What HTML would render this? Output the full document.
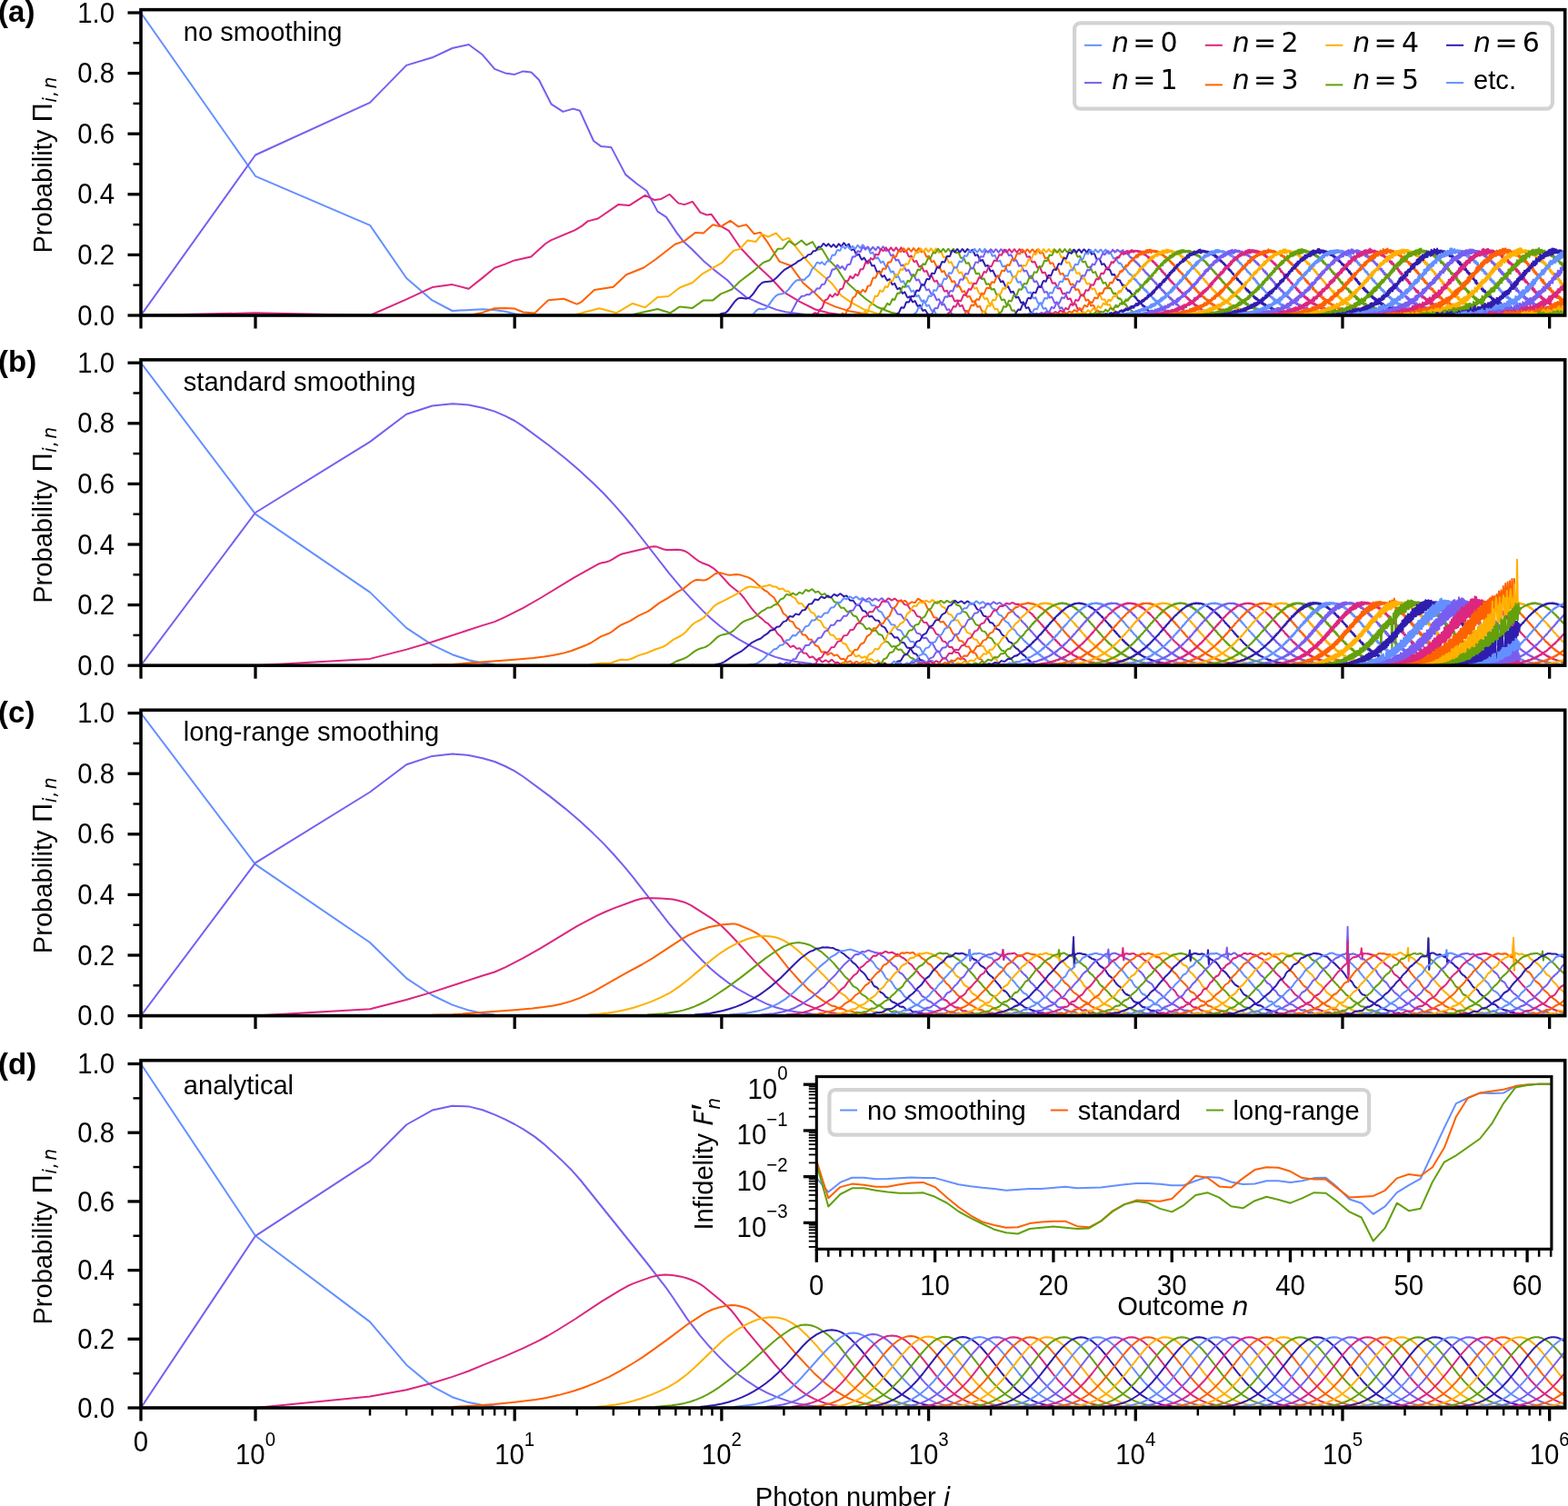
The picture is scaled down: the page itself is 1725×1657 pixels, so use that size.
<!DOCTYPE html>
<html><head><meta charset="utf-8"><title>Photon number probabilities</title>
<style>html,body{margin:0;padding:0;background:#fff;overflow:hidden}svg{display:block}</style>
</head><body>
<svg width="1725" height="1657" viewBox="0 0 1725 1657"><rect x="0" y="0" width="1725" height="1657" fill="#fff"/>
<defs>
<clipPath id="clip0"><rect x="155.0" y="10.67" width="1566.70" height="336.33"/></clipPath>
<clipPath id="clip1"><rect x="155.0" y="395.87" width="1566.70" height="336.33"/></clipPath>
<clipPath id="clip2"><rect x="155.0" y="781.27" width="1566.70" height="336.33"/></clipPath>
<clipPath id="clip3"><rect x="155.0" y="1166.71" width="1566.70" height="382.29"/></clipPath>
<clipPath id="clipi"><rect x="898.3" y="1184.6" width="808.60" height="189.70"/></clipPath>
</defs>
<g clip-path="url(#clip0)" fill="none" stroke-width="2.0" stroke-linejoin="round" stroke-linecap="butt">
<path d="M155.0 14.0l126 179.8 126 54 40.1 58.2 28.4 24.4 22.1 11.6 33.3-1.7 13.2 .7 11.6 1.7 10.5 2.6 9.4 1.7" stroke="#648FFF"/>
<path d="M155.0 347.0l126-176.5 126-57.6 40.1-41 28.4-8.6 22.1-10.3 18-4 15.3 11.3 13.2 15.6 11.6 4.5 10.5 1.5 9.4-3.5 8.6 1.1 .8 .5 8 8 13.6 26.7 12.8 8.2 11.2-3.3 7.2 2.1 15.2 33.3 8 5.9 11.2 1.2 .8 1 15.2 29 12.8 10.4 10.4 7.5 12 22.6 9.6 6.3 11.2 16.7 7.2 9.6 10.4 9.6 12 12.1 12 10.2 14.4 11.1 7.2 7.8 12.8 10.4 .8 .7 16.8 7.4 16 6.1 10.4 2.7 21.6 2.7" stroke="#785EF0"/>
<path d="M155.0 347.0l126-2.7 126 2.7 40.1-17.6 28.4-13.3 22.1-3 18 4.6 15.3-12.1 13.2-10.8 11.6-4.2 10.5-4.2 18-4 16-14.4 6.4-3.9 25.6-10.8 8-4.7 6.4-5.2 11.2-2.9 22.4-15.4 12 1 17.6-11.2 10.4 5.2 7.2-1.2 8.8-4.9 .8 .3 8.8 8.8 .8 .5 6.4 1.5 8.8-3.2 8.8 12 6.4 2.4 .8 .1 4.8-.6 8.8 12 10.4 6.1 12.8 18.9 16.8 17.7 17.6 16.5 13.6 14.7 17.6 10.4 16.8 8.4 14.4 3.8 12 1.8" stroke="#DC267F"/>
<path d="M515.6 347.0l15.3-3.1 13.2-4.6 11.6-.3 10.5 .6 9.4 3.9 12.6 1.1 14.4-13.9 .8-.4 16.8-1.6 14.4 5.9 .8-.2 4.8-2.6 13.6-12.7 20.8-3.4 14.4-13.4 19.2-7.8 13.6-9.5 20.8-16.2 10.4-3.7 12-9.2 8.8 .5 10.4-9.2 8.8 2.2 10.4-6.6 8.8 6.6 8.8-2.2 8.8 10.2 6.4-1.6 .8 .6 8 11 12 19.6 .8 .9 12 4.4 13.6 18.9 12 10.2 10.4 10.3 12.8 5.7 16.8 5.2 20 3.4" stroke="#FE6100"/>
<path d="M633.0 346.2l26.4-7 18.4 5 .8 0 16.8-10.1 .8-.1 12.8 4.1 .8 .1 13.6-11.1 12-1.1 12.8-9.8 13.6-5.2 10.4-9.3 22.4-12.9 12-12.6 .8-.6 6.4-1.5 8.8-9.7 8.8 1.6 6.4-7.9 .8-.5 6.4 3 8.8-4.1 7.2 7.9 6.4-2.5 .8 .4 4.8 6.4 10.4 12.9 10.4 12 20.8 17.6 10.4 13.5 .8 .7 9.6 6.7 14.4 8.1 15.2 4.8 8 1.1" stroke="#FFB000"/>
<path d="M696.2 346.1l27.2-6.1 13.6 4.2 .8-.1 9.6-6.5 .8-.2 13.6 1.5 12-8.5 10.4 0 8.8-7 12-4.9 8.8-8.7 13.6-10.4 12-10.2 .8-.5 6.4-2.5 .8-.7 8-11.3 .8-.5 4.8-.1 6.4-8 .8-.3 6.4 4.3 .8-.3 6.4-4.8 4.8 4.8 .8 .2 6.4-3.4 4.8 7.8 .8 .8 4.8-.9 7.2 11.7 8.8 8.9 8.8 13.9 11.2 10.2 12 10.3 12.8 8.9 15.2 6 10.4 2.3" stroke="#63A00C"/>
<path d="M790.6 346.3l2.4-1 4.8-1.2 1.6-.8 2.4-2.6 6.4-8.8 2.4-2.4 1.6-1.1 1.6-.5 1.6-.1 4.8 .6 1.6 0 1.6-.4 1.6-.9 3.2-3.3 6.4-9.1 3.2-3.1 1.6-.9 1.6-.5 7.2-.6 3.2-1.5 3.2-2.8 5.6-5.9 3.2-2.8 12-6.9 2.4-2.2 3.2-1.4 2.4-2.2 3.2-.8 2.4-2.7 3.2-.8 2.4-3.3 2.4-.3 .8-.4 2.4-3.9 .8-.1 1.6 .2 .8-.3 2.4-3.5 .8 .4 1.6 1.8 .8 .5 2.4-2.4 2.4 2.9 .8 .5 2.4-2.8 2.4 2.8 .8 .3 2.4-3.6 .8 .5 1.6 2 .8 .2 2.4-3.8 .8 .6 1.6 2.2 .8 .5 2.4-2.1 2.4 5.4 .8 1.3 2.4-1 2.4 5.4 .8 1.2 2.4-1.1 2.4 5 .8 1 2.4-2.1 2.4 4 .8 .8 2.4-2.1 3.2 6.3 2.4-.6 2.4 6 .8 1.4 2.4-.9 2.4 5.2 .8 1 2.4-1.6 2.4 4.6 .8 1 2.4-1.6 2.4 4.9 .8 1.1 2.4-1.3 2.4 5.2 .8 1.1 2.4-1.3 2.4 5 .8 1.1 2.4-1.5 2.4 5.1 .8 1 2.4-1.3 2.4 5.1 .8 1.1 2.4-1.4 2.4 5 .8 1.1 2.4-1.4 2.4 5.1 .8 1.1 1.6-.8 .8-.1 2.4 3.8 .8 .7 1.6 .6" stroke="#2F1DAF"/>
<path d="M828.2 346.1l4-4.5 1.6-1.2 1.6-.6 3.2 .5 1.6 0 2.4-1.1 2.4-2.5 5.6-7.9 2.4-2.7 1.6-1.2 1.6-.8 5.6-1.2 2.4-1.2 3.2-3.1 4.8-6.3 4-3.8 1.6-.4 1.6 .1 2.4-.7 3.2 .4 2.4-2.7 2.4-1.8 .8-1 2.4-5.6 .8-1.1 2.4-2.3 2.4-4.5 .8-.2 2.4 1.4 2.4-1.7 2.4 2.5 .8 .4 2.4-3.8 .8-.2 1.6 .2 .8-.5 2.4-6 .8-.5 1.6 .3 .8-.3 2.4-5.4 .8-.2 1.6 .9 .8 0 2.4-4.9 .8 .2 2.4 2.4 2.4-3 .8 .7 1.6 2.5 .8 .6 2.4-3.4 .8 .5 1.6 2 .8 .4 2.4-3.9 .8 .5 1.6 2 .8 .5 2.4-3.5 .8 .6 2.4 3.4 2.4-1.5 3.2 6.8 2.4-.9 3.2 6.7 2.4-1.3 3.2 5.9 2.4-1.6 3.2 6.1 2.4-1 3.2 6.9 2.4-1 3.2 6.7 2.4-1.2 3.2 6.4 2.4-1.2 3.2 6.4 2.4-1.1 3.2 6.4 2.4-1.2 3.2 6.5 2.4-1.2 3.2 6.5 2.4-1.2 3.2 6.5 2.4-1.2 3.2 6.5 .8-.5 1.6-.1 2.4 3.8 1.6 1" stroke="#648FFF"/>
<path d="M868.2 346.3l1.6-1.4 7.2-13.6 4.8-5.3 .8-.3 2.4-.1 2.4-1.6 3.2 .2 2.4-2.7 3.2-.4 2.4-3.6 .8-.2 1.6 .2 .8-.2 2.4-4.2 .8-.3 1.6 0 .8-.6 2.4-6 .8-.7 1.6-.8 .8-.9 2.4-6.9 .8-.6 1.6 .1 .8-.3 2.4-4.5 .8 .5 2.4 3.2 2.4-2.3 2.4 3.4 .8 .4 2.4-5.3 .8-.4 1.6-.1 .8-.8 2.4-7.3 .8-.6 1.6 .2 .8-.4 2.4-5.8 .8-.1 1.6 1 .8-.1 2.4-5.2 .8 .2 1.6 1.9 .8 .6 2.4-3.1 .8 .7 1.6 2.5 .8 .5 2.4-3.4 .8 .6 1.6 2.2 .8 .5 2.4-3.6 .8 .6 1.6 2.2 .8 .5 2.4-3.5 .8 .8 2.4 4 2.4-1.2 3.2 6.5 2.4-1.2 3.2 6.5 2.4-1 3.2 6.7 2.4-.9 3.2 6.5 2.4-1.2 3.2 6.4 2.4-1.2 3.2 6.6 2.4-1.1 3.2 6.5 2.4-1.1 3.2 6.5 2.4-1.1 3.2 6.5 2.4-1.1 3.2 6.5 2.4-1.1 3.2 6.5 2.4-1.1 3.2 6.5 2.4-.8 2.4 4.3 .8 .8 2.4 1.1" stroke="#785EF0"/>
<path d="M893.8 346.1l2.4-1.8 .8 0 1.6 .6 .8 0 .8-.9 1.6-3.3 2.4-1.8 .8-1.4 2.4-6.9 .8-.6 1.6-.5 .8-.7 2.4-4.6 2.4 2.2 .8 .1 2.4-3.5 2.4 2 .8-.5 2.4-6.2 2.4-.6 .8-1.2 2.4-7.3 .8-.1 1.6 .3 .8-.6 2.4-5 2.4 2.4 .8-.1 2.4-4.4 2.4 1.5 .8-.6 2.4-6.3 2.4 0 .8-1 2.4-6.4 2.4 .9 .8-.5 2.4-5.2 2.4 1.5 .8-.5 2.4-5.5 2.4 1 .8-.6 2.4-5.8 .8 .3 1.6 1.4 .8-.1 2.4-3.5 2.4 3.3 .8 .1 2.4-3.4 2.4 3.4 .8 .1 2.4-3.4 2.4 3.3 .8 .1 2.4-3.4 2.4 4.1 .8 .7 2.4-1.1 2.4 5.6 .8 .9 2.4-1.1 2.4 5.7 .8 .9 2.4-1.1 2.4 5.6 .8 .9 2.4-1.1 2.4 5.6 .8 .9 2.4-1 2.4 5.6 .8 .9 2.4-1.1 2.4 5.6 .8 .9 2.4-1.1 2.4 5.6 .8 .9 2.4-1.1 2.4 5.7 .8 .9 2.4-1.1 2.4 5.6 .8 .9 2.4-1.1 2.4 5.6 .8 .9 2.4-1.1 2.4 5.7 .8 .9 2.4-1.1 2.4 5.6 .8 .8 .8-.3 1.6 .2 1.6 2.7 1.6 1.4" stroke="#DC267F"/>
<path d="M925.0 346.2l1.6-1.4 .8 0 2.4 2.2 2.4-6.3 .8-.9 1.6-1.1 .8-1.2 2.4-9 .8-1.2 2.4-1.4 2.4-5.9 .8 .1 1.6 1.8 .8 .5 2.4-3.6 .8 .4 1.6 1.7 .8 0 2.4-5.9 .8-.5 1.6-.2 .8-.7 2.4-7.3 .8-.7 1.6 .2 .8-.4 2.4-5.7 .8 0 1.6 1.1 .8 0 2.4-5.3 .8-.1 1.6 .5 .8-.4 2.4-6.6 .8-.5 1.6 .1 .8-.4 2.4-6.1 .8-.2 1.6 .7 .8-.2 2.4-5.8 .8-.3 1.6 .8 .8 .1 2.4-3.9 .8 .6 1.6 2.3 .8 .5 2.4-3.4 .8 .5 1.6 2.3 .8 .6 2.4-3.5 .8 .6 1.6 2.3 .8 .6 2.4-3.5 .8 .6 2.4 3.7 2.4-1.3 3.2 6.6 2.4-1.1 3.2 6.6 2.4-1.1 3.2 6.6 2.4-1.1 3.2 6.6 2.4-1.1 3.2 6.6 2.4-1 3.2 6.5 2.4-1 3.2 6.5 2.4-1 3.2 6.6 2.4-1.1 3.2 6.6 2.4-1.1 3.2 6.6 2.4-1.1 3.2 6.6 2.4-1 2.4 5.1 .8 1.1 .8-.2 1.6 .4 2.4 3.1" stroke="#FE6100"/>
<path d="M946.6 346.1l2.4-.7 2.4-2.6 1.6 1.1 .8 .3 .8-.9 2.4-7.3 2.4-1.2 .8-1.4 2.4-7.6 .8-.1 1.6 .2 .8-.8 2.4-5.6 2.4 1.5 .8-.5 2.4-5.4 2.4 .9 .8-.8 2.4-6.4 2.4 .3 .8-.9 2.4-6.3 2.4 .7 .8-.7 2.4-5.8 2.4 .8 .8-.7 2.4-6 2.4 .5 .8-.8 2.4-6.1 2.4 .6 .8-.8 2.4-6.1 2.4 .7 .8-.5 2.4-4.3 2.4 3.3 .8 .1 2.4-3.4 2.4 3.3 .8 .1 2.4-3.4 2.4 3.3 .8 .1 2.4-3.4 2.4 3.9 .8 .6 2.4-1.1 2.4 5.7 .8 .9 2.4-.9 2.4 5.7 .8 .9 2.4-.9 2.4 5.7 .8 .9 2.4-1 2.4 5.8 .8 .9 2.4-1 2.4 5.8 .8 .9 2.4-1 2.4 5.8 .8 .9 2.4-1 2.4 5.8 .8 .9 2.4-1 2.4 5.8 .8 .9 2.4-1 2.4 5.8 .8 .9 2.4-1 2.4 5.7 .8 1 2.4-1 2.4 5.7 .8 1 2.4-.7 2.4 4.7 3.2 2" stroke="#FFB000"/>
<path d="M966.6 346.2l1.6-1.5 2.4-5.2 .8-.3 .8 0 .8 .4 3.2-5.9 2.4 1.7 .8-1.2 2.4-5.2 2.4 .8 3.2-7.4 2.4 .3 3.2-7.5 2.4 .6 3.2-7 2.4 .9 3.2-6.9 2.4 .8 3.2-7.1 2.4 .8 3.2-7 2.4 .7 3.2-7 2.4 .7 3.2-7 2.4 .9 2.4-4 .8-.8 2.4 3.4 .8-.4 1.6-2.3 .8-.7 2.4 3.4 .8-.4 1.6-2.3 .8-.7 2.4 3.4 .8-.4 1.6-2.3 .8-.7 2.4 4.3 .8 .2 1.6-.6 .8 .1 2.4 5.9 .8 .4 1.6-.7 .8 .1 2.4 5.9 .8 .4 1.6-.6 .8 .1 2.4 5.9 .8 .4 1.6-.6 .8 .1 2.4 5.9 .8 .4 1.6-.7 .8 .1 2.4 5.9 .8 .4 1.6-.6 .8 .1 2.4 5.9 .8 .4 1.6-.6 .8 .1 2.4 5.9 .8 .4 1.6-.7 .8 .1 2.4 5.9 .8 .4 1.6-.6 .8 .1 2.4 5.9 .8 .4 1.6-.7 .8 .2 2.4 5.9 .8 .3 1.6-.6 .8 .1 2.4 5.9 .8 .4 1.6-.3 .8 .5 1.6 2.9 .8 1 .8 .4" stroke="#63A00C"/>
<path d="M985.8 346.1l3.2-2.2 2.4-5.4 .8-.3 1.6 .6 .8-.3 2.4-6.1 .8-.2 1.6 .4 .8-.4 2.4-6.1 .8-.3 1.6 .5 .8-.4 2.4-6.2 .8-.2 1.6 .5 .8-.4 2.4-6.2 .8-.2 1.6 .5 .8-.4 2.4-6.2 .8-.2 1.6 .5 .8-.4 2.4-6.2 .8-.2 1.6 .5 .8-.4 2.4-6.2 .8-.2 1.6 .5 .8-.4 2.4-6.2 .8-.2 1.6 .5 .8-.4 2.4-6.2 .8-.2 1.6 .5 .8-.4 2.4-6.1 .8-.1 1.6 1.5 .8 .3 2.4-3.4 .8 .6 1.6 2.3 .8 .5 2.4-3.4 .8 .6 1.6 2.3 .8 .5 2.4-3.4 .8 .6 1.6 2.3 .8 .5 2.4-2.6 3.2 6.4 2.4-1 3.2 6.8 2.4-1 3.2 6.8 2.4-1 3.2 6.7 2.4-.9 3.2 6.7 2.4-.9 3.2 6.7 2.4-.9 3.2 6.7 2.4-.9 3.2 6.7 2.4-.9 3.2 6.7 2.4-.9 3.2 6.7 2.4-1 3.2 6.8 2.4-1 2.4 5.1 .8 .9 1.6 .5 1.6 1.5" stroke="#2F1DAF"/>
<path d="M1004.2 346.5l4-2.9 2.4-5.6 2.4 .7 .8-.9 2.4-6.1 2.4 .7 .8-.9 2.4-6.1 2.4 .7 .8-.9 2.4-6.1 2.4 .7 .8-1 2.4-6 2.4 .7 .8-1 2.4-6 2.4 .7 .8-1 2.4-6.1 2.4 .8 .8-1 2.4-6.1 2.4 .8 .8-1 2.4-6.1 2.4 .7 .8-.9 2.4-6.1 2.4 .7 .8-.9 2.4-5.9 2.4 2.3 .8-.1 2.4-3.4 2.4 3.5 .8-.1 2.4-3.4 2.4 3.5 .8-.1 2.4-3.4 2.4 3.5 .8 0 2.4-2.2 2.4 5.8 .8 .8 2.4-.9 2.4 5.9 .8 .8 2.4-.9 2.4 5.9 .8 .8 2.4-.9 2.4 5.9 .8 .8 2.4-.9 2.4 5.9 .8 .8 2.4-.9 2.4 5.9 .8 .8 2.4-.9 2.4 5.9 .8 .8 2.4-.9 2.4 5.9 .8 .8 2.4-.9 2.4 5.9 .8 .8 2.4-.9 2.4 5.9 .8 .8 2.4-.9 2.4 5.9 .8 .8 2.4-.8 2.4 5.1 3.2 2" stroke="#648FFF"/>
<path d="M1022.6 346.5l3.2-1.8 2.4-5 .8-.8 1.6 .4 .8 0 2.4-6.1 .8-.6 1.6 .4 .8 0 2.4-6.1 .8-.7 1.6 .5 .8 0 2.4-6.1 .8-.7 1.6 .5 .8 0 2.4-6.1 .8-.7 1.6 .5 .8 0 2.4-6.2 .8-.6 1.6 .5 .8 0 2.4-6.2 .8-.6 1.6 .5 .8 0 2.4-6.2 .8-.6 1.6 .5 .8-.1 2.4-6.1 .8-.6 1.6 .5 .8-.1 2.4-6.1 .8-.6 1.6 .5 .8-.1 2.4-6.1 .8-.5 2.4 1.9 2.4-3.5 .8 .3 2.4 3.2 2.4-3.5 .8 .3 2.4 3.2 2.4-3.5 .8 .3 2.4 3.2 2.4-2.9 .8 .8 2.4 5.5 2.4-.9 .8 1.1 2.4 5.6 2.4-.9 .8 1.1 2.4 5.6 2.4-.9 .8 1.1 2.4 5.6 2.4-.9 .8 1.1 2.4 5.6 2.4-.9 .8 1.1 2.4 5.6 2.4-.9 .8 1.1 2.4 5.6 2.4-.9 .8 1.1 2.4 5.6 2.4-.9 .8 1.1 2.4 5.6 2.4-.9 .8 1.1 2.4 5.6 2.4-.9 .8 1.1 2.4 5.6 2.4-.9 3.2 5.9 1.6 .5 1.6 1.3" stroke="#785EF0"/>
<path d="M1041.8 346.2l2.4-2.5 1.6-.3 3.2-6.5 2.4 .7 3.2-7 2.4 .7 3.2-7.1 2.4 .8 3.2-7.1 2.4 .8 3.2-7.1 2.4 .7 3.2-7 2.4 .7 3.2-7 2.4 .7 3.2-7 2.4 .7 3.2-7 2.4 .7 3.2-7 2.4 .7 2.4-5.3 .8-.9 2.4 3.1 .8-.7 1.6-2.3 .8-.5 2.4 3.5 .8-.7 1.6-2.3 .8-.5 2.4 3.5 .8-.7 1.6-2.3 .8-.5 2.4 3.6 2.4-1.4 .8 .3 2.4 5.9 .8 .2 1.6-.6 .8 .3 2.4 5.9 .8 .2 1.6-.6 .8 .3 2.4 5.9 .8 .2 1.6-.6 .8 .3 2.4 5.9 .8 .2 1.6-.6 .8 .3 2.4 5.9 .8 .2 1.6-.6 .8 .3 2.4 5.9 .8 .2 1.6-.6 .8 .3 2.4 5.9 .8 .2 1.6-.6 .8 .3 2.4 5.9 .8 .2 1.6-.6 .8 .3 2.4 5.9 .8 .2 1.6-.7 .8 .4 2.4 5.9 .8 .2 1.6-.7 .8 .4 2.4 5.9 .8 .2 1.6-.5 .8 .6 2.4 4.4 1.6 .8" stroke="#DC267F"/>
<path d="M1060.2 346.5l1.6-1.6 1.6-2.5 .8-.3 1.6 .4 2.4-6.1 .8-.9 2.4 .7 2.4-6.1 .8-.9 2.4 .7 2.4-6.1 .8-.9 2.4 .7 2.4-6.1 .8-.9 2.4 .7 2.4-6.2 .8-.9 2.4 .8 2.4-6.2 .8-.9 2.4 .8 2.4-6.2 .8-.9 2.4 .7 2.4-6.1 .8-.9 2.4 .7 2.4-6.1 .8-.9 2.4 .7 2.4-6.1 .8-.9 2.4 .8 2.4-4.9 .8-.1 2.4 3.4 2.4-3.4 .8 0 2.4 3.4 2.4-3.4 .8 0 2.4 3.4 2.4-3.4 .8 0 2.4 4.3 2.4-1.2 .8 .9 2.4 5.9 2.4-1 .8 .8 2.4 6 2.4-1 .8 .8 2.4 6 2.4-1 .8 .8 2.4 6 2.4-1 .8 .8 2.4 5.9 2.4-.9 .8 .8 2.4 5.9 2.4-.9 .8 .8 2.4 5.9 2.4-.9 .8 .8 2.4 5.9 2.4-.9 .8 .8 2.4 5.9 2.4-.9 .8 .8 2.4 5.9 2.4-.8 .8 .7 2.4 5.9 .8-.4 1.6-.1 2.4 3.8 .8 .6" stroke="#FE6100"/>
<path d="M1078.6 346.6l1.6-1.7 .8-1.4 1.6-.8 .8 .1 .8-.8 2.4-5.9 2.4 .7 .8-1.1 2.4-5.9 2.4 .7 .8-1.1 2.4-5.9 2.4 .7 .8-1.1 2.4-6 2.4 .8 .8-1.1 2.4-6 2.4 .8 .8-1.1 2.4-6 2.4 .7 .8-1 2.4-6 2.4 .7 .8-1 2.4-6 2.4 .7 .8-1 2.4-6 2.4 .7 .8-1 2.4-6 2.4 .7 .8-1 2.4-4.9 2.4 3.3 .8-.1 2.4-3.3 2.4 3.4 .8-.1 2.4-3.3 2.4 3.4 .8-.1 2.4-3.3 2.4 3.8 .8 .2 1.6-.9 .8-.1 2.4 5.9 .8 .6 2.4-.7 2.4 5.9 .8 .6 2.4-.7 2.4 5.9 .8 .6 2.4-.7 2.4 5.9 .8 .6 2.4-.7 2.4 5.9 .8 .6 2.4-.7 2.4 5.9 .8 .6 2.4-.8 2.4 6 .8 .6 1.6-.7 .8 0 2.4 5.8 .8 .8 .8-.5 1.6-.4 2.4 6 1.6 .5 .8-.5 .8 .3 1.6 3.6 1.6 2.5 .8-.5 .8 .3 .8-.4 2.4 5.6 1.6 .8 .8-.3 1.6 1.6 .8 1.9 1.6 1.4" stroke="#FFB000"/>
<path d="M1097.0 346.6l2.4-2.5 1.6-.5 .8-.6 2.4-5.9 2.4 .6 .8-.7 2.4-6.2 2.4 .6 .8-.7 2.4-6.2 2.4 .6 .8-.8 2.4-6.1 2.4 .6 .8-.8 2.4-6.1 2.4 .6 .8-.8 2.4-6.1 2.4 .6 .8-.8 2.4-6.1 2.4 .6 .8-.8 2.4-6.1 2.4 .6 .8-.8 2.4-6.1 2.4 .5 .8-.7 2.4-6.1 2.4 .5 .8-.7 2.4-5.6 .8 .6 1.6 2.1 .8 .1 2.4-3.4 2.4 3.3 .8 .1 2.4-3.4 2.4 3.3 .8 .1 2.4-3.4 2.4 3.3 .8 .4 2.4-1.7 2.4 5.7 .8 1 2.4-.9 2.4 5.7 .8 1 2.4-.9 2.4 5.7 .8 1 2.4-.9 2.4 5.7 .8 1 2.4-1 2.4 5.8 .8 .8 2.4-.5 3.2 6.5 .8-.5 .8 .1 .8-.4 2.4 5.5 1.6 1 .8-.6 .8 .4 .8 1.1 .8 2.3 1.6 2.6 .8-.7 .8 .7 .8-.5 2.4 5.3 .8 .1 .8 .9 .8-.7 .8 1.2 .8 .5 .8 2.4 .8 .4 .8 1.6 .8-.3 .8 1 .8-.5 .8 2.4 .8 .1 .8 2.1 .8-.2 .8 1.5 .8-.4 .8 1.5 .8 .1 .8 2.1 .8 0 .8 1.6 .8 .1 .8 .9" stroke="#63A00C"/>
<path d="M1115.4 346.1l1.6-.5 3.2-5.2 2.4 .5 2.4-6 .8-.9 2.4 .8 2.4-6.1 .8-.9 2.4 .8 2.4-6.1 .8-.9 2.4 .7 2.4-6.1 .8-.9 2.4 .8 2.4-6.2 .8-.9 2.4 .8 2.4-6.2 .8-.9 2.4 .8 2.4-6.2 .8-.9 2.4 .7 2.4-6.1 .8-.9 2.4 .8 2.4-6.1 .8-.9 2.4 .7 2.4-6.1 .8-.8 2.4 1.2 2.4-4.2 .8 0 2.4 3.3 2.4-3.4 .8 0 2.4 3.3 2.4-3.4 .8 0 2.4 3.4 2.4-3.3 .8 .2 2.4 5 2.4-1.1 .8 .9 2.4 5.7 2.4-.7 .8 .6 2.4 5.8 2.4-.8 1.6 2.6 1.6 3.6 .8 .2 .8-.5 1.6 .8 2.4 5.6 .8-.5 .8 .4 .8-.5 1.6 2.4 .8 2.2 .8 1 .8 .7 .8-.4 .8 .7 .8 .1 .8 2.3 .8 .7 .8 2.3 .8-.5 .8 1 .8-.5 .8 1.6 .8 .7 .8 1.9 .8 .5 .8 1.5 .8-.9 .8 1.7 .8-.5 .8 2.3 .8 .2 .8 2.5 .8-1.1 .8 1.8 .8-.7 .8 2.4 .8-.5 .8 2.5 .8-.2 .8 1.9 .8-.8 .8 2.1 .8-.3 .8 2 .8-.3 .8 2.4 .8-.7 .8 1.9 .8-.8 .8 2.5 .8-.5 .8 1.9 .8-.6 .8 2.4 .8-.5 .8 2.3 .8-.6 .8 1.5 .8-.1 .8 1.1" stroke="#2F1DAF"/>
<path d="M1120.2 346.1l1.6-.2 2.4 .3 2.4-.7 3.2 .5 2.4-1 3.2-.2 2.4-4.5 .8-.6 1.6 .5 .8 0 2.4-5.9 .8-.5 1.6 .7 .8-.1 2.4-6 .8-.4 1.6 .5 .8-.1 2.4-6 .8-.5 1.6 .6 .8-.1 2.4-6.1 .8-.5 1.6 .5 .8-.1 2.4-6.1 .8-.5 1.6 .4 .8-.1 2.4-6.1 .8-.5 1.6 .4 .8-.1 2.4-6.1 .8-.5 1.6 .5 .8-.2 2.4-6.1 .8-.5 1.6 .5 .8-.1 2.4-6 .8-.5 1.6 .5 .8-.1 2.4-6 .8-.4 2.4 .8 2.4-4.3 .8 .2 2.4 2.9 2.4-3.7 1.6 1.4 .8 1.3 .8 .5 2.4-3 .8 0 .8 1.3 1.6 1.8 2.4-3.2 1.6 1.7 .8 1.9 .8 .7 .8 .3 .8-.6 1.6 .9 .8 2.1 .8 1 .8 1.9 .8-.6 .8 .5 .8-.4 .8 1.6 .8 .9 .8 2 1.6 1.5 .8-.7 .8 1.1 .8 .3 .8 2.2 .8 .7 .8 2.1 .8-.6 .8 1.2 .8-.8 .8 2 .8 .5 .8 1.9 .8 .3 .8 1.4 .8-.4 .8 1.4 .8 .1 .8 2 .8 .4 .8 2.1 .8-.8 .8 2 .8-.8 .8 2.3 .8-.1 .8 2.1 .8-.2 .8 2.1 .8-1.1 .8 2.4 .8-.3 .8 2.3 .8-.9 .8 2.8 .8-.9 .8 2.4 .8-1.1 .8 2.3 .8-.5 .8 2.4 .8-.6 .8 2 .8-.5 .8 2.1 .8-.2 .8 2.2 .8-.8 .8 2.4 .8-1 .8 2.7 .8-1.2 .8 2.3 .8-.2 .8 2.2 .8-.9 .8 2.5 .8-1.1 .8 2.3 .8-.8 .8 2.7 .8-.9 .8 2.3 .8-1.2 .8 2.3 .8-.5 .8 2.6 .8-1.2 .8 2 .8-.5 .8 1.2 .8-.6 .8 .9 .8-.9 .8 1 .8-.7 .8 .7 .8-.6 .8 .6 .8-.6 .8 .7 .8-.5 .8 .6" stroke="#648FFF"/>
<path d="M1128.2 346.1l.8-.2 2.4 .3 3.2-.8 2.4 .5 3.2-1.1 2.4 .7 .8-.2 2.4-1.4 2.4 1 .8-.3 2.4-1.9 2.4 .8 .8-.7 2.4-5 2.4 1.3 .8-1.1 2.4-5.4 2.4 1.2 .8-1.1 2.4-5.5 2.4 1 .8-1.1 2.4-5.6 2.4 .8 .8-1.1 2.4-5.7 2.4 .8 .8-1.2 2.4-5.8 2.4 .8 .8-1.2 2.4-5.8 2.4 .7 .8-1.2 2.4-5.8 2.4 .7 .8-1.2 2.4-5.8 2.4 .9 3.2-6.7 .8 0 .8 .6 .8-.1 .8-.7 2.4-5.7 .8 .9 .8-.5 .8 1.1 1.6-2.1 .8-1.9 1.6 0 .8 1.5 1.6 .3 .8-1.7 .8 0 .8-1.8 .8 1.6 .8-.2 .8 1.7 .8-1.3 .8 .2 .8-1.9 .8 .7 .8 .1 .8 1.3 .8-.2 .8 .8 .8-1.3 .8 .1 .8-1.2 .8 2 .8 .1 .8 1.9 .8-.8 .8 1.1 .8-.6 .8 1.5 .8-.1 .8 2.4 .8-.1 .8 1.5 .8-.6 .8 1.5 .8-.7 .8 2.6 .8-.5 .8 2.2 .8-.5 .8 1.9 .8-.4 .8 2 .8-.6 .8 2.4 .8-.2 .8 1.7 .8-.6 .8 2.5 .8-1 .8 2.5 .8-.2 .8 2.2 .8-.3 .8 1.8 .8-.5 .8 2.2 .8-.3 .8 2.6 .8-1 .8 2.6 .8-.8 .8 2.4 .8-.5 .8 2.1 .8-.6 .8 2.7 .8-1.1 .8 2.6 .8-.5 .8 1.9 .8-.1 .8 2 .8-.4 .8 2.2 .8-.5 .8 2.1 .8-.9 .8 2.8 .8-.9 .8 2.7 .8-1 .8 2.1 .8-.5 .8 2.1 .8-.5 .8 2.3 .8-1 .8 2.4 .8-1 .8 2.6 .8-1.1 .8 2.8 .8-.7 .8 2.2 .8-1.1 .8 2 .8-.6 .8 2.7 .8-1.1 .8 2.1 .8-1.2 .8 2.4 .8-.9 .8 2.7 .8-.9 .8 2.2 .8-1.4 .8 2.5 .8-1.5 .8 1.7 .8-1.4 .8 1.9 .8-1.5 .8 1.6 .8-1.2 .8 1.2 .8-1.1 .8 1.1 .8-.9 .8 1.2 .8-.9 .8 1 .8-.7 .8 .8 .8-.6 .8 .7 .8-.4 .8 .5 .8-.4 .8 .7 .8-.6 .8 .7 .8-.5 .8 .5" stroke="#785EF0"/>
<path d="M1142.6 346.2l1.6-.5 3.2 .3 2.4-.9 3.2 .5 2.4-1.4 3.2 .8 2.4-1.9 2.4 1 .8 .1 2.4-2.7 2.4 1.6 .8 0 2.4-4.1 .8 .3 1.6 1 .8-.3 2.4-5.4 2.4 1.2 .8-.4 2.4-5.5 2.4 1 .8-.5 2.4-5.7 2.4 .8 .8-.5 2.4-5.9 2.4 .7 .8-.6 2.4-6 1.6 .2 .8 .4 .8-.8 2.4-5.8 .8-.3 .8 .5 .8 0 .8-.4 2.4-6.3 .8 .3 .8-.4 .8 .8 1.6-2.7 .8-2.4 1.6-2 .8 .7 .8-.8 .8 .5 .8-2.9 .8-.7 .8-2.8 .8 1 .8-1.1 .8 .9 .8-1.7 .8-.1 .8-2.8 .8-.4 .8-1.4 .8 1.4 .8-1.7 .8 .8 .8-2.6 .8-.2 .8-2.6 .8 1.3 .8-1.2 .8 2.2 .8-1.8 .8 .9 .8-2.7 .8 .7 .8-1.4 .8 2.6 .8-2 .8 2.1 .8-2.7 .8 1.5 .8-2.3 .8 2.3 .8-1.7 .8 1.9 .8-1.7 .8 .9 .8-1 .8 .9 .8-.9 .8 1.5 .8-1.1 .8 1.5 .8-1.3 .8 1.6 .8-.8 .8 1.6 .8-.4 .8 2.1 .8-1.1 .8 1.8 .8-.7 .8 1.9 .8-.4 .8 2.2 .8-1.3 .8 2.6 .8-.9 .8 2 .8-.3 .8 2.1 .8-1.1 .8 2.6 .8-1 .8 2.7 .8-1 .8 2.5 .8-.7 .8 2.7 .8-.7 .8 2.1 .8-.7 .8 3 .8-1.1 .8 2.5 .8-.5 .8 2.2 .8-.7 .8 2.5 .8-.6 .8 2.8 .8-1.2 .8 2.9 .8-.8 .8 2.7 .8-.8 .8 2.3 .8-.8 .8 2.3 .8-.3 .8 2.2 .8-.9 .8 2.5 .8-.5 .8 2.4 .8-.6 .8 2.5 .8-.9 .8 2.5 .8-.7 .8 2.1 .8-.6 .8 2.7 .8-1.2 .8 2.6 .8-.8 .8 1.9 .8-.5 .8 2.4 .8-1.1 .8 2.3 .8-.8 .8 2.1 .8-.8 .8 2.5 .8-1.1 .8 2.3 .8-.7 .8 2.2 .8-.9 .8 2 .8-1.1 .8 2.8 .8-1.2 .8 2.5 .8-1.5 .8 2 .8-1.1 .8 2.7 .8-1.3 .8 1.7 .8-.8 .8 1.5 .8-1.1 .8 1.6 .8-1.2 .8 1.7 .8-1.5 .8 1.4 .8-1 .8 1.6 .8-1.2 .8 1.5 .8-1.3 .8 1.3 .8-1.1 .8 1.2 .8-.7 .8 .8 .8-.5 .8 1 .8-.9 .8 .7 .8-.6 .8 .9 .8-.7 .8 .7 .8-.4 .8 .6 .8-.4 .8 .5 .8-.4 .8 .4" stroke="#DC267F"/>
<path d="M1157.8 346.1l1.6-.4 3.2 .3 2.4-1 3.2 .5 2.4-1.4 3.2 .8 2.4-2.1 3.2 1.2 2.4-2.9 .8 .2 1.6 1.3 .8 .2 2.4-3.9 .8 .3 1.6 1.6 .8 .1 2.4-4.9 .8 .1 1.6 1.2 .8-.1 2.4-5.2 1.6 .5 .8 .7 .8-.3 2.4-5.2 .8-.2 .8 .6 1.6 .2 2.4-5.9 .8 .3 .8-.1 .8 .7 1.6-2.2 .8-2.5 .8-1.2 .8-.7 .8 .8 .8-.5 .8 0 2.4-5.8 .8 .2 .8-.9 .8 1.1 .8-1.7 .8-.5 .8-2.7 1.6-2.5 .8 1.4 .8-1.4 .8 .3 .8-2.6 .8-.6 .8-2.9 .8 1 .8-1.4 .8 .8 .8-1.8 .8-.3 .8-2.6 .8 .4 .8-2.7 .8 1.5 .8-1.8 .8 .7 .8-3.2 .8 1 .8-2.9 .8 .8 .8-1.8 .8 .9 .8-2.3 .8 1.5 .8-3.5 .8 .8 .8-2.6 .8 2.3 .8-3.3 .8 2.7 .8-3.7 .8 1.8 .8-2.8 .8 2.4 .8-2.9 .8 2.4 .8-3.4 .8 2.9 .8-2.8 .8 1.8 .8-3.1 .8 2.8 .8-3.1 .8 3.5 .8-3.7 .8 2.5 .8-2.4 .8 3.5 .8-2.9 .8 1.4 .8-1.2 .8 1.8 .8-1.6 .8 1.6 .8-1.5 .8 2 .8-1.3 .8 2 .8-1 .8 1.9 .8-1.4 .8 2.3 .8-1.3 .8 2.4 .8-1.2 .8 2.6 .8-1 .8 1.9 .8-.9 .8 2.7 .8-1 .8 1.9 .8-.3 .8 2.2 .8-.9 .8 2.6 .8-1 .8 2.7 .8-1.3 .8 2.5 .8-.3 .8 2.2 .8-.6 .8 2.4 .8-.9 .8 2.7 .8-.5 .8 2 .8-.6 .8 2.4 .8-.8 .8 2.6 .8-.4 .8 2.8 .8-1.2 .8 2.6 .8-.8 .8 3 .8-1 .8 2.6 .8-1 .8 2.9 .8-1 .8 2.9 .8-1 .8 2.9 .8-1.3 .8 2.8 .8-1.2 .8 3.1 .8-1.1 .8 2.8 .8-1 .8 2.3 .8-.9 .8 2.2 .8-.7 .8 2.5 .8-.7 .8 2.1 .8-1.1 .8 2.5 .8-.8 .8 2.2 .8-1 .8 2.2 .8-1 .8 2.3 .8-.4 .8 1.9 .8-1 .8 2.1 .8-1.3 .8 2.6 .8-1.5 .8 2.7 .8-1.5 .8 2.2 .8-.7 .8 2 .8-1 .8 2 .8-1.4 .8 2 .8-1.4 .8 1.9 .8-1.2 .8 1.9 .8-1.7 .8 2 .8-1.3 .8 1.6 .8-1.6 .8 2.1 .8-1.4 .8 1.6 .8-1.2 .8 1.7 .8-1.6 .8 1.7 .8-1.3 .8 1.8 .8-1.5 .8 1.4 .8-1.1 .8 1.3 .8-.8 .8 1.1 .8-1 .8 1.1 .8-.6 .8 .8 .8-.8 .8 .8 .8-.4 .8 .5 .8-.6 .8 .8 .8-.5 .8 .5 .8-.4 .8 .5" stroke="#FE6100"/>
<path d="M1173.0 346.2l1.6-.4 3.2 .2 2.4-.9 2.4 .6 .8-.1 2.4-1.4 2.4 .8 .8-.1 2.4-1.9 2.4 1.1 .8-.1 2.4-2.8 2.4 1.9 .8-.5 2.4-3.6 2.4 2.2 .8-.1 2.4-4.6 .8 1.1 .8 .2 .8 1.1 1.6-2.1 .8-2 .8-1 .8 0 .8 1.2 .8-.3 .8 .2 .8-2.2 .8-.8 .8-2.2 .8 1.1 .8-.7 .8 1.1 .8-1.6 .8-.3 .8-2.5 .8-.5 .8-1 .8 1 .8-.9 .8 .7 .8-2.9 .8-.4 .8-2.4 .8 1.3 .8-1.9 .8 1.5 .8-2.2 .8 0 .8-3.2 .8 .4 .8-2 .8 1.8 .8-2.1 .8 .3 .8-2.5 .8 .5 .8-3.6 .8 1.9 .8-2.5 .8 1.3 .8-3.4 .8 1.3 .8-3.8 .8 1.4 .8-3 .8 1.9 .8-2.6 .8 .7 .8-3 .8 1.4 .8-4 .8 2.4 .8-4 .8 1.5 .8-3.2 .8 1.9 .8-3.7 .8 1.9 .8-3.2 .8 2.1 .8-3.4 .8 1.3 .8-3.4 .8 1.7 .8-2.8 .8 1.8 .8-4.1 .8 2.3 .8-3.3 .8 2.4 .8-3 .8 2 .8-3.3 .8 1.5 .8-2.2 .8 2.4 .8-3.8 .8 2.4 .8-3.5 .8 3.4 .8-3.4 .8 1.8 .8-3.4 .8 3.6 .8-3.6 .8 2.7 .8-2.5 .8 2.3 .8-3.5 .8 3.9 .8-3.5 .8 2.7 .8-2.2 .8 1.7 .8-1.3 .8 1.9 .8-1.8 .8 1.8 .8-.8 .8 1.7 .8-1.5 .8 2.3 .8-1.3 .8 1.5 .8-.6 .8 1.6 .8-.6 .8 2 .8-1.4 .8 2.7 .8-1 .8 2 .8-1.3 .8 2.6 .8-.7 .8 2.2 .8-.8 .8 1.9 .8-.3 .8 2.3 .8-1.3 .8 3 .8-1.1 .8 2.8 .8-.9 .8 2.7 .8-1.1 .8 2.5 .8-.5 .8 2.4 .8-.5 .8 2.1 .8-.7 .8 2.9 .8-.7 .8 2.7 .8-.8 .8 2.3 .8-.2 .8 2.2 .8-.9 .8 3.1 .8-1 .8 2.4 .8-.6 .8 2.9 .8-1 .8 2.5 .8-.6 .8 2.4 .8-1 .8 3 .8-.8 .8 2.2 .8-1 .8 2.8 .8-1.2 .8 3 .8-.9 .8 2.2 .8-.7 .8 2.1 .8-1 .8 2.5 .8-1 .8 2.4 .8-1.1 .8 2.1 .8-1 .8 2.4 .8-1.3 .8 2.6 .8-1.1 .8 1.9 .8-.9 .8 2 .8-1.1 .8 2.7 .8-1.4 .8 2.4 .8-1.5 .8 2.2 .8-1.6 .8 2.6 .8-1.3 .8 1.9 .8-1.4 .8 2.5 .8-1.9 .8 2.1 .8-1.5 .8 2 .8-1.2 .8 1.7 .8-1 .8 1.5 .8-1.3 .8 2.2 .8-1.6 .8 1.7 .8-1.1 .8 1.4 .8-1.2 .8 1.8 .8-1.6 .8 1.7 .8-1.2 .8 1.2 .8-.9 .8 1.3 .8-.9 .8 1.2 .8-.8 .8 1 .8-1.1 .8 .9 .8-.6 .8 .9 .8-.7 .8 .7 .8-.6 .8 .7 .8-.3 .8 .6 .8-.6 .8 .6 .8-.5 .8 .6" stroke="#FFB000"/>
<path d="M1192.2 346.1l1.6-.5 3.2 .3 2.4-.9 3.2 .5 2.4-1.7 2.4 1.1 1.6-.7 .8-1 .8-.4 .8 0 .8 .8 .8-.1 .8 .2 .8-1.3 .8-.2 .8-1.6 .8 1 .8-.1 .8 1.4 .8-1.2 .8-.3 .8-2.1 1.6-.4 .8 1.3 .8-.2 .8 .5 .8-2.5 .8 .2 .8-2.5 .8 1.9 .8-1.2 .8 1.5 .8-1.5 .8-.2 .8-2.3 .8 .6 .8-1.4 .8 1.6 .8-1.3 .8 .4 .8-2.3 .8 .5 .8-2.6 .8 1.5 .8-1.5 .8 1.2 .8-2.5 .8 .7 .8-2.5 .8 .4 .8-1.8 .8 1.1 .8-1.8 .8 .7 .8-3 .8 1.7 .8-3.8 .8 1.6 .8-2.6 .8 2 .8-3 .8 1.3 .8-4 .8 1.6 .8-3 .8 2.2 .8-3.5 .8 1.1 .8-3.5 .8 1.6 .8-3.1 .8 2.3 .8-4.2 .8 2.5 .8-4 .8 2.1 .8-3.6 .8 1 .8-3 .8 2 .8-3.6 .8 1 .8-3.2 .8 1.9 .8-4.3 .8 2.2 .8-3.8 .8 2.1 .8-3.1 .8 1.2 .8-3.6 .8 2.1 .8-3.4 .8 2.7 .8-4.7 .8 2.2 .8-3.5 .8 2.7 .8-3.4 .8 1.7 .8-3.2 .8 2.2 .8-4.2 .8 2.6 .8-3.5 .8 2.7 .8-3.9 .8 3.1 .8-3.9 .8 2.4 .8-2.9 .8 1.8 .8-3.3 .8 2.7 .8-3.3 .8 2.7 .8-3 .8 2.9 .8-3.4 .8 2.8 .8-3.2 .8 2.6 .8-2.3 .8 2.3 .8-1.6 .8 1.3 .8-1.3 .8 1.7 .8-1.9 .8 2.3 .8-2.1 .8 2.4 .8-1.7 .8 2.4 .8-2 .8 2.5 .8-1.3 .8 2.2 .8-1.5 .8 2.5 .8-1.3 .8 1.8 .8-1 .8 2 .8-.9 .8 2.5 .8-1 .8 2.7 .8-1.1 .8 2.1 .8-.6 .8 1.9 .8-.7 .8 2.9 .8-1.1 .8 2.5 .8-.7 .8 2.3 .8-.7 .8 2.8 .8-.7 .8 2.4 .8-.5 .8 2.4 .8-.6 .8 2.4 .8-.6 .8 2.1 .8-.4 .8 2.4 .8-.6 .8 2.9 .8-1.2 .8 3 .8-.9 .8 2.8 .8-1 .8 2.5 .8-.6 .8 2.5 .8-.5 .8 2.6 .8-1.3 .8 3.1 .8-1.1 .8 2.6 .8-1.2 .8 3.1 .8-1.4 .8 2.6 .8-1 .8 3 .8-1.5 .8 2.7 .8-1.2 .8 2.4 .8-.6 .8 2.3 .8-1.3 .8 2.6 .8-.9 .8 2.4 .8-1.5 .8 2.3 .8-1.1 .8 2.5 .8-1.3 .8 2.7 .8-1.7 .8 2.5 .8-1.5 .8 2.6 .8-1.3 .8 2.2 .8-1.8 .8 2.8 .8-1.4 .8 2 .8-1.3 .8 1.8 .8-1.2 .8 2.2 .8-1.6 .8 2.3 .8-2 .8 2.5 .8-1.7 .8 1.8 .8-1.1 .8 2 .8-1.3 .8 1.9 .8-1.7 .8 1.7 .8-1.6 .8 1.9 .8-1.6 .8 2.3 .8-1.3 .8 1.5 .8-1.3 .8 1.6 .8-1.1 .8 1 .8-.9 .8 1.3 .8-.8 .8 .8 .8-.9 .8 1.3 .8-.8 .8 .8 .8-.8 .8 .8 .8-.5 .8 .8 .8-.7 .8 .6 .8-.3 .8 .5" stroke="#63A00C"/>
<path d="M1209.0 346.3l2.4-.5 2.4 .3 2.4-1 .8 .5 .8-.3 .8 .4 1.6-.3 .8-.9 .8 .2 .8-.6 .8 .9 .8-.4 .8 .6 .8-1.5 .8 .7 .8-1.5 .8 1.4 .8-1 .8 1 .8-1.1 .8 .7 .8-2 .8 .5 .8-1.2 .8 1.9 .8-1.6 .8 1.4 .8-2.4 .8 1.4 .8-2.5 .8 1.7 .8-1.8 .8 2.2 .8-2.2 .8 .7 .8-2.6 .8 1.9 .8-2.5 .8 2 .8-1.9 .8 1.8 .8-2.9 .8 .8 .8-2.7 .8 2.4 .8-2.2 .8 1.6 .8-3.2 .8 2 .8-2.7 .8 1.1 .8-2.6 .8 1.8 .8-2.5 .8 1.8 .8-3.3 .8 1.5 .8-2.4 .8 1.6 .8-3.9 .8 2.3 .8-2.8 .8 1.4 .8-2.9 .8 2.2 .8-4.2 .8 2.7 .8-4.2 .8 2.6 .8-3.8 .8 1.3 .8-3.8 .8 2.1 .8-2.9 .8 1.2 .8-3.8 .8 3.2 .8-3.7 .8 1.7 .8-3.9 .8 1.3 .8-3.3 .8 2.6 .8-3.8 .8 2 .8-3.9 .8 1.8 .8-4.1 .8 2.3 .8-4.4 .8 2.5 .8-4 .8 1.9 .8-3.6 .8 2 .8-4.1 .8 2.9 .8-3.8 .8 1.4 .8-4.1 .8 2.6 .8-3.2 .8 1.1 .8-3.3 .8 1.8 .8-2.7 .8 1.1 .8-3.4 .8 3.1 .8-3.7 .8 2.1 .8-3.4 .8 2 .8-4.3 .8 2.7 .8-3.6 .8 3.2 .8-4.5 .8 2.5 .8-2.6 .8 2.1 .8-2.9 .8 2.4 .8-3.8 .8 3.2 .8-2.9 .8 1.6 .8-2.2 .8 1.8 .8-3.1 .8 2.8 .8-3.2 .8 4 .8-3.1 .8 2.2 .8-2 .8 1.4 .8-1.2 .8 2 .8-1.6 .8 1.7 .8-1.4 .8 1.9 .8-1.5 .8 1.9 .8-1.3 .8 2.4 .8-1.8 .8 2.5 .8-1.3 .8 2.1 .8-1 .8 2.5 .8-1.8 .8 3 .8-1.7 .8 2.8 .8-.9 .8 2.3 .8-.8 .8 2.3 .8-.8 .8 2.2 .8-.8 .8 2.4 .8-.8 .8 2.8 .8-1.1 .8 2.3 .8-.8 .8 3.2 .8-1.2 .8 2.5 .8-.8 .8 2.6 .8-.5 .8 2.3 .8-.5 .8 2.4 .8-.2 .8 2.5 .8-.9 .8 3 .8-1.3 .8 2.8 .8-.8 .8 2.4 .8-.7 .8 2.6 .8-.9 .8 3 .8-.6 .8 2 .8-.4 .8 2.8 .8-1.1 .8 2.7 .8-1.5 .8 2.8 .8-1.1 .8 3 .8-1.4 .8 2.6 .8-.6 .8 2.2 .8-1.1 .8 2.9 .8-1.3 .8 2.7 .8-1.8 .8 2.4 .8-.9 .8 2.2 .8-1 .8 2.6 .8-1.3 .8 2.6 .8-1.7 .8 2.7 .8-1.6 .8 2.4 .8-1.4 .8 2.3 .8-1.1 .8 2.1 .8-1.6 .8 2.6 .8-1.4 .8 1.8 .8-1.4 .8 2.3 .8-1.2 .8 1.7 .8-.9 .8 2.1 .8-1.6 .8 1.7 .8-1.1 .8 1.4 .8-1.3 .8 2.5 .8-2.3 .8 2.5 .8-1.8 .8 2.5 .8-1.9 .8 2.1 .8-2.1 .8 2 .8-1.6 .8 2.3 .8-1.4 .8 1.5 .8-1.2 .8 1.1 .8-.8 .8 .8 .8-.6 .8 .9 .8-.6 .8 1 .8-.9 .8 1 .8-.8 .8 .6 .8-.6 .8 .9 .8-.6 .8 .5 .8-.2 .8 .3 .8-.4 .8 .5 .8-.5 .8 .5" stroke="#2F1DAF"/>
<path d="M1228.2 346.2l.8-.4 .8 .3 .8-.2 .8 .4 .8-.7 .8 .3 .8-.7 .8 .6 .8-.7 .8 .8 .8-.8 .8 .7 .8-1 .8 .4 .8-1 .8 1 .8-.8 .8 1.3 .8-2.1 .8 1.2 .8-1.5 .8 1.2 .8-1.7 .8 2.4 .8-2.3 .8 1.3 .8-2.3 .8 1.6 .8-1.9 .8 2 .8-2.9 .8 3.1 .8-3.2 .8 1.5 .8-2.5 .8 2.2 .8-2.5 .8 2.7 .8-2.9 .8 2.2 .8-3.8 .8 2.2 .8-2 .8 1.7 .8-2.4 .8 1.7 .8-3.4 .8 3.2 .8-4.1 .8 2.8 .8-2.9 .8 2.4 .8-3.3 .8 2.3 .8-4.3 .8 2.7 .8-3.1 .8 2.3 .8-3.5 .8 2.4 .8-3.9 .8 3.1 .8-4.1 .8 2.8 .8-3.6 .8 2.1 .8-3.5 .8 2.5 .8-3.9 .8 2 .8-3.7 .8 1.9 .8-3.5 .8 1.7 .8-3.6 .8 3 .8-4.9 .8 3.1 .8-4.4 .8 2.6 .8-4.4 .8 2.7 .8-3.6 .8 1.7 .8-3.6 .8 1.7 .8-4.2 .8 2.6 .8-3.4 .8 2 .8-4.9 .8 2.7 .8-4.4 .8 2.1 .8-2.9 .8 2.3 .8-5 .8 2.7 .8-3.9 .8 2 .8-3.4 .8 1.3 .8-3.8 .8 1.8 .8-3.5 .8 3 .8-4.2 .8 2.1 .8-4.5 .8 3.3 .8-4.8 .8 3.2 .8-3.9 .8 1.7 .8-2.9 .8 1.1 .8-2.6 .8 1.7 .8-3.2 .8 2 .8-3.9 .8 2.7 .8-2.8 .8 1.9 .8-3.2 .8 2.5 .8-3.6 .8 3.2 .8-3.9 .8 2.2 .8-3.5 .8 3.6 .8-3.3 .8 2.9 .8-3.9 .8 3.6 .8-4.1 .8 2.9 .8-3.1 .8 3 .8-2.6 .8 2.2 .8-1.5 .8 1.4 .8-1.1 .8 1.6 .8-1.7 .8 2.1 .8-1.4 .8 2.1 .8-1.4 .8 1.6 .8-1.1 .8 2 .8-1.5 .8 2.8 .8-1.8 .8 2.7 .8-1.3 .8 2.2 .8-1.1 .8 2.2 .8-1 .8 2.5 .8-.9 .8 2.3 .8-1.1 .8 2.5 .8-.6 .8 2.3 .8-.7 .8 2.1 .8-.3 .8 2.4 .8-.8 .8 2.5 .8-1 .8 2.7 .8-.6 .8 2.8 .8-.9 .8 2.2 .8-.6 .8 2.6 .8-.6 .8 2.5 .8-.6 .8 2.9 .8-1.3 .8 2.8 .8-1 .8 3.3 .8-1.3 .8 3.2 .8-1.1 .8 2.2 .8-.1 .8 2.2 .8-.5 .8 2.5 .8-1.4 .8 2.9 .8-.8 .8 2.4 .8-.4 .8 2.4 .8-.9 .8 2.2 .8-1 .8 2.4 .8-1 .8 2.6 .8-.9 .8 2.3 .8-1.2 .8 3 .8-1.7 .8 2.3 .8-1.2 .8 2.9 .8-1.7 .8 2.5 .8-.7 .8 2 .8-1.6 .8 2.6 .8-.9 .8 2.1 .8-1.7 .8 2.3 .8-.9 .8 2.2 .8-2 .8 2.6 .8-1.8 .8 2.9 .8-1.9 .8 2.5 .8-2 .8 2.7 .8-1.8 .8 2.4 .8-1.6 .8 2.3 .8-2.3 .8 2.1 .8-1.6 .8 2.4 .8-1.6 .8 1.9 .8-1.3 .8 1.8 .8-1.6 .8 2.1 .8-2.2 .8 2.5 .8-1.6 .8 1.4 .8-1.1 .8 1.7 .8-1.2 .8 1.2 .8-1.3 .8 1.5 .8-1.2 .8 1.2 .8-.9 .8 1 .8-.6 .8 .7 .8-.9 .8 .9 .8-.6 .8 .8 .8-.5 .8 .3 .8-.3 .8 .5 .8-.2 .8 .4 .8-.5 .8 .5" stroke="#648FFF"/>
<path d="M1244.2 346.5l.8-.6 .8 .5 .8-.6 .8 .5 .8-.4 .8 .6 .8-.8 .8 .4 .8-1 .8 1.2 .8-1 .8 .9 .8-1.2 .8 1.1 .8-1.5 .8 1 .8-1.2 .8 1 .8-1.3 .8 1.8 .8-2.3 .8 2.2 .8-2.6 .8 2.2 .8-2.7 .8 2.7 .8-3.7 .8 3.1 .8-3.4 .8 2.8 .8-2.2 .8 2.6 .8-4 .8 2.8 .8-2.9 .8 2.5 .8-3.3 .8 3.2 .8-3.6 .8 2.6 .8-3.6 .8 3.6 .8-3.5 .8 2.9 .8-3.8 .8 3 .8-4 .8 2.5 .8-2.4 .8 1.8 .8-3.3 .8 3 .8-3.7 .8 2.2 .8-3.2 .8 2.1 .8-3.2 .8 3.2 .8-3.8 .8 1.9 .8-2.9 .8 2.4 .8-4.1 .8 3.2 .8-4.5 .8 3.1 .8-3.6 .8 1.9 .8-3.3 .8 1.5 .8-3.2 .8 2.5 .8-4 .8 2.9 .8-4.6 .8 3 .8-3.9 .8 1.5 .8-3.1 .8 2.4 .8-3.7 .8 1.9 .8-4.5 .8 2.3 .8-3.9 .8 2.5 .8-3.5 .8 2.1 .8-3.7 .8 2 .8-4.3 .8 2.7 .8-4.7 .8 2.2 .8-3.9 .8 2.2 .8-3.5 .8 1.3 .8-3.3 .8 2.1 .8-4.8 .8 3.1 .8-4.7 .8 2.4 .8-3.4 .8 2.3 .8-3.9 .8 2.1 .8-4.7 .8 2.8 .8-3.8 .8 1.7 .8-4 .8 3 .8-4.3 .8 2.3 .8-3.3 .8 2.7 .8-3.9 .8 2.5 .8-4.8 .8 2.9 .8-3.8 .8 2.1 .8-3 .8 2.6 .8-3.8 .8 3 .8-3.5 .8 2.7 .8-3.3 .8 2.1 .8-4 .8 2.8 .8-3.2 .8 3.7 .8-4.1 .8 2.9 .8-3.8 .8 4.2 .8-3.3 .8 3 .8-3.8 .8 2.5 .8-1.9 .8 1.7 .8-1.5 .8 1.8 .8-1.7 .8 2.1 .8-1.3 .8 1.6 .8-1.6 .8 2.4 .8-1.2 .8 2.1 .8-2 .8 2.8 .8-1.8 .8 2.6 .8-1.1 .8 1.7 .8-.7 .8 2.6 .8-1.2 .8 2.4 .8-1.2 .8 2.4 .8-.8 .8 2.3 .8-.8 .8 2.3 .8-1 .8 2.7 .8-1.1 .8 2.4 .8-.5 .8 2.8 .8-1.3 .8 2.5 .8-.3 .8 2.4 .8-.6 .8 2.6 .8-1.4 .8 2.8 .8-.8 .8 3.3 .8-1.1 .8 2.9 .8-1.3 .8 3.2 .8-1.3 .8 2.7 .8-.7 .8 2.4 .8-.5 .8 2.9 .8-.9 .8 2.4 .8-.8 .8 2.8 .8-.7 .8 2.3 .8-1 .8 2.8 .8-1.2 .8 2.6 .8-1.1 .8 3.3 .8-1.3 .8 2.9 .8-1.6 .8 2.7 .8-1.3 .8 2.5 .8-.8 .8 2.3 .8-.8 .8 2.2 .8-.8 .8 1.8 .8-.8 .8 2.6 .8-1.4 .8 2.2 .8-1.6 .8 2.8 .8-1.5 .8 2.4 .8-1.2 .8 2.6 .8-2 .8 2.3 .8-.8 .8 1.6 .8-.9 .8 2 .8-1.4 .8 2.2 .8-1.5 .8 2 .8-2 .8 2.8 .8-1.7 .8 2.6 .8-2.6 .8 2.5 .8-1.7 .8 2.6 .8-2 .8 2.4 .8-1.8 .8 1.8 .8-1.3 .8 1.7 .8-1.3 .8 2 .8-1.6 .8 1.8 .8-1.2 .8 1 .8-.7 .8 1.1 .8-1.3 .8 1.5 .8-.9 .8 .7 .8-.6 .8 1.3 .8-1.1 .8 1 .8-1 .8 1.1 .8-.9 .8 .9 .8-.5 .8 .6 .8-.7 .8 .9 .8-.5 .8 .5 .8-.4 .8 .3 .8-.4 1.6 .3 1.6-.4 .8 .5 .8-.5 1.6 .8 1.6-.4 .8 .2 .8-.6 1.6 .8 .8 0 .8-.5 .8 .9" stroke="#785EF0"/>
<path d="M1261.8 346.7l.8-.7 .8 .6 .8-.6 .8 .4 .8-.6 .8 .5 .8-.8 .8 .9 .8-1 .8 .8 .8-1.2 .8 1 .8-1.1 .8 1 .8-1.4 .8 1.3 .8-1.5 .8 1.6 .8-1.9 .8 1.5 .8-1.6 .8 2.2 .8-3 .8 2.1 .8-2.9 .8 3.1 .8-2.9 .8 2.2 .8-3.3 .8 3.5 .8-2.8 .8 2.9 .8-3.7 .8 2.8 .8-3.3 .8 2.2 .8-2.3 .8 2.1 .8-3 .8 3.2 .8-4 .8 3.4 .8-4.2 .8 3.2 .8-3.3 .8 2.4 .8-3.2 .8 3 .8-4 .8 3.5 .8-4.5 .8 3.2 .8-3.2 .8 2.7 .8-3.6 .8 1.6 .8-2.9 .8 2.6 .8-3.7 .8 2.9 .8-3.4 .8 2.3 .8-3.3 .8 1.7 .8-4.1 .8 3.5 .8-4.1 .8 2.3 .8-3.2 .8 2.3 .8-4.2 .8 2.2 .8-3.2 .8 2.7 .8-4.6 .8 2 .8-3.7 .8 2.8 .8-3.8 .8 2.2 .8-3.7 .8 2.2 .8-3.4 .8 2 .8-4 .8 1.8 .8-4.2 .8 3.1 .8-4.7 .8 2.8 .8-4.5 .8 2.1 .8-3.9 .8 2.1 .8-3.8 .8 2.2 .8-3.7 .8 2.1 .8-4 .8 1.9 .8-4.1 .8 2.6 .8-3.4 .8 2 .8-4.5 .8 2.9 .8-5 .8 2.5 .8-3.1 .8 1.6 .8-3.5 .8 2.5 .8-4.3 .8 2.7 .8-4.8 .8 3.3 .8-4.6 .8 2.2 .8-4 .8 2.6 .8-4.2 .8 2.5 .8-3.1 .8 2.9 .8-4.5 .8 2.5 .8-3.7 .8 2.3 .8-3 .8 2.4 .8-3.5 .8 2.7 .8-2.7 .8 2.8 .8-4.4 .8 3.2 .8-3.8 .8 2.9 .8-3.6 .8 3.4 .8-3.6 .8 3.8 .8-3.5 .8 2.5 .8-2.6 .8 2.5 .8-2.3 .8 2.5 .8-2.2 .8 2.4 .8-2.1 .8 2.4 .8-2 .8 2.3 .8-1.8 .8 2.8 .8-1.8 .8 1.9 .8-.9 .8 1.9 .8-1 .8 2.3 .8-1.8 .8 3.1 .8-1.5 .8 2 .8-.7 .8 2.5 .8-1 .8 2.1 .8-.5 .8 2.4 .8-.9 .8 2.4 .8-.9 .8 2.5 .8-1.3 .8 3.2 .8-1.3 .8 2.9 .8-.9 .8 2.2 .8-.9 .8 3.5 .8-1.1 .8 2.3 .8-.5 .8 3.1 .8-1.3 .8 2.9 .8-1.4 .8 3.3 .8-1.4 .8 3.2 .8-.9 .8 2.3 .8-.3 .8 2.4 .8-.9 .8 2.6 .8-.8 .8 2.9 .8-.8 .8 2.4 .8-1 .8 3.2 .8-1.6 .8 3.2 .8-1.4 .8 3 .8-1.1 .8 2.5 .8-.7 .8 2.7 .8-1.5 .8 2.8 .8-1.5 .8 2.8 .8-1.6 .8 2.9 .8-1.8 .8 3.5 .8-1.9 .8 2.4 .8-.9 .8 2.6 .8-1.4 .8 2.4 .8-1.4 .8 2.1 .8-1.4 .8 2.5 .8-1.4 .8 2.9 .8-2.3 .8 3 .8-1.9 .8 2.3 .8-1.6 .8 2.3 .8-1.7 .8 2.1 .8-1.1 .8 2.4 .8-2.3 .8 2.7 .8-1.4 .8 1.9 .8-1.6 .8 2.3 .8-2 .8 2.2 .8-1.8 .8 2.9 .8-2.1 .8 1.8 .8-1.6 .8 2.2 .8-2.2 .8 1.8 .8-1.1 .8 1.9 .8-1.1 .8 1.5 .8-1.5 .8 1.4 .8-1.5 .8 1.4 .8-1.2 .8 1.9 .8-1.3 2.4 1.2 .8-1.2 .8 1.7 .8-1.3 .8 1 .8-.8 .8 .8 1.6-.5 .8 .5 1.6-.7 .8 1.2 2.4-1.1 .8 .6 .8-.5 .8 1 .8 0 .8-.5 3.2 .7 .8-1 .8 1.1 .8-1.1 .8 1 .8-.9 .8 1.1" stroke="#DC267F"/>
<path d="M1281.0 346.7l.8-.9 .8 .6 .8-.7 .8 .8 .8-.9 .8 1 .8-1.3 .8 1.2 .8-1.4 .8 1.4 .8-1.5 .8 1.2 .8-1.3 .8 1 .8-1.3 .8 1.2 .8-1.7 .8 2 .8-2.6 .8 2.7 .8-2.8 .8 2.6 .8-3.2 .8 3.1 .8-3.3 .8 2.1 .8-2.5 .8 3.1 .8-3.5 .8 2.3 .8-2.7 .8 2.3 .8-2.1 .8 1.9 .8-3.5 .8 2.8 .8-3.1 .8 3.3 .8-3.9 .8 3.1 .8-3.6 .8 3.6 .8-4.4 .8 3.7 .8-4.2 .8 3.7 .8-4.3 .8 3.6 .8-4.2 .8 2.1 .8-2.8 .8 2.3 .8-2.7 .8 2.3 .8-4 .8 2.8 .8-2.8 .8 2.4 .8-4.5 .8 3.2 .8-4.4 .8 3.5 .8-3.6 .8 1.5 .8-3.1 .8 2.1 .8-3.5 .8 2.1 .8-3.7 .8 3.2 .8-4.2 .8 1.9 .8-3.2 .8 2.4 .8-3.8 .8 2.8 .8-4.9 .8 3.4 .8-4.4 .8 2.5 .8-3.8 .8 2.1 .8-4.8 .8 2.4 .8-3.9 .8 3.1 .8-4.2 .8 1.7 .8-3.4 .8 1.9 .8-3.5 .8 2.1 .8-4.8 .8 2.6 .8-3.7 .8 2.7 .8-4.6 .8 1.9 .8-3.9 .8 2.4 .8-4.1 .8 2.5 .8-4.1 .8 2.1 .8-3.8 .8 1.9 .8-4.4 .8 3.1 .8-3.8 .8 2.5 .8-4.5 .8 2.3 .8-3.4 .8 1.8 .8-4.4 .8 2.5 .8-3.4 .8 2.9 .8-5.1 .8 3.1 .8-4.2 .8 2.3 .8-3.1 .8 2.3 .8-3.3 .8 1.9 .8-3.7 .8 2.9 .8-2.9 .8 1.7 .8-2.8 .8 2.5 .8-3.4 .8 2.8 .8-3.5 .8 3.5 .8-4.2 .8 2.7 .8-2.8 .8 2.8 .8-2.9 .8 2.6 .8-4 .8 3.3 .8-2.2 .8 2.2 .8-2.1 .8 2.2 .8-1.7 .8 2.1 .8-2.2 .8 2.6 .8-1.6 .8 2 .8-1.3 .8 2.1 .8-1.6 .8 2 .8-1.3 .8 2.8 .8-2.1 .8 2.9 .8-1.3 .8 2.1 .8-1.2 .8 2.5 .8-1.3 .8 2.9 .8-1.6 .8 3 .8-1 .8 2.8 .8-1.2 .8 2.6 .8-1.2 .8 3.2 .8-1.3 .8 2.6 .8-.7 .8 2.4 .8-.6 .8 2.6 .8-.8 .8 2.9 .8-1.4 .8 3 .8-1.5 .8 3 .8-.7 .8 2.8 .8-1 .8 2.9 .8-.6 .8 3 .8-1.1 .8 2.9 .8-1.7 .8 3.2 .8-.7 .8 2.9 .8-1.1 .8 3 .8-1.5 .8 3.3 .8-1.9 .8 3.2 .8-1 .8 2.7 .8-1 .8 2.3 .8-.9 .8 2.7 .8-1 .8 2.7 .8-1.7 .8 3.1 .8-1.2 .8 2.8 .8-2 .8 2.9 .8-1.3 .8 2.8 .8-1.2 .8 2.1 .8-1.2 .8 2.7 .8-1.9 .8 2.6 .8-1 .8 2.2 .8-1.2 .8 2.5 .8-1.8 .8 2.8 .8-2.2 .8 2.4 .8-1.1 .8 2.1 .8-2.2 .8 3.1 .8-1.6 .8 1.5 .8-1 .8 2.9 .8-2.6 .8 2.8 .8-1.8 .8 2.1 .8-1.9 .8 2.6 .8-1.7 .8 1.9 .8-1.7 .8 2.1 .8-2.1 .8 3.2 .8-3.1 .8 2.3 .8-1.7 .8 2.7 .8-2.6 .8 2.3 .8-1.6 .8 1 .8-1 .8 1.1 .8-.1 .8 .9 .8-1.6 .8 2 .8-.7 .8 .5 .8-1.2 .8 2 .8-1.4 .8 .3 .8-.6 .8 1.3 .8-.9 .8 .6 .8-.7 .8 1.2 .8-1.1 2.4 1.7 .8-.4 .8-.9 .8 0 .8 .2 .8 .9 .8-.1 .8-.8 .8 .7 .8-.7 .8-.1 .8 .2 .8 .9 .8-.9 .8 .7 .8-.8 1.6 1.3" stroke="#FE6100"/>
<path d="M1300.2 346.6l.8-.8 .8 .7 .8-.6 .8 .7 .8-1 .8 .8 .8-1.2 .8 1.3 .8-1.2 .8 1.2 .8-1.6 .8 1.2 .8-1.4 .8 1.2 .8-1.6 .8 1.3 .8-1.6 .8 1.7 .8-1.7 .8 1.8 .8-2 .8 1.5 .8-2.3 .8 2.1 .8-2.2 .8 2.3 .8-3.6 .8 3 .8-3.4 .8 3.4 .8-3.5 .8 3.7 .8-3.8 .8 3.1 .8-3.9 .8 3.6 .8-4.2 .8 3.5 .8-4.3 .8 3.7 .8-4.2 .8 3.2 .8-3.9 .8 3.1 .8-2.9 .8 2.2 .8-3.8 .8 3.1 .8-4 .8 3.6 .8-4.1 .8 2.8 .8-3.1 .8 2.8 .8-4.3 .8 2.4 .8-3.2 .8 2.8 .8-4 .8 2.4 .8-2.9 .8 2.6 .8-3.9 .8 2.6 .8-4.4 .8 2.7 .8-4.2 .8 2.7 .8-3.8 .8 2.2 .8-2.8 .8 1.8 .8-4.1 .8 2.3 .8-3.8 .8 2.7 .8-4.4 .8 2.8 .8-4.2 .8 3.4 .8-5 .8 2.8 .8-4.1 .8 2.4 .8-3.8 .8 2.6 .8-5 .8 3.3 .8-4.2 .8 1.5 .8-3.2 .8 1.2 .8-3.3 .8 2.3 .8-4.9 .8 2.4 .8-3.3 .8 1.8 .8-4.5 .8 2.5 .8-3.6 .8 2.4 .8-3.7 .8 2 .8-3.7 .8 1.3 .8-3.8 .8 3.3 .8-5 .8 3.3 .8-4.4 .8 1.9 .8-4.5 .8 3.7 .8-4.1 .8 2.4 .8-4.1 .8 2.2 .8-4.5 .8 3.2 .8-4.2 .8 2.9 .8-3.4 .8 2.6 .8-3.8 .8 2.4 .8-4.3 .8 2.8 .8-2.7 .8 2.1 .8-3 .8 1.8 .8-2.5 .8 2.6 .8-4.2 .8 3.6 .8-3.3 .8 3 .8-4.3 .8 3.5 .8-3.9 .8 4.4 .8-4.1 .8 4 .8-2.9 .8 1.7 .8-1.7 .8 2.3 .8-2 .8 2.1 .8-1.5 .8 2.3 .8-1.9 .8 1.8 .8-.8 .8 2.1 .8-2.1 .8 2.6 .8-.9 .8 1.9 .8-1.1 .8 2.5 .8-1.4 .8 2.6 .8-1.7 .8 2.4 .8-.8 .8 2.4 .8-.8 .8 2.2 .8-.7 .8 2.6 .8-1.1 .8 2.7 .8-1.6 .8 3 .8-.5 .8 2.4 .8-1.2 .8 2.8 .8-.9 .8 2.6 .8-.7 .8 2.9 .8-1 .8 2.8 .8-.5 .8 2.5 .8-1.5 .8 3.9 .8-2 .8 3.2 .8-.7 .8 2.8 .8-1 .8 2.5 .8-.4 .8 2.7 .8-1.1 .8 2.7 .8-1.2 .8 2.9 .8-1.4 .8 3.1 .8-.7 .8 2.9 .8-1.1 .8 2.7 .8-1.8 .8 3 .8-1.5 .8 3.1 .8-1 .8 2.5 .8-1.5 .8 3 .8-1.7 .8 3.2 .8-1.6 .8 2.6 .8-1.1 .8 2.5 .8-1.8 .8 2.7 .8-1.5 .8 3.4 .8-2.3 .8 2.9 .8-1.9 .8 2.6 .8-.9 .8 2.3 .8-1.9 .8 2.5 .8-1.3 .8 2.3 .8-2.4 .8 3 .8-1.4 .8 2.3 .8-2.2 .8 2.7 .8-1.7 .8 2.6 .8-2.2 .8 2 .8-1.4 .8 2.6 .8-2.4 .8 2.7 .8-1.7 .8 1.8 .8-1.4 .8 2.8 .8-3.2 .8 2.9 .8-2.4 .8 3 .8-2.7 .8 2.1 .8-2 .8 2.7 .8-2.3 .8 2.1 .8-.5 .8 .2 .8-1.3 .8 2.1 .8-1.4 .8 1.5 .8-1.8 .8 2 .8-.7 .8 .7 .8-.9 .8 1.1 .8-1.3 .8 .4 .8-1 1.6 2 .8-.8 .8 .6 .8-1.2 .8 1.3 .8-.8 .8 1.2 .8-1.4 .8-.2 .8 .8 .8 .1 .8 1.1 .8-1.1 .8 .3 .8-1.3 .8 1.7 1.6-1.2 .8 .3 1.6-.6 .8 2.1" stroke="#FFB000"/>
<path d="M1317.8 346.6l.8-.8 .8 .8 .8-.9 .8 .8 .8-.7 .8 .7 .8-1 .8 1.1 .8-1.3 .8 1.3 .8-1.7 .8 1.6 .8-1.6 .8 1.1 .8-1.3 .8 1.6 .8-1.9 .8 1.5 .8-1.5 .8 1.5 .8-2.4 .8 2 .8-2 .8 2 .8-2.3 .8 2.7 .8-3.4 .8 3.3 .8-3.4 .8 2.9 .8-4.3 .8 2.8 .8-2.4 .8 2.5 .8-3.7 .8 3.9 .8-3.6 .8 2.1 .8-2.9 .8 2.7 .8-3 .8 2.8 .8-4.2 .8 3.8 .8-4.1 .8 3.5 .8-4.2 .8 2.6 .8-3.9 .8 2.9 .8-2.6 .8 2.3 .8-3.4 .8 2.2 .8-3.7 .8 3.2 .8-4.3 .8 3.5 .8-3.6 .8 2.5 .8-3.9 .8 2.8 .8-3.9 .8 2.9 .8-3.9 .8 2.3 .8-3.2 .8 1.8 .8-3.7 .8 3.1 .8-4.4 .8 2.8 .8-4.6 .8 2.4 .8-4 .8 3.5 .8-4.5 .8 1.8 .8-3.6 .8 2.9 .8-4.5 .8 2.7 .8-4.8 .8 3.6 .8-3.9 .8 1.6 .8-3.6 .8 1.9 .8-4.2 .8 3.3 .8-4.6 .8 2.3 .8-4.3 .8 2 .8-3.5 .8 2.6 .8-4.4 .8 2.5 .8-4.5 .8 2 .8-3.5 .8 2.3 .8-4.3 .8 2.1 .8-4.8 .8 3.6 .8-4.1 .8 1.6 .8-3.6 .8 2.9 .8-4.7 .8 2.1 .8-3.8 .8 2.6 .8-4.7 .8 3.5 .8-4 .8 2.6 .8-4.9 .8 2.6 .8-3.3 .8 2.5 .8-5 .8 3.8 .8-3.6 .8 2.4 .8-4.8 .8 3 .8-3.7 .8 3.6 .8-3.9 .8 3.4 .8-5 .8 4 .8-4.1 .8 2.5 .8-3.6 .8 4.1 .8-4.8 .8 4.9 .8-4.9 .8 4.2 .8-4.8 .8 4.6 .8-4.1 .8 2.8 .8-2.1 .8 2.6 .8-2.3 .8 2.5 .8-1.7 .8 1.9 .8-1.6 .8 2.3 .8-1.9 .8 2.3 .8-1.4 .8 2.7 .8-1.6 .8 2.1 .8-1.5 .8 2.6 .8-1.8 .8 2.6 .8-1.4 .8 3.1 .8-1.9 .8 2.9 .8-1.2 .8 2.8 .8-1.6 .8 3.5 .8-1.7 .8 3 .8-1.1 .8 2.3 .8-.6 .8 2.5 .8-1.2 .8 3.1 .8-1.4 .8 2.9 .8-.8 .8 3.1 .8-1 .8 3 .8-1.5 .8 2.9 .8-1.2 .8 3.4 .8-1.5 .8 3.1 .8-1 .8 2.9 .8-1.1 .8 3.4 .8-1.1 .8 2.7 .8-1.6 .8 3.4 .8-.9 .8 2.4 .8-.4 .8 2.7 .8-1.1 .8 2.5 .8-1.5 .8 3.8 .8-1.9 .8 2.9 .8-1.6 .8 3.2 .8-1.5 .8 3.5 .8-2 .8 3.2 .8-1.9 .8 3.8 .8-2.5 .8 3.5 .8-2 .8 3.3 .8-1.5 .8 2.2 .8-1.7 .8 2.9 .8-1 .8 2.8 .8-1.6 .8 2.5 .8-2.1 .8 2.5 .8-1.2 .8 2.8 .8-2.7 .8 2.6 .8-1.4 .8 3 .8-2.9 .8 2.8 .8-1.5 .8 2.3 .8-1.7 .8 3 .8-3 .8 2.7 .8-1.3 .8 2.4 .8-3.1 .8 3.2 .8-1.6 .8 1.7 .8-1.4 .8 1.8 .8-1.4 .8 3.2 .8-2.6 .8 2.9 .8-2.8 .8 1.9 .8-1.7 .8 1.6 .8-1.4 .8 2.3 .8-1.7 .8 1.5 .8-.9 .8 1.7 .8-1.2 .8 1.3 .8-1.4 .8 1.1 .8-1.9 .8 1.1 .8-1.1 .8 1.9 .8-1.4 2.4 2.3 .8-2.4 .8 2.5 .8-1.3 .8 .6 .8-.9 .8 1.1 .8-.4 .8 .9 .8-.5 .8 .5 1.6-1.9 1.6 2 .8-2.4 .8 1 1.6-.7 1.6 .6 .8 1.4" stroke="#63A00C"/>
<path d="M1335.4 346.6l.8-.7 .8 .7 .8-.8 .8 .7 .8-.9 .8 1 .8-.8 .8 .5 .8-.9 .8 .8 .8-1.1 .8 1.2 .8-1.2 .8 1.2 .8-1.7 .8 1.2 .8-1.3 .8 1.9 .8-2.1 .8 1.9 .8-2.2 .8 1.4 .8-1.5 .8 2 .8-3 .8 3 .8-3.6 .8 2.6 .8-3.4 .8 3.1 .8-2.6 .8 2.4 .8-3.6 .8 3.1 .8-2.4 .8 1.7 .8-2.8 .8 3.6 .8-3.7 .8 2.7 .8-3.7 .8 3.6 .8-3.8 .8 3.2 .8-4.2 .8 2.4 .8-3.3 .8 2.7 .8-2.7 .8 2.1 .8-4 .8 3.4 .8-3.8 .8 2.7 .8-4 .8 3.6 .8-3.9 .8 3.2 .8-3.8 .8 2.9 .8-4 .8 2.6 .8-3.8 .8 3 .8-4.2 .8 3.2 .8-4.9 .8 3.3 .8-3.5 .8 2.1 .8-4.6 .8 3.3 .8-3.7 .8 2.3 .8-4.9 .8 3.6 .8-4.9 .8 2.7 .8-3.6 .8 3.3 .8-4.7 .8 2.5 .8-3.8 .8 1.5 .8-3.8 .8 3.3 .8-5.2 .8 2.4 .8-3.4 .8 2.1 .8-4.9 .8 2.8 .8-4 .8 2.8 .8-3.8 .8 2.5 .8-5.5 .8 2.7 .8-4.4 .8 2.4 .8-3.1 .8 2.5 .8-4.8 .8 2.5 .8-4.2 .8 1.8 .8-4.2 .8 3.1 .8-3.9 .8 1.8 .8-4.6 .8 3.9 .8-5.4 .8 3.4 .8-5.4 .8 3.8 .8-4.4 .8 2.4 .8-4.7 .8 2.9 .8-3.7 .8 2.9 .8-4.3 .8 3.2 .8-5.2 .8 4.1 .8-4.2 .8 3.1 .8-3.8 .8 2.3 .8-3.5 .8 3.5 .8-4.9 .8 4.2 .8-5.6 .8 3.8 .8-4.4 .8 4.7 .8-4.1 .8 2.7 .8-3.1 .8 2.6 .8-4.2 .8 4.4 .8-4.4 .8 5 .8-3.6 .8 2.4 .8-2.3 .8 2.6 .8-2.6 .8 2.9 .8-2.3 .8 2.8 .8-2.3 .8 2.7 .8-2.1 .8 2.6 .8-1.4 .8 2.6 .8-1.8 .8 2.1 .8-1 .8 2.3 .8-1.4 .8 2.5 .8-1.3 .8 2.3 .8-.9 .8 2.8 .8-1.3 .8 2.4 .8-1.1 .8 2.5 .8-.7 .8 2.9 .8-1.1 .8 2.4 .8-1.4 .8 3.8 .8-1.4 .8 2.8 .8-1.4 .8 2.9 .8-.9 .8 3.2 .8-1.6 .8 3.3 .8-1.3 .8 2.9 .8-.6 .8 2.5 .8-.8 .8 3.1 .8-1.5 .8 3.2 .8-1.7 .8 4 .8-1.7 .8 3.3 .8-1.6 .8 3.2 .8-1 .8 3.1 .8-1.2 .8 3.1 .8-2.2 .8 3.8 .8-1.9 .8 3.1 .8-1.4 .8 3.2 .8-1.6 .8 3.7 .8-2.5 .8 3.5 .8-2.1 .8 3.6 .8-1.7 .8 3.1 .8-1.9 .8 3.2 .8-2.1 .8 3.7 .8-2.4 .8 3.4 .8-1.7 .8 2.5 .8-1.9 .8 3 .8-1.8 .8 3.3 .8-2.6 .8 3.4 .8-1.8 .8 2.7 .8-2 .8 2 .8-1.5 .8 2.5 .8-1.4 .8 2 .8-2.3 .8 3.6 .8-3.6 .8 3.5 .8-2.7 .8 3.5 .8-1.6 .8 2.2 .8-2.3 .8 1.8 .8-1.3 .8 1.9 .8-1.4 .8 1.5 .8-1.3 .8 1.7 .8-2.7 .8 4.5 .8-3.9 .8 3.7 .8-2.5 .8 2.5 .8-2.4 .8 2 .8-.8 .8-.1 .8-.5 .8 2.7 .8-1.3 .8 1.3 .8-3.1 .8 2.2 .8-.1 .8 1.7 .8-2.2 .8 1.5 .8-1.6 .8-.1 .8-.8 .8 2.7 .8-.8 .8 .6 .8-1 .8 .4 .8 1 .8-1.3 .8-.4 .8 .9 .8-1.2 .8 2 .8-.5 .8-1.2 .8 .4 .8 1.9 1.6-.4 2.4 .1 .8-.9 .8 .4 .8 1" stroke="#2F1DAF"/>
<path d="M1354.6 346.7l.8-.8 .8 .6 .8-.8 .8 .8 .8-1 .8 1.1 .8-.9 .8 .8 .8-1.3 .8 1.3 .8-1.5 .8 1 .8-1.3 .8 1.4 .8-1.7 .8 1.6 .8-2 .8 2.4 .8-2.5 .8 2.3 .8-2.7 .8 1.9 .8-1.7 .8 1.9 .8-2.4 .8 2.7 .8-3.3 .8 2.4 .8-2.6 .8 3.2 .8-3.7 .8 2.2 .8-3.2 .8 3.2 .8-3.6 .8 3.1 .8-3.8 .8 3.3 .8-3.1 .8 3.1 .8-3.8 .8 3.4 .8-4.2 .8 3.2 .8-4 .8 2.4 .8-2.6 .8 3.2 .8-4.5 .8 3.2 .8-4.2 .8 4 .8-4.1 .8 2 .8-2.6 .8 2.4 .8-3.9 .8 2.3 .8-3.9 .8 3.2 .8-3.5 .8 2.6 .8-3.9 .8 2.1 .8-3.4 .8 3.6 .8-4.9 .8 3.6 .8-4.4 .8 3.1 .8-5.2 .8 3 .8-3.6 .8 2.9 .8-4.4 .8 3.1 .8-4.5 .8 3.1 .8-4.9 .8 3.1 .8-5.5 .8 3.3 .8-4.8 .8 3.5 .8-4.6 .8 2.1 .8-3.1 .8 1.4 .8-3.3 .8 2.7 .8-5.7 .8 3.5 .8-4.9 .8 2.5 .8-4 .8 2.4 .8-4.1 .8 2.9 .8-4.5 .8 1.8 .8-3.9 .8 2.9 .8-4.1 .8 2.3 .8-4.1 .8 2 .8-4.7 .8 3.9 .8-5.4 .8 3.4 .8-5.2 .8 2.8 .8-4.2 .8 3.2 .8-4.9 .8 2.5 .8-3.6 .8 2.5 .8-3.8 .8 3 .8-4.9 .8 3.3 .8-3.9 .8 2.7 .8-4.4 .8 2.9 .8-4.6 .8 3.7 .8-4.1 .8 2.3 .8-3.5 .8 3.8 .8-4 .8 2.6 .8-4.3 .8 3.7 .8-3.9 .8 3.4 .8-3.4 .8 3.6 .8-3.9 .8 4 .8-4.2 .8 3.3 .8-3.4 .8 2.8 .8-2.8 .8 2.8 .8-2.3 .8 2 .8-2 .8 2.6 .8-2.4 .8 2.9 .8-2.2 .8 2.7 .8-2 .8 2.5 .8-1.8 .8 3.1 .8-2.1 .8 3.1 .8-2 .8 3.5 .8-2.4 .8 3.1 .8-1.4 .8 2.5 .8-1 .8 3.2 .8-2.3 .8 3.1 .8-1.4 .8 3.4 .8-1.7 .8 3.3 .8-1.4 .8 2.8 .8-1.2 .8 3.6 .8-2.1 .8 3 .8-.5 .8 2.9 .8-1.2 .8 2.8 .8-1.2 .8 3.1 .8-1 .8 2.6 .8-.9 .8 3 .8-1.3 .8 3.5 .8-1.2 .8 3.1 .8-1.6 .8 2.9 .8-.6 .8 3.3 .8-1.9 .8 3.4 .8-1.8 .8 2.9 .8-1.5 .8 3.8 .8-1.5 .8 2.8 .8-1.4 .8 3.2 .8-1.7 .8 3.7 .8-2.1 .8 2.9 .8-1.6 .8 3.5 .8-1.6 .8 2.9 .8-1.4 .8 3 .8-1.7 .8 3.3 .8-2.3 .8 3.4 .8-1.9 .8 3 .8-2.4 .8 3.5 .8-1.6 .8 2 .8-1.3 .8 3 .8-2.5 .8 3.4 .8-2.4 .8 2.9 .8-2.1 .8 2.1 .8-1.8 .8 3.3 .8-1.6 .8 1.3 .8-.5 .8 2.6 .8-2.7 .8 2.5 .8-1.2 .8 1.6 .8-1.6 .8 2.4 .8-2.8 .8 3 .8-2.6 .8 3.5 .8-3.2 .8 2.7 .8-1.2 .8 1.7 .8-1.2 .8 2.6 .8-2.3 .8 2 .8-1.8 .8 1.7 .8-.5 .8 1.2 .8-2.3 .8 2.3 .8-2.3 .8 1.4 .8-1.5 .8 1.7 .8-.9 .8 1.1 .8-1.9 .8 3.2 .8-2.1 .8-.5 1.6 1.4 1.6 .2 .8-1.9 .8 1 .8 0 .8 1.9 .8-.6 .8 .9 .8-2.5 .8 0 .8 1.2 .8-.9 .8 1.5 .8-1.1 .8-.1 1.6 1.8 .8-1.1 .8 .4 .8-1.6 .8 .7 .8 .1 .8-.8 .8 2.8" stroke="#648FFF"/>
<path d="M1372.2 346.8l.8-.8 .8 .6 .8-.5 .8 .6 .8-1 .8 .9 .8-1 .8 .8 .8-.8 .8 1 .8-1.5 .8 1.1 .8-1.5 .8 1.8 .8-1.9 .8 1.7 .8-2 .8 1.7 .8-2.1 .8 2.3 .8-2.4 .8 2.1 .8-3 .8 2.8 .8-3.1 .8 2.5 .8-2.7 .8 3.3 .8-4 .8 3.1 .8-2.4 .8 2.7 .8-3.7 .8 3.6 .8-4.6 .8 3.2 .8-2.7 .8 2.9 .8-3.6 .8 2.5 .8-3.9 .8 3 .8-3.1 .8 3.6 .8-3.4 .8 2.7 .8-4 .8 2.4 .8-4 .8 4.4 .8-3.8 .8 2.3 .8-3.5 .8 2.5 .8-3.8 .8 3.9 .8-4.3 .8 3 .8-5 .8 4.4 .8-5.1 .8 3 .8-3 .8 2.4 .8-4.4 .8 2.6 .8-3.9 .8 3.8 .8-5.3 .8 4.2 .8-5.2 .8 2.5 .8-4.3 .8 3.6 .8-5 .8 3.8 .8-3.9 .8 2.4 .8-5.1 .8 3.2 .8-3.8 .8 2.3 .8-4.3 .8 3.1 .8-4.5 .8 3.3 .8-6.1 .8 3.1 .8-4.7 .8 3.7 .8-4.1 .8 2.3 .8-4.8 .8 3.3 .8-5.5 .8 2.7 .8-4 .8 2.9 .8-5.4 .8 4.1 .8-5.5 .8 2.9 .8-4.9 .8 3.3 .8-4.3 .8 2.6 .8-4.1 .8 1.6 .8-4.1 .8 3.2 .8-5.6 .8 3.1 .8-3.2 .8 2.2 .8-4.2 .8 2.3 .8-4.1 .8 3.5 .8-5.1 .8 3.6 .8-5 .8 2.6 .8-3.9 .8 3.9 .8-4.6 .8 3.2 .8-4.5 .8 2.7 .8-4.4 .8 3.3 .8-3.6 .8 3.5 .8-5.2 .8 3 .8-3.3 .8 4.2 .8-5.1 .8 3.9 .8-4.9 .8 4.1 .8-3.6 .8 3.6 .8-4.8 .8 4.5 .8-4.2 .8 4.5 .8-3.3 .8 1.5 .8-1.7 .8 2.5 .8-3 .8 3.2 .8-2.9 .8 2.7 .8-1.8 .8 3 .8-2.3 .8 2.3 .8-2 .8 3.2 .8-2.3 .8 3.6 .8-2.4 .8 3.3 .8-2.1 .8 3 .8-1.8 .8 3.3 .8-2.1 .8 3.3 .8-1.6 .8 2.6 .8-1.1 .8 2.6 .8-1.1 .8 2.8 .8-1 .8 3.1 .8-2.1 .8 4.1 .8-2 .8 3.4 .8-1.1 .8 2.9 .8-1.9 .8 3.6 .8-1.5 .8 3.9 .8-1.8 .8 3 .8-1.5 .8 3.5 .8-1.6 .8 3.3 .8-1.2 .8 3.8 .8-1.9 .8 3.2 .8-1.5 .8 3.3 .8-.8 .8 3.3 .8-2.2 .8 4.1 .8-2.2 .8 4 .8-2.3 .8 3.8 .8-1.8 .8 2.8 .8-1.7 .8 3.5 .8-1.6 .8 3.3 .8-1.3 .8 2.4 .8-.8 .8 2.5 .8-1.7 .8 3.5 .8-2.1 .8 3.5 .8-2.1 .8 2.8 .8-2 .8 3.2 .8-1.1 .8 2.8 .8-2.5 .8 3.6 .8-2.1 .8 3.3 .8-3.1 .8 3.1 .8-1.6 .8 3 .8-2.2 .8 2.4 .8-1.8 .8 2.7 .8-1.3 .8 2 .8-2.6 .8 3.4 .8-2.7 .8 3.1 .8-2.3 .8 3.4 .8-3.2 .8 3.4 .8-3.3 .8 4.5 .8-3 .8 2.6 .8-2.7 .8 2.6 .8-1.7 .8 1.9 .8-1.8 .8 1.6 .8-1.8 .8 1.5 .8-1.1 .8 2.2 .8-.9 .8 1.7 .8-1.9 .8 3 .8-3.4 .8 2.7 .8-3 .8 1.4 .8-.7 .8 .4 .8 .9 .8 .2 .8-.3 .8 .1 .8 .4 .8 1.2 .8-2.5 .8 1.8 .8 .9 1.6-1.7 .8 2.3 1.6-3.2 1.6 .5 .8 2.3 .8 .4 1.6-2.7 .8 2 1.6-2.4 .8 1.7 .8-1.6 .8 3.1 .8-2.2 .8-.6 .8 .4 .8-.7 .8 3.4" stroke="#785EF0"/>
<path d="M1394.6 346.8l.8-1.3 .8 1.1 .8-.9 .8 .7 .8-1.1 .8 1.1 .8-1.4 .8 1.4 .8-1.4 .8 1.4 .8-1.5 .8 1.2 .8-1.6 .8 1.8 .8-2.5 .8 2.2 .8-2.9 .8 3.2 .8-3.1 .8 2.4 .8-3.3 .8 3.7 .8-4.1 .8 3.4 .8-3.1 .8 3.7 .8-5 .8 4 .8-4 .8 3.1 .8-3.4 .8 2.9 .8-3.6 .8 3 .8-3.6 .8 3.5 .8-4.2 .8 4.1 .8-4.6 .8 3 .8-2.6 .8 2.9 .8-4.8 .8 3.6 .8-3.5 .8 3.3 .8-4.3 .8 3 .8-3.7 .8 2.9 .8-4.2 .8 2.8 .8-3.8 .8 4.2 .8-4.4 .8 2.7 .8-5 .8 3.7 .8-3.4 .8 2 .8-3.2 .8 1.8 .8-4 .8 4.2 .8-4.4 .8 2.1 .8-3.4 .8 2.8 .8-4.6 .8 2.2 .8-4.6 .8 3.8 .8-4.7 .8 3.8 .8-6.1 .8 3.3 .8-4.1 .8 2.8 .8-3.8 .8 2 .8-4.6 .8 3.8 .8-4.5 .8 3.1 .8-6.2 .8 3.1 .8-4.6 .8 3.2 .8-4.3 .8 3.1 .8-4.9 .8 3.4 .8-4.9 .8 1.8 .8-4.6 .8 3.4 .8-4.8 .8 3.3 .8-4.6 .8 2.8 .8-5.3 .8 4.2 .8-5.4 .8 3 .8-4.4 .8 3.1 .8-5.3 .8 2.5 .8-3.7 .8 3 .8-5.8 .8 3.8 .8-4.1 .8 3.3 .8-6.2 .8 4 .8-4.9 .8 3.2 .8-4.9 .8 4.8 .8-4.5 .8 2.9 .8-5.2 .8 3.3 .8-3.5 .8 3.4 .8-4.5 .8 3.6 .8-4.5 .8 4 .8-4.7 .8 3 .8-4.2 .8 4.4 .8-4.8 .8 4.6 .8-4.2 .8 3.4 .8-4.3 .8 3.9 .8-5 .8 4.6 .8-3 .8 2.7 .8-1.9 .8 2.2 .8-2.6 .8 2.5 .8-1.5 .8 2 .8-1.8 .8 2.8 .8-1.8 .8 2.1 .8-1.4 .8 3.1 .8-2.5 .8 2.8 .8-1.8 .8 3 .8-1.6 .8 2.8 .8-1.4 .8 2.6 .8-1.2 .8 2.2 .8-1.3 .8 3.6 .8-1.5 .8 3.3 .8-2.5 .8 3.3 .8-1.4 .8 3.2 .8-1.3 .8 3.6 .8-2.1 .8 3.1 .8-1.5 .8 3.9 .8-1.6 .8 3.6 .8-1.6 .8 3.6 .8-2.1 .8 3.8 .8-1.5 .8 2.7 .8-.7 .8 3.2 .8-1.8 .8 3.4 .8-1.8 .8 4.2 .8-2.4 .8 4 .8-1.9 .8 3.1 .8-.9 .8 2.7 .8-.7 .8 2.6 .8-.9 .8 3.4 .8-2 .8 3.1 .8-2.1 .8 3.8 .8-1.3 .8 3.2 .8-2.7 .8 4.3 .8-2.1 .8 2.5 .8-1.4 .8 2.8 .8-1.6 .8 3.6 .8-2.2 .8 3.7 .8-2.1 .8 3.1 .8-2.7 .8 4 .8-2.5 .8 2.8 .8-1.8 .8 3.6 .8-2.6 .8 2.1 .8-1 .8 2.6 .8-2.6 .8 3.2 .8-1.9 .8 2.6 .8-2.2 .8 2.6 .8-1.9 .8 3.2 .8-2.9 .8 2.8 .8-1.3 .8 2 .8-3.8 .8 4.2 .8-2.7 .8 3.9 .8-1.7 .8 2.8 .8-4.1 .8 3.8 .8-4.2 .8 2.2 .8 .3 .8 1.5 .8-2.5 .8 3.6 .8-3.4 .8 1.4 .8-.1 2.4 1.1 .8-1.7 .8 3.2 .8-.9 .8 0 .8-.5 .8 .4 .8-1.9 .8 3.1 .8-1.4 .8-.4 .8-1.4 .8 1.8 .8 0 .8 1.6 .8-.3 .8 .4 .8-2.4 .8 .8 .8-1 .8 2.2 .8-2.4 .8 .4 .8 0 .8 .6 .8 1.8 .8-1.5 .8 .9 .8-.1 2.4-2.2 .8 1.2 1.6-1.3 .8 2.7 .8 1.1" stroke="#DC267F"/>
<path d="M1410.6 346.7l.8-.9 .8 .9 .8-.8 .8 .8 .8-1.1 .8 .8 .8-1 .8 1.3 .8-1.4 .8 1 .8-1.4 .8 1.7 .8-1.9 .8 1.6 .8-2.2 .8 2.2 .8-2 .8 1.4 .8-2 .8 1.8 .8-1.8 .8 2.1 .8-3.2 .8 3.1 .8-3 .8 3 .8-4 .8 3.6 .8-4.2 .8 4.5 .8-5 .8 4.3 .8-4.3 .8 3.5 .8-4.5 .8 4.7 .8-4.2 .8 3 .8-3.7 .8 2.5 .8-3.8 .8 4.8 .8-5.2 .8 4 .8-3.8 .8 3.3 .8-4.2 .8 3.1 .8-3.9 .8 3.6 .8-4.7 .8 2.8 .8-3.4 .8 3.9 .8-5.1 .8 4.2 .8-5.7 .8 4.7 .8-4.7 .8 3 .8-5 .8 3.1 .8-3.2 .8 2.7 .8-4 .8 2.5 .8-4.3 .8 3.9 .8-4.6 .8 3.3 .8-5.4 .8 3.2 .8-3.7 .8 2.8 .8-4.2 .8 2.9 .8-5.7 .8 3.7 .8-4.3 .8 2.6 .8-4.1 .8 3.6 .8-5.3 .8 3.8 .8-5.2 .8 3.4 .8-6.2 .8 3.4 .8-4.6 .8 3 .8-5.4 .8 3.7 .8-5.3 .8 3.5 .8-5.1 .8 3.9 .8-5.8 .8 3.1 .8-5 .8 4.4 .8-4.9 .8 2 .8-3.9 .8 1.7 .8-3.6 .8 1.9 .8-3.7 .8 2.9 .8-5.8 .8 3.6 .8-3.9 .8 1.8 .8-4.3 .8 3.9 .8-4.8 .8 2.9 .8-4.3 .8 2.1 .8-4.6 .8 3.7 .8-5.5 .8 4.8 .8-5.8 .8 3.4 .8-4.5 .8 5.1 .8-6.1 .8 4.7 .8-5.8 .8 3.8 .8-4.1 .8 3.9 .8-4.2 .8 2.4 .8-4.3 .8 4.2 .8-3.6 .8 2.9 .8-4.8 .8 4.7 .8-3.9 .8 4.2 .8-4.9 .8 4.7 .8-5.5 .8 3.8 .8-2 .8 2.9 .8-3.1 .8 3.4 .8-2.8 .8 2.9 .8-2.6 .8 2.8 .8-1.9 .8 2.3 .8-2.1 .8 3.3 .8-2.1 .8 2.9 .8-1.8 .8 2.6 .8-1.5 .8 3.5 .8-2 .8 2.9 .8-2.5 .8 3.6 .8-1.4 .8 3.2 .8-2 .8 2.8 .8-.8 .8 2.9 .8-2.2 .8 3.6 .8-2 .8 4.4 .8-2.4 .8 3.6 .8-1.7 .8 3.5 .8-1.1 .8 2.8 .8-1.8 .8 3.8 .8-1.6 .8 3.8 .8-2 .8 4.1 .8-2.5 .8 4.4 .8-2.5 .8 4 .8-1.9 .8 4.1 .8-1.9 .8 2.9 .8-1.1 .8 3.4 .8-1.8 .8 3.4 .8-1.1 .8 3.6 .8-1.8 .8 2.8 .8-1.7 .8 3.9 .8-1.7 .8 3.2 .8-1.6 .8 3.3 .8-1.6 .8 2.5 .8-1.9 .8 3.9 .8-2.2 .8 3.1 .8-1.4 .8 3 .8-1.4 .8 2.8 .8-1.8 .8 2.7 .8-1.3 .8 2.6 .8-1.5 .8 3.3 .8-2.4 .8 2.8 .8-2.2 .8 3 .8-2.1 .8 2.7 .8-2.3 .8 3.2 .8-2.6 .8 4.1 .8-3.3 .8 3.5 .8-2.6 .8 3.2 .8-2.4 .8 1.6 .8-.7 .8 3.1 .8-3.7 .8 2.6 .8-2.8 .8 4.7 .8-4.1 .8 4.6 .8-3.2 .8 3.3 .8-2.8 .8 3.5 .8-4.4 .8 3.5 .8-.7 .8 .6 .8-3 .8 2.9 .8-.2 .8 2 .8-1.6 .8 1.6 .8-3 .8 4 .8-4.2 .8 2.6 .8-1.6 .8 3.3 .8-3 .8 1.2 .8-.6 .8 .3 .8-.8 .8-.1 1.6 1.4 .8-.6 .8 2.2 .8-2.2 .8 2.1 2.4-2.3 .8 1 .8-1.7 .8 3.5 .8-2.6 .8 1.5 .8-.2 .8-.9 .8 .2 .8 1.4 .8-2.5 1.6 2 1.6 0 1.6 1.4" stroke="#FE6100"/>
<path d="M1426.6 346.7l.8-.7 .8 .6 .8-.6 .8 .5 .8-1 .8 1.1 .8-.9 .8 .6 .8-.9 .8 1.1 .8-1.6 .8 1.4 .8-1.4 .8 1.5 .8-1.8 .8 1.2 .8-1 .8 1.6 .8-2.4 .8 1.8 .8-2.2 .8 2.4 .8-3 .8 2.5 .8-2.7 .8 2.8 .8-3.3 .8 2.6 .8-3.4 .8 4.8 .8-3.9 .8 2.7 .8-3.5 .8 2.5 .8-3.4 .8 3.7 .8-4.3 .8 4.2 .8-3.9 .8 3.8 .8-4.9 .8 4 .8-5 .8 3.3 .8-3.4 .8 4.4 .8-4.6 .8 2.5 .8-3.2 .8 3.6 .8-4.9 .8 4.7 .8-5.2 .8 3.8 .8-5.3 .8 3.8 .8-3.4 .8 3.4 .8-4.6 .8 2.8 .8-4.8 .8 4.1 .8-4.6 .8 4.5 .8-4.8 .8 3.4 .8-5.7 .8 4.4 .8-4.5 .8 2.5 .8-4.1 .8 3.7 .8-5.5 .8 4.1 .8-4.3 .8 3 .8-5.9 .8 3.2 .8-3.8 .8 2.3 .8-4.5 .8 4 .8-4.6 .8 2.2 .8-4.4 .8 2.6 .8-3.7 .8 2.4 .8-5.1 .8 3.6 .8-4.7 .8 3.4 .8-5.9 .8 3.4 .8-4.6 .8 3.4 .8-5.7 .8 4.1 .8-4.4 .8 2.1 .8-5.2 .8 2.9 .8-5.2 .8 5 .8-6 .8 3.3 .8-4.5 .8 2.2 .8-3.9 .8 2.1 .8-3.7 .8 3.6 .8-5.9 .8 2.7 .8-4.8 .8 3.1 .8-3.8 .8 2.6 .8-4.6 .8 3.4 .8-4.5 .8 2.4 .8-4.5 .8 4.5 .8-6 .8 4.2 .8-4.9 .8 4.4 .8-5 .8 3.1 .8-5.5 .8 5.3 .8-5.1 .8 3 .8-4.8 .8 4.3 .8-4.9 .8 3.8 .8-3.8 .8 3.2 .8-3.9 .8 4.5 .8-4.7 .8 3.9 .8-4.7 .8 3.9 .8-3.8 .8 5.1 .8-4.6 .8 2.3 .8-2.4 .8 2.8 .8-2.7 .8 3.2 .8-2 .8 2.4 .8-2.3 .8 2.6 .8-2.3 .8 3.2 .8-2.3 .8 3.4 .8-1.8 .8 2.7 .8-2.3 .8 2.9 .8-2 .8 3.5 .8-2.4 .8 3.5 .8-1.3 .8 2.6 .8-1.4 .8 3.2 .8-1.8 .8 3.8 .8-2.5 .8 3.9 .8-2.4 .8 3.4 .8-1.6 .8 3.6 .8-1.7 .8 3.7 .8-1.4 .8 3 .8-1.3 .8 3 .8-1 .8 3.7 .8-2 .8 3.4 .8-1.4 .8 3.1 .8-1.6 .8 3.6 .8-1.5 .8 3.2 .8-1.2 .8 3.8 .8-2.3 .8 4.2 .8-2.4 .8 4.1 .8-2.3 .8 3.3 .8-1.8 .8 3.8 .8-1.3 .8 3.1 .8-1.9 .8 3.8 .8-1.6 .8 3 .8-2.1 .8 3.4 .8-2.1 .8 4.3 .8-2.8 .8 3.5 .8-2.2 .8 4.2 .8-2.9 .8 3.5 .8-1.1 .8 3.3 .8-3 .8 4.3 .8-2.3 .8 3.1 .8-3 .8 3.7 .8-1.9 .8 2.9 .8-2.1 .8 3.6 .8-3.5 .8 3.7 .8-3.1 .8 4.6 .8-4.2 .8 3.9 .8-1.8 .8 3.3 .8-2.1 .8 .7 .8-.7 .8 2.8 .8-3.3 .8 2.9 .8-1.7 .8 1.2 .8-.6 .8 2.2 .8-2.7 .8 2.7 .8-2.1 .8 4.9 .8-3.4 .8 .6 .8-2.4 .8 4.5 .8-2.6 .8 3.1 .8-4.2 .8 3.3 .8-1 .8 2.2 .8-2.4 .8 .9 .8-.3 .8 1.2 .8-3 .8 4.5 2.4-4.2 .8 2.9 .8-.6 .8 0 .8-.5 .8-.1 .8 0 .8 1.1 .8-2.2 .8 2.4 .8 .9 .8-2.6 1.6 3.2 .8-.7 .8-2.8 .8 2.9 .8-2.2 .8 .4 .8 2.4 .8-1.2 .8-2.1 .8 3 .8-3 .8 1.2 .8 2.3 .8-3.7 .8 4 .8-4 .8 4.1" stroke="#FFB000"/>
<path d="M1447.4 346.5l.8-.8 .8 .6 .8-.7 .8 .8 .8-1 .8 1.3 .8-1.3 .8 1.1 .8-1.8 .8 1.5 .8-1.2 .8 1.2 .8-1.8 .8 1.7 .8-2.5 .8 2.3 .8-2.6 .8 2.2 .8-2.2 .8 2.9 .8-2.9 .8 2.4 .8-3.4 .8 3.6 .8-4.6 .8 3.9 .8-4.4 .8 3.9 .8-2.7 .8 2.5 .8-3.3 .8 4 .8-4.2 .8 2.8 .8-3.8 .8 4.1 .8-5.1 .8 3.8 .8-3.1 .8 3.9 .8-4.9 .8 4.1 .8-5.4 .8 4.2 .8-3.8 .8 3.6 .8-4.9 .8 4.1 .8-4.4 .8 3.6 .8-3.8 .8 2.8 .8-4.8 .8 4.7 .8-5.4 .8 3.8 .8-4.7 .8 3.3 .8-4.6 .8 4.5 .8-5.1 .8 4.1 .8-6.1 .8 5.2 .8-4.7 .8 2.9 .8-4.4 .8 3.9 .8-5.1 .8 2.1 .8-4.5 .8 3.3 .8-4.1 .8 3.8 .8-5.4 .8 3.1 .8-4.9 .8 4.4 .8-6.5 .8 4.1 .8-5.6 .8 4.4 .8-4.8 .8 3.7 .8-6.6 .8 4 .8-5.1 .8 3.9 .8-5.5 .8 2.9 .8-5 .8 3.3 .8-3.9 .8 2.8 .8-4.9 .8 2.4 .8-4.4 .8 2.7 .8-4 .8 3.6 .8-5.4 .8 3.4 .8-5.6 .8 3.4 .8-5.3 .8 3.6 .8-6.1 .8 4.4 .8-5.8 .8 3.6 .8-5.5 .8 3.8 .8-5 .8 3.6 .8-5.2 .8 4.2 .8-6.8 .8 5.1 .8-4.8 .8 3.1 .8-5.2 .8 4.7 .8-5.9 .8 4.3 .8-5.7 .8 4.6 .8-6.8 .8 4.5 .8-4.8 .8 4 .8-3.7 .8 3.4 .8-4.8 .8 3.5 .8-4 .8 3.6 .8-4.6 .8 5.1 .8-5.3 .8 3.6 .8-4 .8 5 .8-6 .8 5.4 .8-5.7 .8 3.9 .8-1.9 .8 2.2 .8-2.1 .8 2.7 .8-2.6 .8 2.4 .8-2.2 .8 2.8 .8-2.4 .8 2.9 .8-1.8 .8 2.4 .8-1.9 .8 3.4 .8-2.5 .8 2.9 .8-1.8 .8 3.6 .8-2.7 .8 3.5 .8-2.3 .8 3.7 .8-1.3 .8 2.3 .8-2 .8 4.5 .8-1.9 .8 2.8 .8-1.6 .8 3.6 .8-1.8 .8 3.8 .8-2.4 .8 3.7 .8-2.2 .8 4.2 .8-2.1 .8 3.4 .8-1 .8 3.7 .8-1.8 .8 3 .8-1.7 .8 3.6 .8-2 .8 3.9 .8-1.2 .8 3.3 .8-2.2 .8 4.5 .8-2.3 .8 4.2 .8-2.4 .8 3.2 .8-.9 .8 3.4 .8-1.5 .8 3.3 .8-1.6 .8 2.9 .8-1.7 .8 3.7 .8-2 .8 4 .8-2.6 .8 3.3 .8-1.9 .8 3.8 .8-1.8 .8 3 .8-2.1 .8 4.1 .8-2.2 .8 3.7 .8-2.8 .8 3.3 .8-1.9 .8 4.1 .8-2.8 .8 3.3 .8-1.8 .8 3.5 .8-2.3 .8 2.5 .8-2.3 .8 3.2 .8-1.7 .8 2.6 .8-2.3 .8 2.4 .8-2 .8 3.3 .8-2.3 .8 4.4 .8-4.1 .8 4.7 .8-2.8 .8 2.5 .8-2.4 .8 2.9 .8-2.3 .8 2 .8-2.5 .8 4.8 .8-3.4 .8 3.2 .8-4.4 .8 3.9 .8-2.6 .8 3.4 .8-2.4 .8 2.3 .8-3 .8 1.9 .8-2.7 .8 3.8 .8-2.7 .8 4.8 .8-2.2 .8 .3 .8-2.7 .8 4 .8-2.1 .8 2.3 .8-2.5 .8 1.2 .8-1.3 .8 1.4 .8 .2 .8 1 .8-2.6 .8 1.1 .8 0 .8 1.3 .8-.5 .8 .6 .8-1.8 .8 2.8 .8-2.4 .8 2.3 .8-3.1 .8 1.1 .8 0 .8 2 .8-3.6 .8 1 .8 3 .8-3.1 .8-.5 .8 1.7 .8-1.1 .8 3.3 .8-1.9 1.6 1.5 1.6-1.4 .8 1.9" stroke="#63A00C"/>
<path d="M1458.6 346.6l.8-.6 .8 .8 .8-1 .8 .9 .8-.7 .8 .3 .8-.2 .8 .4 .8-1.1 .8 1 .8-1.1 .8 1.3 .8-1.1 .8 .6 .8-1 .8 1 .8-1.5 .8 1.5 .8-1.2 .8 1.2 .8-1.3 .8 1.2 .8-2 .8 1.6 .8-1.1 .8 1.3 .8-1.8 .8 1.8 .8-3 .8 2.8 .8-2.7 .8 1.9 .8-3 .8 3.6 .8-3.4 .8 2.9 .8-4.6 .8 4.6 .8-4.5 .8 4.9 .8-5.9 .8 5.5 .8-5 .8 3.8 .8-4.4 .8 5.3 .8-5 .8 3.6 .8-4.1 .8 2.4 .8-3.6 .8 3.9 .8-4.3 .8 3.8 .8-4.5 .8 4.1 .8-4.6 .8 4.6 .8-5 .8 3.7 .8-5.5 .8 4.3 .8-5.1 .8 3.7 .8-3.3 .8 3.2 .8-4.7 .8 3.2 .8-5 .8 4.6 .8-5.5 .8 5.2 .8-6.1 .8 3.7 .8-4.1 .8 2.4 .8-4.5 .8 4.1 .8-5.6 .8 4.5 .8-4.5 .8 2.1 .8-4 .8 3.2 .8-6 .8 4.9 .8-6.5 .8 4.2 .8-5.5 .8 3.5 .8-4.9 .8 4.9 .8-6.8 .8 4.4 .8-5.7 .8 4.7 .8-5.2 .8 2.6 .8-4.9 .8 3 .8-6 .8 3.8 .8-5.5 .8 3.9 .8-4.1 .8 3.9 .8-5.8 .8 3.6 .8-7 .8 4.9 .8-5.9 .8 4.9 .8-6.6 .8 2.9 .8-3.9 .8 3.3 .8-5.9 .8 3.5 .8-5.9 .8 4.9 .8-5.7 .8 4.6 .8-5.6 .8 2.3 .8-5.4 .8 5.4 .8-6.4 .8 5.2 .8-6.7 .8 5.5 .8-6.8 .8 4.5 .8-6.3 .8 6.1 .8-6.1 .8 3.6 .8-4.7 .8 3.9 .8-6.1 .8 5.9 .8-5.5 .8 3.3 .8-3.5 .8 4.6 .8-6.9 .8 5.9 .8-4.9 .8 3.6 .8-5.5 .8 4.7 .8-3.6 .8 4.7 .8-6.2 .8 6.3 .8-4.3 .8 2.8 .8-2.8 .8 2.9 .8-2.9 .8 3 .8-2.3 .8 2.1 .8-2.2 .8 2.9 .8-2.2 .8 2.5 .8-1.7 .8 3.2 .8-2.3 .8 3.6 .8-2.9 .8 3.4 .8-2.1 .8 2.8 .8-1.7 .8 3.7 .8-1.9 .8 2.4 .8-1 .8 2.7 .8-1.3 .8 3.2 .8-2.2 .8 4 .8-2.7 .8 3.9 .8-1.7 .8 3.7 .8-1.4 .8 3.6 .8-2.4 .8 3.4 .8-1.9 .8 4.1 .8-1.8 .8 3.4 .8-1.5 .8 4.1 .8-2.9 .8 4.7 .8-1.8 .8 2.9 .8-1.8 .8 3.7 .8-1.1 .8 4 .8-2.9 .8 4.2 .8-1.4 .8 3 .8-2.1 .8 3.5 .8-.8 .8 3.3 .8-2 .8 4 .8-2.1 .8 2.8 .8-1.5 .8 3.7 .8-1.6 .8 3 .8-1.4 .8 2.8 .8-2.1 .8 3.3 .8-1.7 .8 3.3 .8-1.3 .8 3.4 .8-2.7 .8 3.2 .8-1.6 .8 3.5 .8-2.4 .8 3.4 .8-3 .8 3.8 .8-2.5 .8 4.1 .8-3.7 .8 4.4 .8-2.7 .8 3.6 .8-3.3 .8 3.4 .8-3.2 .8 4.1 .8-3.9 .8 4.7 .8-3.1 .8 2.5 .8-.9 .8 3.4 .8-4.6 .8 5.2 .8-3.4 .8 2.5 .8-1.8 .8 1.5 .8-.4 .8 1.3 .8-3.5 .8 4 .8-4 .8 5.9 .8-2.5 .8 1 .8-1.5 .8 2.8 .8-2.7 .8 2.6 .8-1.5 .8 2.1 .8-2.3 .8 1.8 .8-3.3 .8 1.8 .8-1.5 .8 1.8 .8-1.8 .8 2.2 .8 .6 .8 1.2 .8-3.8 .8 3.2 .8-1.8 .8 2.3 2.4-1.3 .8-.8 1.6 2.2 .8-3.2 1.6 1.7 .8 1.7 .8 .4 .8-3.3 .8 3 .8-.4 .8 .7 .8-.1 .8-1.2 .8-.4 .8-.9 .8 1.6 1.6-2 2.4 3.5" stroke="#2F1DAF"/>
<path d="M1474.6 346.2l.8-.3 .8 .2 .8-.3 .8 .7 .8-.3 .8 .3 .8-.6 .8 .1 .8-.4 .8 .6 .8-1.1 .8 1.2 .8-.7 .8 .4 .8-.5 .8 .6 .8-.6 .8 .1 .8-.9 .8 1.8 .8-2 .8 1.9 .8-2.6 .8 1.6 .8-2.1 .8 2.8 .8-2 .8 1.8 .8-2.3 .8 2.7 .8-3.1 .8 1.8 .8-2.3 .8 3 .8-3.4 .8 3.7 .8-3.9 .8 2.7 .8-3.5 .8 3.7 .8-4.3 .8 4.6 .8-5.1 .8 3.8 .8-3.6 .8 3.7 .8-4.4 .8 3.7 .8-4.5 .8 5.4 .8-4.6 .8 2.5 .8-4.7 .8 4.9 .8-5.5 .8 5.5 .8-5.5 .8 5 .8-6.6 .8 4.4 .8-3.2 .8 3.5 .8-3.9 .8 3.7 .8-5.2 .8 3 .8-3.7 .8 2.6 .8-4.2 .8 5 .8-6.4 .8 5.6 .8-5.9 .8 4.1 .8-5.6 .8 4.1 .8-5 .8 3.8 .8-5.5 .8 3.8 .8-4.3 .8 4.2 .8-6.4 .8 4.2 .8-4.7 .8 4.4 .8-5.7 .8 3.4 .8-5.8 .8 3.5 .8-4.8 .8 4.6 .8-5.2 .8 3.2 .8-6 .8 4.7 .8-6.1 .8 4.5 .8-5.7 .8 3.3 .8-6 .8 3.7 .8-5.5 .8 4.3 .8-4.9 .8 3.8 .8-6.7 .8 5.2 .8-7.3 .8 4.4 .8-4.3 .8 3.1 .8-5 .8 3.3 .8-7 .8 5.2 .8-5.8 .8 4.7 .8-7.1 .8 4.6 .8-6.4 .8 5.1 .8-6.3 .8 3.3 .8-4.6 .8 4.1 .8-5.6 .8 4.7 .8-5.7 .8 2.8 .8-4.7 .8 4.6 .8-6.9 .8 3.8 .8-4.9 .8 5.2 .8-6.7 .8 4.4 .8-5.9 .8 4.4 .8-3.8 .8 3.5 .8-5.5 .8 4.8 .8-5.1 .8 4.6 .8-5.7 .8 5.3 .8-5 .8 3.3 .8-5.8 .8 6.4 .8-6.7 .8 6.3 .8-5.1 .8 3.8 .8-4.2 .8 4.6 .8-3.2 .8 2.1 .8-2.6 .8 3.5 .8-3.1 .8 3.5 .8-3.4 .8 3.1 .8-2.7 .8 3.6 .8-3 .8 3.9 .8-3.1 .8 4 .8-2.7 .8 3.9 .8-3.3 .8 4.4 .8-2.6 .8 3.6 .8-2.5 .8 3.8 .8-2.7 .8 3.5 .8-1.2 .8 3.3 .8-2.3 .8 3.4 .8-2.4 .8 4.1 .8-2.4 .8 4.3 .8-1.7 .8 3.9 .8-2.8 .8 4.5 .8-2.1 .8 3.2 .8-1.5 .8 3.9 .8-2.2 .8 3.6 .8-1.8 .8 3.8 .8-2.4 .8 3.9 .8-1.5 .8 4 .8-2 .8 3.8 .8-2 .8 3.5 .8-2.2 .8 4 .8-1.9 .8 3.8 .8-2.3 .8 3.8 .8-2 .8 4.3 .8-1.9 .8 3.6 .8-1.5 .8 3.1 .8-1.5 .8 3.5 .8-2.1 .8 3.3 .8-2.7 .8 4.7 .8-3.2 .8 3.8 .8-1.8 .8 3.3 .8-1.7 .8 3.8 .8-2.6 .8 3.4 .8-2.7 .8 3.5 .8-1.8 .8 2.6 .8-2 .8 3.9 .8-3.3 .8 4.1 .8-2.6 .8 3.6 .8-2.7 .8 3.5 .8-3.6 .8 4.7 .8-2.7 .8 2.5 .8-2.4 .8 2.6 .8-2.4 .8 3.7 .8-2 .8 1.7 .8-2.9 .8 3.5 .8-1.9 .8 1.2 .8-.7 .8 3.2 .8-5.1 .8 3 .8-2.4 .8 5 .8-2 .8 2 .8-2.7 .8 3.5 .8-3.2 .8 3.8 .8-3.2 .8 2.5 .8-3.4 .8 3 .8-1.4 .8 1 .8-1.5 .8 3.1 .8-2.5 .8 .5 .8 1 .8 .5 .8-.2 .8 1.6 .8-2.7 .8 1.5 1.6 .2 .8-1.9 .8 1 .8-.9 .8 2 .8-.8 .8-.1 .8 .9 .8-2.2 .8-.3 .8 2.7 .8-1.4 .8 1.4 .8-1.9 .8 1.2 1.6-1.2 .8 2.9" stroke="#648FFF"/>
<path d="M1486.6 346.8l.8-.8 1.6 .9 .8-.9 .8 .1 .8-.6 .8 .5 2.4 .2 1.6-.2 .8-.5 .8 0 .8 1.2 .8-1.4 .8 1.2 .8-.9 .8 .4 .8-.2 1.6-1.1 .8 1.4 .8-.8 .8 0 .8-1.2 .8 1.6 .8-.8 .8 .8 .8-1.7 .8 1.1 .8-1.8 .8 2.6 .8-1.4 .8 1.6 .8-2.1 .8 .9 .8-1.7 .8 2.6 .8-2.6 .8 2.9 .8-3.5 .8 2.6 .8-4.1 .8 3.5 .8-2.6 .8 2.6 .8-4 .8 4.7 .8-4.4 .8 3.7 .8-4.4 .8 5.8 .8-6.2 .8 4.2 .8-4.2 .8 2.7 .8-4.5 .8 6.4 .8-6.6 .8 3.7 .8-3.5 .8 4.9 .8-6 .8 3.6 .8-4 .8 4.5 .8-5.6 .8 5.4 .8-6.1 .8 4.2 .8-4.7 .8 4.7 .8-6 .8 4.2 .8-4.3 .8 4.1 .8-5 .8 4.9 .8-5.9 .8 3.9 .8-4.6 .8 3.6 .8-5 .8 3.8 .8-4.4 .8 3.5 .8-5.9 .8 5 .8-5.9 .8 4.8 .8-5.1 .8 2.2 .8-3.9 .8 2.7 .8-4 .8 4.2 .8-7.2 .8 4.7 .8-5.6 .8 4.2 .8-5.2 .8 3.3 .8-5.1 .8 2.8 .8-5.4 .8 5.1 .8-6.4 .8 3.4 .8-4.2 .8 3.2 .8-5.6 .8 4.3 .8-6.2 .8 5 .8-6.3 .8 4 .8-5.6 .8 3.7 .8-5.8 .8 4.3 .8-6.4 .8 3.7 .8-4.5 .8 2.3 .8-4.6 .8 4.6 .8-7.6 .8 5.2 .8-6.8 .8 4.9 .8-6.7 .8 4.1 .8-4.6 .8 3.1 .8-5.3 .8 3.5 .8-5.6 .8 4.9 .8-5.8 .8 3.9 .8-4.6 .8 3 .8-3.9 .8 4.6 .8-5.7 .8 3.8 .8-5.9 .8 5.2 .8-5.1 .8 3.8 .8-6.5 .8 5.3 .8-5.3 .8 4.9 .8-5 .8 4.8 .8-6 .8 5.1 .8-4.6 .8 3.6 .8-4.4 .8 4.6 .8-4.7 .8 4.6 .8-4.7 .8 3.9 .8-3.5 .8 2.9 .8-2.1 .8 2.1 .8-1.8 .8 3.3 .8-3.3 .8 3.2 .8-2.5 .8 3.5 .8-2.6 .8 2.9 .8-2 .8 2.6 .8-2.1 .8 3.3 .8-2.6 .8 3.7 .8-1.9 .8 2.9 .8-1.5 .8 3.1 .8-1.6 .8 2.8 .8-1.4 .8 3.5 .8-1.7 .8 3 .8-1.4 .8 3.1 .8-1.8 .8 3.9 .8-1.7 .8 3 .8-1.3 .8 3.6 .8-2.2 .8 4 .8-2.3 .8 4.4 .8-2.6 .8 3.6 .8-1.9 .8 4.6 .8-2.5 .8 4 .8-2.3 .8 4.7 .8-2.4 .8 4 .8-2.7 .8 4.6 .8-2.8 .8 4.6 .8-2.8 .8 5 .8-2.7 .8 4 .8-1.7 .8 3.8 .8-3.2 .8 4 .8-1.6 .8 4.1 .8-2 .8 3.6 .8-2.7 .8 3.6 .8-2.5 .8 4.2 .8-2.7 .8 4.4 .8-2.5 .8 2.8 .8-1.7 .8 3.1 .8-2.2 .8 3.6 .8-1.6 .8 3.6 .8-3.4 .8 3.4 .8-2.1 .8 3.7 .8-2.3 .8 3.6 .8-2.7 .8 2.5 .8-2.4 .8 3.6 .8-2.5 .8 2.5 .8-1.2 .8 1.9 .8-2 .8 2.7 .8-2.2 .8 2.7 .8-1.9 .8 2.5 .8-3.3 .8 3 .8-1.2 .8 1.5 .8-2 .8 2.1 .8-1.8 .8 2.3 .8-2.9 .8 5.4 .8-3.5 .8 2.8 .8-3 .8 2.4 .8-2.2 .8 2 .8-1.9 .8 5.2 .8-4.4 .8 2.2 .8 .1 .8 .7 .8-.4 .8 .1 .8-1.9 .8 2.9 .8-2.5 .8 2.6" stroke="#785EF0"/>
<path d="M1505.8 346.7l.8-1 .8 .9 .8-.8 .8 0 .8 .9 .8-1.2 .8 1.2 .8-.3 .8 .4 .8-1.3 .8 1.1 .8-1.1 .8 .4 .8-1.2 .8 1.9 .8-.7 1.6-.2 .8-.6 .8 .7 .8-.8 .8 .8 1.6-1.5 .8 2.2 .8-2.5 .8 1.4 .8-.6 .8 .8 .8-1.4 .8 .7 .8-.5 .8 0 .8-1.8 .8 2.4 .8-1.7 .8 1.7 .8-2.8 .8 2.7 .8-2.7 .8 1.6 .8-.4 .8 1.2 .8-3.7 .8 3.1 .8-4.3 .8 5.6 .8-4.8 .8 3.3 .8-3.8 .8 4.3 .8-4.4 .8 3.7 .8-3.4 .8 3.1 .8-4 .8 5 .8-5.2 .8 3.3 .8-5.7 .8 7 .8-6.7 .8 4.7 .8-5.9 .8 4.8 .8-4 .8 3.3 .8-4.2 .8 4.1 .8-5.6 .8 5.4 .8-4.7 .8 3.9 .8-6.1 .8 5 .8-4.4 .8 2.5 .8-3.6 .8 2.9 .8-4.8 .8 4.3 .8-6.1 .8 4.9 .8-6.1 .8 6.2 .8-5.8 .8 4.4 .8-7 .8 5.5 .8-6.3 .8 4.4 .8-6.1 .8 4.9 .8-5.2 .8 4.7 .8-7.6 .8 6.1 .8-6 .8 4.1 .8-7.3 .8 5.6 .8-6.4 .8 3.8 .8-6.1 .8 4.8 .8-4.9 .8 3.9 .8-6.2 .8 2.8 .8-5.9 .8 5 .8-5.6 .8 4.3 .8-6.7 .8 4.4 .8-5.1 .8 4.2 .8-7.1 .8 3.6 .8-4.9 .8 4.9 .8-6.7 .8 3.6 .8-6.3 .8 4.7 .8-6.6 .8 5.1 .8-5 .8 3.1 .8-6.1 .8 4.9 .8-6.6 .8 5.7 .8-7.5 .8 4.5 .8-5.2 .8 3.3 .8-5.6 .8 5.3 .8-7.1 .8 4.7 .8-4.6 .8 3.7 .8-5.2 .8 3.8 .8-6 .8 4.5 .8-4 .8 3 .8-3.8 .8 3 .8-5 .8 5.2 .8-4.8 .8 3.7 .8-5.9 .8 5.5 .8-6.3 .8 5.3 .8-4.1 .8 5.2 .8-5.8 .8 5.4 .8-6 .8 5 .8-3.8 .8 3.4 .8-2.9 .8 2.9 .8-3.1 .8 2.7 .8-2 .8 3.1 .8-2.2 .8 2.7 .8-2.1 .8 3 .8-3.2 .8 3.2 .8-1.5 .8 2.5 .8-2 .8 3.9 .8-2.3 .8 3.5 .8-2.2 .8 2.7 .8-2.1 .8 3.6 .8-2.2 .8 4.1 .8-2.4 .8 4 .8-1.9 .8 2.7 .8-1.5 .8 3.6 .8-2.3 .8 4.4 .8-2.7 .8 4.1 .8-1.3 .8 3.6 .8-2.5 .8 3.5 .8-2 .8 4.6 .8-2.1 .8 3.7 .8-1.3 .8 3.2 .8-1.5 .8 3.9 .8-2.7 .8 4.8 .8-2.1 .8 3.1 .8-1.2 .8 3.1 .8-1.2 .8 3.8 .8-2.7 .8 4.2 .8-2.3 .8 4 .8-2.8 .8 4.6 .8-2.5 .8 4 .8-1.8 .8 3.8 .8-2.9 .8 3.6 .8-1.9 .8 3.7 .8-2.1 .8 3.7 .8-2.1 .8 3.5 .8-2 .8 2.7 .8-1.7 .8 3.4 .8-2.2 .8 3.8 .8-3.2 .8 3.3 .8-2.2 .8 3.4 .8-2.1 .8 3.8 .8-2.3 .8 2.7 .8-2.4 .8 3.6 .8-2.4 .8 2.9 .8-3.2 .8 3.4 .8-2.2 .8 4.3 .8-4.2 .8 4.3 .8-3.9 .8 4.4 .8-3.5 .8 2.9 .8-.7 .8 1.3 .8-1.7 .8 1.4" stroke="#DC267F"/>
<path d="M1524.2 346.9l.8-1.3 .8 .2 .8-.9 .8 1.1 .8-1.3 .8 2.2 1.6-1.3 .8-1.1 .8 1.2 .8-1.5 .8 .7 .8-.5 .8 1.1 .8 0 .8 .5 .8-1.6 .8 2.2 .8-.7 .8-.2 .8-2 .8 2.5 .8-.9 .8 1.1 .8-2.1 .8 .7 .8-1.2 .8 2.3 .8-1.3 .8 1.1 .8-2.2 .8 1.9 .8-1.8 .8 1.2 .8-2.2 .8 3.1 .8-3.1 .8 1.6 .8-1.1 .8 1.8 .8-3.4 .8 3 .8-3.2 .8 3.7 .8-4.5 .8 4.4 .8-6.2 .8 5.2 .8-3.1 .8 3.5 .8-5.2 .8 4.2 .8-3.7 .8 3.4 .8-4.5 .8 4.2 .8-4.6 .8 3.4 .8-3.5 .8 3.1 .8-3.8 .8 4.7 .8-6.3 .8 5.5 .8-5.1 .8 5.2 .8-6.6 .8 5.3 .8-6.3 .8 4.6 .8-4.3 .8 4.7 .8-6.1 .8 4.8 .8-5.3 .8 4.6 .8-5.6 .8 5.6 .8-6.6 .8 4.7 .8-4.8 .8 4.2 .8-6.3 .8 4.5 .8-5 .8 3.5 .8-4.1 .8 4.8 .8-5.8 .8 3.3 .8-5.1 .8 3.7 .8-5.6 .8 4.1 .8-6.3 .8 6.1 .8-7.2 .8 5.3 .8-6.7 .8 5.5 .8-6.3 .8 4 .8-5.5 .8 3.8 .8-6.5 .8 5.5 .8-7 .8 3.7 .8-5.2 .8 5 .8-6.2 .8 4.2 .8-7.3 .8 6.1 .8-7.7 .8 5.9 .8-7.3 .8 4.5 .8-6.4 .8 4.6 .8-5 .8 4.2 .8-6.4 .8 3.7 .8-7.2 .8 5.6 .8-6.9 .8 5.8 .8-6.7 .8 4.6 .8-6.9 .8 3.9 .8-5.5 .8 5.2 .8-6.9 .8 4.7 .8-5.5 .8 3.8 .8-5.8 .8 5.4 .8-5.8 .8 4.6 .8-7.5 .8 6.1 .8-6.8 .8 4.8 .8-5.1 .8 3.9 .8-4.4 .8 2.9 .8-4.4 .8 4.5 .8-6.5 .8 5.2 .8-4.7 .8 3.7 .8-4.5 .8 6 .8-6.2 .8 3.7 .8-5 .8 6.8 .8-6.6 .8 5.5 .8-6.1 .8 4.3 .8-2.8 .8 3.8 .8-3.9 .8 3.7 .8-3.4 .8 3.3 .8-1.8 .8 2.2 .8-1.7 .8 2.8 .8-2.9 .8 4.2 .8-3.5 .8 4.3 .8-3.2 .8 3.1 .8-1.5 .8 3.6 .8-2.4 .8 3.1 .8-2.7 .8 4.3 .8-2.6 .8 3.9 .8-2.3 .8 3.6 .8-2.5 .8 3.8 .8-1.8 .8 4.3 .8-2.3 .8 3.3 .8-1.9 .8 4 .8-1.9 .8 3.2 .8-1.9 .8 4.4 .8-1.9 .8 3.4 .8-1.6 .8 4.1 .8-2 .8 3 .8-1.7 .8 3.6 .8-2 .8 4.4 .8-1.6 .8 3.8 .8-2.9 .8 4.5 .8-1.9 .8 3.7 .8-1.7 .8 3.5 .8-2 .8 4.1 .8-3.1 .8 4.1 .8-2.4 .8 4.4 .8-2 .8 3.7 .8-2.4 .8 3.5 .8-1.2 .8 3.3 .8-2.7 .8 4.5 .8-3 .8 3.3 .8-2.2 .8 4.4 .8-3.1 .8 3.6 .8-1.9 .8 4.2 .8-2.8 .8 3 .8-1.6 .8 3.7" stroke="#FE6100"/>
<path d="M1544.2 346.4l.8-1.4 .8-.2 .8 .9 .8-1 .8 .8 .8-1.3 .8 1.4 .8-.5 1.6 1.2 .8-.1 .8-2.2 .8 1.5 .8-.1 1.6 .5 .8-.7 .8-1.7 .8 2.9 .8-1.5 .8-.4 1.6 1.8 .8-1.1 .8 .3 .8-2.7 .8 3.6 .8-3.7 .8 3.5 .8-3.8 .8 3.8 .8-2.6 .8 .5 .8-1.7 .8 2.4 .8-3.2 .8 5.1 .8-6.1 .8 5.3 .8-4.6 .8 4.3 .8-4.3 .8 3.9 .8-5.8 .8 5 .8-4.5 .8 6.8 .8-7.9 .8 5.7 .8-4.1 .8 5.2 .8-7.1 .8 6.3 .8-7 .8 4.1 .8-3.1 .8 3.8 .8-5.6 .8 6.9 .8-8.5 .8 4.9 .8-5.3 .8 5.4 .8-4.2 .8 3.7 .8-3.8 .8 4.8 .8-6.7 .8 6 .8-5.7 .8 3.4 .8-3.9 .8 3.9 .8-4.9 .8 3.9 .8-4.5 .8 4.4 .8-6.1 .8 3.9 .8-5.6 .8 5.6 .8-7 .8 4.6 .8-5.6 .8 5.2 .8-5.3 .8 4.5 .8-7.3 .8 6.2 .8-5.7 .8 3.7 .8-5.9 .8 3.5 .8-6.1 .8 5.2 .8-4.6 .8 2.8 .8-6.3 .8 4.7 .8-4.4 .8 4 .8-7.6 .8 4.8 .8-6.3 .8 5.4 .8-7 .8 6 .8-8 .8 4.3 .8-4.3 .8 3 .8-5 .8 3.9 .8-7.1 .8 5.2 .8-5.8 .8 4.1 .8-6.5 .8 5.3 .8-7.5 .8 4.3 .8-6.4 .8 4.7 .8-6.2 .8 4.3 .8-5 .8 3.2 .8-6.4 .8 5.4 .8-6.5 .8 4.5 .8-6.1 .8 5.6 .8-7.3 .8 6 .8-7 .8 3.9 .8-6.4 .8 6.7 .8-6.3 .8 4.7 .8-7.5 .8 4.7 .8-4.4 .8 3.4 .8-5.5 .8 5.6 .8-5.3 .8 3.5 .8-4.3 .8 3.9 .8-6.1 .8 5.8 .8-6 .8 6.3 .8-7.3 .8 5.8 .8-6.2 .8 5.2 .8-6.1 .8 6.1 .8-5.4 .8 4.7 .8-2.9 .8 2.4 .8-2.5 .8 3 .8-3.4 .8 3.2 .8-2.3 .8 3.5 .8-3.7 .8 3.6 .8-2.4 .8 3.4 .8-2.9 .8 4 .8-3.3 .8 3.2 .8-2.5 .8 3.7 .8-2.2 .8 4.1 .8-3.2 .8 3.7 .8-2 .8 3.5 .8-2.6 .8 4.5 .8-2.6 .8 3.7 .8-2.3 .8 3.6 .8-2.1 .8 4.1 .8-2.3 .8 4.2 .8-2.6 .8 4.4 .8-2.1 .8 4.4 .8-2.1 .8 4 .8-2.1 .8 3.9 .8-2.1 .8 3.2 .8-2.2 .8 4.7 .8-2.8 .8 3.9 .8-1.9 .8 3.6 .8-1.9 .8 4.6 .8-2.8 .8 4.8 .8-2.2 .8 3.1 .8-1.5 .8 3.4 .8-2.2 .8 4.7" stroke="#FFB000"/>
<path d="M1561.0 347.0l.8-1.5 .8 1.4 .8-1.1 .8-.3 .8-1.7 .8 2.2 .8-.9 .8 1.3 .8-2.4 .8 2.7 .8-3.1 .8 2.2 .8-1.8 .8 0 .8 1.2 1.6-.3 .8 1 .8-2.8 .8 2.6 .8-1.4 1.6 .1 .8 1.1 .8-1 .8 2.1 .8-1.7 .8 .7 .8-1.5 .8 1.5 .8-1.2 .8 2.6 .8-4.8 .8 2.5 .8-3.2 .8 3.1 .8-3.1 .8 4.2 .8-2.7 .8 1.3 .8-3.6 .8 3 .8-2.7 .8 4.4 .8-4.6 .8 4.4 .8-6.3 .8 5.8 .8-5.4 .8 4.4 .8-2.6 .8 4.2 .8-6.1 .8 4.8 .8-4.1 .8 1.8 .8-3.5 .8 4.2 .8-4.8 .8 5.7 .8-6 .8 5.6 .8-5.9 .8 3 .8-5.5 .8 7.8 .8-7 .8 5.1 .8-6.3 .8 6 .8-6 .8 5.8 .8-5 .8 3.9 .8-6.8 .8 4.7 .8-3.7 .8 3.8 .8-5.5 .8 3.8 .8-5.3 .8 4.3 .8-4 .8 2.6 .8-3.7 .8 3.2 .8-6.4 .8 6.3 .8-5.6 .8 4.2 .8-6.2 .8 3.3 .8-5.4 .8 4.2 .8-5.9 .8 4.2 .8-5.5 .8 5.6 .8-7.7 .8 4.3 .8-4.9 .8 4.3 .8-5.5 .8 5 .8-7.6 .8 4.3 .8-5.7 .8 5.5 .8-7 .8 4 .8-6 .8 3.9 .8-6 .8 5.4 .8-5.6 .8 2.6 .8-4.9 .8 3.5 .8-6 .8 4.5 .8-5.4 .8 4.8 .8-8.2 .8 4.8 .8-5.3 .8 5.1 .8-7.5 .8 4.2 .8-4.9 .8 4.4 .8-6.4 .8 3 .8-4.7 .8 4.5 .8-7.6 .8 5.8 .8-5.5 .8 4.1 .8-5.4 .8 3.5 .8-6.2 .8 5.5 .8-6.9 .8 6.3 .8-6.3 .8 5.1 .8-7.3 .8 5.6 .8-5.5 .8 3 .8-5.2 .8 6.1 .8-6.4 .8 3.7 .8-4.9 .8 4.9 .8-5.8 .8 6 .8-5.1 .8 5.5 .8-6.4 .8 5.4 .8-5.3 .8 4.5 .8-5.9 .8 7 .8-5.3 .8 3.6 .8-3.6 .8 3.7 .8-2.7 .8 2.5 .8-2.7 .8 3.1 .8-1.8 .8 3.3 .8-3.7 .8 4 .8-2.7 .8 3.4 .8-3 .8 3.7 .8-2.2 .8 3 .8-1.5 .8 3.4 .8-2.5 .8 3.8 .8-2.4 .8 3.6 .8-2.4 .8 3.6 .8-1.8 .8 3.7 .8-1.7 .8 3.1 .8-2.5 .8 4.7 .8-2.7 .8 4.3 .8-2.5 .8 3.6" stroke="#63A00C"/>
<path d="M1579.4 346.7l.8-2.4 .8-.3 .8 .1 .8 2 .8-.1 .8-.7 .8 1.2 .8-.5 .8-2.1 .8 2 .8 .6 .8-.3 .8-1 1.6 .2 .8-2.1 .8 3.5 .8-2.6 .8 1 .8-1.7 .8 1.9 .8-2.4 .8 1.9 2.4 .5 .8-.2 .8-1.2 .8 .2 .8-.3 .8 2.2 .8-3.9 .8 2.3 1.6-.6 .8-1.7 .8 4.4 .8-4.7 .8 2.7 .8-2.2 .8 4.5 .8-5.7 .8 2.1 .8-1.4 .8 2.2 .8-3.2 .8 3.9 .8-6.2 .8 8.2 .8-5.7 .8 4.8 .8-7.4 .8 6.8 .8-8.7 .8 5.3 .8-2.1 .8 3.5 .8-5.6 .8 6.6 .8-6.4 .8 4.6 .8-4.7 .8 2.2 .8-4 .8 5.6 .8-5.8 .8 4.3 .8-6 .8 6.6 .8-5.1 .8 2.8 .8-5.1 .8 6.2 .8-6.2 .8 5.7 .8-6.9 .8 6.3 .8-7.6 .8 6.2 .8-5.9 .8 5.1 .8-5.7 .8 2.8 .8-5.6 .8 6.7 .8-6.3 .8 4 .8-5.5 .8 4.2 .8-5.3 .8 3.4 .8-5.9 .8 4.9 .8-6.3 .8 4.7 .8-5.9 .8 4.2 .8-4.5 .8 3.7 .8-5.3 .8 4.7 .8-6.4 .8 4 .8-7.2 .8 4.5 .8-4.8 .8 4.8 .8-7.5 .8 5.5 .8-6.9 .8 5.3 .8-7.7 .8 5.9 .8-7.4 .8 4.3 .8-5.5 .8 3.7 .8-5.6 .8 5.2 .8-7.3 .8 4.9 .8-7.3 .8 5.4 .8-5.8 .8 3.6 .8-5.5 .8 3.4 .8-4.9 .8 4.4 .8-6.1 .8 3 .8-5.5 .8 4.1 .8-6.2 .8 4.8 .8-5 .8 4.5 .8-7.6 .8 6.3 .8-6.1 .8 3 .8-5 .8 5 .8-7.5 .8 5.8 .8-4.9 .8 3.7 .8-5.2 .8 4.8 .8-6.3 .8 4.4 .8-4.9 .8 4.3 .8-5.1 .8 4.9 .8-6.7 .8 5.3 .8-5.6 .8 6.2 .8-7.3 .8 6.7 .8-6.7 .8 5.3 .8-4.8 .8 4.5 .8-3.9 .8 3.9 .8-3 .8 2.6 .8-2.8 .8 2.7 .8-2.6 .8 2.8 .8-1.8 .8 2.6 .8-2.1 .8 2.8 .8-2.2 .8 2.7" stroke="#2F1DAF"/>
<path d="M1601.0 346.7l.8-1.7 .8 .8 .8-.2 .8 1.3 .8-2.2 .8 1.9 .8-1.2 .8 .4 .8-2.3 .8 1 .8-1.1 .8 2 .8-2.2 .8 3.3 .8-3.7 .8 2.3 .8-.4 .8 .2 .8-.8 .8 2 .8-3.7 .8 1.1 2.4 1.1 .8-.1 .8-1.2 1.6 .4 .8-.1 .8-1.6 .8 1.5 .8-1.8 .8 4.9 .8-5 .8 2.9 .8-4.4 .8 5.5 .8-3.5 .8 .9 .8-.9 .8 3.5 .8-6 .8 4.5 .8-3.4 .8 5.5 .8-6.8 .8 4.9 .8-3.8 .8 3.2 .8-4.2 .8 4.1 .8-6.1 .8 4.9 .8-6 .8 8.2 .8-8.9 .8 6.9 .8-4.8 .8 2.4 .8-5.2 .8 5.7 .8-5.9 .8 6 .8-5.8 .8 4.7 .8-5.9 .8 6.3 .8-6.2 .8 5 .8-6.8 .8 5.1 .8-6.1 .8 6.4 .8-5.6 .8 5 .8-7.2 .8 4.6 .8-4.9 .8 5.7 .8-5.9 .8 2.5 .8-5.7 .8 5.9 .8-5.3 .8 3.7 .8-4.9 .8 4.2 .8-7.7 .8 6.1 .8-7.4 .8 6.1 .8-7.8 .8 6.1 .8-5.5 .8 3.7 .8-7.1 .8 5.4 .8-6.9 .8 6.3 .8-6.6 .8 5 .8-7.1 .8 4.5 .8-6.7 .8 4.8 .8-7.2 .8 6.4 .8-6.4 .8 4.4 .8-6.3 .8 3.2 .8-5.5 .8 3.4 .8-5.2 .8 3.9 .8-4.9 .8 2.8 .8-6.2 .8 4.9 .8-5.3 .8 4.9 .8-6.6 .8 4 .8-6.3 .8 3.7 .8-5 .8 3.3 .8-6.4 .8 5.3 .8-7 .8 4.4 .8-4 .8 3.4 .8-5.7 .8 4.1 .8-4.8 .8 4.9 .8-6.7 .8 4.8 .8-6.6 .8 5.8 .8-6.9 .8 5.8 .8-7.2 .8 6.3 .8-6.9 .8 5.7 .8-7.1 .8 4.9 .8-5.6 .8 4.8" stroke="#648FFF"/>
<path d="M1617.0 347.0l.8-1 .8 0 1.6-1.5 1.6 .8 .8-1 .8 1.9 .8-.3 .8 .6 1.6-1 .8 .1 .8 .9 .8-1.4 .8 1.1 .8-1.4 .8 .4 .8-1.1 .8 1.1 .8-2.9 .8 4.4 .8-1.2 1.6-1.5 .8 .3 .8-1.5 2.4 .8 .8-.9 .8 .3 .8-1.3 .8 2.9 .8-1 .8 .9 .8-2.7 .8 5.2 .8-5.7 .8 3.4 .8-3.7 .8 5.6 .8-4.8 .8 2.9 .8-3.4 .8 3.4 .8-3 .8 4.2 .8-7.2 .8 5.1 .8-5.3 .8 7.6 .8-7.2 .8 6.2 .8-6.7 .8 5 .8-4.6 .8 4.5 .8-4.2 .8 4 .8-6 .8 5 .8-6.1 .8 6 .8-6.2 .8 6 .8-5 .8 2.9 .8-6 .8 5.6 .8-4.6 .8 3.9 .8-6.4 .8 7 .8-6 .8 4.9 .8-6.6 .8 6.3 .8-7.2 .8 4.8 .8-6.5 .8 5.6 .8-6.8 .8 5.1 .8-4.5 .8 5.1 .8-6.7 .8 4.9 .8-5.8 .8 4 .8-6.7 .8 5.5 .8-6.8 .8 5.4 .8-7 .8 4.7 .8-5.2 .8 3.7 .8-5.4 .8 3.8 .8-6.3 .8 5.2 .8-4.9 .8 3.9 .8-6.5 .8 3.8 .8-4.9 .8 4.8 .8-6.8 .8 4.2 .8-5.4 .8 2.7 .8-5.7 .8 5.7 .8-7 .8 3.3 .8-6.6 .8 6 .8-6 .8 3.1 .8-6.6 .8 6.7 .8-6.4 .8 4.7 .8-8.3 .8 5.9 .8-6.2 .8 2.8 .8-5.1 .8 5.6 .8-6.3 .8 4.7" stroke="#785EF0"/>
<path d="M1636.2 346.8l.8-1.1 .8-2.1 .8-.5 .8 1.4 1.6-1.2 .8 1.2 .8-.5 .8 .6 .8-.5 .8 0 .8-.8 .8 1.8 .8 .7 1.6-.6 1.6 .2 1.6-2.2 .8-.1 .8 2.7 .8-3.4 .8 1.5 .8-1.3 .8 4.2 .8-4.8 .8 1.4 .8-1.8 .8 2 .8 0 .8 1.9 .8-3.6 .8 2.8 .8-1.9 .8 2.9 .8-5.4 .8 3.7 .8-.9 .8 2 .8-2.1 .8 2.4 .8-3.1 .8 2.2 .8-3.9 .8 4.4 .8-6.6 .8 6.1 .8-5.8 .8 7.4 .8-7.4 .8 5.7 .8-6.4 .8 6.9 .8-7.3 .8 7.3 .8-6.4 .8 5.1 .8-7.8 .8 7 .8-5.2 .8 5 .8-6.2 .8 5.6 .8-4.7 .8 3.2 .8-4.9 .8 3.9 .8-5.2 .8 6.6 .8-7.5 .8 4.4 .8-5.6 .8 5.4 .8-6.2 .8 6.6 .8-7.7 .8 6.4 .8-5.1 .8 4 .8-5.3 .8 3.1 .8-4.9 .8 4.9 .8-7.4 .8 6.4 .8-6.3 .8 5.3 .8-7 .8 4.5 .8-5.3 .8 3.2 .8-4.9 .8 5.3 .8-6.7 .8 5.4 .8-7.6 .8 4.2 .8-5.1 .8 4.1 .8-6 .8 3.7 .8-4.2 .8 4.2 .8-6 .8 2.7 .8-4.6 .8 4.4" stroke="#DC267F"/>
<path d="M1653.8 347.0l.8-2.4 .8 1.7 .8-3.5 .8 3.5 .8-3.1 .8 1.9 2.4-2.2 .8 .7 .8-.1 .8 3.1 .8-3.2 .8-.2 .8 .8 .8 .2 .8-.7 .8 1.7 .8-2.7 .8 3.6 .8-4.2 .8 1.9 .8 .9 .8-.5 .8-2.6 .8 1.7 1.6 1.6 .8-.6 .8-.2 .8-.8 .8 .7 .8-2 .8 4.7 .8-5.8 .8 5.6 .8-4 .8 3.1 .8-4.1 .8 2.1 .8-1.9 .8 3.2 .8-2.4 .8 2.8 .8-5.9 .8 5.2 .8-3.6 .8 4.9 .8-6.1 .8 5.1 .8-5.3 .8 5.8 .8-8.4 .8 7.5 .8-4.8 .8 3.4 .8-4.6 .8 5.1 .8-4.6 .8 2.7 .8-4.5 .8 5 .8-4.9 .8 5.5 .8-6.5 .8 4.5 .8-5.7 .8 6.3 .8-6.8 .8 5.5 .8-6.9 .8 5.1 .8-5.4 .8 6 .8-7 .8 5.4 .8-5 .8 5.3 .8-7.3 .8 5.6 .8-5.3 .8 5.1 .8-7.1 .8 4.4 .8-6.1 .8 5.8" stroke="#FE6100"/>
<path d="M1673.8 346.0l.8-2.3 .8 2.1 .8 1.2 .8-4.3 .8 3.5 1.6-2.4 .8-.8 .8 1.3 .8 .1 1.6-.6 .8 2.1 .8-3.3 .8 3.5 .8-2.8 .8 2.4 1.6-1.2 .8-.2 .8 .9 .8 0 .8 1.4 .8-3.2 2.4 1.9 .8-3.1 .8 3.5 .8-4.9 .8 3.9 .8-3.3 .8 2.2 .8 0 .8 2.8 .8-6 .8 4.1 .8-3.5 .8 2.7 .8-2.1 .8 5.3 .8-4.1 .8 1.4 .8-4.3 .8 4.8 .8-5 .8 4.9 .8-4.6 .8 2.9 .8-5.2 .8 4.9 .8-5.8 .8 7.8 .8-5.4 .8 2.5 .8-4.6 .8 7.2 .8-5.2 .8 3.1 .8-6 .8 5.3" stroke="#FFB000"/>
<path d="M1691.4 346.8l.8-2.4 .8-1.3 .8 3.4 .8-3.1 .8 3.1 .8-2.1 .8 .6 .8-1.4 1.6 1.1 .8 1.1 .8 .3 .8-1.2 .8 1.3 1.6-1.9 .8 1.6 .8-1.6 1.6 1.2 1.6-2.8 .8 1.2 .8 .4 .8-1 .8-.5 .8 .6 .8-1.7 .8 4.2 .8-1.5 .8-.6 .8-1.5 .8 1.4 .8-.2 .8 .8 .8-1.1 .8 0 .8-2.1 .8 2.7" stroke="#63A00C"/>
</g>
<rect x="155.0" y="10.67" width="1566.70" height="336.33" fill="none" stroke="#000" stroke-width="3.6"/>
<line x1="140.50" y1="347.00" x2="155.00" y2="347.00" stroke="#000" stroke-width="3.3"/>
<text transform="translate(126.10 357.60) scale(1 1.07)" font-size="29.4" text-anchor="end" font-family="'Liberation Sans', Arial, Helvetica, sans-serif" >0.0</text>
<line x1="140.50" y1="280.40" x2="155.00" y2="280.40" stroke="#000" stroke-width="3.3"/>
<text transform="translate(126.10 291.00) scale(1 1.07)" font-size="29.4" text-anchor="end" font-family="'Liberation Sans', Arial, Helvetica, sans-serif" >0.2</text>
<line x1="140.50" y1="213.80" x2="155.00" y2="213.80" stroke="#000" stroke-width="3.3"/>
<text transform="translate(126.10 224.40) scale(1 1.07)" font-size="29.4" text-anchor="end" font-family="'Liberation Sans', Arial, Helvetica, sans-serif" >0.4</text>
<line x1="140.50" y1="147.20" x2="155.00" y2="147.20" stroke="#000" stroke-width="3.3"/>
<text transform="translate(126.10 157.80) scale(1 1.07)" font-size="29.4" text-anchor="end" font-family="'Liberation Sans', Arial, Helvetica, sans-serif" >0.6</text>
<line x1="140.50" y1="80.60" x2="155.00" y2="80.60" stroke="#000" stroke-width="3.3"/>
<text transform="translate(126.10 91.20) scale(1 1.07)" font-size="29.4" text-anchor="end" font-family="'Liberation Sans', Arial, Helvetica, sans-serif" >0.8</text>
<line x1="140.50" y1="14.00" x2="155.00" y2="14.00" stroke="#000" stroke-width="3.3"/>
<text transform="translate(126.10 24.60) scale(1 1.07)" font-size="29.4" text-anchor="end" font-family="'Liberation Sans', Arial, Helvetica, sans-serif" >1.0</text>
<line x1="146.50" y1="313.70" x2="155.00" y2="313.70" stroke="#000" stroke-width="2.5"/>
<line x1="146.50" y1="247.10" x2="155.00" y2="247.10" stroke="#000" stroke-width="2.5"/>
<line x1="146.50" y1="180.50" x2="155.00" y2="180.50" stroke="#000" stroke-width="2.5"/>
<line x1="146.50" y1="113.90" x2="155.00" y2="113.90" stroke="#000" stroke-width="2.5"/>
<line x1="146.50" y1="47.30" x2="155.00" y2="47.30" stroke="#000" stroke-width="2.5"/>
<line x1="155.00" y1="347.00" x2="155.00" y2="361.50" stroke="#000" stroke-width="3.3"/>
<line x1="281.00" y1="347.00" x2="281.00" y2="361.50" stroke="#000" stroke-width="3.3"/>
<line x1="566.16" y1="347.00" x2="566.16" y2="361.50" stroke="#000" stroke-width="3.3"/>
<line x1="793.86" y1="347.00" x2="793.86" y2="361.50" stroke="#000" stroke-width="3.3"/>
<line x1="1021.56" y1="347.00" x2="1021.56" y2="361.50" stroke="#000" stroke-width="3.3"/>
<line x1="1249.26" y1="347.00" x2="1249.26" y2="361.50" stroke="#000" stroke-width="3.3"/>
<line x1="1476.96" y1="347.00" x2="1476.96" y2="361.50" stroke="#000" stroke-width="3.3"/>
<line x1="1704.66" y1="347.00" x2="1704.66" y2="361.50" stroke="#000" stroke-width="3.3"/>
<g transform="translate(56.7 181.64) rotate(-90)"><text x="0" y="0" font-size="29.1" text-anchor="middle" font-family="'Liberation Sans', Arial, Helvetica, sans-serif">Probability <tspan font-family="'DejaVu Sans', sans-serif">Π</tspan><tspan font-family="'DejaVu Sans', sans-serif" font-style="italic" font-size="20.4" dy="5.5">i</tspan><tspan font-family="'DejaVu Sans', sans-serif" font-size="20.4">,</tspan><tspan font-family="'DejaVu Sans', sans-serif" font-style="italic" font-size="20.4" dx="3">n</tspan></text></g>
<text x="-1.90" y="24.27" font-size="33" text-anchor="start" font-family="'Liberation Sans', Arial, Helvetica, sans-serif" font-weight="bold">(a)</text>
<text x="201.80" y="44.61" font-size="29.1" text-anchor="start" font-family="'Liberation Sans', Arial, Helvetica, sans-serif" >no smoothing</text>
<g clip-path="url(#clip1)" fill="none" stroke-width="2.0" stroke-linejoin="round" stroke-linecap="butt">
<path d="M155.0 399.2l126 166.5 126 85.9 40.1 39.3 28.4 18.7 22.1 10.6 18 6 15.3 3.3 13.2 1.7" stroke="#648FFF"/>
<path d="M155.0 732.2l126-168.2 126-77.9 40.1-30.3 28.4-9.3 22.1-2.3 18 1.3 15.3 3.3 13.2 3.8 11.6 5 10.5 5.4 9.4 6.1 28.6 21.1 17.6 14 15.2 13 15.2 14 12 11.8 11.2 12.1 12 13.7 8.8 10.7 40 51.4 12.8 15.2 12 13.2 12 12.6 8.8 8.4 10.4 8.7 9.6 7.3 10.4 6.8 12 6.7 18.4 8.9 10.4 4.2 9.6 2.6 12.8 2.4 17.6 2.3 12.8 1" stroke="#785EF0"/>
<path d="M281.0 732.2l126-7.3 40.1-10.3 28.4-8.4 55.4-18.1 13.2-4 11.6-5.2 19.9-10.1 19-10.8 37.6-22.8 25.6-14.4 3.2-1.2 6.4-1.4 3.2-1.1 3.2-1.7 6.4-4.1 4-1.8 22.4-5.3 8.8-2.5 4-.5 3.2 .4 7.2 2.6 3.2 .7 3.2 .2 9.6-.4 4 .5 3.2 1 2.4 1.2 2.4 1.6 7.2 5.8 4 2.8 3.2 1.6 8 3.1 4.8 3 6.4 5.8 11.2 12.4 3.2 2.8 6.4 4.9 2.4 2.2 4 4.6 8 11.1 3.2 3.8 4.8 5.1 4 3.1 3.2 3.3 3.2 1.8 4 4.3 3.2 1.7 3.2 5 4 3.5 3.2 5.8 3.2 1.2 3.2 3.6 .8 .6 3.2-1.5 3.2 3.1 .8 .3 2.4-.5 .8 .1 3.2 4.8 .8 .4 2.4 .1 .8 .4 3.2 4.4 3.2-1 .8 .4 3.2 3.3 3.2-1.3 3.2 3.3 .8 .1 3.2-2 3.2 2.2 3.2-2.4 .8-.1 3.2 3.1 3.2-.4 4 3.1 3.2-.8 3.2 .9 4-1.3 3.2 .7 3.2-.4 2.4 .4" stroke="#DC267F"/>
<path d="M475.5 731.4l22.1-.5 68.6-5.1 20.4-1.8 12-1.4 9.6-1.5 9.6-2 10.4-2.8 16.8-6.6 4.8-2.2 11.2-7.1 8-3.1 3.2-1.6 8-6.1 3.2-2.1 9.6-4.1 9.6-6 10.4-4.8 3.2-2.2 8.8-6.8 9.6-5.5 8.8-5.8 8.8-4.9 8-6.4 3.2-2 1.6-.7 2.4-.4 6.4 .5 3.2-.5 2.4-1.2 7.2-5.2 2.4-1 2.4-.3 2.4 .4 7.2 2 2.4 .1 6.4-.7 4.8 .6 8.8 2.8 2.4 1.2 4 2.8 4 3.9 3.2 2.5 4 3.7 3.2 1.6 3.2 3.4 4 2.8 3.2 5.9 4 5 3.2 6.8 3.2 2.2 4 6.2 3.2 .8 3.2 5.7 .8 .8 3.2 1.6 3.2 5.8 .8 .3 2.4 .2 .8 .5 3.2 4.5 3.2 .1 4 6.3 3.2 1.3 3.2 5.7 .8 .6 3.2-.3 3.2 3.2 3.2-2 .8 0 3.2 2.9 3.2-1 4 4.8 3.2-.5 3.2 3.9 .8 .1 3.2-1.4 3.2 2.9 3.2-2.1 .8-.1 3.2 2 3.2-2.3 4 2 3.2-.6 3.2 2.1 .8 .1" stroke="#FE6100"/>
<path d="M649.0 731.2l12-1.4 9.6 0 2.4-.6 6.4-2.5 2.4-.7 2.4-.2 5.6 .1 2.4-.4 3.2-1 7.2-3.4 8.8-2.6 9.6-4 8-2.6 4-2.3 8-6 8-4.1 2.4-1.6 3.2-2.9 5.6-6.2 2.4-2.3 3.2-2.2 5.6-2.8 3.2-2.3 2.4-2.5 7.2-8.4 2.4-2.2 2.4-1.6 8-3.9 13.6-7.3 8.8-5.8 3.2-1.5 2.4-.6 1.6 0 4.8 .8 4.8 .3 4-1.6 3.2-.3 3.2-1.1 1.6 .5 2.4 1.6 3.2-.1 3.2 2.6 .8 .2 3.2-.9 3.2 3 3.2 .2 .8 .5 3.2 5.5 3.2 1.3 4 6.2 3.2-.2 3.2 4 .8 .5 3.2-.1 3.2 5.3 3.2 1.3 .8 .8 3.2 6.1 3.2 1.3 4 7.1 3.2 1.5 3.2 5.9 .8 .9 3.2 .5 3.2 4.3 .8 .1 2.4-.7 .8 .3 3.2 4.7 3.2 1 4 7.4 3.2 1.3 3.2 4.7 .8 .4 3.2-1.5 3.2 2.9 3.2-1.4 .8 .1 3.2 3.7 3.2-1.1 .8 .5 2.4 2.4 .8 .5 3.2-2 3.2 2.8 .8 .2 3.2-.7 3.2 2.5 4-.5 3.2 1.1 3.2-.9 1.6 .2" stroke="#FFB000"/>
<path d="M737.0 731.6l7.2-4.1 7.2-2.5 3.2-1.4 3.2-2.1 5.6-4.4 3.2-2 3.2-1.3 5.6-1.7 2.4-1.1 3.2-2.3 7.2-6.8 3.2-2.3 3.2-1.2 6.4-1.3 3.2-1.3 3.2-2.4 7.2-7 3.2-2.4 2.4-1.1 8-2.9 5.6-3.7 4-3.6 3.2-1.6 3.2-2.3 4-.5 3.2-2.6 3.2-.9 4-5.3 3.2-1.1 3.2-4.2 .8-.3 3.2 1.1 3.2-2.4 3.2 1.9 .8 0 3.2-2.8 3.2 1.5 .8-.6 2.4-3 .8-.6 3.2 1.5 3.2-2.3 .8 .3 3.2 3.3 3.2-1 3.2 3.3 .8 .3 3.2-1.3 3.2 4 .8 .2 2.4-.4 .8 .4 3.2 5 3.2 .6 .8 .9 3.2 5 3.2-.1 3.2 3.9 .8 .5 3.2-.7 3.2 4.8 3.2 1.1 .8 .7 3.2 6.4 3.2 1.3 4 5.5 3.2-1.1 3.2 2.9 .8 .3 3.2-1.2 3.2 4.6 3.2 1.1 .8 .7 3.2 6.1 3.2 .9 4 5.2 3.2-.8 3.2 3.6 .8 .5 1.6-.4 1.6 .1 3.2 4.1 4 1.6 3.2 3.2 3.2 1.2 4 3.2 5.6 3.3" stroke="#63A00C"/>
<path d="M786.6 731.3l6.4-1.4 4-1.8 10.4-6.9 8-4.5 3.2-2.4 8-6.9 7.2-3.7 3.2-1.2 4-3.4 3.2-1.9 3.2-3.4 4-1.1 3.2-3 3.2-.5 4-5.1 3.2-1 3.2-4.6 .8-.4 3.2 .6 3.2-3.3 3.2 1 .8-.4 3.2-4.5 3.2-.6 4-6.2 3.2-.4 3.2-4.5 .8-.3 3.2 .7 3.2-3.6 .8 .1 2.4 1.3 .8 0 3.2-2.6 3.2 1.9 .8-.4 2.4-2.5 .8-.4 3.2 1.7 3.2-2.4 .8 .1 3.2 2.9 3.2-.9 3.2 4.6 .8 .7 3.2 0 3.2 4.6 .8 .4 2.4 .1 .8 .5 3.2 5.6 3.2 .9 4 5.7 3.2-.5 3.2 4 .8 .6 3.2 .1 3.2 5.8 .8 .7 2.4 1 .8 .8 3.2 5.7 3.2 .2 .8 .6 3.2 4.1 3.2-.4 3.2 4.8 .8 .7 3.2 .5 3.2 5.2 .8 .4 2.4 .2 .8 .4 3.2 5.3 3.2 1 4 6.4 3.2 .6 3.2 3.4 .8 .4 3.2 .1 1.6 .8" stroke="#2F1DAF"/>
<path d="M823.4 731.3l4.8-.2 4-1.1 1.6-.6 6.4-4.4 4-4.4 3.2-2 4-4.2 3.2-.7 3.2-3.6 3.2-.7 .8-.4 3.2-4.6 3.2-.5 .8-.7 3.2-4.3 3.2 .5 3.2-3.9 .8-.5 3.2 0 3.2-5.3 .8-.5 2.4-.6 .8-.7 3.2-5.5 3.2 0 .8-.6 3.2-3.8 3.2 1.1 3.2-4 .8-.5 3.2-.2 3.2-5.3 .8-.5 2.4-.4 .8-.5 3.2-5 3.2 .2 .8-.6 3.2-4.2 3.2 1.2 3.2-2.7 .8-.1 3.2 2.1 3.2-2.2 .8 .4 2.4 2.4 .8 .3 3.2-1.7 3.2 3.8 .8 .3 2.4-.2 .8 .1 3.2 4.5 3.2 0 .8 .6 3.2 5.3 3.2 1.2 4 7 3.2 1.1 3.2 5.3 .8 .5 2.4 .1 .8 .3 3.2 5 3.2 .7 .8 .8 3.2 5.5 3.2 .7 4 5.7 3.2 0 3.2 5.1 .8 .6 2.4 .6 .8 .5 3.2 6.1 3.2 1.5 .8 .9 3.2 5.5 3.2 .2 3.2 4.1 .8 .6 3.2-1.4 1.6 1.1" stroke="#648FFF"/>
<path d="M855.4 731.6l2.4-1.9 .8 .1 3.2 1.5 3.2-2.3 3.2 .9 .8-.4 3.2-4 3.2-.6 4-7.1 3.2-1.6 3.2-5.8 .8-.5 2.4 .2 .8-.2 3.2-3.9 3.2 .9 .8-.5 3.2-4.5 3.2-.5 4-6.7 3.2-1.1 3.2-5.4 .8-.5 2.4 0 .8-.3 3.2-4.6 3.2 .2 .8-.6 3.2-4.6 3.2-.1 3.2-5 .8-.8 3.2-.5 3.2-5.4 .8-.5 2.4-.3 .8-.5 3.2-5.1 1.6 .2 1.6 .6 .8-.2 1.6-1.3 1.6-.8 3.2 2.7 3.2-2 .8-.1 3.2 2.2 3.2-2.7 .8 .3 3.2 3.4 3.2 .4 3.2 5.7 .8 .8 3.2 1.1 3.2 5.5 .8 .4 2.4 .1 .8 .5 3.2 4.9 3.2 .4 4 6.6 3.2 1.5 3.2 6.1 .8 .8 3.2 .8 3.2 4.6 .8 .1 2.4-.5 .8 .4 3.2 4.7 3.2 .9 4 7.5 3.2 1.9 3.2 6 .8 .7 3.2 .3 3.2 4.3 .8 .1 2.4-.4 .8 .3 3.2 3.5 3.2-1.2 1.6 1" stroke="#785EF0"/>
<path d="M871.4 731.6l.8-.4 .8 0 3.2 .9 3.2-1.9 2.4 2 3.2 0 1.6-.3 .8 .3 4.8 0 1.6-.7 1.6 .1 1.6-.5 3.2-6.1 .8-.7 2.4-.7 .8-.6 3.2-5.2 3.2-.1 .8-.7 3.2-4.7 3.2-.3 3.2-5.3 .8-.8 3.2-.9 3.2-5.4 .8-.4 2.4-.2 .8-.5 3.2-5.2 3.2-.5 .8-.9 3.2-5.5 3.2-1.1 3.2-5.7 .8-.9 3.2-.6 3.2-4.8 .8-.2 2.4 .2 .8-.3 3.2-4.7 3.2-.5 .8-.9 3.2-5.4 3.2 .2 3.2-3.2 .8-.1 3.2 2.2 3.2-2 .8 .4 2.4 2.3 .8 .4 3.2-1.4 3.2 4.4 .8 .5 2.4 .3 .8 .4 3.2 5.2 3.2 .6 .8 .8 3.2 5.5 3.2 .8 4 6 3.2 .3 3.2 5.1 .8 .5 2.4 .4 .8 .4 3.2 5.8 3.2 1.4 .8 .8 3.2 5.9 3.2 .8 4 5.8 3.2 .1 3.2 5 .8 .6 2.4 .4 .8 .4 3.2 5.6 3.2 1.2 .8 .8 3.2 5.4 1.6-.1 1.6-.5 .8 .5" stroke="#DC267F"/>
<path d="M910.6 731.4l1.6-.9 2.4 1.7 2.4-.1 1.6-1 2.4 1.1 2.4 0 .8-.3 1.6-2.1 3.2-1 .8-.9 3.2-6 3.2-1 4-5.9 3.2-.3 3.2-5.4 .8-.8 2.4-1 .8-.6 3.2-6.7 3.2-2.1 .8-.9 3.2-5.9 3.2-.2 4-4.9 3.2 .1 3.2-5.5 .8-.9 2.4-1.5 .8-.8 3.2-7.5 .8-.8 2.4-1.6 .8-1 3.2-5.6 1.6 .2 1.6 .9 3.2-1.2 .8 .2 3.2 3.7 3.2-2.4 .8-.1 2.4 .7 .8 0 3.2-4.3 1.6 .6 2.4 1.9 1.6 .1 1.6 .7 3.2 6.9 4 3.7 3.2 6.5 3.2 .5 .8 .7 3.2 4 3.2-.5 4 5.5 3.2 1.1 3.2 6.3 .8 .8 2.4 1 .8 .7 3.2 5.8 3.2 .5 .8 .8 3.2 4.8 3.2 .4 3.2 5.3 .8 .8 3.2 .9 3.2 5.7 .8 .6 2.4 .6 .8 .5 3.2 5.4 1.6-.1 1.6-.5 1.6 1" stroke="#FE6100"/>
<path d="M925.8 731.6l1.6-1.9 .8-.1 3.2 2.3 3.2-1.5 1.6 1.5 .8 .3 9.6 0 .8-.4 1.6-2.4 3.2-1.8 3.2-6.8 .8-1 3.2-1.1 3.2-4.7 .8-.1 2.4 .5 .8-.4 3.2-5.3 3.2-2.2 4-9.3 3.2-2.2 3.2-5 .8-.4 3.2 .9 3.2-4.4 3.2-1.6 .8-1.1 3.2-7.8 3.2-2.5 3.2-5.5 .8-1 3.2 .2 3.2-4.2 .8-.3 3.2 1.3 3.2-2.9 .8 .2 2.4 1.6 .8 .1 3.2-2.5 3.2 2.5 3.2-.8 .8 .2 3.2 5.4 3.2 1.3 .8 .9 3.2 6 3.2 .9 3.2 5 .8 .8 3.2 .3 3.2 5.5 .8 .6 2.4 .8 .8 .6 3.2 6 3.2 1 .8 .8 3.2 5.3 3.2 .7 3.2 5.4 .8 .9 3.2 .8 3.2 5.6 .8 .6 2.4 .6 .8 .6 3.2 5.5 2.4 .8 1.6 1.1 2.4 4.1 .8 .9 2.4 .2 .8-.3 .8 .7" stroke="#FFB000"/>
<path d="M949.0 731.7l1.6-1.3 .8 .1 1.6 1.4 .8 .3 2.4-.1 1.6-1 1.6 1.1 4 0 1.6-1 1.6 .5 1.6 .1 .8-1 3.2-5.6 3.2-1.1 3.2-5.6 .8-.6 2.4-.4 .8-.5 3.2-5.7 3.2-1.6 .8-1 3.2-6.5 3.2-1.7 4-6.7 3.2-.6 3.2-5.1 .8-.6 2.4-.4 .8-.5 3.2-6 3.2-1.9 .8-1 3.2-6.6 3.2-1.5 3.2-5.5 .8-1 1.6 .1 1.6 .5 3.2-2.7 .8 .1 3.2 2.4 3.2-2.6 3.2 2 .8 0 1.6-1.2 1.6-.8 3.2 4.4 .8 .5 2.4 .7 .8 .6 3.2 5.8 3.2 .8 .8 .9 3.2 5.4 3.2 .8 3.2 5.5 .8 .9 3.2 1 3.2 5.7 .8 .5 2.4 .6 .8 .7 3.2 5.6 3.2 .9 .8 .9 3.2 5.1 3.2 1.2 2.4 4 1.6 2.1 2.4 .8 .8 .7 3.2 5 4 2.3 2.4 3.9 1.6 1.6 .8-.2 .8 .8 .8-.1 .8 .9" stroke="#63A00C"/>
<path d="M964.2 731.7l2.4-2.3 3.2 2.3 3.2-1.6 .8 0 2.4 2.1 2.4-.2 1.6-1.3 .8 .1 2.4 1.3 .8 0 3.2-4.4 3.2-.7 .8-.8 3.2-5.4 3.2-.8 4-6.8 3.2-1.2 3.2-5.8 .8-.6 2.4-.6 .8-.5 3.2-5.9 3.2-1.7 .8-1 3.2-6.4 3.2-1.3 3.2-5.1 .8-.8 3.2-.2 3.2-5.5 .8-.8 2.4-1.1 .8-.8 3.2-6.7 3.2-1.6 4-4.8 3.2 2.4 .8-.2 2.4-1.5 .8 0 3.2 2.5 3.2-2.5 .8 .2 3.2 2.8 3.2-.2 3.2 5.5 .8 .8 3.2 1 3.2 5.7 .8 .4 2.4 .7 .8 .7 3.2 5.7 3.2 1 4 6.1 3.2 1.3 2.4 4.1 1.6 1.9 2.4 .9 1.6 1.8 2.4 4 2.4 1 1.6 1.3 2.4 3.7 .8 .4 .8 1.2 .8-.1 .8 1.1 .8 0 .8 1.5 .8 .4 .8 1.5 .8 .3 .8 1.4 .8 0 .8 1.4 .8-.2 .8 1.3 .8 .1 .8 1.8 .8 .2 .8 1.6 .8-.1 .8 1.4 .8-.3 .8 1.7 .8 0 .8 1.4 .8-.2 .8 1.1 .8-.2 .8 .8 .8-.2 .8 .7 .8-.8 .8 .7" stroke="#2F1DAF"/>
<path d="M979.4 731.4l.8-.5 3.2-3.2 1.6 .7 1.6 1.3 3.2-.8 .8 .3 2.4 2.6 .8 .4 .8-.3 2.4-2.3 .8-.1 2.4 .8 .8-.1 3.2-3.8 3.2 .5 .8-.6 3.2-5.2 3.2-1.1 3.2-6 .8-.9 3.2-.8 3.2-5.1 .8-.4 2.4-.3 .8-.6 3.2-5.8 3.2-1.4 .8-1 3.2-5.9 3.2-1.2 4-7 3.2-1.6 3.2-6 .8-.6 2.4-.4 .8-.4 3.2-5.1 3.2-.5 .8-.8 3.2-4.9 3.2 .9 3.2-2.6 .8 0 3.2 2.6 3.2-2 .8 .3 3.2 2.7 3.2-.9 3.2 4.8 .8 .7 2.4 .5 .8 .5 3.2 5.3 1.6 .9 .8 .1 1.6 1.1 .8 1.6 2.4 3.5 2.4 1.7 .8 .1 4 5.9 .8 .1 .8 1.1 .8 0 .8 1.3 .8 .5 2.4 3.9 .8 .2 .8 1.2 .8 .1 .8 1.1 .8 .1 .8 1.8 .8 .1 .8 1.8 .8 .2 .8 1.4 .8-.1 .8 1.4 .8 0 .8 1.5 .8 .3 .8 1.6 .8 .1 .8 1.3 .8 0 .8 1.5 .8-.1 .8 1.2 .8 .2 .8 1.3 .8 .3 .8 1.4 .8-.1 .8 1.6 .8-.3 .8 1.6 .8-.5 .8 1.6 .8-.2 .8 1.5 .8-.3 .8 1.5 .8 .1 .8 1.4 .8-.3 .8 1.3 .8-.2 .8 1.4 .8-.2 .8 1.1 .8-.1 .8 .9 .8-.4 .8 .9 .8-.6 .8 1.1 .8-.6 .8 .8 .8-.8 .8 1 .8-.6 .8 .4 .8-.3 .8 .5 .8-.2 .8 .4 .8-.3 .8 .3 .8-.2 .8 .3 .8-.3 .8 .6" stroke="#648FFF"/>
<path d="M986.6 731.4l1.6-.4 3.2 .7 4-.7 3.2 1.1 3.2-2.7 .8-.3 3.2 0 3.2-3.4 3.2 2.7 .8 .2 3.2-1.4 3.2 2 .8-.7 3.2-4.4 3.2-1 3.2-5.5 .8-.5 2.4 .2 .8-.2 3.2-4.4 3.2-.4 .8-.8 3.2-5.8 3.2-1.2 3.2-5.5 .8-.9 3.2-.9 3.2-6.1 .8-.8 2.4-1.2 .8-.7 3.2-6.3 3.2-1.2 .8-.8 3.2-5.3 3.2-.5 3.2-5 .8-.8 3.2-.1 3.2-4.3 .8-.3 2.4 1 .8 .1 3.2-2.7 3.2 2.1 .8 .1 2.4-1.2 .8 0 3.2 2.9 .8-.1 .8 .2 .8-.3 1.6 .6 .8 1.2 2.4 2.7 .8 .6 .8 0 .8 .7 .8 .1 .8 1.2 .8 .7 .8 1.6 .8 .5 .8 1.3 .8 .1 .8 1.2 .8-.1 .8 1.3 .8 .5 .8 1.5 .8 .5 .8 1.7 .8 .2 .8 1.4 .8 .2 .8 1.3 .8 .1 .8 1.8 .8 .2 .8 1.9 .8 .1 .8 1.5 .8 .1 .8 1.8 .8-.2 .8 1.6 .8 .5 .8 1.5 .8 .2 .8 1.6 .8 .2 .8 1.5 .8-.1 .8 1.9 .8 0 .8 1.6 .8-.2 .8 1.7 .8 0 .8 1.9 .8-.3 .8 1.5 .8 .2 .8 1.6 .8-.3 .8 1.5 .8 .1 .8 1.3 .8-.3 .8 1.5 .8-.1 .8 1.4 .8-.2 .8 1.6 .8 0 .8 1.1 .8-.1 .8 1.6 .8-.5 .8 1.5 .8-.2 .8 1.2 .8 0 .8 1.1 .8-.3 .8 1.2 .8 0 .8 1.2 .8-.7 .8 1.4 .8-.5 .8 1.1 .8-.3 .8 1.2 .8-.4 .8 1.1 .8-.5 .8 .9 .8-.6 .8 1 .8-.7 .8 .9 .8-.4 .8 .9 .8-.5 .8 .8 .8-.5 .8 .6 .8-.4 .8 .7 .8-.5 .8 .7 .8-.4 .8 .6 .8-.4 .8 .5 .8-.3 .8 .4 .8-.3 .8 .4 .8-.2 .8 .4 .8-.3 .8 .3" stroke="#785EF0"/>
<path d="M1007.4 731.3l1.6-.7 4 0 3.2-1.5 3.2 1.2 3.2-2.2 .8-.2 3.2 1.9 3.2-2.6 3.2 1.6 .8 0 3.2-4.1 3.2-.2 4-5.8 3.2 .3 3.2-3.8 .8-.4 3.2 .5 3.2-4.8 3.2-1 .8-.7 3.2-5.9 3.2-1.3 4-6.9 3.2-1.4 3.2-6 .8-.9 3.2-1.2 3.2-5.8 .8-.6 2.4-.6 .8-.7 3.2-5.4 3.2-.6 .8-.6 2.4-3.4 1.6-.8 2.4 .3 2.4-2.4 1.6-.9 .8 .4 .8-.1 .8 .6 1.6-.2 .8-.8 .8 0 .8-.7 .8 .7 .8-.1 .8 .9 .8 .1 .8 .6 .8-.6 .8 .5 .8-.4 .8 .5 .8 .2 .8 1.2 .8 0 .8 1.2 .8 0 .8 .9 .8-.3 .8 .8 .8-.1 .8 1.5 .8 .1 .8 1.4 .8 .3 .8 1.2 .8-.1 .8 1.3 .8 0 .8 1.5 .8-.1 .8 1.9 .8 .1 .8 1.8 .8 0 .8 1.6 .8-.3 .8 1.8 .8 .3 .8 1.4 .8 .2 .8 1.7 .8 .1 .8 2 .8-.4 .8 2 .8-.1 .8 2 .8 .2 .8 1.8 .8-.2 .8 2.1 .8-.1 .8 1.7 .8-.1 .8 1.7 .8 .2 .8 1.9 .8-.5 .8 1.9 .8 .2 .8 1.6 .8-.3 .8 1.9 .8-.1 .8 1.7 .8-.1 .8 1.8 .8 0 .8 1.2 .8 .1 .8 1.5 .8-.1 .8 1.3 .8 .2 .8 1.3 .8-.1 .8 1.3 .8 0 .8 1.1 .8-.2 .8 1.4 .8 0 .8 1 .8-.2 .8 1.5 .8-.3 .8 1.1 .8-.3 .8 1.1 .8-.4 .8 1.4 .8-.5 .8 1.4 .8-.5 .8 1.3 .8-.4 .8 1 .8-.4 .8 .9 .8-.5 .8 1.1 .8-.3 .8 .8 .8-.2 .8 .9 .8-.6 .8 1 .8-.5 .8 1 .8-.7 .8 1 .8-.4 .8 .8 .8-.7 .8 1 .8-.5 .8 .7 .8-.3 .8 .6 .8-.4 .8 .6 .8-.5 .8 .5 1.6 .2 .8-.2 .8 .4 .8-.2 4 .6" stroke="#DC267F"/>
<path d="M1025.0 731.2l.8-.1 3.2 .4 4-1.4 3.2 .9 3.2-2 3.2 1.1 .8-.1 3.2-3.6 3.2 1.1 4-3.5 3.2 1.5 3.2-3.7 .8-.3 2.4 .3 .8-.1 3.2-4.8 3.2-.3 .8-.5 3.2-5 3.2-.3 4-6.2 3.2-1 3.2-5.9 .8-.8 3.2-1.5 3.2-5.8 .8-.7 2.4-1 4-6.5 .8-.2 .8-.8 .8-.1 1.6-1.3 2.4-4.1 1.6-1.2 .8 0 .8-.7 .8-.1 .8-1.3 .8-.5 .8-1.3 .8-.4 .8-1.2 .8 .3 .8-.6 .8 .1 .8-.8 .8-.3 .8-.9 .8-.3 .8-.9 .8 .2 .8-.6 .8 .5 .8-.5 .8 .2 .8-.7 .8 .4 .8-1 .8 .4 .8-.5 .8 1 .8-.7 .8 .9 .8-.6 .8 .9 .8-.5 .8 .5 .8-.2 .8 1 .8-.3 .8 .9 .8-.3 .8 1.2 .8-.5 .8 1.6 .8-.6 .8 1.4 .8-.2 .8 1.2 .8 0 .8 1.4 .8-.2 .8 1.4 .8 0 .8 1.3 .8 0 .8 1.7 .8-.3 .8 1.9 .8 0 .8 1.4 .8 .3 .8 1.4 .8 .3 .8 1.7 .8-.3 .8 1.8 .8 .2 .8 1.7 .8 .2 .8 1.6 .8-.1 .8 2.2 .8-.2 .8 2 .8-.2 .8 1.8 .8-.1 .8 2.2 .8 .1 .8 1.7 .8 0 .8 1.8 .8 0 .8 1.7 .8-.3 .8 2.1 .8 0 .8 1.7 .8 0 .8 1.5 .8 0 .8 1.7 .8-.2 .8 1.7 .8-.1 .8 1.8 .8-.2 .8 1.4 .8-.1 .8 1.8 .8-.2 .8 1.6 .8-.4 .8 1.4 .8-.1 .8 1.2 .8-.2 .8 1.5 .8-.4 .8 1.8 .8-.7 .8 1.6 .8-.5 .8 1.3 .8-.3 .8 1.5 .8-.7 .8 1.2 .8-.3 .8 1.2 .8-.5 .8 1.4 .8-.3 .8 1.2 .8-.4 .8 1 .8-.6 .8 .9 .8-.1 .8 1 .8-.7 .8 1.2 .8-.7 .8 1 .8-.6 .8 1.1 .8-.7 .8 .9 .8-.1 .8 .8 .8-.6 .8 .8 .8-.6 .8 1 .8-.5 .8 .6 .8-.4 .8 .6 .8-.3 .8 .6 .8-.2 .8 .2 .8-.2 .8 .5 .8-.2 .8 .3 .8-.2 .8 .4 .8-.1 2.4 .3" stroke="#FE6100"/>
<path d="M1045.0 731.2l1.6-.6 4 .4 3.2-1.7 3.2 1 .8-.3 3.2-2.4 3.2 2 3.2-3 .8-.2 3.2 1.1 3.2-4 .8-.1 2.4 .5 .8-.3 3.2-4.3 3.2 .5 .8-.7 3.2-4.3 3.2-.3 3.2-4.9 .8-.8 2.4-.7 .8-.5 3.2-5.3 1.6-1 .8-.2 1.6-1.2 2.4-4.3 1.6-1.7 .8-.2 .8-1.1 .8-.1 4-6.1 .8-.3 .8-1.1 .8 0 .8-1.3 .8-.4 .8-1.7 .8-.5 .8-1.6 .8-.2 .8-1.4 .8-.1 .8-1.1 .8-.2 .8-1.4 .8-.2 .8-1.8 .8 0 .8-1.2 .8 0 .8-1.2 .8 0 .8-1.2 .8 .2 .8-1.5 .8 0 .8-1.2 .8 .3 .8-.9 .8 .1 .8-.9 .8 .3 .8-.9 .8 .4 .8-1.2 .8 .5 .8-.8 .8 .6 .8-.9 .8 .7 .8-.9 .8 .6 .8-.5 .8 .8 .8-.8 .8 1 .8-.7 .8 .9 .8-.6 .8 1 .8-.4 .8 .9 .8-.3 .8 1.3 .8-.6 .8 1.2 .8-.2 .8 1.2 .8-.3 .8 1.5 .8-.5 .8 1.8 .8-.5 .8 1.5 .8-.2 .8 1.8 .8-.2 .8 1.5 .8 .1 .8 1.2 .8-.1 .8 1.9 .8 0 .8 1.8 .8 0 .8 1.8 .8-.2 .8 1.8 .8 0 .8 1.5 .8 .3 .8 1.7 .8-.2 .8 2.2 .8-.1 .8 1.6 .8 .1 .8 2 .8-.2 .8 2.2 .8-.5 .8 2.1 .8 .1 .8 1.6 .8 .2 .8 1.9 .8-.4 .8 2.1 .8 0 .8 1.6 .8-.2 .8 1.9 .8-.3 .8 1.9 .8 .1 .8 1.3 .8 .1 .8 1.6 .8-.3 .8 1.9 .8-.1 .8 1.7 .8-.4 .8 1.8 .8-.6 .8 1.8 .8-.4 .8 1.4 .8-.1 .8 1.6 .8-.4 .8 1.6 .8-.4 .8 1.3 .8-.3 .8 1.1 .8-.1 .8 1.3 .8-.3 .8 1.3 .8-.4 .8 1.1 .8-.5 .8 1.2 .8-.4 .8 1.2 .8-.2 .8 .8 .8-.1 .8 .9 .8-.5 .8 1.2 .8-.4 .8 .9 .8-.6 .8 1.1 .8-.7 .8 1.2 .8-.7 .8 1.1 .8-.7 .8 1.2 .8-.7 .8 .8 .8-.5 .8 .8 .8-.3 .8 .7 .8-.4 .8 .6 .8-.3 .8 .6 .8-.5 .8 .6 .8-.2 .8 .4 .8-.3 .8 .5 .8-.3 .8 .4 .8-.2 .8 .3 1.6 .1" stroke="#FFB000"/>
<path d="M1063.4 731.3l2.4-.8 4 .7 3.2-1.7 3.2 1.2 .8-.3 3.2-2.7 3.2 1.6 3.2-3.3 .8-.2 3.2 1 3.2-3.6 .8-.1 2.4 .5 1.6-1.3 2.4-3 2.4 0 1.6-.9 2.4-3.2 1.6-1.1 .8 .1 .8-.6 .8 .1 .8-1.5 .8-.6 .8-1.4 1.6-1.9 .8 .2 .8-1.2 .8 0 .8-1.1 .8-.4 .8-1.7 .8-.5 .8-1.8 .8 0 .8-1.2 .8-.1 .8-1.4 .8 0 .8-1.9 .8-.3 .8-2 .8-.3 .8-1.3 .8-.1 .8-1.5 .8 0 .8-1.9 .8-.3 .8-1.9 .8 0 .8-1.9 .8 .4 .8-2 .8 .2 .8-1.8 .8 .1 .8-2.1 .8 0 .8-1.9 .8 .2 .8-1.6 .8-.1 .8-1.6 .8 .4 .8-1.7 .8 0 .8-1.4 .8-.1 .8-1.5 .8 .4 .8-1.7 .8 .4 .8-1.6 .8 .2 .8-1.2 .8 .5 .8-1.5 .8 .3 .8-.9 .8 .4 .8-1.2 .8 .3 .8-.8 .8 .2 .8-.8 .8 .6 .8-1.2 .8 .8 .8-.7 .8 .4 .8-.8 .8 .9 .8-.9 .8 1 .8-.6 .8 .8 .8-.7 .8 1.2 .8-.5 .8 1.1 .8-.6 .8 .9 .8-.2 .8 1.3 .8-.6 .8 1.4 .8-.3 .8 1.3 .8-.3 .8 1.5 .8-.6 .8 1.6 .8 0 .8 1.2 .8-.2 .8 1.6 .8-.1 .8 1.9 .8-.5 .8 1.7 .8 .2 .8 1.7 .8-.1 .8 1.5 .8-.1 .8 1.9 .8-.1 .8 2 .8 0 .8 1.6 .8 .2 .8 1.7 .8-.2 .8 1.9 .8 .1 .8 2 .8 .1 .8 1.7 .8-.1 .8 1.8 .8 .1 .8 1.8 .8-.2 .8 2 .8 .1 .8 1.6 .8 .3 .8 1.6 .8-.1 .8 1.5 .8 .4 .8 1.5 .8 0 .8 1.8 .8-.3 .8 1.7 .8 .1 .8 1.2 .8 .1 .8 1.7 .8-.1 .8 1.3 .8-.1 .8 1.5 .8-.3 .8 1.8 .8-.1 .8 1.4 .8-.6 .8 1.8 .8-.3 .8 1.2 .8-.1 .8 1.3 .8-.4 .8 1.1 .8-.3 .8 1.4 .8-.5 .8 1.4 .8-.2 .8 1.2 .8-.6 .8 1.2 .8-.4 .8 1.3 .8-.7 .8 1.2 .8-.3 .8 1 .8-.5 .8 1.2 .8-.8 .8 1.3 .8-.6 .8 .9 .8-.4 .8 .8 .8-.2 .8 .6 .8-.4 .8 1 .8-.6 .8 1 .8-.6 .8 .7 .8-.4 .8 .5 .8-.3 .8 .7 .8-.4 .8 .6 .8-.3 .8 .5 .8-.2 .8 .3 .8-.2 .8 .5 .8-.2 .8 .3 2.4-.1 .8 .3" stroke="#63A00C"/>
<path d="M1079.4 731.4l1.6-.4 3.2 .5 4-1.4 3.2 .8 3.2-2 4 .9 3.2-2.7 3.2 .8 1.6-.9 .8-1 .8-.4 .8-.9 .8 .4 .8-.3 .8 .3 1.6-.6 .8-1.1 .8-.3 .8-1 1.6-.6 .8 .3 .8-.7 .8 .1 .8-1.3 .8-.2 .8-1.2 .8-.3 .8-1 .8 .2 .8-.9 .8 .1 .8-1.3 .8-.1 .8-1.4 .8 0 .8-1.7 .8 .1 .8-1.1 .8 0 .8-1.5 .8 .3 .8-1.7 .8-.1 .8-1.8 .8 .3 .8-1.6 .8-.2 .8-1.4 .8 .1 .8-1.8 .8-.2 .8-1.9 .8-.1 .8-1.4 .8-.1 .8-1.8 .8 .2 .8-2 .8-.2 .8-1.7 .8 0 .8-2 .8 .4 .8-2.3 .8 .4 .8-2 .8-.1 .8-2 .8 .1 .8-1.4 .8-.4 .8-1.4 .8 .1 .8-2.2 .8 .5 .8-2 .8-.1 .8-1.5 .8 .2 .8-1.7 .8 .3 .8-2 .8 .4 .8-1.8 .8 .3 .8-1.4 .8 .1 .8-1.4 .8 0 .8-1.1 .8 0 .8-1.1 .8 .3 .8-1.1 .8 .3 .8-1.1 .8 .2 .8-.9 .8 .1 .8-.9 .8 .6 .8-1 .8 .4 .8-.6 .8 .3 .8-.5 .8 .5 .8-.6 .8 .7 .8-.6 .8 .9 .8-.5 .8 .8 .8-.4 .8 .6 .8-.2 .8 1.1 .8-.5 .8 1 .8-.2 .8 1.1 .8-.3 .8 1.4 .8-.3 .8 1.1 .8-.4 .8 1.4 .8 .1 .8 1.2 .8-.3 .8 1.6 .8 .2 .8 1.5 .8-.4 .8 1.7 .8 .2 .8 1.4 .8 .2 .8 1.5 .8-.2 .8 2.1 .8-.2 .8 1.9 .8-.2 .8 1.8 .8 .2 .8 1.5 .8 .1 .8 2 .8-.3 .8 1.9 .8 0 .8 1.7 .8 .1 .8 2 .8 .1 .8 1.7 .8-.2 .8 2.1 .8-.1 .8 1.8 .8 .2 .8 1.5 .8 0 .8 1.7 .8-.1 .8 2.1 .8-.3 .8 1.9 .8-.4 .8 2.1 .8-.4 .8 1.6 .8-.2 .8 1.6 .8 0 .8 1.9 .8-.2 .8 1.2 .8 .2 .8 1.4 .8-.4 .8 1.7 .8-.4 .8 1.7 .8-.4 .8 1.3 .8 0 .8 1.3 .8-.6 .8 1.4 .8-.1 .8 1.2 .8-.3 .8 1.1 .8-.2 .8 1.3 .8-.5 .8 1 .8-.2 .8 1.2 .8-.3 .8 .8 .8-.2 .8 1 .8-.5 .8 1.2 .8-.6 .8 1.2 .8-.6 .8 1 .8-.7 .8 1.1 .8-.5 .8 1.1 .8-.7 .8 1 .8-.7 .8 1.1 .8-.6 .8 .9 .8-.6 .8 .8 .8-.5 .8 .6 .8-.1 .8 .6 .8-.4 .8 .5 .8-.2 .8 .3 .8-.2 .8 .4 .8-.2 .8 .4 .8-.2 .8 .3 .8-.1 2.4 .4" stroke="#2F1DAF"/>
<path d="M1101.0 731.3l3.2-.7 3.2 .3 3.2-1.4 4 .5 .8-.7 .8-.2 .8-.9 .8 .2 .8-.4 .8 .5 .8-.5 .8 .5 .8-.8 .8 0 .8-.9 .8 0 .8-.9 .8 .6 .8-.7 .8 .3 .8-.5 .8 0 .8-1.2 .8 .1 .8-1.2 .8 .4 .8-.7 .8 0 .8-.7 .8-.1 .8-1 .8 .1 .8-1.2 .8 .2 .8-1 .8 .2 .8-1.4 .8 .1 .8-1.3 .8 .1 .8-1.1 .8 .2 .8-1.8 .8 .2 .8-1.5 .8 .6 .8-2 .8 .2 .8-1.3 .8-.2 .8-1.2 .8 .2 .8-2.1 .8 .3 .8-1.6 .8-.2 .8-1.3 .8-.2 .8-1.7 .8-.1 .8-1.8 .8 .4 .8-2.1 .8 .3 .8-1.7 .8-.1 .8-2 .8 .3 .8-2 .8 0 .8-2 .8 0 .8-1.9 .8 .2 .8-1.9 .8 .1 .8-1.7 .8 0 .8-1.8 .8-.4 .8-1.5 .8-.2 .8-1.5 .8-.3 .8-1.6 .8 .2 .8-1.7 .8-.3 .8-1.6 .8 .2 .8-1.7 .8 .1 .8-1.3 .8 0 .8-1.8 .8 .5 .8-1.4 .8 .2 .8-1.4 .8 .1 .8-1.5 .8 .6 .8-1.3 .8 .3 .8-1.5 .8 .6 .8-1.1 .8 .2 .8-1 .8 .4 .8-.9 .8 .7 .8-1.1 .8 .6 .8-.6 .8 .3 .8-.6 .8 .6 .8-.6 .8 .8 .8-.7 .8 1.1 .8-.6 .8 .7 .8-.6 .8 1.2 .8-.4 .8 1 .8-.3 .8 1 .8-.2 .8 1.2 .8-.2 .8 1 .8 0 .8 1 .8 .1 .8 1.4 .8-.1 .8 1.1 .8-.2 .8 1.8 .8 0 .8 1.2 .8 .3 .8 1.3 .8 .2 .8 1.7 .8-.5 .8 2 .8 0 .8 1.5 .8 .2 .8 1.7 .8-.2 .8 1.9 .8 0 .8 1.9 .8 .2 .8 1.8 .8 0 .8 1.6 .8 .2 .8 1.8 .8-.2 .8 2.3 .8-.4 .8 1.8 .8 .2 .8 1.7 .8 .2 .8 1.4 .8 .1 .8 2 .8-.1 .8 1.5 .8-.1 .8 1.9 .8 .1 .8 1.7 .8-.1 .8 1.8 .8-.1 .8 1.2 .8 .3 .8 1.3 .8 .1 .8 1.7 .8-.4 .8 1.7 .8-.4 .8 1.5 .8-.2 .8 1.7 .8-.3 .8 1.2 .8-.1 .8 1.5 .8-.7 .8 1.6 .8-.2 .8 1.3 .8-.5 .8 1.3 .8-.2 .8 1 .8-.1 .8 1.3 .8-.4 .8 1.1 .8-.5 .8 1.1 .8-.3 .8 1.1 .8-.3 .8 .7 .8-.3 .8 1 .8-.3 .8 .8 .8-.5 .8 1 .8-.3 .8 .7 .8-.5 .8 1.1 .8-.4 .8 .7 .8-.6 .8 .9 .8-.3 .8 .6 .8-.4 .8 .7 .8-.4 .8 .6 .8-.3 .8 .6 .8-.4 .8 .6 .8-.3 .8 .5 .8-.2 2.4 .5 .8-.3 2.4 .5" stroke="#648FFF"/>
<path d="M1119.4 731.4l4-.8 .8 .3 .8-.3 .8 .2 .8-.4 .8 .2 .8-.6 .8 .2 .8-.6 .8 .4 .8-.4 .8 .3 .8-.6 .8 .2 .8-.8 .8 .5 .8-.8 .8 .5 .8-1 .8 .5 .8-.8 .8 .6 .8-.9 .8 .2 .8-1 .8 .3 .8-.9 .8 .6 .8-1.2 .8 .6 .8-1.1 .8 .4 .8-1.3 .8 .4 .8-1.2 .8 .7 .8-1.3 .8 .2 .8-.9 .8 .3 .8-1.3 .8 .3 .8-1.3 .8 .2 .8-1.1 .8 .2 .8-1.3 .8 .2 .8-1.6 .8 .5 .8-1.7 .8 .2 .8-1.5 .8 .2 .8-1.6 .8 .4 .8-1.6 .8 .1 .8-1.8 .8 .4 .8-1.9 .8 .3 .8-1.5 .8 0 .8-1.6 .8-.2 .8-1.7 .8 .3 .8-1.8 .8-.1 .8-1.7 .8 0 .8-2 .8 .1 .8-1.4 .8-.3 .8-2 .8 .2 .8-1.8 .8 .1 .8-2 .8 0 .8-1.9 .8 .1 .8-1.9 .8 .1 .8-1.9 .8 0 .8-2 .8 .5 .8-2.2 .8 0 .8-1.7 .8 .2 .8-1.6 .8 0 .8-2.1 .8 .6 .8-1.9 .8 .2 .8-1.9 .8 .2 .8-1.3 .8 0 .8-1.4 .8 0 .8-1.5 .8 .5 .8-1.6 .8 .2 .8-1.4 .8 .3 .8-1.2 .8 .7 .8-1.3 .8 .4 .8-1.3 .8 .6 .8-1.2 .8 .7 .8-1.2 .8 .7 .8-.7 .8 .6 .8-1 .8 .8 .8-.6 .8 .4 .8-.5 .8 .6 .8-.4 .8 .8 .8-.6 .8 1.2 .8-.5 .8 .8 .8-.2 .8 .9 .8-.3 .8 1.2 .8-.5 .8 1.5 .8-.4 .8 1.4 .8-.5 .8 1.6 .8-.4 .8 1.7 .8-.3 .8 1.7 .8-.6 .8 1.7 .8-.1 .8 1.9 .8-.2 .8 1.7 .8-.4 .8 1.8 .8 .3 .8 1.5 .8 .1 .8 1.8 .8-.2 .8 1.6 .8 .3 .8 1.9 .8-.3 .8 1.7 .8 .3 .8 1.9 .8-.2 .8 1.7 .8 .3 .8 1.9 .8-.1 .8 1.9 .8-.1 .8 1.9 .8-.2 .8 2.1 .8 0 .8 1.6 .8-.3 .8 2 .8-.3 .8 2.2 .8-.4 .8 1.6 .8 0 .8 1.8 .8-.1 .8 1.6 .8-.2 .8 1.8 .8-.1 .8 1.5 .8 0 .8 1.7 .8-.2 .8 1.3 .8 0 .8 1.3 .8-.2 .8 1.7 .8-.3 .8 1.3 .8-.1 .8 1.4 .8-.3 .8 .9 .8-.1 .8 1.4 .8-.4 .8 1.4 .8-.4 .8 1.3 .8-.4 .8 .8 .8 0 .8 1.2 .8-.5 .8 1 .8-.6 .8 1.4 .8-.4 .8 .8 .8-.4 .8 1 .8-.4 .8 .9 .8-.4 .8 .9 .8-.6 .8 1.2 .8-.5 .8 .7 .8-.3 .8 .7 .8-.3 .8 .7 .8-.3 .8 .5 .8-.4 .8 .8 .8-.5 .8 .5 .8-.2 .8 .6 .8-.4 .8 .5 .8-.2 .8 .5 .8-.3 .8 .3 .8-.1 .8 .3 .8-.2 2.4 .4" stroke="#785EF0"/>
<path d="M1137.0 731.3l2.4-.3 .8 .2 .8-.4 .8 .2 2.4-.6 .8 .2 .8-.5 .8 .3 .8-.6 .8 .5 .8-.7 .8 .4 .8-.6 .8 .4 .8-.7 .8 .4 .8-.8 .8 .4 .8-1 .8 .8 .8-1.1 .8 .6 .8-1.1 .8 .5 .8-.9 .8 .5 .8-1.2 .8 .4 .8-.6 .8 .3 .8-1.2 .8 .5 .8-1 .8 .1 .8-1 .8 .6 .8-1.5 .8 .6 .8-1.2 .8 .5 .8-1.3 .8 0 .8-.9 .8 .3 .8-1.4 .8 .3 .8-1.5 .8 .5 .8-1.4 .8 .3 .8-1.6 .8 .1 .8-1.3 .8 0 .8-1.5 .8 .5 .8-1.8 .8 .3 .8-1.8 .8 .3 .8-1.4 .8-.2 .8-1.4 .8 .2 .8-1.8 .8 .1 .8-1.7 .8 0 .8-1.8 .8 .3 .8-1.9 .8 .1 .8-1.9 .8 0 .8-1.8 .8 .2 .8-2.1 .8 .3 .8-1.9 .8-.3 .8-1.7 .8 .3 .8-2 .8-.1 .8-2 .8 0 .8-1.7 .8 0 .8-1.9 .8 .3 .8-1.8 .8-.3 .8-1.7 .8 .1 .8-1.8 .8 .3 .8-1.7 .8-.2 .8-1.8 .8 0 .8-1.5 .8 .4 .8-1.6 .8 0 .8-1.6 .8 .1 .8-1.5 .8 .4 .8-1.7 .8 .4 .8-1.3 .8 .4 .8-1.4 .8 .4 .8-1.2 .8 0 .8-1 .8 .3 .8-.9 .8 .5 .8-1.1 .8 .6 .8-1 .8 .6 .8-1 .8 .9 .8-1 .8 .7 .8-.5 .8 .7 .8-.7 .8 .9 .8-.4 .8 .8 .8-.7 .8 1 .8-.5 .8 1.1 .8-.3 .8 1.2 .8-.6 .8 1.5 .8-.5 .8 1.4 .8-.5 .8 1.5 .8-.5 .8 1.5 .8-.2 .8 1.5 .8 .1 .8 1.1 .8 .3 .8 1.5 .8-.5 .8 1.8 .8 .1 .8 1.5 .8 .1 .8 1.5 .8 .3 .8 1.7 .8 0 .8 1.5 .8 .2 .8 1.5 .8 .1 .8 2 .8 .1 .8 1.7 .8 0 .8 2 .8 0 .8 1.6 .8 .2 .8 1.5 .8 0 .8 1.7 .8 .4 .8 1.8 .8-.3 .8 1.9 .8-.2 .8 2.2 .8-.3 .8 2.1 .8-.3 .8 1.8 .8 .1 .8 1.4 .8 .2 .8 1.5 .8-.2 .8 1.5 .8 0 .8 2 .8-.6 .8 1.8 .8-.2 .8 1.8 .8-.4 .8 1.4 .8-.2 .8 1.8 .8-.6 .8 1.4 .8-.3 .8 1.7 .8-.2 .8 1.1 .8-.3 .8 1.2 .8-.1 .8 1.3 .8-.5 .8 1.4 .8-.2 .8 1.1 .8-.6 .8 1.4 .8-.5 .8 1.1 .8-.3 .8 1 .8-.3 .8 1 .8-.3 .8 .9 .8-.4 .8 .9 .8-.4 .8 1 .8-.4 .8 .7 .8-.4 .8 1 .8-.4 .8 .8 .8-.6 .8 .7 .8-.2 .8 .8 .8-.5 .8 .7 .8-.4 .8 .7 .8-.4 .8 .6 .8-.5 .8 .6 .8-.1 .8 .4 .8-.4 2.4 .6 .8-.2 .8 .3 .8-.2 .8 .4" stroke="#DC267F"/>
<path d="M1154.6 731.4l2.4-.4 .8 .3 .8-.4 .8 .2 .8-.4 .8 .2 .8-.4 .8 .3 .8-.4 .8 .2 .8-.5 .8 .3 .8-.6 .8 .3 .8-.5 .8 .3 .8-.7 .8 .5 .8-.8 .8 .6 .8-1.1 .8 .4 .8-.7 .8 .4 .8-1 .8 .8 .8-1.2 .8 .5 .8-1.1 .8 .6 .8-.9 .8 .3 .8-1.2 .8 .6 .8-1.1 .8 .4 .8-.9 .8 .1 .8-1.1 .8 .7 .8-1.3 .8 .4 .8-1.1 .8 .4 .8-1.7 .8 .4 .8-1.3 .8 .3 .8-1.3 .8 .2 .8-1.3 .8 .6 .8-1.5 .8 .2 .8-1.5 .8 .3 .8-1.3 .8-.2 .8-1.2 .8 0 .8-1.5 .8 .1 .8-1.6 .8 .4 .8-2.1 .8 .2 .8-1.6 .8 .3 .8-1.6 .8-.1 .8-1.8 .8 .2 .8-1.7 .8-.1 .8-1.7 .8 .2 .8-2 .8 0 .8-1.8 .8 .1 .8-2 .8 .3 .8-2 .8-.1 .8-2 .8 .4 .8-2.1 .8 .1 .8-1.9 .8 .3 .8-1.9 .8-.2 .8-1.7 .8 .1 .8-1.8 .8 0 .8-2.1 .8 .2 .8-1.5 .8-.4 .8-1.3 .8 .2 .8-2.1 .8 .1 .8-1.3 .8 .1 .8-1.7 .8-.1 .8-1.4 .8 .2 .8-1.4 .8 .2 .8-1.5 .8 .5 .8-1.5 .8 .5 .8-1.5 .8 .3 .8-1.2 .8 .4 .8-1.2 .8 .6 .8-.9 .8 .4 .8-1.2 .8 .8 .8-1.1 .8 .7 .8-.6 .8 .4 .8-.6 .8 .5 .8-.5 .8 .8 .8-.7 .8 .9 .8-.7 .8 1.2 .8-.6 .8 1.1 .8-.7 .8 1.2 .8-.5 .8 1.3 .8-.4 .8 1.2 .8-.2 .8 1.2 .8 0 .8 1.3 .8-.3 .8 1.6 .8-.4 .8 1.4 .8 .1 .8 1.4 .8-.3 .8 1.6 .8 0 .8 1.7 .8-.2 .8 1.8 .8-.2 .8 2 .8 0 .8 1.8 .8-.4 .8 2.2 .8-.2 .8 2 .8-.4 .8 2.2 .8-.3 .8 2 .8 0 .8 1.7 .8 .3 .8 1.7 .8-.1 .8 1.6 .8 .3 .8 1.9 .8-.3 .8 1.9 .8 .2 .8 1.8 .8-.1 .8 1.6 .8 .3 .8 1.5 .8-.1 .8 2 .8-.3 .8 1.5 .8 .3 .8 1.7 .8-.2 .8 1.7 .8-.2 .8 1.3 .8 .1 .8 1.8 .8-.5 .8 1.7 .8-.1 .8 1.2 .8-.2 .8 1.6 .8-.3 .8 1.3 .8 0 .8 1.4 .8-.6 .8 1.5 .8-.1 .8 1.1 .8-.1 .8 .9 .8-.2 .8 1.3 .8-.3 .8 1.2 .8-.6 .8 1.2 .8-.4 .8 1.2 .8-.3 .8 1 .8-.7 .8 1.1 .8-.3 .8 1.1 .8-.6 .8 1 .8-.2 .8 .8 .8-.4 .8 .8 .8-.6 .8 .8 .8-.2 .8 .8 .8-.4 .8 .7 .8-.4 .8 .7 .8-.5 .8 .6 .8-.2 .8 .7 .8-.3 .8 .4 .8-.2 .8 .4 .8-.3 .8 .5 2.4-.1 .8 .4 2.4-.1 .8 .3" stroke="#FE6100"/>
<path d="M1173.8 731.4l.8-.3 .8 .2 .8-.3 4-.1 .8-.4 .8 .2 .8-.4 .8 .2 .8-.6 .8 .3 .8-.5 .8 .3 .8-.6 .8 .4 .8-.8 .8 .6 .8-.8 .8 .2 .8-.8 .8 .6 .8-.8 .8 .4 .8-.8 .8 .4 .8-1.1 .8 .4 .8-.9 .8 .6 .8-.9 .8 .4 .8-1.4 .8 .5 .8-.9 .8 .3 .8-1.1 .8 .3 .8-1.3 .8 .5 .8-1.2 .8 .4 .8-1.3 .8 .4 .8-1.2 .8 .3 .8-1.2 .8 .4 .8-1.3 .8 .2 .8-1.6 .8 .4 .8-1.4 .8 0 .8-1.2 .8-.1 .8-1.2 .8 .2 .8-1.4 .8-.1 .8-1.6 .8 .5 .8-2 .8 .3 .8-1.6 .8 .1 .8-1.5 .8-.2 .8-1.6 .8 0 .8-1.5 .8-.4 .8-1.6 .8 0 .8-1.9 .8 .1 .8-1.8 .8 .4 .8-2 .8-.2 .8-1.6 .8 .1 .8-2.1 .8 .1 .8-1.6 .8 0 .8-1.9 .8 0 .8-2.2 .8 0 .8-1.7 .8-.1 .8-1.7 .8 .1 .8-2 .8 .3 .8-1.9 .8 .3 .8-1.9 .8 0 .8-1.5 .8 0 .8-1.7 .8 0 .8-1.5 .8 0 .8-1.3 .8-.1 .8-1.2 .8-.2 .8-1.4 .8 .7 .8-1.8 .8 .3 .8-1.2 .8 .3 .8-1.3 .8 .3 .8-.9 .8 .2 .8-1 .8 .6 .8-.9 .8 .3 .8-.9 .8 .6 .8-.9 .8 .4 .8-.7 .8 .8 .8-.7 .8 .5 .8-.4 .8 .7 .8-.6 .8 .9 .8-.4 .8 .8 .8-.6 .8 1.4 .8-.6 .8 1 .8-.4 .8 1.2 .8 0 .8 1.1 .8-.5 .8 1.6 .8-.5 .8 1.7 .8-.3 .8 1.7 .8-.6 .8 1.7 .8-.1 .8 1.7 .8-.4 .8 1.5 .8 .2 .8 1.7 .8-.1 .8 1.6 .8 .2 .8 1.4 .8 .3 .8 1.4 .8 0 .8 1.9 .8-.2 .8 2.2 .8-.1 .8 1.5 .8 .2 .8 2 .8-.3 .8 2.2 .8 .1 .8 1.8 .8-.2 .8 2.1 .8-.3 .8 1.8 .8 .2 .8 1.6 .8-.2 .8 2.1 .8 .1 .8 1.4 .8 .2 .8 1.6 .8 .1 .8 1.7 .8-.2 .8 1.9 .8-.2 .8 1.6 .8-.1 .8 1.6 .8-.4 .8 1.6 .8 0 .8 1.7 .8-.3 .8 1.4 .8-.2 .8 1.8 .8-.3 .8 1.5 .8-.4 .8 1.6 .8-.3 .8 1 .8-.3 .8 1.6 .8-.4 .8 1.4 .8-.3 .8 1.1 .8-.3 .8 1.2 .8-.4 .8 1.3 .8-.4 .8 1.1 .8-.5 .8 1.1 .8-.2 .8 .9 .8-.5 .8 1.2 .8-.4 .8 .7 .8-.4 .8 1.1 .8-.4 .8 .7 .8-.3 .8 .9 .8-.4 .8 .6 .8-.2 .8 .6 .8-.4 .8 .7 .8-.3 .8 .7 .8-.3 .8 .6 .8-.3 .8 .4 .8-.2 .8 .4 .8-.2 .8 .4 .8-.1 .8 .4 2.4-.1 2.4 .4" stroke="#FFB000"/>
<path d="M1193.0 731.4l.8-.3 2.4 .1 .8-.4 .8 .2 .8-.4 .8 .1 .8-.4 .8 .4 .8-.7 .8 .5 .8-.7 .8 .4 .8-.7 .8 .5 .8-.7 .8 .5 .8-1.1 .8 .8 .8-.8 .8 .5 .8-1.1 .8 .4 .8-.8 .8 .6 .8-1.2 .8 .7 .8-.9 .8 .2 .8-1 .8 .8 .8-1.2 .8 .3 .8-.9 .8 .4 .8-1.2 .8 .4 .8-1 .8 .2 .8-1.1 .8 .3 .8-1.1 .8 .3 .8-1.3 .8 .4 .8-1.4 .8 .4 .8-1.3 .8 .4 .8-1.4 .8 .3 .8-1.6 .8 .3 .8-1.5 .8 .3 .8-1.6 .8 .4 .8-1.6 .8 .3 .8-1.4 .8 .2 .8-1.8 .8 .3 .8-1.8 .8 .2 .8-1.7 .8 .2 .8-1.8 .8 0 .8-1.7 .8 .2 .8-1.8 .8 .2 .8-2.1 .8 .3 .8-2 .8 0 .8-1.6 .8 0 .8-1.7 .8-.2 .8-1.7 .8 0 .8-2.1 .8 .5 .8-2.2 .8 0 .8-1.9 .8 .1 .8-2.1 .8 .1 .8-1.5 .8-.1 .8-1.8 .8-.2 .8-1.6 .8 .3 .8-1.8 .8 .1 .8-1.8 .8-.1 .8-1.6 .8 .2 .8-2 .8 .5 .8-1.8 .8 .3 .8-1.8 .8 .1 .8-1.3 .8 .1 .8-1.2 .8 .2 .8-1.6 .8 .4 .8-1.1 .8 .2 .8-1.1 .8 .4 .8-1 .8 .3 .8-1.2 .8 .4 .8-.9 .8 .8 .8-1.2 .8 .6 .8-.7 .8 .4 .8-.7 .8 .8 .8-.7 .8 .6 .8-.5 .8 .8 .8-.6 .8 1 .8-.6 .8 1.2 .8-.5 .8 1 .8-.1 .8 1 .8-.4 .8 1.4 .8-.7 .8 1.6 .8-.3 .8 1.5 .8-.5 .8 1.6 .8-.6 .8 1.6 .8 0 .8 1.7 .8-.5 .8 1.9 .8 0 .8 1.5 .8-.4 .8 2.2 .8-.3 .8 1.8 .8-.3 .8 1.9 .8-.3 .8 2.1 .8 .1 .8 1.6 .8 .2 .8 1.8 .8 .1 .8 1.4 .8 .2 .8 1.9 .8 .1 .8 1.8 .8 0 .8 1.8 .8-.3 .8 1.9 .8 0 .8 2.1 .8 0 .8 1.4 .8 .2 .8 2 .8-.5 .8 2.2 .8-.1 .8 1.4 .8 .3 .8 1.6 .8-.4 .8 2 .8-.3 .8 2 .8-.2 .8 1.5 .8-.4 .8 1.8 .8-.4 .8 1.7 .8-.3 .8 1.8 .8-.2 .8 1.2 .8-.1 .8 1.4 .8-.2 .8 1.2 .8 0 .8 1 .8 .1 .8 1.1 .8-.2 .8 1.1 .8-.1 .8 1 .8-.4 .8 1.3 .8-.4 .8 1.1 .8-.1 .8 1 .8-.3 .8 .9 .8-.3 .8 .9 .8-.3 .8 1 .8-.4 .8 1 .8-.5 .8 .7 .8-.3 .8 .8 .8-.4 .8 .8 .8-.3 .8 .8 .8-.6 .8 1.1 .8-.5 .8 .6 .8-.5 .8 .8 .8-.2 .8 .4 .8-.2 .8 .5 .8-.4 .8 .5 .8-.2 .8 .4 .8-.3 .8 .6 .8-.3 .8 .3 3.2 .2" stroke="#63A00C"/>
<path d="M1210.6 731.4l2.4-.4 .8 .2 .8-.3 .8 .1 .8-.3 .8 .2 .8-.4 .8 .2 .8-.5 .8 .4 .8-.6 .8 .3 .8-.4 .8 .2 .8-.6 .8 .4 .8-.7 .8 .5 .8-.9 .8 .4 .8-1 .8 .9 .8-1.2 .8 .5 .8-1 .8 .7 .8-.9 .8 .5 .8-1.2 .8 .7 .8-1.4 .8 .5 .8-.9 .8 .4 .8-.9 .8 .4 .8-1.4 .8 .4 .8-1 .8 .4 .8-1.1 .8 .2 .8-1.2 .8 .6 .8-1.6 .8 .2 .8-1.1 .8 .3 .8-1.3 .8 .5 .8-1.8 .8 .7 .8-1.8 .8 .3 .8-1.5 .8 .2 .8-1.5 .8 .6 .8-1.6 .8 0 .8-1.4 .8 .1 .8-1.9 .8 .2 .8-1.4 .8 .1 .8-1.8 .8 0 .8-1.4 .8-.3 .8-1.4 .8-.2 .8-1.5 .8-.1 .8-1.7 .8-.2 .8-1.4 .8 .1 .8-1.9 .8-.3 .8-1.7 .8 .1 .8-2 .8 0 .8-1.8 .8-.1 .8-1.7 .8 .2 .8-2.2 .8 .1 .8-1.5 .8-.1 .8-2.1 .8 0 .8-1.7 .8 .3 .8-1.8 .8-.2 .8-1.6 .8-.1 .8-1.4 .8 0 .8-1.7 .8 .1 .8-1.5 .8-.1 .8-1.4 .8 .1 .8-1.5 .8 .1 .8-1.4 .8 0 .8-1 .8 0 .8-1.3 .8 .2 .8-1.2 .8 .5 .8-1.4 .8 .6 .8-1.3 .8 .4 .8-1 .8 .8 .8-1.1 .8 .4 .8-.8 .8 .8 .8-1.1 .8 .7 .8-.4 .8 .6 .8-.8 .8 1 .8-.8 .8 .8 .8-.4 .8 .8 .8-.5 .8 1.3 .8-.6 .8 1.1 .8-.3 .8 1.2 .8-.4 .8 1.1 .8 0 .8 1.4 .8-.4 .8 1.5 .8-.3 .8 1.6 .8-.6 .8 1.8 .8 0 .8 1.5 .8-.2 .8 1.7 .8-.4 .8 1.9 .8-.4 .8 2.1 .8-.3 .8 1.6 .8 .3 .8 1.5 .8 0 .8 1.6 .8 .5 .8 1.6 .8 .1 .8 1.6 .8 .1 .8 1.6 .8 0 .8 2.1 .8-.2 .8 2.1 .8 0 .8 1.5 .8 .2 .8 2 .8-.2 .8 1.9 .8-.1 .8 1.9 .8-.3 .8 2 .8 .1 .8 1.5 .8-.2 .8 1.7 .8 .2 .8 1.7 .8 .1 .8 1.5 .8-.1 .8 1.4 .8 0 .8 1.5 .8 0 .8 1.6 .8-.1 .8 1.5 .8-.2 .8 1.4 .8-.3 .8 1.5 .8-.2 .8 1.2 .8-.2 .8 1.7 .8-.3 .8 1.3 .8-.4 .8 1.4 .8-.3 .8 1 .8-.2 .8 1 .8-.3 .8 1 .8 0 .8 .9 .8-.1 .8 .8 .8-.4 .8 1.3 .8-.5 .8 1.1 .8-.7 .8 1 .8-.3 .8 .9 .8-.2 .8 .9 .8-.7 .8 .9 .8-.5 .8 1.1 .8-.7 .8 .9 .8-.5 .8 .8 .8-.5 .8 .9 .8-.5 .8 .8 .8-.4 .8 .6 .8-.3 .8 .5 .8-.3 .8 .4 .8-.1 .8 .4 .8-.3 .8 .3 .8-.1 .8 .3 .8-.2 .8 .3 .8-.2 .8 .3" stroke="#2F1DAF"/>
<path d="M1229.8 731.4l.8-.3 .8 .2 .8-.4 .8 .3 .8-.5 .8 .3 .8-.4 .8 .2 .8-.5 .8 .4 .8-.4 .8 .2 .8-.6 .8 .2 .8-.4 .8 .2 .8-.6 .8 .3 .8-.7 .8 .5 .8-.9 .8 .7 .8-.8 .8 .4 .8-1.1 .8 .6 .8-.9 .8 .3 .8-1 .8 .7 .8-1.1 .8 .7 .8-1.2 .8 .3 .8-.8 .8 .4 .8-1.1 .8 .1 .8-.9 .8 .2 .8-1.2 .8 .6 .8-1.3 .8 .5 .8-1.2 .8 .3 .8-1.6 .8 .5 .8-1.2 .8 .1 .8-1.2 .8 .4 .8-1.7 .8 .4 .8-1.2 .8-.1 .8-1.4 .8 .2 .8-1.3 .8-.2 .8-1.4 .8 .3 .8-1.4 .8-.2 .8-1.2 .8 .1 .8-1.9 .8 .2 .8-1.6 .8-.1 .8-1.5 .8 0 .8-1.6 .8-.2 .8-1.6 .8 0 .8-2 .8 .1 .8-1.7 .8-.2 .8-1.9 .8 .5 .8-2.1 .8 .2 .8-2 .8 0 .8-1.8 .8 0 .8-2.1 .8 .3 .8-1.8 .8 0 .8-2.1 .8 .2 .8-2 .8 .1 .8-1.9 .8 0 .8-1.5 .8 .2 .8-1.9 .8-.1 .8-1.3 .8-.1 .8-1.6 .8-.2 .8-1.6 .8 .5 .8-1.8 .8 .4 .8-1.6 .8 .2 .8-1.6 .8 .5 .8-1.4 .8 .3 .8-1.3 .8 .1 .8-1.2 .8 .3 .8-.8 .8 .1 .8-.7 .8 .4 .8-1.1 .8 .5 .8-.8 .8 .4 .8-.8 .8 .7 .8-.8 .8 .6 .8-.7 .8 .9 .8-.8 .8 .8 .8-.5 .8 1 .8-.5 .8 .8 .8-.4 .8 1.2 .8-.7 .8 1.1 .8-.3 .8 1.2 .8-.4 .8 1.7 .8-.7 .8 1.8 .8-.3 .8 1.2 .8-.3 .8 1.6 .8-.3 .8 1.6 .8-.3 .8 1.6 .8-.2 .8 1.9 .8 0 .8 1.8 .8-.4 .8 1.8 .8 .1 .8 1.7 .8-.1 .8 2 .8-.4 .8 2.2 .8-.2 .8 1.9 .8-.1 .8 1.7 .8 .3 .8 1.7 .8 .1 .8 1.7 .8-.2 .8 2.3 .8-.1 .8 1.5 .8 .3 .8 1.7 .8-.2 .8 1.9 .8-.1 .8 2 .8-.1 .8 1.7 .8 .2 .8 1.5 .8-.1 .8 1.8 .8-.2 .8 1.9 .8-.4 .8 2.1 .8-.3 .8 1.4 .8-.1 .8 1.8 .8-.3 .8 1.6 .8-.1 .8 1.5 .8-.2 .8 1.4 .8-.4 .8 1.6 .8-.5 .8 1.6 .8-.2 .8 1.1 .8-.1 .8 1.5 .8-.5 .8 1.4 .8-.4 .8 1.4 .8-.8 .8 1.3 .8-.2 .8 1.2 .8-.6 .8 1.3 .8-.3 .8 .9 .8-.3 .8 .9 .8-.6 .8 1.3 .8-.4 .8 .9 .8-.7 .8 1.3 .8-.7 .8 1 .8-.4 .8 .9 .8-.5 .8 .9 .8-.7 .8 1.3 .8-.9 .8 1.1 .8-.5 .8 .8 .8-.5 .8 .6 .8-.4 .8 .6 .8-.3 .8 .5 .8-.2 .8 .5 .8-.3 .8 .4 .8-.4 .8 .6 .8-.3 .8 .4 .8-.2 .8 .3" stroke="#648FFF"/>
<path d="M1247.4 731.4l4-.5 .8 .2 .8-.3 .8 .2 .8-.4 .8 .2 .8-.5 .8 .4 .8-.7 .8 .5 .8-.7 .8 .3 .8-.5 .8 .2 .8-.6 .8 .4 .8-.8 .8 .3 .8-.5 .8 .5 .8-.9 .8 .5 .8-1.2 .8 .4 .8-.8 .8 .4 .8-1 .8 .6 .8-1.1 .8 .7 .8-1.2 .8 .6 .8-1.1 .8 .1 .8-.8 .8 .5 .8-1.4 .8 .6 .8-1.3 .8 .3 .8-1.2 .8 .4 .8-1.3 .8 .3 .8-1.5 .8 .4 .8-1.1 .8 .3 .8-1.6 .8 .6 .8-1.6 .8 .3 .8-1.7 .8 .3 .8-1.5 .8 .5 .8-1.6 .8 .3 .8-1.8 .8 .1 .8-1.4 .8 .1 .8-1.7 .8 .3 .8-1.7 .8-.1 .8-1.5 .8-.1 .8-1.7 .8 .2 .8-1.9 .8 .3 .8-2.2 .8 .5 .8-1.8 .8 .1 .8-2.1 .8-.1 .8-1.7 .8 .1 .8-2.1 .8 .4 .8-2.3 .8 .3 .8-1.9 .8-.2 .8-1.7 .8 0 .8-2 .8 .3 .8-1.9 .8-.2 .8-1.7 .8 .4 .8-1.8 .8-.1 .8-1.7 .8 .1 .8-1.8 .8 .1 .8-2 .8 .4 .8-1.8 .8 .3 .8-1.6 .8 .2 .8-1.8 .8 .2 .8-1.4 .8 .1 .8-1.2 .8 .5 .8-1.7 .8 .4 .8-1.2 .8 .5 .8-1.6 .8 .4 .8-.9 .8 .4 .8-1.1 .8 .6 .8-.9 .8 .5 .8-.9 .8 .4 .8-.7 .8 .5 .8-.4 .8 .6 .8-.6 .8 .5 .8-.5 .8 1 .8-.7 .8 1.1 .8-.4 .8 .8 .8-.4 .8 1 .8-.2 .8 1.2 .8-.4 .8 1 .8-.3 .8 1.3 .8 0 .8 1 .8 .1 .8 1.3 .8-.2 .8 1.7 .8-.1 .8 1.3 .8-.2 .8 1.7 .8-.1 .8 1.9 .8-.3 .8 1.6 .8-.2 .8 2.1 .8-.2 .8 1.9 .8 0 .8 1.8 .8-.2 .8 2.1 .8-.4 .8 2 .8-.1 .8 1.7 .8-.1 .8 2 .8 .2 .8 1.8 .8-.3 .8 2.3 .8 0 .8 1.7 .8 0 .8 1.7 .8 .1 .8 1.9 .8-.4 .8 2.1 .8-.3 .8 2 .8-.1 .8 1.5 .8-.2 .8 2.1 .8-.2 .8 1.5 .8 0 .8 1.7 .8-.4 .8 1.7 .8 .1 .8 1.5 .8-.5 .8 2 .8-.6 .8 1.7 .8-.4 .8 1.9 .8-.6 .8 1.7 .8-.5 .8 1.5 .8-.2 .8 1.1 .8-.1 .8 1.4 .8-.5 .8 1.4 .8-.6 .8 1.3 .8-.3 .8 1.1 .8-.4 .8 1.3 .8-.6 .8 1.3 .8-.6 .8 1.4 .8-.6 .8 1.2 .8-.6 .8 1.5 .8-1 .8 1.2 .8-1 .8 1.5 .8-.8 .8 1.3 .8-.7 .8 1 .8-.8 .8 1.2 .8-.6 .8 .8 .8-.7 .8 1.3 .8-.9 .8 1 .8-.8 .8 .9 .8-.4 .8 .6 .8-.3 .8 .7 .8-.6 .8 .6 .8-.3 .8 .5 .8-.3 .8 .4 .8-.3 .8 .4 .8-.2 .8 .4" stroke="#785EF0"/>
<path d="M1266.6 731.4l2.4-.4 .8 .2 .8-.4 .8 .2 .8-.4 .8 .3 .8-.4 .8 .2 .8-.5 .8 .3 .8-.6 .8 .5 .8-.7 .8 .3 .8-.6 .8 .2 .8-.4 .8 .2 .8-.6 .8 .2 .8-.7 .8 .6 .8-1 .8 .6 .8-1.2 .8 .5 .8-.9 .8 .4 .8-.7 .8 .2 .8-.8 .8 .2 .8-.8 .8 .1 .8-1.1 .8 .4 .8-.9 .8 .6 .8-1.4 .8 .5 .8-1.4 .8 .4 .8-1.1 .8 .3 .8-1.4 .8 .6 .8-1.6 .8 .6 .8-1.3 .8 0 .8-1.4 .8 .6 .8-1.8 .8 .4 .8-1.3 .8 0 .8-1.6 .8 .4 .8-1.7 .8 .5 .8-1.6 .8-.2 .8-1.6 .8 .2 .8-1.7 .8 .4 .8-1.7 .8 .1 .8-1.7 .8-.1 .8-1.8 .8 .1 .8-1.8 .8 .1 .8-1.8 .8 .2 .8-2.1 .8 .3 .8-1.9 .8 .2 .8-1.9 .8 0 .8-2 .8 .1 .8-2.2 .8 .2 .8-1.9 .8 .1 .8-2 .8 .3 .8-1.9 .8 .2 .8-2 .8 0 .8-1.8 .8 .2 .8-2 .8 0 .8-1.6 .8 .2 .8-2 .8 .2 .8-1.5 .8-.1 .8-1.7 .8 .2 .8-1.7 .8 .4 .8-1.3 .8 0 .8-1.4 .8 .4 .8-1.3 .8 .1 .8-1.5 .8 .3 .8-1.2 .8 .4 .8-1.2 .8 .5 .8-1.1 .8 .3 .8-.7 .8 .4 .8-.8 .8 .5 .8-.8 .8 .4 .8-.6 .8 .4 .8-.5 .8 .7 .8-.7 .8 .8 .8-.6 .8 .8 .8-.3 .8 1.1 .8-.8 .8 1.1 .8-.4 .8 1.2 .8-.6 .8 1.3 .8-.1 .8 .9 .8 0 .8 1.1 .8-.2 .8 1.4 .8 0 .8 1.2 .8 0 .8 1.3 .8 .1 .8 1.4 .8 .2 .8 1.5 .8-.1 .8 1.6 .8-.3 .8 1.8 .8 .1 .8 1.7 .8 .1 .8 1.8 .8-.2 .8 2 .8-.3 .8 2.1 .8-.1 .8 1.7 .8 .2 .8 1.8 .8-.2 .8 1.9 .8-.1 .8 2.1 .8-.1 .8 1.6 .8 .2 .8 2.1 .8-.3 .8 1.7 .8-.1 .8 1.9 .8-.2 .8 2 .8-.2 .8 2 .8-.2 .8 2.1 .8-.4 .8 1.9 .8-.7 .8 2 .8-.4 .8 2.2 .8-.6 .8 2.1 .8-.4 .8 1.7 .8-.5 .8 1.8 .8-.7 .8 2.1 .8-.8 .8 1.8 .8-.7 .8 1.8 .8-.4 .8 1.7 .8-.7 .8 1.9 .8-.8 .8 1.7 .8-.9 .8 1.8 .8-.7 .8 1.6 .8-.9 .8 1.5 .8-.7 .8 1.5 .8-.9 .8 1.6 .8-.7 .8 1.4 .8-1 .8 1.8 .8-1.2 .8 1.6 .8-.9 .8 1.3 .8-1.1 .8 1.7 .8-1.2 .8 1.8 .8-1.2 .8 1.4 .8-.9 .8 1.2 .8-.9 .8 1.3 .8-.8 .8 1 .8-.7 .8 .9 .8-.7 .8 .9 .8-.6 .8 .7 .8-.4 .8 .6 .8-.3 .8 .5 .8-.3 .8 .5 .8-.4 .8 .5 .8-.3 .8 .5 .8-.3 .8 .3" stroke="#DC267F"/>
<path d="M1285.8 731.3l2.4-.4 .8 .2 2.4-.6 .8 .4 .8-.6 .8 .3 .8-.5 .8 .2 .8-.4 .8 .2 .8-.5 .8 .4 .8-.7 .8 .4 .8-.7 .8 .4 .8-1 .8 .8 .8-1 .8 .6 .8-1 .8 .2 .8-.9 .8 .8 .8-1.1 .8 .4 .8-1.2 .8 .6 .8-1.1 .8 .5 .8-.8 .8 .3 .8-1.2 .8 .3 .8-1 .8 .4 .8-1.3 .8 .6 .8-1.3 .8 .4 .8-1.5 .8 .5 .8-1.3 .8 .3 .8-1.3 .8 .2 .8-1.1 .8 .2 .8-1.5 .8 .1 .8-1.2 .8 .3 .8-1.8 .8 .3 .8-1.5 .8 .3 .8-1.3 .8-.3 .8-1.2 .8-.2 .8-1.4 .8-.1 .8-1.7 .8 .4 .8-1.9 .8 .3 .8-1.7 .8-.1 .8-1.9 .8 .4 .8-1.8 .8 .1 .8-2 .8 0 .8-1.9 .8 .4 .8-2 .8 .1 .8-2.1 .8 .3 .8-1.9 .8-.2 .8-1.7 .8-.2 .8-1.5 .8 0 .8-2.2 .8 .1 .8-1.6 .8-.2 .8-1.7 .8 .1 .8-1.9 .8 0 .8-1.6 .8 0 .8-1.9 .8 .3 .8-1.6 .8 0 .8-1.8 .8 .1 .8-1.7 .8 .4 .8-1.5 .8 .1 .8-1.5 .8 .4 .8-1.4 .8 .1 .8-1.2 .8 .3 .8-1.3 .8 .2 .8-1.3 .8 .5 .8-1.4 .8 .7 .8-1.2 .8 .3 .8-.9 .8 .6 .8-.9 .8 .8 .8-1 .8 .5 .8-.6 .8 .5 .8-.3 .8 .7 .8-.6 .8 .6 .8-.4 .8 .9 .8-.6 .8 1.1 .8-.4 .8 1 .8-.4 .8 1 .8-.1 .8 1.2 .8-.6 .8 1.3 .8-.1 .8 1.5 .8-.5 .8 1.6 .8-.1 .8 1.4 .8-.1 .8 1.6 .8-.3 .8 1.5 .8-.1 .8 1.9 .8-.1 .8 1.4 .8-.2 .8 2.1 .8-.2 .8 1.7 .8-.3 .8 2.2 .8-.2 .8 2 .8-.3 .8 2.3 .8-.3 .8 1.8 .8 0 .8 2.2 .8-.4 .8 2.3 .8-.3 .8 2.3 .8-.5 .8 1.9 .8-.2 .8 2.4 .8-.8 .8 2.2 .8-.4 .8 2.3 .8-.6 .8 2.4 .8-.6 .8 2.2 .8-.6 .8 2.4 .8-.7 .8 1.9 .8-.2 .8 2.3 .8-.8 .8 2 .8-.9 .8 2.6 .8-.9 .8 1.9 .8-.5 .8 1.8 .8-.6 .8 2.2 .8-.9 .8 2 .8-.8 .8 1.9 .8-.9 .8 1.9 .8-.8 .8 2 .8-1 .8 1.8 .8-.8 .8 2 .8-1.5 .8 2.2 .8-1.3 .8 1.8 .8-.9 .8 1.7 .8-1.1 .8 1.7 .8-1.1 .8 2 .8-1.4 .8 1.9 .8-1.3 .8 1.6 .8-1.1 .8 1.8 .8-1.1 .8 1.3 .8-.7 .8 1.4 .8-1.2 .8 1.6 .8-1.2 .8 1.3 .8-.8 .8 1.2 .8-.8 .8 1 .8-.7 .8 1 .8-.9 .8 1.1 .8-.7 .8 .9 .8-.7 .8 .8 .8-.5 .8 .6 .8-.4 .8 .5 .8-.3 .8 .5 .8-.3 .8 .3 .8-.2 .8 .4" stroke="#FE6100"/>
<path d="M1303.4 731.4l.8-.3 2.4 .1 .8-.4 .8 .2 .8-.4 .8 .3 .8-.5 .8 .3 .8-.5 .8 .2 .8-.3 .8 .2 .8-.6 .8 .5 .8-.8 .8 .4 .8-.5 .8 .1 .8-.5 .8 .3 .8-.9 .8 .6 .8-.8 .8 .5 .8-1.2 .8 .8 .8-1.2 .8 .5 .8-.9 .8 .5 .8-1.2 .8 .4 .8-.9 .8 .6 .8-1.2 .8 .6 .8-1.5 .8 .7 .8-1.3 .8 .5 .8-1.2 .8 .3 .8-1.5 .8 .4 .8-1.1 .8 .4 .8-1.2 .8 0 .8-1.3 .8 .5 .8-1.3 .8 .1 .8-1.6 .8 .3 .8-1.1 .8 0 .8-1.5 .8 .1 .8-1.4 .8 0 .8-1.3 .8 .3 .8-1.8 .8 .3 .8-2 .8 .5 .8-1.7 .8-.1 .8-2 .8 .4 .8-1.8 .8 0 .8-1.9 .8 .1 .8-1.4 .8 .1 .8-1.9 .8 .1 .8-2.1 .8 .2 .8-1.9 .8 .1 .8-2 .8-.2 .8-1.7 .8-.1 .8-1.6 .8 .1 .8-1.8 .8-.4 .8-1.8 .8 .2 .8-1.7 .8-.1 .8-1.9 .8 .2 .8-1.8 .8-.1 .8-1.6 .8-.2 .8-1.7 .8 .2 .8-1.8 .8 .4 .8-1.5 .8 .2 .8-2 .8 .5 .8-1.8 .8 .2 .8-1.3 .8 .1 .8-1.3 .8 .3 .8-1.5 .8 .4 .8-1.3 .8 .7 .8-1.3 .8 .5 .8-1.6 .8 .9 .8-1.5 .8 .9 .8-1.3 .8 .9 .8-.9 .8 .4 .8-.7 .8 .8 .8-.9 .8 .7 .8-.5 .8 .8 .8-.6 .8 .7 .8-.6 .8 1 .8-.5 .8 1.2 .8-.4 .8 1.1 .8-.6 .8 1.4 .8-.5 .8 1.4 .8-.8 .8 2 .8-.6 .8 1.5 .8-.4 .8 1.7 .8-.5 .8 1.8 .8-.6 .8 2.1 .8-.5 .8 1.8 .8-.2 .8 2 .8-.4 .8 2.1 .8-.7 .8 2.2 .8-.3 .8 2 .8-.1 .8 1.7 .8-.3 .8 2.7 .8-.8 .8 2.5 .8-.8 .8 2.7 .8-.9 .8 2.8 .8-1 .8 2.4 .8-.4 .8 2.3 .8-.4 .8 2.6 .8-1.1 .8 2.6 .8-.8 .8 2.6 .8-.9 .8 2.6 .8-.3 .8 2 .8-.7 .8 2.4 .8-.8 .8 2.7 .8-.9 .8 2.4 .8-1 .8 2.3 .8-.9 .8 2.7 .8-1.1 .8 2.3 .8-1.1 .8 2.3 .8-1 .8 2.5 .8-1 .8 2.2 .8-1.3 .8 2.6 .8-1.1 .8 2.1 .8-1.1 .8 2 .8-.8 .8 1.9 .8-.9 .8 1.8 .8-1 .8 2.2 .8-1.4 .8 1.7 .8-1.1 .8 2.3 .8-1.6 .8 2.3 .8-1.3 .8 1.9 .8-1.5 .8 2.1 .8-1.5 .8 1.9 .8-1.1 .8 2 .8-1.5 .8 1.7 .8-1.2 .8 1.8 .8-1.7 .8 1.9 .8-1.4 .8 1.6 .8-.9 .8 1.4 .8-1 .8 1.3 .8-1 .8 1 .8-.7 .8 1 .8-.8 .8 .8 .8-.5 .8 .9 .8-.6 .8 .7 .8-.5 .8 .5 .8-.3 .8 .4 .8-.3 .8 .6 .8-.4 .8 .4" stroke="#FFB000"/>
<path d="M1322.6 731.3l4.8-.4 .8-.3 .8 .2 .8-.5 .8 .4 .8-.4 .8 .2 .8-.6 .8 .3 .8-.5 .8 .3 .8-.5 .8 .2 .8-.6 .8 .3 .8-.7 .8 .3 .8-.7 .8 .3 .8-.7 .8 .5 .8-1.2 .8 .7 .8-1.1 .8 .7 .8-1.2 .8 .5 .8-1 .8 .5 .8-1.1 .8 .4 .8-1.3 .8 .6 .8-1.2 .8 .5 .8-1.1 .8 .2 .8-1 .8 .3 .8-1.4 .8 .3 .8-1.2 .8 .6 .8-1.4 .8 .3 .8-1.6 .8 .5 .8-1.3 .8 .1 .8-1.4 .8-.1 .8-1.5 .8 .4 .8-1.6 .8 .5 .8-1.5 .8 .1 .8-1.6 .8-.1 .8-1.3 .8-.1 .8-1.4 .8 0 .8-1.6 .8 0 .8-1.9 .8 0 .8-1.6 .8 .3 .8-2.2 .8 .2 .8-1.9 .8 .2 .8-1.8 .8-.2 .8-1.7 .8-.1 .8-1.6 .8 .2 .8-2 .8 .2 .8-2.2 .8 .3 .8-2.1 .8 .3 .8-2 .8 .2 .8-2 .8 0 .8-1.7 .8-.1 .8-1.6 .8-.4 .8-1.5 .8 .1 .8-1.7 .8-.1 .8-2 .8 .5 .8-1.8 .8 .6 .8-1.9 .8 .2 .8-2.1 .8 .8 .8-1.9 .8 .8 .8-2.1 .8 1 .8-2 .8 .5 .8-1.8 .8 1 .8-2.1 .8 1.6 .8-2.1 .8 1.3 .8-1.9 .8 1.4 .8-2.1 .8 1.4 .8-1.6 .8 1.2 .8-1.4 .8 .9 .8-1 .8 .9 .8-.9 .8 1 .8-.9 .8 1.3 .8-1 .8 1.4 .8-1.1 .8 1.4 .8-1.1 .8 1.6 .8-.8 .8 1.5 .8-.6 .8 1.5 .8-.7 .8 1.8 .8-.7 .8 1.9 .8-1.2 .8 2.2 .8-.8 .8 2.1 .8-.9 .8 2.3 .8-.7 .8 2.4 .8-.8 .8 2.1 .8-.5 .8 2.1 .8-1.1 .8 2.7 .8-.9 .8 2.4 .8-.4 .8 2.3 .8-1 .8 2.9 .8-.7 .8 2.6 .8-1.2 .8 2.8 .8-.8 .8 2.8 .8-1.1 .8 3.1 .8-1.1 .8 3 .8-1.2 .8 2.6 .8-.7 .8 2.7 .8-1.2 .8 2.8 .8-.6 .8 2.5 .8-.7 .8 2.7 .8-1.1 .8 2.5 .8-.9 .8 2.4 .8-.8 .8 2.9 .8-1.4 .8 2.6 .8-.8 .8 2.4 .8-.9 .8 2.5 .8-1 .8 2.3 .8-1.2 .8 2.7 .8-1.4 .8 2.7 .8-1.2 .8 2.1 .8-1.2 .8 2.4 .8-1.3 .8 2.4 .8-1.4 .8 2.1 .8-1 .8 2.4 .8-1.4 .8 2.3 .8-1.2 .8 2 .8-1.6 .8 2.4 .8-1.7 .8 2.4 .8-1.2 .8 1.8 .8-1.2 .8 2.1 .8-1.6 .8 2 .8-1.6 .8 2.4 .8-1.7 .8 2.1 .8-1.5 .8 1.8 .8-1.5 .8 1.8 .8-1.3 .8 1.7 .8-1.5 .8 2 .8-1.2 .8 1.3 .8-.9 .8 1.2 .8-1.1 .8 1.3 .8-.9 .8 1 .8-.8 .8 1.1 .8-.8 .8 1 .8-.7 .8 .8 .8-.5 .8 .5 .8-.3 .8 .5 .8-.5 .8 .6 .8-.4 .8 .5 .8-.4 .8 .4" stroke="#63A00C"/>
<path d="M1340.2 731.4l.8-.3 2.4 .1 .8-.4 .8 .3 .8-.4 .8 .2 .8-.3 .8 .2 .8-.4 .8 .2 .8-.6 .8 .3 .8-.6 .8 .3 .8-.5 .8 .5 .8-.7 .8 .4 .8-1 .8 .5 .8-.7 .8 .3 .8-.6 .8 .3 .8-.9 .8 .6 .8-.9 .8 .3 .8-1 .8 .3 .8-.9 .8 .7 .8-1 .8 .4 .8-1.4 .8 .7 .8-1.1 .8 .4 .8-1.3 .8 .3 .8-1 .8 .2 .8-1.2 .8 .4 .8-1.2 .8 .4 .8-1.4 .8 .2 .8-1.3 .8 .6 .8-1.6 .8 .1 .8-1.1 .8 .2 .8-1.5 .8 .1 .8-1.6 .8 .2 .8-1.1 .8 .1 .8-1.9 .8 .4 .8-1.7 .8 .1 .8-1.5 .8 0 .8-1.6 .8 .2 .8-1.7 .8 .2 .8-1.9 .8 .3 .8-2 .8 .4 .8-2.3 .8 .5 .8-2.3 .8 .6 .8-2.1 .8 .3 .8-2 .8 .2 .8-2.4 .8 .6 .8-2.2 .8 .1 .8-2.2 .8 .5 .8-2.3 .8 .7 .8-2.6 .8 .9 .8-2.9 .8 .6 .8-2.1 .8 .6 .8-2.3 .8 .7 .8-3 .8 1.1 .8-2.4 .8 1.2 .8-2.9 .8 1.2 .8-2.8 .8 1.3 .8-3.1 .8 1.6 .8-3 .8 2 .8-3.4 .8 2 .8-3.1 .8 2.5 .8-3.7 .8 2.5 .8-3.3 .8 2.2 .8-3.1 .8 2.5 .8-3.1 .8 2.1 .8-3 .8 2.8 .8-3 .8 2.3 .8-2.3 .8 1.6 .8-1.9 .8 1.6 .8-1.5 .8 1.3 .8-1.3 .8 1.5 .8-1.3 .8 1.6 .8-1.2 .8 1.7 .8-1.4 .8 1.9 .8-1.2 .8 1.7 .8-.8 .8 1.6 .8-.8 .8 1.5 .8-.8 .8 2.1 .8-1 .8 1.9 .8-.7 .8 2.4 .8-1.2 .8 2 .8-.5 .8 2.2 .8-1.1 .8 2.5 .8-.9 .8 2.5 .8-.7 .8 2.4 .8-1.1 .8 2.5 .8-.8 .8 2.7 .8-1 .8 2.8 .8-.9 .8 2.4 .8-.3 .8 2.1 .8-.4 .8 2.6 .8-1.1 .8 2.7 .8-1 .8 2.7 .8-.7 .8 2.8 .8-.6 .8 2.5 .8-.8 .8 2.6 .8-1.1 .8 2.9 .8-.8 .8 2.4 .8-1 .8 2.8 .8-.8 .8 2.5 .8-1.4 .8 3 .8-.9 .8 2.7 .8-1.5 .8 3 .8-1.2 .8 2.7 .8-1.6 .8 3.2 .8-1.4 .8 2.8 .8-1.7 .8 2.7 .8-1.5 .8 2.7 .8-1.2 .8 2.5 .8-1.7 .8 2.7 .8-1.3 .8 2.4 .8-1.6 .8 2.4 .8-1.3 .8 2.6 .8-2 .8 2.9 .8-1.8 .8 2.4 .8-1.5 .8 2.3 .8-1.5 .8 2.4 .8-2 .8 2.7 .8-1.7 .8 2.2 .8-1.7 .8 2.2 .8-1.8 .8 2.5 .8-2 .8 2.3 .8-1.6 .8 2.3 .8-2 .8 2.4 .8-2 .8 2.3 .8-1.8 .8 1.9 .8-1.2 .8 1.6 .8-1.4 .8 1.5 .8-1.3 .8 1.4 .8-1.1 .8 1.2 .8-.8 .8 1.2 .8-1 .8 1.1 .8-.7 .8 .8 .8-.7 .8 .8 .8-.6 .8 .7 .8-.5 .8 .5 .8-.4 .8 .6" stroke="#2F1DAF"/>
<path d="M1359.4 731.4l2.4-.4 .8 .1 .8-.3 .8 .2 .8-.4 .8 .3 .8-.5 .8 .2 .8-.4 .8 .4 .8-.6 .8 .4 .8-.8 .8 .4 .8-.5 .8 .3 .8-.9 .8 .6 .8-.9 .8 .7 .8-1.2 .8 .8 .8-.9 .8 .2 .8-.9 .8 .7 .8-1 .8 .5 .8-1 .8 .4 .8-.9 .8 .3 .8-.9 .8 .2 .8-.8 .8 .2 .8-1.2 .8 .6 .8-1.3 .8 .5 .8-1.2 .8 .4 .8-1.3 .8 .3 .8-1.4 .8 .6 .8-1.3 .8 .2 .8-1.2 .8 0 .8-1.2 .8 .1 .8-1.6 .8 .6 .8-1.5 .8 .2 .8-1.6 .8 .5 .8-1.8 .8 .5 .8-1.9 .8 .5 .8-2.1 .8 .4 .8-1.9 .8 .6 .8-2.6 .8 1 .8-2.3 .8 .7 .8-2.4 .8 .7 .8-2.8 .8 1.3 .8-2.9 .8 1.3 .8-3.1 .8 1.4 .8-2.9 .8 .9 .8-3 .8 1 .8-3.3 .8 2 .8-3.4 .8 1.5 .8-3.6 .8 1.5 .8-3.1 .8 1.4 .8-3.5 .8 2 .8-3.5 .8 2 .8-4.2 .8 2.4 .8-4.4 .8 3 .8-4.3 .8 2.1 .8-4.3 .8 3.3 .8-5.1 .8 3.1 .8-4.1 .8 2.7 .8-4.1 .8 2.6 .8-3.9 .8 3 .8-4.8 .8 4 .8-5.4 .8 3.5 .8-4 .8 3 .8-4.6 .8 3.6 .8-4.2 .8 4.1 .8-4.5 .8 3.5 .8-3.7 .8 2.8 .8-2.7 .8 2.3 .8-2.6 .8 2 .8-1.9 .8 1.6 .8-1.5 .8 1.5 .8-1.4 .8 1.6 .8-1.3 .8 1.3 .8-1.1 .8 1.8 .8-1.4 .8 2 .8-1.1 .8 1.7 .8-1.4 .8 2.1 .8-1.1 .8 2.1 .8-.9 .8 2.2 .8-1.2 .8 2.2 .8-1 .8 2.4 .8-1.2 .8 2.6 .8-1.1 .8 2.5 .8-1.1 .8 2.6 .8-1 .8 2.6 .8-1 .8 2.6 .8-1.1 .8 2.8 .8-1.1 .8 2.8 .8-1.2 .8 2.8 .8-.9 .8 2.6 .8-.9 .8 3.3 .8-1.4 .8 3 .8-1 .8 2.7 .8-1 .8 2.7 .8-1.1 .8 3.3 .8-1.4 .8 2.9 .8-1.2 .8 3.2 .8-1 .8 2.7 .8-1.3 .8 3.3 .8-1.5 .8 3.2 .8-1.7 .8 3.4 .8-1.8 .8 3.2 .8-1.3 .8 2.8 .8-1.6 .8 3.2 .8-1.4 .8 2.9 .8-1.5 .8 2.9 .8-1.5 .8 3.1 .8-1.8 .8 2.9 .8-1.9 .8 2.9 .8-1.6 .8 3 .8-1.7 .8 2.4 .8-1.8 .8 3.4 .8-1.9 .8 2.6 .8-2.1 .8 3 .8-1.7 .8 2.5 .8-1.9 .8 2.7 .8-1.8 .8 2.7 .8-2 .8 2.8 .8-1.8 .8 2.5 .8-2.3 .8 2.8 .8-2 .8 2.9 .8-2.6 .8 3.1 .8-2.2 .8 2.6 .8-2.4 .8 2.7 .8-2 .8 2.1 .8-1.9 .8 2.3 .8-1.6 .8 1.6 .8-1.2 .8 1.7 .8-1.5 .8 1.7 .8-1.4 .8 1.5 .8-1.1 .8 1.2 .8-1 .8 1.1 .8-.8 .8 1 .8-.8 .8 1 .8-.8 .8 1 .8-.9 .8 .8 .8-.4 .8 .5 .8-.4 .8 .5" stroke="#648FFF"/>
<path d="M1378.6 731.3l1.6-.1 .8-.3 .8 .3 .8-.4 .8 .2 .8-.4 .8 .2 .8-.4 .8 .1 .8-.4 .8 .2 .8-.4 .8 .4 .8-.6 .8 .4 .8-1 .8 .4 .8-.7 .8 .8 .8-1 .8 .6 .8-1 .8 .6 .8-1 .8 .4 .8-.8 .8 .3 .8-.9 .8 .5 .8-1.2 .8 .5 .8-1.1 .8 .5 .8-.9 .8 .4 .8-1.3 .8 .7 .8-1.6 .8 1.1 .8-1.7 .8 .7 .8-1.5 .8 .7 .8-1.7 .8 .8 .8-1.8 .8 1.2 .8-2.1 .8 1.1 .8-2.6 .8 1.5 .8-2.8 .8 1.3 .8-2.3 .8 1.6 .8-3.1 .8 1.3 .8-2.6 .8 1.8 .8-3.3 .8 1.8 .8-2.7 .8 1.6 .8-3.4 .8 1.5 .8-3.4 .8 2 .8-3.1 .8 1.9 .8-4.1 .8 2.7 .8-4.2 .8 2.3 .8-3.7 .8 2.1 .8-4.6 .8 3 .8-4.4 .8 2.6 .8-4.8 .8 2.9 .8-4.7 .8 2.5 .8-4.4 .8 3.2 .8-5 .8 2.7 .8-4.8 .8 3.4 .8-5.4 .8 3.2 .8-4.9 .8 3.6 .8-5.3 .8 3.5 .8-4.9 .8 3.2 .8-5.6 .8 4.2 .8-5.4 .8 3.1 .8-5.1 .8 3.7 .8-5.4 .8 3.9 .8-4.7 .8 3.4 .8-5.3 .8 4.1 .8-5.3 .8 4 .8-5.8 .8 4.6 .8-5.6 .8 4 .8-4.5 .8 4.7 .8-5.6 .8 4.5 .8-4.9 .8 4.1 .8-4.8 .8 3 .8-3.4 .8 3.1 .8-3.4 .8 2.7 .8-2.3 .8 1.8 .8-1.4 .8 1.4 .8-1.7 .8 1.7 .8-1.6 .8 1.7 .8-1.3 .8 1.7 .8-1.3 .8 2 .8-1.4 .8 2.2 .8-1.6 .8 2.1 .8-1.5 .8 2.3 .8-1.2 .8 2.4 .8-1.3 .8 2.2 .8-1.1 .8 2.4 .8-1.2 .8 2.7 .8-1.2 .8 2.4 .8-1.4 .8 2.8 .8-1.1 .8 2.9 .8-1.4 .8 2.7 .8-1 .8 2.5 .8-1 .8 2.8 .8-.9 .8 3.1 .8-1.7 .8 3 .8-.8 .8 3 .8-1.6 .8 3.3 .8-1.5 .8 3.4 .8-1.2 .8 3.4 .8-1.4 .8 2.6 .8-1 .8 3.4 .8-1.9 .8 3.8 .8-2 .8 3.5 .8-1.5 .8 3.4 .8-1.7 .8 3.3 .8-1.5 .8 2.9 .8-1.2 .8 3 .8-1.3 .8 2.9 .8-1.6 .8 3.1 .8-1.6 .8 3.3 .8-1.7 .8 3.1 .8-2 .8 3.4 .8-2 .8 3.3 .8-2.2 .8 3.4 .8-2.3 .8 3.9 .8-2.4 .8 3.5 .8-2.2 .8 3 .8-2.1 .8 3.4 .8-2.1 .8 2.6 .8-1.9 .8 3 .8-2.3 .8 3.6 .8-2.8 .8 3.2 .8-2.5 .8 3.4 .8-2.6 .8 3.4 .8-2.6 .8 3 .8-2.5 .8 3 .8-2.6 .8 3.5 .8-2.7 .8 3.3 .8-3 .8 3 .8-2.6 .8 2.7 .8-1.9 .8 2.4 .8-2.2 .8 2.5 .8-1.6 .8 1.7 .8-1.5 .8 1.8 .8-1.7 .8 1.9 .8-1.2 .8 1.1 .8-.9 .8 1.4 .8-1.2 .8 1.2 .8-.9 .8 1.1 .8-.9 .8 1 .8-.8 .8 .8 .8-.6 .8 .7 .8-.6 .8 .7 .8-.6 .8 .7" stroke="#785EF0"/>
<path d="M1396.2 731.4l.8-.2 .8 .1 .8-.3 .8 .2 .8-.3 .8 .2 .8-.4 .8 .2 .8-.4 .8 .2 .8-.5 .8 .3 .8-.6 .8 .5 .8-.7 .8 .5 .8-.7 .8 .3 .8-.7 .8 .6 .8-1.1 .8 .9 .8-1.5 .8 .9 .8-.9 .8 .8 .8-1.6 .8 1.3 .8-1.9 .8 1.1 .8-1.7 .8 1.3 .8-1.6 .8 1.2 .8-2.1 .8 1.4 .8-1.8 .8 1.4 .8-2.6 .8 2.1 .8-2.9 .8 2.1 .8-2.7 .8 1.8 .8-3 .8 2.2 .8-3 .8 2.5 .8-3.6 .8 2.9 .8-4.2 .8 3.1 .8-3.6 .8 2.1 .8-4.1 .8 3.5 .8-4.7 .8 3 .8-4 .8 2.9 .8-4.1 .8 2.4 .8-3.6 .8 2.9 .8-4.7 .8 3 .8-5.1 .8 3.8 .8-4.8 .8 3 .8-4.7 .8 3.5 .8-5.3 .8 3.2 .8-4.6 .8 3.2 .8-5.2 .8 3.5 .8-5.6 .8 3.5 .8-5 .8 3.6 .8-5.8 .8 3.6 .8-5.5 .8 4 .8-5.3 .8 3.1 .8-5.2 .8 3.3 .8-4.9 .8 3.5 .8-5.7 .8 4.1 .8-5.6 .8 3.8 .8-5.3 .8 3 .8-5.1 .8 3.7 .8-5.5 .8 3.7 .8-5.4 .8 3.7 .8-5.8 .8 4.3 .8-5 .8 3.6 .8-5.3 .8 3.8 .8-5.3 .8 4.4 .8-5.7 .8 3.7 .8-5.1 .8 4.4 .8-5.5 .8 4.8 .8-5.5 .8 4.7 .8-6.1 .8 4.6 .8-4.5 .8 3.8 .8-4.3 .8 4 .8-4.5 .8 3.6 .8-3.4 .8 2.9 .8-2.8 .8 2.1 .8-1.9 .8 1.9 .8-1.7 .8 1.8 .8-1.6 .8 1.9 .8-1.4 .8 1.9 .8-1.5 .8 1.9 .8-1.3 .8 2 .8-1.7 .8 2.8 .8-1.6 .8 2.4 .8-1.8 .8 2.9 .8-1.5 .8 2.6 .8-1.6 .8 2.9 .8-1.6 .8 2.8 .8-1.2 .8 2.5 .8-1.2 .8 2.8 .8-1.6 .8 3.1 .8-1.2 .8 3.1 .8-1.9 .8 3.3 .8-1.7 .8 3.4 .8-1 .8 2.9 .8-1.5 .8 3.3 .8-1.3 .8 3.6 .8-2 .8 3.5 .8-1.6 .8 3.9 .8-2.3 .8 3.7 .8-1.7 .8 3.7 .8-1.7 .8 3.2 .8-1.8 .8 3.5 .8-1.3 .8 3.9 .8-2.6 .8 4.1 .8-2.1 .8 3.4 .8-1.6 .8 3.3 .8-2 .8 3.9 .8-2.4 .8 4 .8-2.5 .8 4.4 .8-2.3 .8 3.2 .8-2.2 .8 3.8 .8-2.7 .8 3.8 .8-2.2 .8 3.5 .8-2.4 .8 3.8 .8-2.2 .8 3.4 .8-2.5 .8 3.6 .8-2.6 .8 3.8 .8-2.5 .8 3.7 .8-3 .8 3.6 .8-2.9 .8 3.8 .8-2.7 .8 3.5 .8-2.4 .8 3.5 .8-2.8 .8 3.7 .8-3.6 .8 4.1 .8-3 .8 3.5 .8-2.7 .8 3.2 .8-2.8 .8 3.1 .8-3.2 .8 3.7 .8-2.6 .8 3.1 .8-2.5 .8 2.7 .8-2.4 .8 2.7 .8-2 .8 2.2 .8-2 .8 2.2 .8-1.7 .8 2 .8-1.8 .8 1.9 .8-1.5 .8 1.6 .8-1.3 .8 1.7 .8-1.3 .8 1.1 .8-.9 .8 1.1 .8-.9 .8 1 .8-.7 .8 .8 .8-.6 .8 .8 .8-.8 .8 .8" stroke="#DC267F"/>
<path d="M1415.4 731.4l.8-.3 .8 .2 .8-.4 .8 .3 .8-.5 .8 .3 .8-.4 .8 .3 .8-.6 .8 .4 .8-.7 .8 .5 .8-.7 .8 .6 .8-.9 .8 .7 .8-1.1 .8 1 .8-1.4 .8 1.1 .8-1.5 .8 1.1 .8-1.7 .8 1.7 .8-2.1 .8 1.5 .8-2 .8 2 .8-3 .8 2.3 .8-2.6 .8 2.2 .8-2.7 .8 2.3 .8-3.3 .8 3 .8-4.2 .8 3 .8-3.1 .8 3.1 .8-4 .8 2.9 .8-4.3 .8 3.8 .8-4.7 .8 3.6 .8-4.2 .8 3.7 .8-5 .8 4 .8-5.2 .8 3.5 .8-4.7 .8 3.9 .8-5.1 .8 4 .8-5.2 .8 4.3 .8-5.6 .8 4 .8-4.7 .8 3.2 .8-4.9 .8 3.9 .8-5.4 .8 4.2 .8-6.1 .8 3.8 .8-5.2 .8 4.5 .8-5.9 .8 3.8 .8-5.6 .8 4.2 .8-6.2 .8 4.2 .8-6.4 .8 5.2 .8-7.1 .8 4.5 .8-6 .8 4.2 .8-5.5 .8 3.9 .8-5.9 .8 4.6 .8-6.8 .8 4.4 .8-5.9 .8 4 .8-5.5 .8 4.4 .8-7.4 .8 4.9 .8-5.8 .8 4.1 .8-6.6 .8 5.6 .8-6.4 .8 3.9 .8-5.8 .8 4.8 .8-7.7 .8 5.5 .8-5.9 .8 4.6 .8-6.8 .8 5.6 .8-6.8 .8 5.3 .8-6.6 .8 5.5 .8-6.4 .8 5.4 .8-7.6 .8 6.5 .8-6.8 .8 6.2 .8-8.1 .8 6.8 .8-6.2 .8 5.7 .8-6.7 .8 5.4 .8-5.1 .8 3.9 .8-4.3 .8 4 .8-4 .8 3.2 .8-2.8 .8 2.3 .8-2 .8 2.1 .8-2.2 .8 1.7 .8-1.3 .8 2.1 .8-2 .8 2.8 1.6-4.6 1.6 6 .8-7 .8 7.9 .8-2.2 .8-7.5 .8 8.4 .8 3.2 .8-1.8 .8 3.1 .8-2.1 .8 3.4 .8-1.6 .8 2.6 .8-2.1 .8 4 .8-2.1 .8 3.2 .8-2 .8 3.8 .8-1.8 .8 3.7 .8-2.1 .8 3.3 .8-1.4 .8 3.8 .8-2.6 .8 3.9 .8-2.1 .8 4.2 .8-2 .8 3.9 .8-2.2 .8 3.6 .8-1.8 .8 3.8 .8-1.9 .8 4.1 .8-1.9 .8 3.8 .8-2.1 .8 3.9 .8-2.3 .8 3.6 .8-2.2 .8 4.7 .8-2.7 .8 4.2 .8-2.7 .8 4 .8-2.1 .8 3.8 .8-1.9 .8 3.6 .8-2.5 .8 4.5 .8-2.7 .8 4 .8-2.7 .8 4.2 .8-2.4 .8 3.9 .8-3 .8 4.1 .8-3.1 .8 4.4 .8-3 .8 4.2 .8-2.8 .8 4 .8-3.1 .8 4.5 .8-3.6 .8 4.5 .8-3.4 .8 4.1 .8-3.2 .8 4.4 .8-3 .8 3.5 .8-3 .8 4 .8-3.2 .8 3.8 .8-2.8 .8 3.5 .8-3.4 .8 4.1 .8-3.2 .8 3.9 .8-3.2 .8 3.6 .8-3 .8 3.8 .8-3.4 .8 3.4 .8-2.9 .8 3.6 .8-2.8 .8 2.9 .8-2.6 .8 2.9 .8-2.8 .8 3 .8-2.2 .8 2.1 .8-1.9 .8 2.2 .8-1.7 .8 1.8 .8-1.4 .8 1.4 .8-1.1 .8 1.3 .8-1.2 .8 1.3 .8-.8 .8 1.1 .8-1 .8 .9 .8-.8 .8 .9 .8-.6 .8 .7 .8-.5 .8 .6" stroke="#FE6100"/>
<path d="M1433.0 731.5l.8-.3 .8 .2 .8-.4 .8 .3 .8-.5 .8 .4 .8-.6 .8 .4 .8-.7 .8 .7 .8-.9 .8 .6 .8-.7 .8 .6 .8-1 .8 .8 .8-1.1 .8 1.1 .8-1.8 .8 1.3 .8-1.6 .8 1.5 .8-1.9 .8 1.8 .8-2.3 .8 2.2 .8-2.9 .8 2.7 .8-3.3 .8 2.5 .8-3.2 .8 2.7 .8-3.3 .8 3.4 .8-4.1 .8 3.3 .8-4 .8 3.9 .8-4.8 .8 3.5 .8-4.5 .8 4.6 .8-5.4 .8 4 .8-5.1 .8 4.7 .8-4.8 .8 3.3 .8-5 .8 4.7 .8-6 .8 5 .8-6 .8 4.1 .8-4.4 .8 3.7 .8-5.1 .8 4.3 .8-6.4 .8 4.6 .8-5.5 .8 4.2 .8-5.4 .8 4.1 .8-5.7 .8 4.3 .8-5.7 .8 4.2 .8-6.2 .8 5 .8-6 .8 4.6 .8-6.5 .8 4.7 .8-6 .8 4.7 .8-6.8 .8 4.7 .8-6.1 .8 3.8 .8-5.9 .8 5 .8-6.9 .8 4.6 .8-6.6 .8 4.4 .8-6.3 .8 5 .8-6.9 .8 5.7 .8-7.7 .8 5.7 .8-7.7 .8 5.2 .8-7.5 .8 5.3 .8-6.6 .8 5.1 .8-6.5 .8 5.2 .8-6.7 .8 5.5 .8-7.6 .8 4.2 .8-6.1 .8 6.7 .8-8.6 .8 7.6 .8-8.8 .8 5.6 .8-7.3 .8 7 .8-8.7 .8 6.7 .8-7.9 .8 7.3 .8-8.9 .8 7.5 .8-7 .8 6.7 .8-7.2 .8 7.2 .8-8.3 .8 6.3 .8-6.4 .8 5.4 .8-6 .8 5.6 .8-5.9 .8 4.8 .8-3.8 .8 3.4 .8-3.1 .8 2.4 .8-2.2 .8 2.5 .8-2.5 .8 2.5 .8-2.2 .8 2.6 .8-1.9 .8 2.4 .8-2.4 .8 3.5 .8-2.7 .8 3.2 .8-2 .8 2.8 .8-2.3 .8 3.6 .8-2.2 .8 3 .8-2.4 .8 3.8 .8-2.1 .8 3.3 .8-1.9 .8 3.5 .8-2.2 .8 3.5 .8-2.1 .8 4 .8-2.6 .8 4.2 .8-2.4 .8 4 .8-2.4 .8 4.1 .8-2.5 .8 4.2 .8-2.3 .8 4.2 .8-2.5 .8 4.2 .8-2.5 .8 4.6 .8-2.4 .8 3.9 .8-2.3 .8 4.3 .8-2.3 .8 4.5 .8-2.9 .8 4.7 .8-2.8 .8 4.5 .8-2.9 .8 4.8 .8-3 .8 4.4 .8-2.3 .8 4 .8-2.8 .8 4.3 .8-2.3 .8 4.1 .8-2.5 .8 4.5 .8-2.9 .8 4.3 .8-2.6 .8 4.5 .8-3.5 .8 4.2 .8-2.3 .8 3.9 .8-3.2 .8 4.6 .8-3.4 .8 4.6 .8-3.3 .8 4.7 .8-2.9 .8 3.6 .8-3.4 .8 4.8 .8-3.6 .8 4.6 .8-3.9 .8 4.6 .8-3 .8 3.8 .8-3.2 .8 4.6 .8-4.1 .8 4.9 .8-3.8 .8 4.1 .8-3.6 .8 4.3 .8-3.3 .8 4.3 .8-3.9 .8 4.4 .8-3.8 .8 4.1 .8-3.9 .8 4.1 .8-3.1 .8 3.7 .8-3.1 .8 3.3 .8-2.7 .8 3.1 .8-2.4 .8 2.3 .8-2.2 .8 2.7 .8-2.3 .8 2.3 .8-1.9 .8 2.2 .8-1.9 .8 1.9 .8-1.3 .8 1.4 .8-1.3 .8 1.4 .8-1.1 .8 1.3 .8-1.1 .8 1 .8-.8 .8 1.2 .8-.9 .8 .8 .8-.8 .8 .9 .8-.7 .8 .7" stroke="#FFB000"/>
<path d="M1450.6 731.6l.8-.4 .8 .3 .8-.4 .8 .3 .8-.5 .8 .5 .8-.8 .8 .7 .8-.9 .8 .7 .8-.9 .8 .7 .8-1 .8 .8 .8-1.1 .8 1.2 .8-1.5 .8 1.1 .8-1.5 .8 1.3 .8-1.8 .8 1.7 .8-2 .8 2.1 .8-2.7 .8 2.2 .8-2.7 .8 2.7 .8-3.3 .8 2.9 .8-3.3 .8 3 .8-3.6 .8 2.9 .8-4.4 .8 4.4 .8-4.8 .8 4 .8-4.3 .8 3.3 .8-5 .8 4.7 .8-5.8 .8 4.9 .8-5.5 .8 4.9 .8-5.6 .8 4.7 .8-5.8 .8 5.2 .8-5.9 .8 4.7 .8-5.9 .8 5 .8-5.4 .8 4.2 .8-6.6 .8 5.1 .8-5.2 .8 4.5 .8-6.6 .8 5.4 .8-6.3 .8 5.2 .8-7.1 .8 5.7 .8-7.1 .8 5.5 .8-7 .8 6.1 .8-8.1 .8 6.2 .8-8.1 .8 6.8 .8-8.7 .8 6.7 .8-7.7 .8 5.3 .8-7.2 .8 6.4 .8-8.7 .8 7.5 .8-9 .8 6 .8-7.2 .8 26.7 .8-30.2 .8 7.7 .8-9 .8 6.9 .8-8 .8 5.7 .8-7.4 .8 7.1 .8-8.7 .8 6.8 .8-10.1 .8 7.9 .8-8.6 .8 6.1 .8 32.1 .8-32.3 .8-9.6 .8 6.5 .8-9.4 .8 38.3 .8-39.1 .8 8.4 .8-11.1 .8 9.1 .8-9.5 .8 7.6 .8-10.1 .8 9.2 .8-9.7 .8 8 .8-8.4 .8 9.4 .8-11.3 .8 10.5 .8-11.1 .8 8.2 .8-9.7 .8 9.7 .8-9.1 .8 7.1 .8-7.9 .8 7.4 .8-6.8 .8 5.5 .8-4.6 .8 4.1 .8-3.8 .8 3.1 .8-2.8 .8 2.4 .8-2.6 .8 3.2 .8-2.9 .8 3.1 .8-2.7 .8 3.3 .8-2.6 .8 2.7 .8-2.2 .8 3.6 .8-3.1 .8 4 .8-3.1 .8 3.5 .8-2.7 .8 3.7 .8-2.5 .8 3.9 .8-3 .8 4.5 .8-2.8 .8 3.8 .8-2.6 .8 3.9 .8-2.3 .8 4.2 .8-3 .8 4.2 .8-2.4 .8 4.5 .8-2.7 .8 4.3 .8-3.1 .8 4.6 .8-2.3 .8 4.3 .8-3 .8 4.7 .8-2.5 .8 4 .8-2.3 .8 4.4 .8-2.6 .8 4.8 .8-3 .8 5 .8-2.8 .8 4.2 .8-2.8 .8 4.5 .8-3 .8 5 .8-2.3 .8 3.8 .8-2.4 .8 4.4 .8-2.7 .8 4.4 .8-2.5 .8 4.4 .8-3.4 .8 4.8 .8-3.2 .8 5.2 .8-3.3 .8 4.5 .8-3 .8 4.6 .8-3.3 .8 4.2 .8-3.4 .8 4.8 .8-2.9 .8 4.2 .8-3.5 .8 4.6 .8-2.6 .8 4.3 .8-3.7 .8 4.7 .8-3.8 .8 4.5 .8-3.4 .8 4.3 .8-3.1 .8 4.3 .8-3.3 .8 4.6 .8-3.8 .8 4.4 .8-3.4 .8 4.5 .8-4.5 .8 5.1 .8-4.3 .8 4.7 .8-4.4 .8 4.8 .8-3.9 .8 4.4 .8-3.5 .8 4.2 .8-3.9 .8 4.3 .8-3.8 .8 4.1 .8-2.7 .8 3.2 .8-3.4 .8 3.5 .8-2.8 .8 2.7 .8-2.2 .8 2.7 .8-2.3 .8 2 .8-1.7 .8 2.1 .8-1.7 .8 1.8 .8-1.4 .8 1.5 .8-1.4 .8 1.5 .8-1 .8 1 .8-.9 .8 1.2 .8-.9 .8 .9 .8-.9 .8 1 .8-.7 .8 .7" stroke="#63A00C"/>
<path d="M1469.8 731.5l.8-.4 .8 .4 .8-.5 .8 .4 .8-.7 .8 .6 .8-.7 .8 .6 .8-.8 .8 .7 .8-1.1 .8 1 .8-1.2 .8 1.1 .8-1.6 .8 1.2 .8-1.3 .8 1.2 .8-1.9 .8 1.8 .8-2.3 .8 1.9 .8-2.3 .8 2.6 .8-3.3 .8 3.2 .8-3.7 .8 3 .8-3.7 .8 3.8 .8-4.5 .8 4.1 .8-4.6 .8 3.6 .8-4.8 .8 4.7 .8-5.4 .8 5.6 .8-5.9 .8 5.6 .8-7.1 .8 5.5 .8-6.5 .8 6.2 .8-7.4 .8 6.6 .8-6.8 .8 5.7 .8-7.2 .8 6.3 .8-6.7 .8 5.6 .8-6.7 .8 6.7 .8-7.9 .8 6.6 .8-8.6 .8 6.3 .8-7.6 .8 6.6 .8-6.9 .8 5.9 .8-8.5 .8 6.8 .8-8.2 .8 7.7 .8-8.8 .8 7.4 .8-8.8 .8 7.8 .8-9.1 .8 7.2 .8-9.5 .8 6.9 .8-7.7 .8 6.7 .8-9.7 .8 8.5 .8-9.3 .8 7.4 .8-9 .8 7.1 .8-9.7 .8 8.7 .8-10.2 .8 6.9 .8-9.3 .8 7.4 .8-9 .8 8.5 .8-11.8 .8 10.6 .8-11.9 .8 8 .8-10.2 .8 9 .8-10.7 .8 9.1 .8-11.4 .8 9.6 .8-9.3 .8 8.5 .8-10.7 .8 9.2 .8-12.4 .8 10.9 .8-11.2 .8 8.5 .8-9.8 .8 9.5 .8-12.7 .8 11 .8-10.4 .8 10.2 .8-11.8 .8 11.2 .8-12.5 .8 11.4 .8-12.1 .8 11.4 .8-12 .8 9.5 .8-11.2 .8 11.3 .8-10.8 .8 8.8 .8-9.2 .8 8.6 .8-7.8 .8 6.2 .8-6.5 .8 5.6 .8-4.1 .8 2.9 .8-2.9 .8 3 .8-3.1 .8 3.5 .8-3.3 .8 3.4 .8-2.7 .8 3.4 .8-3.1 .8 3.6 .8-3 .8 4.1 .8-2.8 .8 3.3 .8-2.5 .8 3.8 .8-2.9 .8 3.6 .8-2.9 .8 4.1 .8-2.8 .8 4.8 .8-3.3 .8 4.7 .8-3.3 .8 4 .8-2.6 .8 4.4 .8-2.3 .8 3.7 .8-2.7 .8 5 .8-2.9 .8 4.1 .8-2.5 .8 4.8 .8-3.1 .8 4.6 .8-3.3 .8 5.4 .8-3.5 .8 5.4 .8-3.6 .8 4.7 .8-2.7 .8 5 .8-2.8 .8 5.2 .8-3.9 .8 5.1 .8-3.6 .8 5.2 .8-2.8 .8 4.8 .8-3.4 .8 5.1 .8-3.3 .8 5.2 .8-2.8 .8 4.3 .8-3.3 .8 5.5 .8-3.6 .8 4.7 .8-3.7 .8 5.3 .8-3.3 .8 5.3 .8-3.4 .8 4.1 .8-3.1 .8 4.8 .8-3.6 .8 5 .8-4.2 .8 5.4 .8-3.5 .8 4.9 .8-3.9 .8 5 .8-3.6 .8 4.3 .8-3.2 .8 4.8 .8-4.3 .8 11.7 .8-10.3 .8 4.9 .8-4.2 .8 4.9 .8-3.9 .8 4.6 .8-4.3 .8 4.6 .8-3.4 .8 4.1 .8-3.6 .8 4.5 .8-4.1 .8 4.4 .8-3.7 .8 4.4 .8-4.6 .8 4.8 .8-3.6 .8 4 .8-3.4 .8 3.4 .8-2.8 .8 3.3 .8-2.5 .8 2.8 .8-2.8 .8 3.1 .8-2.2 .8 2.1 .8-1.7 .8 1.4 .8-.5 .8 .6 .8-.3 .8 .5 .8-.3 .8 .4 .8-.2 .8 .3 .8-.2 .8 .4 2.4 0 .8 .2" stroke="#2F1DAF"/>
<path d="M1489.0 731.5l.8-.4 .8 .4 .8-.7 .8 .5 .8-.5 .8 .4 .8-.7 .8 .7 .8-1.1 .8 .8 .8-1 .8 1.1 .8-1.4 .8 1.2 .8-1.5 .8 1.2 .8-1.6 .8 1.6 .8-2.3 .8 2.3 .8-2.6 .8 2.1 .8-3 .8 3 .8-3.7 .8 4 .8-4.8 .8 4.4 .8-4.5 .8 4.1 .8-5 .8 5.2 .8-5.8 .8 5.3 .8-5.8 .8 5.6 .8-6.9 .8 5.7 .8-7.2 .8 7.5 .8-8.4 .8 7.3 .8 .9 .8-2 .8-8 .8 8 .8-8.8 .8 7.5 .8-8.9 .8 8.8 .8-9.1 .8 7 .8-9.3 .8 8.4 .8-8.4 .8 6.8 .8-8.4 .8 7.7 .8-9 .8 8 .8-9.3 .8 7.9 .8-9.1 .8 7.4 .8-10.5 .8 9.8 .8-9.6 .8 7.3 .8-10.3 .8 9.7 .8-10.9 .8 10.2 .8-11.5 .8 9 .8-12 .8 10.2 .8-11.8 .8 11 .8-11.8 .8 8.7 .8-10.1 .8 9.1 .8-11.7 .8 9.9 .8-12.5 .8 10.1 .8-11.7 .8 11.7 .8-14.3 .8 10.7 .8-11 .8 9.4 .8-11.2 .8 11.2 .8-13.5 .8 10.6 .8-11.8 .8 9.4 .8-13.3 .8 13.4 .8-13.2 .8 11.4 .8-14.1 .8 12.1 .8-13.9 .8 12.1 .8-13.6 .8 13.5 .8-15.9 .8 13 .8-12.1 .8 11.8 .8-14.1 .8 13.4 .8-15.2 .8 12.7 .8-12.6 .8 11.9 .8-14.6 .8 12.5 .8-13.5 .8 14 .8-11.9 .8 9.2 .8-9.4 .8 8.8 .8-8.6 .8 6.7 .8-6.3 .8 5.2 .8-5.4 .8 5.2 .8-4.2 .8 3.3 .8-3.1 .8 3.2 .8-2.9 .8 3.6 .8-3.1 .8 3.2 .8-3 .8 3.8 .8-3.5 .8 4.2 .8-3.2 .8 4.5 .8-3.7 .8 4.4 .8-3.6 .8 4.6 .8-3.1 .8 4.1 .8-3.6 .8 4.9 .8-3.3 .8 4.7 .8-3.9 .8 5.1 .8-2.7 .8 4.2 .8-3.2 .8 5 .8-3.3 .8 5 .8-3.7 .8 5.1 .8-3.7 .8 5.7 .8-3.6 .8 5.1 .8-3.1 .8 4.7 .8-2.8 .8 5 .8-3.9 .8 5.5 .8-2.8 .8 5.1 .8-4 .8 5.2 .8-3.3 .8 5.6 .8-3.6 .8 5.4 .8-3.3 .8 5.3 .8-4 .8 5.6 .8-3.1 .8 4.7 .8-3.3 .8 5.5 .8-3.8 .8 4.9 .8-3.2 .8 4.9 .8-3.6 .8 5.1 .8-3.6 .8 5.3 .8-3.4 .8 5 .8-3.8 .8 4.5 .8-3 .8 5 .8-3.5 .8 5.1 .8-4.2 .8 4.9 .8-3.8 .8 5 .8-3.6 .8 4.4 .8-3.6 .8 4.9 .8-3.7 .8 4.5 .8-3.8 .8 4.9 .8-3.4 .8 4.5 .8-4.1 .8 4.9 .8-4.4 .8 4.8 .8-2.8 .8 2.7 .8-1.3 .8 1.4 .8-.7 .8 1.3 .8-.6 .8 1.3 .8-.5 .8 .8 .8-.3 .8 .7 .8-.5 .8 1.3 .8-.5 .8 .6 .8-.3 .8 .8 .8-.4 .8 .6 .8-.3 .8 .6 .8-.4 .8 .8 .8-.5 .8 .5 .8-.1 .8 .5 .8-.4 2.4 .8 .8-.3 .8 .4 .8-.2 .8 .3 .8-.2 .8 .4 .8-.3 .8 .3" stroke="#648FFF"/>
<path d="M1505.0 731.7l.8-.5 .8 .4 .8-.5 .8 .5 .8-.6 .8 .5 .8-.8 .8 .7 .8-.9 .8 .9 .8-1.1 .8 1 .8-1.4 .8 1.2 .8-1.3 .8 1.2 .8-1.5 .8 1.5 .8-2.2 .8 1.8 .8-2.2 .8 2.3 .8-2.5 .8 2.1 .8-3.3 .8 3.2 .8-3.6 .8 3.7 .8-4.2 .8 4.2 .8-4.8 .8 4.9 .8-6.1 .8 5.6 .8-6.6 .8 6.1 .8-7.2 .8 6.4 .8-6.8 .8 7.8 .8-8.9 .8 8.7 .8-8.9 .8 8.1 .8-10.4 .8 10.5 .8-9.7 .8 7.4 .8-9.3 .8 9.9 .8-10.9 .8 9.2 .8-10.6 .8 10.2 .8-10.9 .8 9.7 .8-12 .8 10.7 .8-12.1 .8 9.9 .8-10.3 .8 10.8 .8-12.6 .8 10.5 .8-10.2 .8 10 .8-12.7 .8 9.6 .8-11.2 .8 10.5 .8-12.1 .8 12 .8-12.6 .8 9.6 .8-12 .8 11.2 .8-13.6 .8 10.5 .8-10.7 .8 10.9 .8-14.2 .8 11.2 .8-11.5 .8 10.1 .8-12.2 .8 11.3 .8-15.4 .8 12.9 .8-15 .8 12.3 .8-14 .8 14.4 .8-16.2 .8 12.1 .8-12.7 .8 12.6 .8-13.9 .8 12.7 .8-16.8 .8 12.7 .8-13.7 .8 12.9 .8-15.4 .8 14.2 .8-15.2 .8 13.9 .8-14.6 .8 12.2 .8-15.7 .8 15 .8-15.4 .8 13.4 .8-14.2 .8 12.7 .8-15.3 .8 14.4 .8-16.7 .8 17.5 .8-18.1 .8 17.2 .8-15.8 .8 13.8 .8-14.7 .8 14.7 .8-18 .8 15.2 .8-13.2 .8 11.8 .8-12.9 .8 12.2 .8-11.6 .8 9.1 .8-7.5 .8 5.9 .8-4.8 .8 4.2 .8-4 .8 3.6 .8-3.1 .8 3.5 .8-3.2 .8 4.2 .8-4.2 .8 4 .8-3.6 .8 4.6 .8-4 .8 4.6 .8-3.3 .8 4.1 .8-3.1 .8 4.4 .8-3.7 .8 4 .8-2.6 .8 4.7 .8-3.5 .8 4.8 .8-4 .8 5.3 .8-3.9 .8 4.8 .8-3.7 .8 5.2 .8-2.9 .8 5.1 .8-4.3 .8 5.9 .8-3.8 .8 4.8 .8-2.9 .8 4.8 .8-2.9 .8 4.7 .8-3 .8 4.8 .8-3.8 .8 5.4 .8-3.6 .8 6 .8-3.9 .8 5.6 .8-3.7 .8 5.7 .8-3.2 .8 5 .8-3.1 .8 5 .8-3.9 .8 6.1 .8-4.4 .8 5.5 .8-3.6 .8 5.9 .8-4.3 .8 5.1 .8-3.2 .8 5.2 .8-4.1 .8 5.9 .8-3.3 .8 5 .8-3.7 .8 4.4 .8-3.1 .8 4.7 .8-2.4 .8 3.2 .8-1.1 .8 1.6 .8-.3 .8 1.5 .8-.3 .8 1.6 .8-.1 .8 1.1 .8-.4 .8 1.8 .8-.6 .8 1.5 .8-.3 .8 1.2 .8-.3 .8 1.1 .8-.5 .8 1.6 .8-.7 .8 1.5 .8-.4 .8 1.2 .8-.5 .8 .9 .8-.2 .8 .8 .8-.5 .8 1.1 .8-.2 .8 1 .8-.8 .8 1.3 .8-.7 .8 1 .8-.3 .8 1 .8-.9 .8 1.2 .8-.7 .8 1 .8-.4 .8 .5 .8-.5 .8 .9 .8-.5 .8 .7 .8-.3 .8 .5 .8-.3 .8 .5 .8-.2 .8 .4 .8-.2 .8 .4 .8-.2 .8 .3 .8-.2 .8 .4 1.6 0" stroke="#785EF0"/>
<path d="M1524.2 731.7l.8-.6 .8 .4 .8-.6 .8 .7 .8-.7 .8 .7 .8-1 .8 .8 .8-1.1 .8 1.1 .8-1.3 .8 1.3 .8-1.7 .8 1.4 .8-1.8 .8 1.8 .8-2.2 .8 2 .8-2.5 .8 2.6 .8-2.9 .8 3.1 .8-3.7 .8 2.8 .8-3.6 .8 4.7 .8-5.5 .8 4.8 .8-4.9 .8 5.4 .8-7.1 .8 7.3 .8-7.6 .8 7.6 .8-9.7 .8 7.8 .8-8.5 .8 9.3 .8-9.6 .8 9.9 .8-10.2 .8 9.3 .8-11.7 .8 10.3 .8-9.7 .8 10.3 .8-13.5 .8 12.2 .8-12.1 .8 10.4 .8-10.6 .8 10.9 .8-14.2 .8 13.8 .8-13.3 .8 10.7 .8-11.2 .8 11.1 .8-14.4 .8 13.8 .8-14.2 .8 11.9 .8-12.6 .8 11.3 .8-14.1 .8 11.8 .8-14.2 .8 13.5 .8-13.6 .8 13.3 .8-15.4 .8 15.1 .8-16.8 .8 14.8 .8-14.5 .8 11.7 .8-14.4 .8 11.2 .8-12.3 .8 11.6 .8-16 .8 16 .8-17.9 .8 15.9 .8-15.3 .8 12.7 .8-14.2 .8 13.6 .8-17.1 .8 15.1 .8-17.9 .8 14.5 .8-16.3 .8 14.4 .8-15.3 .8 12.7 .8-15 .8 14.8 .8-18 .8 16.8 .8-16.5 .8 14.1 .8-16.8 .8 13.6 .8-16.5 .8 16.5 .8-15.2 .8 14.5 .8-15.7 .8 15 .8-18.2 .8 14.9 .8-14.8 .8 13.4 .8-15.2 .8 16.3 .8-19.6 .8 16.6 .8-17.4 .8 16.5 .8-16.2 .8 14.8 .8-18 .8 17.5 .8-16.7 .8 15.7 .8-12.6 .8 9.5 .8-9.7 .8 8.7 .8-8.2 .8 7.9 .8-8 .8 6.5 .8-5.4 .8 4.3 .8-3.7 .8 3.7 .8-3.9 .8 4.5 .8-4.2 .8 4.6 .8-4.2 .8 4.8 .8-3.9 .8 4.4 .8-3.8 .8 4.7 .8-4.2 .8 4.7 .8-3.3 .8 4.6 .8-4 .8 4.5 .8-3.3 .8 4.9 .8-3.1 .8 4.9 .8-4.2 .8 5.7 .8-3.7 .8 4.3 .8-2.9 .8 4.7 .8-3.9 .8 6.1 .8-3.9 .8 5 .8-3 .8 4.9 .8-3.9 .8 6.1 .8-4.3 .8 5.7 .8-3.5 .8 5.4 .8-3.6 .8 5.1 .8-3.3 .8 5.1 .8-3.3 .8 4.7 .8-2.1 .8 3.7 .8-.9 .8 2 .8 .1 .8 1.5 .8 .3 .8 1.4 .8 .1 .8 1.9 .8-.3 .8 2.1 .8-.4 .8 1.8 .8 .1 .8 1.8 .8-.1 .8 1.5 .8 .1 .8 1.3 .8-.1 .8 1.6 .8 0 .8 1.6 .8-.4 .8 1.7 .8-.1 .8 1.4 .8-.2 .8 1.5 .8-.1 .8 1 .8 .1 .8 1.1 .8 0 .8 1.3 .8-.2 .8 1.1 .8-.2 .8 1.3 .8-.5 .8 1.4 .8-.6 .8 1.3 .8-.4 .8 1 .8-.3 .8 1.3 .8-.7 .8 1.2 .8-.3 .8 .8 .8-.2 .8 1 .8-.5 .8 .8 .8-.2 .8 .7 .8-.4 .8 1 .8-.6 .8 1.1 .8-.5 .8 .8 .8-.6 .8 .9" stroke="#DC267F"/>
<path d="M1541.8 731.8l.8-.6 .8 .5 .8-.6 .8 .5 .8-.8 .8 .7 .8-.8 .8 .8 .8-1.1 .8 1 .8-1.2 .8 1.1 .8-1.3 .8 1.2 .8-1.6 .8 1.8 .8-2.3 .8 2.2 .8-2.9 .8 2.7 .8-3.1 .8 3.3 .8-3.6 .8 3.1 .8-4 .8 4.6 .8-5.2 .8 5 .8-6 .8 5.6 .8-6.7 .8 7.2 .8-8.4 .8 8 .8-9.1 .8 9.8 .8-11 .8 11.4 .8-10.9 .8 9.6 .8-11.1 .8 10.3 .8-13 .8 12.7 .8-11.1 .8 10.4 .8-14.5 .8 15.2 .8-14.8 .8 14.7 .8-16.4 .8 14.8 .8-14.9 .8 12.4 .8-13.7 .8 12.9 .8-13.4 .8 13 .8-15.7 .8 14.5 .8-15.1 .8 14.8 .8-14.5 .8 14 .8-18 .8 16.7 .8-17.7 .8 15.1 .8-14.9 .8 12.1 .8-15.3 .8 15.4 .8-16.6 .8 13.7 .8-14.2 .8 14.3 .8-16.3 .8 14.5 .8-16.3 .8 13.5 .8-16.1 .8 16.5 .8-17.2 .8 14.4 .8-16.8 .8 13.1 .8-17.3 .8 17.6 .8-17.4 .8 17.2 .8-19.4 .8 14.4 .8-14.6 .8 15.4 .8-17.9 .8 16 .8-19.6 .8 16.4 .8-17.9 .8 17.4 .8-20.6 .8 16.2 .8-14.2 .8 12.1 .8-16.1 .8 14.8 .8-16 .8 17.9 .8-19.9 .8 14.7 .8-14.2 .8 13.6 .8-18.2 .8 19.6 .8-20.4 .8 19.1 .8-18.3 .8 16.1 .8-18.4 .8 17.3 .8-19 .8 18.4 .8-19.4 .8 20 .8-21.5 .8 16.4 .8-15 .8-1.5 .8 3.6 .8 10.4 .8-16 .8 14.6 1.6-18 .8 11 .8 4.6 .8-16.7 .8 16.3 .8-3.8 .8-16.8 .8 17.2 .8 3.9 .8-24.1 .8 24.8 .8-4.4 .8-22 .8 23.4 .8 4.5 .8-29.1 .8 29.9 .8-3.9 .8-28.3 .8 28.5 .8 5.4 .8-34 .8 35 .8-3.2 .8 4 .8-3.5 .8 5.6 .8-3.5 .8 3.6 .8-1.1 .8 1.9 .8 .1 .8 1.7 .8-.3 .8 2.1 .8-.2 .8 1.7 .8-.2 .8 1.8 .8-.1 .8 1.8 .8 .2 .8 1.9 .8-.1 .8 1.8 .8-.2 .8 2 .8-.2 .8 2.2 .8 .1 .8 1.8 .8-.2 .8 1.7 .8 .2 .8 1.8 .8 0 .8 1.7 .8 0 .8 1.9 .8-.2 .8 1.7 .8 .1 .8 1.6 .8 0 .8 2 .8-.2 .8 1.6 .8-.4 .8 2.1 .8-.5 .8 1.7 .8 .1 .8 1.5 .8-.2 .8 1.6 .8 0 .8 1.4 .8-.4 .8 1.8 .8-.4 .8 1.3 .8-.2 .8 1.6 .8-.5 .8 1.4 .8 0 .8 1 .8-.1 .8 1.1 .8-.1 .8 1.1 .8-.2 .8 .9" stroke="#FE6100"/>
<path d="M1561.0 731.8l.8-.6 .8 .5 .8-.8 .8 .7 .8-.9 .8 .8 .8-.9 .8 1 .8-1.4 .8 1.4 .8-1.6 .8 1.6 .8-2 .8 1.9 .8-2.4 .8 2.4 .8-2.6 .8 2.5 .8-3.3 .8 3.2 .8-3.5 .8 4 .8-5.3 .8 5.4 .8-5.9 .8 5.5 .8-5.8 .8 6.5 .8-8 .8 7.7 .8-8.6 .8 8.7 .8-10.6 .8 10 .8-9.5 .8 10.3 .8-12.5 .8 11.3 .8-11.4 .8 12.6 .8-13.9 .8 13.7 .8-13.5 .8 13.3 .8-17.6 .8 17.4 .8-17.4 .8 15.4 .8-16.8 .8 14.9 .8-16.7 .8 18.6 .8-19 .8 18.1 .8-16.2 .8 11.5 .8-16 .8 15.3 .8-15.3 .8 14.9 .8-15.1 .8 12.8 .8-16 .8 15.7 .8-14.7 .8 13.7 .8-18.5 .8 16.3 .8-17.2 .8 17.2 .8-18.4 .8 14.8 .8-16.3 .8 18 .8-20.6 .8 18.5 .8-19.4 .8 16.6 .8-16.2 .8 15.9 .8-20.5 .8 17.4 .8-18.3 .8 18.5 .8-20.1 .8 16.7 .8-16.7 .8 15.9 .8-18.8 .8 17 .8-19.5 .8 16.6 .8-17.8 .8 17.5 .8-21.6 .8 17.1 .8-17.1 .8 18.1 .8-18.9 .8 17.3 .8-31 .8 27.3 .8-18.7 .8 18.2 .8-19.8 .8-11 .8 7.9 .8 18 .8-16.4 .8 17.6 .8-27.6 .8 26.4 .8-19.2 .8 15.3 .8-18.6 .8-6.1 .8 5.7 .8 17.5 .8-20.5 .8 18.3 .8-26 .8 26.4 .8-18.4 .8 18.5 .8-20.7 .8-8 .8 8.6 .8 16.6 .8-14.6 .8 11.8 .8-27.6 .8 26.1 .8-8.9 .8 6.4 .8-50.6 .8 50.1 .8-3.2 .8 2 .8-1 .8 1 .8-.6 .8 1 .8-.8 .8 1 .8-.5 .8 1.3 .8-.5 .8 1.1 .8-.4 .8 1.2 .8-.4 .8 1.6 .8-.5 .8 1.5 .8-.4 .8 1.4 .8 0 .8 1.6 .8-.2 .8 1.4 .8 0 .8 1.6 .8-.3 .8 1.7 .8 0 .8 1.6 .8 .1 .8 1.7 .8 .1 .8 1.3 .8 0 .8 2.1 .8 .1 .8 1.4 .8 .1 .8 1.7 .8 0 .8 2.3 .8-.5 .8 2.3 .8-.3 .8 1.7 .8 .3 .8 1.8 .8 .1 .8 1.8 .8-.1 .8 1.6 .8 .3 .8 1.7 .8 0 .8 1.6 .8 0 .8 1.6 .8 .3 .8 1.7 .8 0 .8 1.4 .8 .2 .8 1.7 .8-.4 .8 1.8" stroke="#FFB000"/>
<path d="M1578.6 731.8l.8-.7 .8 .7 .8-.8 .8 .7 .8-1 .8 1.1 .8-1.2 .8 .9 .8-1.3 .8 1.3 .8-1.3 .8 1.3 .8-1.8 .8 1.8 .8-2 .8 1.8 .8-2.6 .8 2.6 .8-2.9 .8 3.3 .8-4.1 .8 3.7 .8-4.5 .8 4.5 .8-5.6 .8 6.1 .8-5.6 .8 6 .8-7.8 .8 7.8 .8-7.6 .8 7.5 .8-10.1 .8 10.2 .8-12 .8 12 .8-12.1 .8 12.1 .8-13.1 .8 13.1 .8-12.8 .8 12.8 .8-13.6 .8 12.5 .8-17.1 .8 17.1 .8-15.3 .8 14.1 .8-15.5 .8 14.5 .8-16.6 .8 16.5 .8-15.9 .8 15.4 .8-15.6 .8 15.3 .8-19.5 .8 18.8 .8-17.4 .8 13.4 .8-17.7 .8 16.9 .8-18.4 .8 19.2 .8-18.9 .8 15 .8-14.9 .8 16.6 .8-20.5 .8 19.5 .8-19.6 .8 14.7 .8-18.8 .8 18.2 .8-19.3 .8 19.1 .8-18.6 .8 16.7 .8-19.4 .8 17.4 .8-20.8 .8 18.3 .8-20 .8 17.1 .8-19.1 .8 18.6 .8-17.9 .8 15.4 .8 26.5 1.6-47.4 .8 20 .8-18.9 .8 17.8 .8-21.1 .8 18.3 .8-19.8 .8 18.7 .8 30.9 .8-34.7 .8-17.8 .8 16.7 .8-18.1 .8 46.7 .8-48 .8 13.5 .8-15.5 .8 14.9 .8-16.9 .8 17 .8-20.7 .8 16.9 .8-15.6 .8 16.6 .8-18.2 .8 10.8 .8-5.9 .8 1.3 .8-1.3 .8-.1 .8-1 .8 0 .8-1 .8 .1 .8-.9 .8 .3 .8-1.2 .8 .4 .8-.9 .8 .5 .8-1 .8 .7 .8-1.2 .8 .9 .8-1 .8 .9 .8-1 .8 .7 .8-.6 .8 1 .8-.5 .8 .8 .8-.6 .8 .8 .8-.4 .8 .8 .8-.2 .8 1.1 .8-.5 .8 1.3 .8-.5 .8 1.5 .8-.4 .8 1.3 .8-.2 .8 1.5 .8-.6 .8 1.5 .8 .2 .8 1.2 .8 .1 .8 1.5 .8-.2 .8 1.7 .8-.1 .8 1.4 .8 .1 .8 1.8 .8-.2 .8 2 .8-.2 .8 1.7 .8 .1 .8 1.7 .8-.1 .8 1.7 .8-.1 .8 2.2 .8-.3 .8 2.1" stroke="#63A00C"/>
<path d="M1596.2 731.9l.8-.7 .8 .6 .8-.8 .8 .8 .8-1 .8 .9 .8-1.1 .8 1.2 .8-1.3 .8 1.1 .8-1.5 .8 1.7 .8-1.9 .8 1.9 .8-2.5 .8 2.6 .8-3 .8 2.6 .8-3 .8 3.1 .8-3.8 .8 4.2 .8-5 .8 5 .8-5 .8 5.1 .8-5.8 .8 5.9 .8-7.8 .8 7.2 .8-8.3 .8 8.9 .8-9.4 .8 9.4 .8-11.3 .8 11.3 .8-10.8 .8 10.7 .8-12.6 .8 12.7 .8-13.6 .8 13.3 .8-15.2 .8 15.5 .8-15.5 .8 15.5 .8-19.1 .8 19.1 .8-19.7 .8 19.7 .8-19.5 .8 15.6 .8-16.4 .8 17.8 .8-19.3 .8 16.5 .8-18.9 .8 18.6 .8-18.4 .8 16.6 .8-19.4 .8 20.6 .8-5.4 .8 3.8 .8-19.4 .8 17 .8-19.9 .8 27.2 .8-28 .8 16.5 .8-18 .8 18.2 .8 9.7 .8-11 .8-19.9 .8 19.6 .8-20.8 .8 19 .8-19.8 .8 16.3 .8-19.2 .8 17.6 .8-19.9 .8 20 .8-19.8 .8 15.5 .8-16.9 .8 17.9 .8-22.4 .8 18.1 .8-18.2 .8 15.1 .8-13.4 .8 8.1 .8-6.3 .8 1.2 .8-1.7 .8-.3 .8-1.7 .8 .3 .8-1.9 .8-.1 .8-1.6 .8-.1 .8-1.7 .8-.3 .8-1.7 .8 .1 .8-1.6 .8 .2 .8-1.7 .8 .1 .8-1.7 .8 .3 .8-1.8 .8 .5 .8-1.7 .8 .5 .8-1.5 .8 0 .8-1.3 .8 .1 .8-1.3 .8 .5 .8-1.4 .8 .6 .8-1.1 .8 .4 .8-1.1 .8 .5 .8-1.2 .8 .8 .8-1.2 .8 .6 .8-.7 .8 .7 .8-.8 .8 .5 .8-.7 .8 1 .8-.9 .8 1.1 .8-.7 .8 .9 .8-.6 .8 1 .8-.5 .8 1.4 .8-.6 .8 1.1 .8-.3 .8 1.2 .8-.3 .8 1.2 .8-.5 .8 1.6 .8-.2 .8 1.1" stroke="#2F1DAF"/>
<path d="M1615.4 731.9l.8-.8 .8 .7 .8-.9 .8 .9 .8-1 .8 1.1 .8-1.4 .8 1.3 .8-1.5 .8 1.6 .8-1.9 .8 1.7 .8-2.3 .8 2.1 .8-2.4 .8 2.9 .8-3.3 .8 3.3 .8-3.4 .8 3.6 .8-5 .8 5 .8-5.8 .8 5.4 .8-5.8 .8 5.8 .8-7 .8 7.4 .8-9.1 .8 9.1 .8-8.2 .8 8.2 .8-11.6 .8 11.6 .8-12.6 .8 12.6 .8-13 .8 13 .8-6.5 .8 6.5 .8-14.7 .8 14.7 .8-14.6 .8 14.6 .8-17 .8 17 .8-19.5 .8 19.4 .8-19 .8 19.1 .8-19.5 .8 16.2 .8-16.1 .8 15.7 .8-19.6 .8 17.9 .8-16.8 .8 17.8 .8-19.4 .8 17.2 .8-19.5 .8 20.2 .8-20.2 .8 16 .8-19.7 .8 21 .8-19.6 .8 16 .8-14.3 .8 8.6 .8-6.4 .8 1.3 .8-1.9 .8 .2 .8-1.9 .8 .1 .8-1.7 .8 .2 .8-1.6 .8-.4 .8-1.7 .8 .4 .8-2.1 .8 .1 .8-2 .8 .2 .8-1.9 .8-.1 .8-1.8 .8 0 .8-1.8 .8 .4 .8-1.9 .8 0 .8-2.1 .8 .2 .8-1.9 .8 .1 .8-1.8 .8-.3 .8-1.5 .8 0 .8-1.7 .8-.4 .8-1.5 .8 .2 .8-1.7 .8-.2 .8-1.5 .8 .1 .8-1.7 .8 .3 .8-1.6 .8-.2 .8-1.2 .8 .1 .8-1.7 .8 .4 .8-1.6 .8 .5 .8-1.2 .8 .1 .8-1.1 .8 .3 .8-1.5 .8 .6 .8-1.1 .8 .4 .8-1 .8 .5 .8-1.2 .8 .6 .8-.8 .8 .8" stroke="#648FFF"/>
<path d="M1633.0 731.9l.8-.8 .8 .8 .8-.8 .8 .8 .8-1.2 .8 1.1 .8-1.1 .8 1.1 .8-1.6 .8 1.6 .8-1.8 .8 1.9 .8-2 .8 2 .8-2.5 .8 2.2 .8-2.5 .8 2.8 .8-3.2 .8 3.3 .8-4.2 .8 4 .8-4.9 .8 5.3 .8-5.8 .8 5.8 .8-6.7 .8 6.7 .8-8.2 .8 7.9 .8-8.4 .8 8.7 .8-9.2 .8 9.2 .8-9.7 .8 9.7 .8-11 .8 11 .8-15 .8 15 .8-14.5 .8 14.5 .8-15.1 .8 15.1 .8-16.7 .8 15.3 .8-12.1 .8 8.3 .8-5.4 .8 1.1 .8-1.2 .8 .2 .8-1.2 .8 .4 .8-1.2 .8 .1 .8-1.1 .8 .2 .8-1.3 .8 0 .8-1.3 .8 .4 .8-1.8 .8 .4 .8-1.6 .8 .1 .8-1.6 .8 .2 .8-1.4 .8 .2 .8-1.9 .8 .5 .8-1.6 .8 .1 .8-2 .8 .1 .8-1.3 .8-.3 .8-1.8 .8 .1 .8-1.5 .8 0 .8-1.8 .8-.2 .8-1.6 .8 .2 .8-1.8 .8-.3 .8-1.9 .8 0 .8-1.7 .8-.1 .8-1.9 .8 0 .8-1.5 .8 0 .8-1.9 .8 0 .8-2 .8 .1 .8-2 .8 0 .8-1.4 .8-.3 .8-1.5 .8-.1 .8-1.6 .8 .2 .8-1.9 .8 .3 .8-1.7 .8 .1" stroke="#785EF0"/>
<path d="M1652.2 731.9l.8-.7 .8 .7 .8-1.1 .8 1.1 .8-1.2 .8 1.3 .8-1.7 .8 1.5 .8-1.5 .8 1.7 .8-2.2 .8 2.3 .8-2.5 .8 2.5 .8-3 .8 3 .8-3.2 .8 3.3 .8-3.7 .8 3.2 .8-4.4 .8 4.7 .8-4.2 .8 2.7 .8-1.8 .8 .5 .8-.7 .8 .6 .8-1.2 .8 .8 .8-1.2 .8 .9 .8-1 .8 .2 .8-1 .8 .5 .8-1.1 .8 .8 .8-1 .8 .1 .8-1 .8 .7 .8-1.4 .8 .6 .8-1.1 .8 .2 .8-1.3 .8 .8 .8-1.6 .8 .7 .8-1.5 .8 .3 .8-1.2 .8 .5 .8-1.5 .8 .4 .8-1.6 .8 .4 .8-1.4 .8 .3 .8-1.3 .8 .2 .8-1.6 .8 .1 .8-1.5 .8 .3 .8-1.7 .8 .5 .8-2 .8 .1 .8-1.6 .8 .3 .8-1.8 .8 .6 .8-1.8 .8-.3 .8-1.7 .8 .5 .8-2.1 .8 .3 .8-1.8 .8 .1 .8-2.1 .8 0 .8-1.5 .8-.2 .8-1.9 .8 .2" stroke="#DC267F"/>
<path d="M1676.2 731.3l.8-.3 .8 .2 .8-.4 .8 .3 .8-.4 .8 .2 .8-.4 .8 .3 .8-.5 .8 .2 .8-.4 .8 .2 .8-.5 .8 .2 .8-.7 .8 .4 .8-.7 .8 .7 .8-1.1 .8 .8 .8-1.1 .8 .5 .8-.7 .8 .2 .8-.7 .8 .3 .8-.7 .8 .5 .8-1.2 .8 .4 .8-.8 .8 .5 .8-1.3 .8 .7 .8-1.4 .8 .5 .8-1.1 .8 .3 .8-1 .8 .6 .8-1.3 .8 .1 .8-1.1 .8 .6 .8-1.5 .8 .5 .8-1.3 .8 .2 .8-1.2 .8 .3 .8-1.6 .8 .1 .8-1.4 .8 .6 .8-1.6 .8 .1 .8-1.5 .8 .4" stroke="#FE6100"/>
<path d="M1693.8 731.3l2.4-.3 .8 .2 .8-.4 .8 .2 .8-.4 .8 .3 .8-.5 .8 .2 .8-.4 .8 .3 .8-.5 .8 .2 .8-.5 .8 .3 .8-.6 .8 .3 .8-.8 .8 .6 .8-.8 .8 .3 .8-.6 .8 .3 .8-.8 .8 .5 .8-1.1 .8 .7 .8-1.1 .8 .5 .8-1.2 .8 .4 .8-1 .8 .7 .8-1 .8 .4" stroke="#FFB000"/>
<path d="M1713.0 731.3l.8-.3 .8 .3 .8-.4 2.4 .1 .8-.4 .8 .2 .8-.5 .8 .2 .8-.4 .8 .3" stroke="#63A00C"/>
</g>
<rect x="155.0" y="395.87" width="1566.70" height="336.33" fill="none" stroke="#000" stroke-width="3.6"/>
<line x1="140.50" y1="732.20" x2="155.00" y2="732.20" stroke="#000" stroke-width="3.3"/>
<text transform="translate(126.10 742.80) scale(1 1.07)" font-size="29.4" text-anchor="end" font-family="'Liberation Sans', Arial, Helvetica, sans-serif" >0.0</text>
<line x1="140.50" y1="665.60" x2="155.00" y2="665.60" stroke="#000" stroke-width="3.3"/>
<text transform="translate(126.10 676.20) scale(1 1.07)" font-size="29.4" text-anchor="end" font-family="'Liberation Sans', Arial, Helvetica, sans-serif" >0.2</text>
<line x1="140.50" y1="599.00" x2="155.00" y2="599.00" stroke="#000" stroke-width="3.3"/>
<text transform="translate(126.10 609.60) scale(1 1.07)" font-size="29.4" text-anchor="end" font-family="'Liberation Sans', Arial, Helvetica, sans-serif" >0.4</text>
<line x1="140.50" y1="532.40" x2="155.00" y2="532.40" stroke="#000" stroke-width="3.3"/>
<text transform="translate(126.10 543.00) scale(1 1.07)" font-size="29.4" text-anchor="end" font-family="'Liberation Sans', Arial, Helvetica, sans-serif" >0.6</text>
<line x1="140.50" y1="465.80" x2="155.00" y2="465.80" stroke="#000" stroke-width="3.3"/>
<text transform="translate(126.10 476.40) scale(1 1.07)" font-size="29.4" text-anchor="end" font-family="'Liberation Sans', Arial, Helvetica, sans-serif" >0.8</text>
<line x1="140.50" y1="399.20" x2="155.00" y2="399.20" stroke="#000" stroke-width="3.3"/>
<text transform="translate(126.10 409.80) scale(1 1.07)" font-size="29.4" text-anchor="end" font-family="'Liberation Sans', Arial, Helvetica, sans-serif" >1.0</text>
<line x1="146.50" y1="698.90" x2="155.00" y2="698.90" stroke="#000" stroke-width="2.5"/>
<line x1="146.50" y1="632.30" x2="155.00" y2="632.30" stroke="#000" stroke-width="2.5"/>
<line x1="146.50" y1="565.70" x2="155.00" y2="565.70" stroke="#000" stroke-width="2.5"/>
<line x1="146.50" y1="499.10" x2="155.00" y2="499.10" stroke="#000" stroke-width="2.5"/>
<line x1="146.50" y1="432.50" x2="155.00" y2="432.50" stroke="#000" stroke-width="2.5"/>
<line x1="155.00" y1="732.20" x2="155.00" y2="746.70" stroke="#000" stroke-width="3.3"/>
<line x1="281.00" y1="732.20" x2="281.00" y2="746.70" stroke="#000" stroke-width="3.3"/>
<line x1="566.16" y1="732.20" x2="566.16" y2="746.70" stroke="#000" stroke-width="3.3"/>
<line x1="793.86" y1="732.20" x2="793.86" y2="746.70" stroke="#000" stroke-width="3.3"/>
<line x1="1021.56" y1="732.20" x2="1021.56" y2="746.70" stroke="#000" stroke-width="3.3"/>
<line x1="1249.26" y1="732.20" x2="1249.26" y2="746.70" stroke="#000" stroke-width="3.3"/>
<line x1="1476.96" y1="732.20" x2="1476.96" y2="746.70" stroke="#000" stroke-width="3.3"/>
<line x1="1704.66" y1="732.20" x2="1704.66" y2="746.70" stroke="#000" stroke-width="3.3"/>
<g transform="translate(56.7 566.84) rotate(-90)"><text x="0" y="0" font-size="29.1" text-anchor="middle" font-family="'Liberation Sans', Arial, Helvetica, sans-serif">Probability <tspan font-family="'DejaVu Sans', sans-serif">Π</tspan><tspan font-family="'DejaVu Sans', sans-serif" font-style="italic" font-size="20.4" dy="5.5">i</tspan><tspan font-family="'DejaVu Sans', sans-serif" font-size="20.4">,</tspan><tspan font-family="'DejaVu Sans', sans-serif" font-style="italic" font-size="20.4" dx="3">n</tspan></text></g>
<text x="-1.90" y="409.47" font-size="33" text-anchor="start" font-family="'Liberation Sans', Arial, Helvetica, sans-serif" font-weight="bold">(b)</text>
<text x="201.80" y="429.81" font-size="29.1" text-anchor="start" font-family="'Liberation Sans', Arial, Helvetica, sans-serif" >standard smoothing</text>
<g clip-path="url(#clip2)" fill="none" stroke-width="2.0" stroke-linejoin="round" stroke-linecap="butt">
<path d="M155.0 784.6l126 166.5 126 85.9 40.1 39.3 28.4 18.7 22.1 10.6 18 6 15.3 3.3 13.2 1.7" stroke="#648FFF"/>
<path d="M155.0 1117.6l126-168.2 126-77.9 40.1-30.3 28.4-9.3 22.1-2.3 18 1.3 15.3 3.3 13.2 3.8 11.6 5 10.5 5.4 9.4 6.1 28.6 21.1 17.6 14 15.2 13 15.2 14 12 11.8 11.2 12.1 12 13.7 8.8 10.7 40 51.4 12.8 15.2 12 13.2 12 12.6 8.8 8.4 10.4 8.7 9.6 7.3 10.4 6.8 12 6.7 18.4 8.9 10.4 4.2 9.6 2.6 12.8 2.4 17.6 2.3 12.8 1" stroke="#785EF0"/>
<path d="M281.0 1117.6l126-7.3 40.1-10.3 28.4-8.4 55.4-18.1 13.2-4 11.6-5.2 19.9-10.1 19-10.8 40-24.3 20.8-11 8.8-4.1 10.4-4.4 24-8.9 7.2-2 5.6-.6 16 .4 12.8 1.1 5.6 1.2 7.2 2 3.2 1.3 4 2 23.2 14.8 6.4 4.6 4.8 4 5.6 5.5 10.4 11 19.2 21.1 12 12.4 19.2 18.5 4.8 4.1 4.8 3.5 8 5.1 8 4.4 6.4 2.8 10.4 3.7 5.6 1.5 5.6 1.1 12 1.5 12 .9" stroke="#DC267F"/>
<path d="M475.5 1116.8l22.1-.5 68.6-5.1 19.6-1.7 12-1.4 9.6-1.4 9.6-2 10.4-2.8 10.4-3.8 14.4-6.7 35.2-20 19.2-10.4 11.2-6.7 32.8-21.4 8-4.5 12-5.2 9.6-3.2 15.2-2.8 10.4-.8 3.2 .2 3.2 .9 12.8 5.3 8 4.2 6.4 4.6 4 4.1 8.8 10.5 15.2 19.2 13.6 15.1 4 3.6 4.8 5 4 2.9 4 3.5 8 5.9 4 2 4.8 3.1 4 .7 4 2.4 1.6 .5 2.4-.1 1.6 .5 2.4 1.4 1.6 .5 4 .1 4 1.5 4-.2 2.4 1.1 1.6 .4 4-.2 4 1.1 4-.1 4 .6" stroke="#FE6100"/>
<path d="M647.4 1116.6l11.2-.8 10.4-1.2 9.6-1.6 9.6-2 8.8-2.3 9.6-3.1 9.6-3.5 10.4-4.4 10.4-5.4 10.4-6.9 10.4-8.2 27.2-22.9 8-6 8-5.2 11.2-5.9 10.4-4.2 4.8-1.3 4.8-1.1 4.8-.6 4-.2 8 .7 4 .8 4 1.2 6.4 2.9 8 5.2 8 6.6 10.4 9.7 16 15.9 7.2 7.6 5.6 5.1 4 5 1.6 1.6 5.6 3.6 4 4.3 1.6 1.3 1.6 1 4 1.5 5.6 3.9 3.2 1.5 .8 0 .8 .5 2.4 .4 8.8 3.5 .8-.1 .8 .4 .8-.3 2.4 .7 .8-.2 .8 .5 2.4 .3 .8 .5 .8-.2 .8 .3 2.4 .1 2.4 .5 8 .5" stroke="#FFB000"/>
<path d="M712.2 1116.6l18.4-1.3 14.4-2.2 6.4-1.5 6.4-1.9 6.4-2.3 6.4-2.9 6.4-3.2 6.4-3.8 16-10.6 14.4-10.5 28-21.8 12.8-8.8 7.2-4.2 6.4-2.8 4-1.1 6.4-.6 7.2 1.2 4.8 1.4 3.2 1.6 9.6 5.8 8.8 7.8 4.8 4.7 4 4.9 4 4.3 4 5.1 1.6 1.6 2.4 1.9 5.6 7.7 4 2 1.6 1.7 2.4 3.7 1.6 1.6 4 2.2 2.4 2.6 .8 .4 .8 .8 .8 .2 .8 .8 .8 0 .8 .9 .8 .2 2.4 2.6 .8 .3 .8 .8 1.6 .5 .8-.3 .8 .6 .8 0 .8 .7 .8 .3 .8 1 .8 .2 .8 .9 4 .5 1.6 .8 .8 1 .8 .1 .8 .9 .8-.1 .8 .3 2.4-.9 .8 .3 .8-.1 4 3 .8-.2 .8 .1 .8-.3 .8 .1 .8-.5 .8 .3 .8-.1 .8 .4 .8 0 .8 .5 .8-.1 .8 .4 6.4 .5" stroke="#63A00C"/>
<path d="M764.2 1116.6l16.8-1.7 14.4-2.9 7.2-2 7.2-2.4 7.2-2.9 6.4-3.1 6.4-3.5 6.4-4 6.4-4.6 6.4-4.9 9.6-8.3 16-16.1 6.4-5.9 8.8-6.5 1.6-.9 3.2-1.1 3.2-2 3.2-.2 4-1.4 2.4 .2 2.4-.2 3.2 .5 3.2 .2 3.2 1.8 2.4 .6 1.6 .7 2.4 2.1 2.4 1.4 4 3.5 2.4 1.7 2.4 3 1.6 1.6 2.4 1.6 5.6 6.8 4 3.4 1.6 2 2.4 4 1.6 1.1 .8 .1 1.6 1.2 2.4 4.6 1.6 1.6 .8-.1 .8 .7 .8 .2 1.6 2.2 .8 1.5 1.6 1.9 .8-.1 .8 .8 .8 .1 .8 1.3 .8 .5 .8 1.6 .8 .4 .8 .8 .8-.1 .8 .9 .8 0 .8 1.1 .8 .5 .8 1.3 .8 .4 .8 .9 .8-.1 .8 .8 .8-.2 .8 .7 .8 .2 .8 .9 .8 .3 .8 1.2 .8 .3 .8 .8 .8 .1 .8 .5 .8-.5 .8 .4 .8-.2 .8 1 .8 .4 .8 1.2 .8 .4 .8 .8 .8-.6 .8 .2 .8-.5 1.6 .5 .8 1.1 .8 .4 .8 1 .8-.3 .8 .4 .8-.8 .8 .4 .8-.3 .8 .9 .8 .1 .8 .8 .8-.3 .8 .3 .8-.4 .8 .5 .8-.1 .8 .7 .8-.1 .8 .4 2.4-.4 4 1.2 2.4-.2 2.4 .3" stroke="#2F1DAF"/>
<path d="M802.6 1116.6l16.8-1.6 13.6-2.4 6.4-1.7 5.6-1.9 5.6-2.2 5.6-2.7 8-5 8.8-7.1 11.2-10.8 5.6-5.9 6.4-6 5.6-5.7 6.4-5.2 5.6-5.2 4.8-2.6 4.8-3.6 1.6-.7 4-.4 5.6-1.3 3.2 .6 9.6 3.4 3.2 2.1 2.4 2.6 .8 .4 .8 .9 1.6 1.1 .8 0 .8 .8 .8 .2 .8 1.1 .8 .5 4 5.9 .8 .6 .8 1 .8 .2 .8 .9 .8 0 .8 .9 .8 .3 3.2 5 .8 1.9 1.6 2 .8 .2 .8 .9 .8-.1 .8 .7 .8 .2 .8 1.1 .8 .4 .8 1.9 .8 .8 .8 1.6 .8 .8 .8 1.8 .8 .2 .8 1.1 .8-.1 .8 .9 .8-.4 .8 1.1 .8 0 2.4 3.4 .8 .7 .8 1.6 .8 .5 .8 1.1 .8 0 .8 .8 .8-.2 .8 .8 .8 0 .8 1 .8 .3 .8 1.3 .8 .4 .8 1.2 .8 .1 .8 1.1 .8 .2 .8 .8 .8 0 .8 .8 .8 0 .8 .8 .8-.2 .8 .9 .8 0 .8 1 .8-.1 .8 .8 .8-.1 .8 1 .8-.2 .8 .8 .8 .1 .8 .8 .8-.1 .8 .7 .8-.2 .8 .5 .8-.4 .8 .6 .8-.2 .8 .5 .8-.1 .8 .7 .8 .1 .8 .8 .8 .1 .8 .6 .8-.3 .8 .3 .8-.3 .8 .2 .8-.4 3.2 .6 2.4 1 1.6 .2 4-.2 2.4 .4" stroke="#648FFF"/>
<path d="M837.0 1116.6l14.4-1.4 11.2-2.1 5.6-1.8 6.4-2.6 7.2-3.7 10.4-7 4-3.6 3.2-2.2 4-4.2 3.2-2.1 4-5 8.8-8.7 4-5.1 2.4-2.4 2.4-2.9 6.4-5.7 2.4-1.6 2.4-2.9 1.6-1.4 1.6-.2 .8 .3 1.6-.5 2.4-2.4 1.6-.5 .8 .4 1.6 .1 1.6-.7 .8-.7 1.6-.4 1.6 .3 .8 .6 2.4 .6 .8 .5 .8 0 .8 .6 .8-.2 .8 .5 .8-.3 1.6 .4 1.6 1.2 .8 1.2 .8 .1 .8 .9 .8 0 .8 .7 .8 .3 .8 1.2 .8 .5 .8 1.3 .8 .2 .8 1 .8-.1 .8 .9 .8 .3 .8 1.2 .8 .5 .8 1.4 .8 .4 .8 .9 .8-.1 .8 1.2 .8 .2 2.4 4.4 .8 .5 .8 1.4 .8 .1 .8 .9 .8-.2 .8 1.3 .8 .3 .8 1.7 .8 .4 .8 1.7 .8 .4 .8 1.5 .8 .2 .8 1.2 .8 .4 .8 1.4 .8 .3 .8 1.4 .8 .4 .8 1.7 .8 .5 .8 1.6 .8 .4 .8 1.1 .8 .1 .8 .7 .8-.2 .8 1.3 .8 .2 .8 1.9 .8 .6 .8 1.7 1.6 1.5 .8-.2 .8 .9 .8 .2 .8 1.2 .8 .3 .8 1.5 .8 .1 .8 .9 .8-.2 .8 .8 .8-.1 .8 1.1 .8 .3 .8 1.3 .8 .3 .8 .8 .8-.1 .8 .8 .8 .1 .8 .9 .8 .3 .8 1.1 .8 0 .8 .6 .8-.1 .8 .2 .8-.3 .8 .7 .8-.1 .8 .9 .8 .1 .8 .8 .8 .1 .8 .6 .8 .1 .8 .8 .8-.1 .8 .5 .8-.6 .8 .3 .8-.4 .8 .7 .8 0 .8 .9 1.6 .5 .8-.3 .8 .1 .8-.5 1.6 .3 2.4 1.5 1.6 .1 2.4-.4 4 .6" stroke="#785EF0"/>
<path d="M865.0 1116.6l11.2-1.2 7.2-1.4 6.4-1.7 7.2-2.8 6.4-2.9 2.4-1.3 5.6-4.1 4.8-2.9 4.8-4.8 4-4.6 4-3 4-5.8 2.4-2.3 4-4.7 2.4-1.4 1.6-1.7 2.4-4.4 1.6-1.8 .8-.1 1.6-1.1 4-4.2 .8-.2 1.6-1 4-5 1.6-.7 .8 .4 .8-.4 .8 0 2.4-2.2 .8 0 .8-.7 .8 .4 .8-.4 .8 .3 .8-.7 .8-.2 .8-.8 1.6-.4 .8 .6 .8 .1 .8 .7 1.6 .2 .8-.5 .8 .2 .8-.6 .8 .6 .8 0 .8 .9 .8 .1 .8 .8 .8-.1 .8 .4 .8-.3 .8 .5 .8 .1 .8 1.2 .8 .3 .8 1 .8 .2 .8 .7 .8-.1 .8 1 .8 .1 .8 1.2 .8 .3 .8 1.7 .8 .3 .8 1 .8 .3 .8 .9 .8 .1 .8 1.1 .8 .2 .8 1.5 .8 .6 .8 1.6 .8 .3 .8 1.3 .8 .4 .8 1.3 .8 .4 .8 1.6 .8 .4 .8 1.5 .8 .4 .8 1.2 .8 .3 .8 1 .8 .2 .8 1.6 .8 .5 .8 1.6 .8 .4 .8 1.8 .8 .3 .8 1.6 .8 .4 .8 1.6 .8 .4 .8 1.1 .8 0 .8 1.2 .8 .2 .8 1.2 .8 .3 2.4 3.1 .8 .4 .8 1.4 .8 .3 2.4 3.2 .8 .1 .8 1 .8 0 .8 .8 .8-.4 .8 1 .8 0 .8 1.4 .8 .2 .8 1.5 .8 .2 .8 1.1 .8-.1 .8 1 .8 0 2.4 2 .8-.2 .8 .6 .8-.5 .8 .5 .8-.2 .8 .8 .8 .3 .8 1.2 .8 .3 .8 1.1 .8 0 .8 .4 .8-.5 .8 .3 .8-.3 .8 .8 .8 .1 .8 .8 .8-.4 .8 .4 .8-.5 .8 .5 .8-.3 1.6 1 .8 .9 .8 0 .8 .4 .8-.4 .8 .1 .8-.3 1.6 .2 2.4 .8 4 0 1.6 .3" stroke="#DC267F"/>
<path d="M889.0 1116.6l4.8-.2 5.6-.7 3.2-.8 3.2 0 3.2-1.6 4-.3 4.8-1.8 4-2.4 2.4-.4 1.6-.6 4-3.7 5.6-3.2 1.6-1.3 4-4.5 4-2.6 1.6-1.4 5.6-7.1 2.4-1.3 1.6-1.5 4-5.7 .8-.5 2.4-3.1 .8-.5 .8-1.2 .8-.2 .8-.9 .8-.1 .8-1.4 .8-.6 2.4-4.3 1.6-1.4 .8 0 1.6-.8 .8-1.1 .8-.5 .8-1.4 .8-.3 .8-1 .8-.2 .8-1.1 .8-.3 .8-1.2 .8-.3 .8-1 .8 0 .8-.5 .8 .5 1.6-.3 1.6-1.5 .8-1.4 .8-.1 .8-.6 .8 .5 .8-.3 .8 .6 .8-.4 .8 0 .8-.6 1.6 0 .8 .5 .8 0 .8 .3 .8-.4 .8 0 .8-.6 .8 .4 .8-.1 .8 1.3 .8 .5 .8 1 .8 0 .8 .6 .8-.7 .8 .4 .8-.2 .8 1.3 .8 .4 .8 1.3 .8 .3 .8 .8 .8-.1 .8 1 .8 .2 .8 1.4 .8 .3 .8 1.6 .8 .3 .8 1 .8-.2 .8 .9 .8 .3 .8 1.4 .8 .6 .8 2 1.6 1.7 .8 .1 .8 1 .8 .2 .8 1.6 .8 .6 .8 1.7 .8 .5 .8 1.4 .8 .1 .8 1.3 .8 .3 .8 1.4 .8 .5 .8 1.8 .8 .6 .8 1.5 .8 .1 .8 1.3 .8 0 .8 1.3 .8 .7 .8 1.7 .8 .3 .8 1.5 .8 .2 .8 1 .8 .1 .8 1.5 .8 .2 .8 1.7 .8 .4 .8 1.3 .8 .1 .8 1.3 .8-.2 .8 1.2 .8 .1 .8 1.2 .8 .4 .8 1 .8 .3 .8 .9 .8 .3 .8 1 .8 .1 .8 1.1 .8 .2 .8 1.1 .8-.2 .8 .8 .8-.1 .8 .9 .8 0 .8 .9 .8 0 .8 1.1 .8 .1 .8 .9 .8 .1 .8 .7 .8 0 .8 .4 .8-.3 .8 .6 .8-.4 4 2.5 .8-.2 .8 .6 .8-.2 .8 .6 .8-.3 .8 .5 .8-.1 .8 .2 .8-.3 .8 .4 .8-.2 .8 .7 .8 .1 .8 .7 .8-.1 .8 .3 2.4-.5 5.6 1" stroke="#FE6100"/>
<path d="M910.6 1116.6l7.2-.5 4-.9 2.4-.1 4-1.2 4-.7 4-2.2 1.6-.5 2.4-.2 1.6-.7 4-3.1 4-1.4 .8-.7 .8-.2 3.2-2.7 2.4-2.4 5.6-3.7 1.6-1.8 .8-1.5 .8-.5 .8-1.5 1.6-1.6 .8-.3 .8-.8 .8-.2 .8-1 .8-.4 .8-1.6 .8-.6 .8-1.7 1.6-2.1 .8-.3 .8-1.2 .8-.1 .8-1 .8-.5 .8-1.5 .8-.5 .8-1.7 .8-.4 .8-1.6 .8-.2 .8-1.1 .8 .1 .8-1.2 .8-.2 .8-1.5 .8-.7 .8-1.8 .8-.6 .8-1.4 .8-.2 .8-.9 .8 .2 .8-.8 .8 .1 .8-1 .8-.5 .8-1.8 .8-.7 .8-1.5 1.6-1.4 .8 .3 .8-.5 .8 .2 .8-.4 .8 .1 .8-1 .8-.4 .8-1.2 .8-.4 .8-1.1 .8 0 .8-.6 .8 .4 .8-.1 .8 .5 .8-.4 .8 .1 .8-.5 .8 .1 .8-.7 .8 .3 .8-.4 .8 .4 .8-.2 .8 .6 .8 0 .8 .5 .8-.2 .8 .7 .8-.2 .8 .7 .8-.1 .8 .9 .8 0 .8 1 .8 .1 .8 1 .8 0 .8 .9 .8-.1 .8 1 .8 .3 .8 1.1 .8 0 .8 1.3 .8 .1 .8 1.6 .8 .3 .8 1.6 .8 .1 .8 1.4 .8 .2 .8 1 .8 .2 .8 .9 .8 .2 .8 1.7 .8 .3 .8 2.1 .8 .6 .8 1.7 1.6 1.9 .8 .2 .8 1 .8-.1 .8 1 .8 .3 1.6 2.5 .8 2 .8 .7 .8 1.9 .8 .2 .8 1.3 .8-.2 .8 1 .8 0 .8 1.1 .8 .4 .8 1.8 .8 .6 .8 1.7 1.6 2 .8 0 .8 1.1 .8-.2 .8 1.1 .8 .1 .8 1.5 .8 .4 .8 1.5 .8 .4 .8 1.3 .8-.1 .8 .9 .8-.3 .8 .7 .8 .1 .8 1.2 .8 .4 .8 1.7 .8 .2 .8 1.1 .8 .1 .8 .4 .8-.3 .8 .6 .8-.3 .8 .7 .8 .3 2.4 2.6 1.6 .8 .8-.2 .8 .4 .8-.5 .8 .5 .8-.2 .8 .7 .8-.1 .8 .9 .8 .1 .8 .9 .8-.2 .8 .6 .8-.1 .8 .5 .8-.3 .8 .4 .8-.3 .8 .4 .8-.1 .8 .4 .8-.1 .8 .5 .8-.1 2.4 .8 4 0 4 .6" stroke="#FFB000"/>
<path d="M932.2 1116.6l4-.8 4 .1 4-1.6 4-.4 2.4-.6 2.4-.1 1.6-.7 2.4-2 .8-.2 .8-.7 .8 .1 .8-.3 .8 .4 1.6-.4 .8-.8 .8-.2 .8-.9 .8-.3 .8-.9 .8-.2 .8-.8 .8 0 .8-1 .8-.3 2.4-2.3 .8-.2 .8-.6 .8-.1 .8-.8 .8 0 .8-1.2 .8-.3 .8-1.3 .8-.6 .8-1 .8-.4 .8-1.1 .8-.1 .8-1.3 .8-.3 .8-1.4 .8-.6 .8-1.2 .8-.2 .8-1.1 .8-.1 .8-.7 .8-.3 .8-1.1 .8-.4 2.4-4.3 .8-.5 .8-1.5 .8-.3 .8-1.3 .8-.3 .8-1 .8-.2 .8-1.5 .8-.2 .8-1.3 .8-.1 .8-1.5 .8-.1 .8-1.7 .8-.6 2.4-4.3 .8-.4 .8-1.3 .8 .1 .8-.8 .8 .1 .8-.8 .8-.2 .8-1.4 .8-.3 .8-1.7 .8-.5 .8-1.3 .8-.2 .8-1.2 .8-.1 .8-1 .8 0 .8-.9 .8-.1 .8-.6 .8 .1 .8-.7 .8 .3 .8-.8 .8 0 .8-1 3.2-1.6 .8 .6 .8-.3 .8 .7 .8-.3 .8 .4 .8-.4 .8 .2 .8-.4 1.6 .1 2.4 1.5 .8 0 .8 .7 .8 0 .8 .6 .8 0 .8 .8 .8 .3 .8 .8 .8 .2 .8 1 .8-.2 .8 1.1 .8 .1 .8 1.1 .8 .2 2.4 3.3 .8 .5 .8 1.4 .8-.2 .8 1.1 .8 0 .8 1.2 .8 .5 .8 1.4 .8 .6 .8 1.4 .8 .5 .8 1.4 .8 .4 .8 1.4 .8 .2 .8 1.5 .8 .5 .8 1.8 .8 .5 2.4 2.9 .8 .3 .8 1.3 .8 .3 .8 1.5 .8 .4 .8 1.7 .8 .3 .8 1.4 .8 .4 .8 1.2 .8 .2 .8 1.4 .8 .5 2.4 3.4 .8 .3 .8 1 .8 0 .8 .8 .8 0 .8 1 .8 .3 .8 1.4 .8 .6 .8 1.4 .8 .3 .8 1.4 .8 .1 .8 .9 .8 0 .8 .8 .8 .1 .8 1 .8-.1 .8 .6 .8-.2 .8 .8 .8-.1 .8 1 .8 .3 .8 1.4 1.6 1.5 1.6 .9 .8-.4 .8 .2 .8-.6 .8 .4 .8-.3 .8 .7 .8 0 .8 1 .8 .2 .8 .8 .8-.1 .8 .8 .8-.1 .8 .7 .8-.2 .8 .6 .8-.3 .8 .3 .8-.5 .8 .3 .8-.4 .8 .3 .8 .1 2.4 1.3 .8 0 .8 .3 2.4-.2 5.6 .7" stroke="#63A00C"/>
<path d="M949.8 1116.6l9.6-.8 5.6-1.8 .8 .2 .8-.3 .8 .4 .8-.5 .8 .3 3.2-1.1 .8-.9 .8-.1 .8-.8 .8-.1 .8-.8 .8 .3 .8-.5 .8 .3 .8-.5 .8 .1 1.6-.5 .8-.9 .8-.2 2.4-2.2 .8-.2 .8-.8 .8-.1 .8-.8 .8 .2 .8-.9 .8 0 .8-.8 .8-.2 .8-1 .8-.1 .8-1 .8-.1 .8-1.2 .8-.3 .8-1.3 .8-.3 .8-1.5 .8 0 .8-1.1 .8-.2 .8-1 .8-.2 .8-1.1 .8-.4 .8-1.3 .8-.5 2.4-3.5 .8 0 .8-1.2 .8-.3 .8-1.1 .8-.3 .8-1.6 .8-.8 2.4-3.8 .8-.3 .8-1.3 .8 0 .8-1.1 .8 0 .8-1.4 .8-.7 .8-1.6 .8-.8 .8-1.7 .8-.4 .8-1.3 .8-.3 .8-1.2 .8-.3 .8-1.2 .8-.5 .8-1.3 .8-.2 .8-1.3 .8-.2 .8-1.1 .8 .2 .8-1 .8-.4 .8-1.4 .8-.6 .8-1.6 .8-.4 .8-1.2 .8 0 .8-.7 .8 .7 .8-.5 .8 .4 .8-.6 .8 0 .8-1.2 .8-.4 .8-.9 1.6-.9 .8 .4 .8-.2 .8 .4 .8-.2 .8 .4 .8-.5 .8 .2 .8-.5 .8 .4 .8-.2 .8 .7 .8 0 .8 .9 .8-.1 .8 .6 .8-.3 .8 .3 .8-.2 .8-5.7 .8 11.7 .8-4.1 .8 .3 .8 1.4 .8 .3 .8 1.1 .8-.3 .8 .9 .8-.2 .8 1.1 .8 .4 .8 1.3 .8 .7 .8 1.6 .8 .5 .8 1.1 .8 0 .8 .8 .8 .1 .8 1 .8 .3 .8 1.4 .8 .9 .8 2 .8 .8 .8 1.6 .8 .2 .8 1.3 .8 .2 .8 1 .8 0 .8 1.3 .8 .5 .8 1.6 .8 .6 .8 1.4 .8 .5 .8 1.4 .8 .4 .8 1.3 .8 .6 2.4 3.7 .8 .3 .8 1.3 .8 .1 .8 1.1 .8-.3 .8 1.1 .8 .3 .8 1.3 .8 .7 .8 1.7 .8 .6 .8 1.5 .8 .3 .8 1.1 .8-.2 .8 .9 .8-.1 3.2 2.6 .8 1.2 .8 .3 .8 .9 .8 0 .8 .8 .8-.1 .8 .8 .8 .2 .8 1.1 .8 .2 .8 1 .8 0 .8 .7 .8-.2 .8 .7 .8-.2 .8 .8 .8 0 .8 .6 .8 .1 .8 .8 .8-.2 .8 .7 .8-.3 .8 .7 .8-.2 .8 .7 .8 .1 .8 .7 .8 0 .8 .6 .8-.2 .8 .3 .8-.4 .8 .4 .8-.4 .8 .4 .8-.1 2.4 1.1 .8 0 2.4 .7 4-.2 4 .5" stroke="#2F1DAF"/>
<path d="M971.4 1116.6l3.2-.8 4 .2 2.4-.8 4-.5 .8-.7 .8 .1 .8-.6 .8 .3 .8-.3 .8 .4 .8-.4 .8 .1 .8-1 .8-.2 .8-.8 .8 .2 .8-.5 .8 .6 .8-.6 .8 .1 .8-.8 .8-.1 .8-1 .8-.1 .8-.8 .8 .3 .8-.8 .8-.1 .8-.9 .8-.1 .8-.8 .8 .2 .8-.7 .8 .4 .8-.9 .8-.4 .8-1.4 .8-.5 .8-1.3 .8-.3 .8-.7 .8-.1 1.6-.8 .8-.8 .8-.4 .8-1.2 .8-.4 .8-.9 .8-.3 .8-1.3 .8-.4 .8-1.6 .8-.5 .8-1.5 .8-.1 .8-1.2 .8 .2 .8-1.4 .8-.1 2.4-3.9 .8-.4 .8-1.1 2.4-1.9 .8-1.5 .8-.7 .8-1.6 .8-.5 .8-1.5 .8-.2 .8-1.2 .8-.5 .8-1.5 .8-.5 .8-1.3 .8-.3 .8-1.2 .8 0 .8-1.4 .8-.2 .8-1.9 .8-.7 .8-1.9 .8-.2 .8-1.4 .8 0 .8-.8 .8-.1 .8-.9 .8-.4 .8-1 .8-.3 .8-.8 .8-.2 .8-1.3 .8-.3 .8-1.1 .8-.5 .8-1 .8-.1 .8-.6 .8-5.9 .8 11.6 .8-5.4 .8-.9 .8 0 .8-.9 .8 .3 .8-.5 .8 .4 .8-.5 .8 .4 .8-.5 .8 .2 .8-.6 3.2 .8 .8 .7 .8-.3 .8 .5 .8 0 .8 .8 .8 .2 .8 1.2 1.6 .9 .8-.1 .8 .4 .8-.3 .8 .7 .8 .1 .8 1.5 .8 .5 .8 1.3 .8 .5 .8 1.2 .8 .3 .8 1.3 .8 .5 .8 1.3 .8 .2 .8 1.1 .8-.1 .8 .8 .8 .2 .8 1.3 .8 .4 .8 2.1 3.2 4.2 .8 0 .8 1.3 .8 .6 2.4 3.2 .8 .3 .8 1.2 .8 .3 .8 1.4 .8 .5 .8 1.5 .8 .8 .8 1.3 .8 .3 .8 1.3 .8 .4 .8 1.3 .8 .6 .8 1.6 .8 .4 .8 1.4 .8 .1 .8 .8 .8-.1 1.6 1.2 .8 1.4 .8 .5 .8 1.4 .8 .5 .8 1.3 .8 .1 2.4 2.7 .8 0 .8 1 .8-.4 .8 .5 .8-.1 .8 .7 .8 .1 .8 1.5 .8 .5 .8 1.4 .8 .2 .8 .7 .8-.1 .8 .6 .8 0 .8 .8 .8 0 .8 .5 .8-.1 .8 .4 .8-.3 .8 .8 .8-.1 .8 .9 .8 .3 .8 .7 .8-.1 .8 .6 .8-.3 .8 .5 .8-.1 .8 .8 .8 0 .8 .6 .8-.3 .8 .2 .8-.5 1.6 0 2.4 1.3 .8-.1 .8 .4 2.4 .3 .8 .3 4-.4 3.2 .6" stroke="#648FFF"/>
<path d="M988.2 1116.8l8-.8 .8-.3 .8 .1 .8-.4 .8 .2 .8-.3 .8 .2 .8-.4 .8 .2 .8-.7 .8 .2 .8-.6 .8 .1 .8-.7 .8 .2 .8-.5 .8 .2 .8-.5 .8 .3 .8-.7 .8 .4 .8-.5 .8 .3 .8-.8 .8 0 .8-1.1 .8-.2 .8-1.1 .8 0 .8-.8 .8 .2 .8-.5 .8 .5 .8-.6 .8 .2 .8-.9 .8-.2 .8-1.1 .8-.3 .8-1.3 .8 0 .8-.9 .8-.1 .8-1.1 .8 0 .8-1.2 .8-.1 .8-1.1 .8 .1 .8-.8 .8 .2 .8-.9 .8-.3 .8-1.5 .8-.6 .8-1.8 .8-.5 .8-1.7 .8 0 .8-.8 .8 .2 .8-.8 .8-.1 .8-1.6 .8-.5 .8-1.8 .8-.5 .8-1.5 .8-.4 .8-1.1 .8-.2 .8-1.4 .8-.4 .8-1.6 .8-.7 .8-1.6 .8-.6 .8-1.2 .8-.1 .8-.8 .8-.3 .8-1.5 .8-.6 .8-1.7 .8-.8 .8-1.7 .8-.3 .8-1.4 .8 0 .8-.8 .8-.1 4-5.9 .8-.2 .8-.9 .8 .2 .8-.8 .8-.1 .8-1.3 .8-.5 .8-1.4 .8-.4 .8-1.2 .8 .1 .8-.8 .8 0 .8-.6 .8 0 2.4-1.7 .8 .2 .8-.5 .8 .2 .8-.3 .8 .2 .8-.8 .8 .1 .8-.7 .8 .1 .8-.7 .8 .5 .8 0 .8 .9 .8 .1 .8 .8 .8-.1 .8 .7 .8-.5 .8 .6 .8-.3 .8-5.8 .8 11.3 .8-4.5 .8 0 .8 1 .8 .1 .8 1.3 .8 .2 .8 1.4 .8 .3 .8 1.1 .8 .3 .8 .9 .8 0 .8 1.1 .8 0 .8 1.1 .8 .3 .8 1.3 .8 .4 .8 1.4 .8 .4 .8 1.6 .8 .4 .8 1.5 .8 .4 .8 1.4 .8 .5 .8 1.2 .8 .3 .8 1.3 .8-.1 .8 1.6 .8 .4 .8 1.5 .8 .7 .8 1.7 .8 .6 .8 1.6 .8 .3 .8 1 .8 .3 .8 1.2 .8 .4 2.4 3.7 .8 .2 .8 1.4 .8 .2 .8 .9 .8 .2 .8 1.2 .8 .3 .8 1.7 .8 .4 .8 1.5 .8 .4 .8 1 .8 0 .8 .8 .8 .2 .8 1.1 .8 .5 .8 1.4 .8 .2 .8 1.2 .8-.2 .8 .7 .8-.2 .8 .8 .8 .1 .8 1.3 .8 .5 .8 1.5 .8 .3 .8 .9 .8-.2 .8 .2 .8-.3 .8 .4 .8-.3 .8 1 .8 .1 .8 1.3 .8 .1 .8 .9 .8-.2 .8 .5 .8-.3 .8 .8 .8 0 .8 .8 .8 .1 .8 .5 .8-.3 .8 .1 .8-.6 .8 .4 .8-.3 .8 .8 .8 .2 .8 1.1 .8 .1 .8 .6 1.6 0 .8-.5 1.6-.2 4 1.1 4.8 .4" stroke="#785EF0"/>
<path d="M1005.8 1116.8l2.4-.5 4 .4 4-1.3 1.6-.1 .8 .2 3.2-.6 .8-.5 .8 .2 .8-.4 .8 .4 .8-.5 .8 0 .8-.6 .8 .1 .8-.9 .8 .1 .8-.6 .8 .2 .8-.6 .8 .2 .8-.7 .8 .2 .8-.8 .8-.1 .8-.7 .8 0 .8-.6 .8 .3 .8-.8 .8-.1 .8-1.1 .8 0 .8-1.1 .8-.2 .8-.8 .8 0 .8-.9 .8-.1 .8-.8 .8 .1 .8-.8 .8-.1 .8-1 .8-.3 .8-1.2 .8-.5 .8-1.5 .8-.3 .8-1.2 .8-.3 .8-.7 .8 0 .8-.8 .8 0 .8-1.3 .8-.4 2.4-4.2 .8-.4 .8-1.3 .8-.1 .8-1.1 .8 .1 .8-1.6 .8-.4 .8-1.5 .8-.3 .8-1.5 .8-.2 .8-1.4 .8-.2 .8-1.7 .8-.5 .8-2 .8-.5 .8-1.7 .8-.2 .8-.9 .8-.2 1.6-1.1 .8-1.5 .8-.7 .8-2.1 .8-.5 .8-1.6 .8-.3 .8-.8 .8-.1 .8-1 .8-.3 .8-1.3 .8-.6 .8-1.6 .8-.5 .8-1.1 .8 .1 .8-.6 .8 .1 .8-.9 .8-.1 2.4-3.1 .8-.2 .8-.8 .8-6.1 .8 10.6 .8-4.3 .8-.8 .8 .3 .8-.9 .8 .1 .8-.6 .8 .4 .8-.5 .8 .4 .8-.4 .8 .2 .8-.6 .8 .2 .8-.5 .8 .6 .8 .1 2.4 2.1 .8-.2 .8 .5 .8-.4 .8 .5 .8-.5 .8 .9 .8 0 .8 1.2 .8 .4 .8 1.3 .8 .3 .8 1 .8 .3 .8 1 .8 .1 .8 1.1 .8 .1 .8 .9 .8 .3 .8 1.1 .8 .4 .8 1.3 .8 .5 .8 1.6 .8 .7 .8 1.2 .8 .3 .8 1.4 .8 .2 .8 1.4 .8 .1 .8 1.7 .8 .4 .8 1.3 .8 .4 .8 1.6 .8 .1 .8 1.5 .8 .4 .8 1.7 .8 .5 .8 1.6 .8 .2 .8 1.5 .8 .4 .8 1 .8 .2 .8 1.5 .8 .4 .8 1.5 .8 .5 .8 1.5 .8 .2 .8 1 .8 0 .8 1.3 .8 .4 .8 1.3 .8 .6 .8 1.8 .8 .5 .8 1 .8-.1 .8 .7 .8-.3 1.6 .9 .8 1.3 .8 .8 .8 1.5 1.6 1.6 .8-.2 .8 .6 .8-.3 .8 .7 .8 .1 2.4 2.2 .8 0 .8 .8 .8-.1 .8 .7 .8 0 .8 1.1 .8 .2 .8 1.1 .8-.1 .8 .5 .8-.5 .8 .1 .8-.5 1.6 .6 2.4 2.4 .8 .1 .8 .6 .8-.5 .8 0 .8-.6 .8 .5 .8-.1 2.4 1.3 4 .2 4 .9 .8-.2 4 .4" stroke="#DC267F"/>
<path d="M1028.2 1116.7l2.4-.9 1.6-.3 5.6 .7 5.6-3.2 .8 .5 .8-.2 2.4 .7 .8-.8 .8 .2 .8-.7 .8-.1 .8-.9 .8-.1 .8-.8 .8 0 .8-.8 .8 .1 .8-.8 .8 .1 .8-.6 .8 .1 .8-.7 .8 .1 .8-.7 .8-.1 .8-.7 .8-.2 .8-.9 .8-.1 .8-1.3 .8-.1 .8-1.2 .8-.1 .8-1.3 .8-.1 .8-.9 .8 0 .8-.8 .8-.2 .8-.8 .8-.2 .8-1.3 .8-.3 .8-1.5 .8-.4 .8-1.3 .8-.5 .8-1.3 .8-.2 .8-1.2 .8-.4 .8-1 .8-.3 .8-1.2 .8-.2 .8-1.6 .8-.4 .8-1.6 .8-.2 .8-1.5 .8-.4 .8-1.6 .8-.4 2.4-3.1 .8-.4 .8-1.7 .8-.3 .8-1.4 .8-.5 .8-1.4 .8 0 .8-1.5 .8 0 3.2-4.1 .8-1.7 .8-.6 .8-1.3 .8-.2 .8-1.3 .8 .2 .8-1.1 .8 .1 .8-.8 .8-.3 .8-1.1 .8-.2 .8-1.6 .8-.5 .8-1.4 .8-.1 .8-1.3 .8 .2 .8-.7 .8 .3 .8-.6 .8 .4 .8-.5 .8 .2 .8-.9 .8-.1 .8-.8 .8 0 .8-.8 .8 0 .8-.4 .8 .3 .8-.1 .8 .6 .8-.1 .8 .6 .8-.1 .8 .5 .8-.3 .8 .5 .8-.3 .8 .6 .8-.2 .8 .8 .8 0 .8 .7 .8 .1 .8 .9 .8 .1 .8 .9 .8 .2 .8 1 .8 .2 .8 1.2 .8 .2 .8 1.4 .8 .1 .8 .9 .8 .3 .8 1.1 .8 0 .8 1.4 .8 .2 .8 1.4 .8 .6 .8 1.4 .8 .6 .8 1.6 .8 .3 .8 1.4 .8 .2 .8 1.1 .8 .4 .8 1.2 .8 .3 .8 1.5 .8 .4 .8 1.6 .8 .6 .8 1.6 .8 .6 .8 1.6 .8 .2 .8 1.4 .8 .1 3.2 3 .8 1.7 .8 .5 .8 1.7 .8 .5 .8 1.5 .8 .2 .8 1.1 .8 0 .8 1.2 .8-.1 .8 1 .8 .3 4 5 .8 .4 .8 1 .8-.1 .8 1 .8-.1 .8 .8 .8-.2 .8 1.1 .8 0 .8 1.3 .8 .3 .8 1.1 .8 .2 .8 .9 .8 .1 .8 .8 .8-.3 .8 .7 .8 0 .8 .8 .8-.2 .8 .8 .8-.1 .8 .8 .8-.1 .8 .8 .8-.1 .8 .7 .8-.1 .8 .6 .8-.2 .8 .8 .8-.1 .8 .6 .8-.2 .8 .7 .8-.3 .8 .4 .8-.4 .8 .6 .8-.3 .8 .5 2.4 .4 .8 .5 .8-.1 .8 .4 .8-.2 .8 .3 4 0 2.4 .5" stroke="#FE6100"/>
<path d="M1044.2 1116.8l2.4-.6 4 .1 2.4-.5 .8 .1 .8-.4 .8 .2 .8-.5 .8 .1 2.4-1.2 .8 .1 .8-.2 .8 .5 .8-.4 .8 .3 .8-.6 .8-.2 .8-.7 .8 .1 .8-.5 .8 .1 .8-.5 .8 .1 .8-.9 .8-.1 .8-1 .8 .1 .8-.4 .8 .4 .8-.4 .8 .2 .8-.9 .8-.4 .8-1 .8-.2 .8-1 .8 0 .8-.9 .8 0 .8-1.1 .8 0 .8-1.1 .8 .1 .8-.6 .8 .2 1.6-1.1 1.6-2 .8-1.6 .8-.5 .8-1 .8-.1 .8-.7 .8 .1 .8-1.1 .8-.1 .8-1.3 .8-.4 .8-1.2 .8-.3 .8-1.7 .8-.3 .8-1.7 .8-.7 .8-1.7 .8 0 .8-1.2 .8 .1 .8-.9 .8 0 .8-1.5 .8-.7 .8-2.1 .8-.6 .8-1.5 .8-.4 .8-1.3 .8-.2 .8-1.4 .8-.5 .8-1.3 .8-.3 .8-1.4 .8-.3 .8-1.3 .8-.5 .8-1.5 .8-.6 .8-1.7 .8-.4 .8-1.2 .8-.1 .8-.9 .8 0 .8-1.4 .8-.4 2.4-3.3 .8-.1 .8-.8 .8 0 .8-1.1 .8-.1 .8-1.1 .8-.3 .8-.8 .8-.1 .8-.8 .8 .1 .8-.8 .8 0 .8-1.1 .8 .1 .8-.5 .8 .4 .8-.3 .8 .4 .8-.5 .8 .1 .8-.8 .8 .1 .8-.6 .8 .6 .8-.1 .8 .9 .8-.1 .8 .5 .8-.3 .8 .5 .8-.2 .8 .8 .8 .1 .8 .8 .8-.1 .8 .7 .8-.2 .8 .9 .8 .1 .8 1.2 .8-4.2 .8 8.5 .8-2.5 .8 1 .8 0 .8 .7 .8 .3 .8 1.2 .8 .3 .8 1.6 .8 .6 .8 1.2 .8 .2 .8 1 .8 .2 .8 1.4 .8 .5 .8 1.5 .8 .6 .8 1.2 .8 .3 .8 1.4 .8 .5 .8 1.6 .8 .3 .8 1.7 .8 .3 .8 1.4 .8 0 .8 1.1 .8 .4 .8 1.5 .8 .5 .8 1.9 .8 .8 .8 1.7 .8 0 .8 1.2 .8 0 .8 1.3 .8 .1 .8 1.3 .8 .6 .8 1.1 .8 .3 .8 1.5 .8 .4 2.4 3.7 .8 .1 .8 .9 .8-.1 .8 .6 .8-.1 1.6 1.4 .8 1.3 .8 .6 .8 1.5 .8 .4 .8 1 .8-.2 .8 .9 .8 0 .8 .8 .8-.1 .8 .8 .8-.3 .8 .9 .8-.2 .8 1 .8 .4 .8 1.4 1.6 1.1 .8-.1 .8 .3 .8-.5 .8 .5 .8-.2 .8 .7 .8 0 .8 1 .8-.1 .8 .5 .8-.2 .8 .7 .8 0 .8 .8 .8-.1 .8 .7 .8-.5 .8 .4 .8-.4 .8 .3 .8-.1 .8 .6 .8 0 .8 .4 1.6 .2 2.4 .2 .8 .4 1.6 .2 4-.2 2.4 .5" stroke="#FFB000"/>
<path d="M1061.8 1116.7l3.2 0 2.4-.6 4-.1 2.4-.8 2.4 .3 .8-.5 .8 0 .8-.7 .8-.1 .8-.8 .8 .4 .8-.4 .8 .4 .8-.3 .8 0 .8-.8 .8 .4 .8-.6 .8 .4 1.6-.8 .8-1 .8-.3 .8-1.1 .8 0 .8-.5 .8 .2 .8-.4 .8 .4 .8-.7 .8-.2 .8-.6 .8 0 .8-.7 .8-.3 4-4.6 .8 .1 .8-.3 .8 .2 .8-.8 .8 .1 .8-1 .8-.3 .8-1.1 .8-.4 .8-1.3 .8-.5 2.4-3.9 .8-.2 .8-1.1 .8 .4 .8-.8 .8 .1 2.4-3.1 .8-.6 .8-1.4 .8-.4 .8-1.8 .8-.7 2.4-3.8 .8 0 .8-.9 .8 .1 .8-1.1 .8-.3 .8-1.7 .8-.6 .8-1.6 .8-.6 .8-1.4 .8-.6 2.4-3.8 .8-.3 .8-1.1 .8 .1 .8-1 .8-.2 .8-1.4 .8-.4 .8-1.5 .8-.5 .8-1.4 .8-.2 .8-1.2 .8-.2 .8-1.1 .8-.4 .8-1 .8-.1 .8-.8 .8 .2 .8-.8 .8-.4 .8-1.2 .8-.3 .8-.9 1.6-.5 .8 .2 .8-.4 .8 .1 .8-.8 .8 .1 .8-4.7 .8 7.5 .8-3.3 .8 .3 2.4-1.1 1.6 .2 .8 .7 .8 .3 .8 .9 .8-.1 .8 .6 .8-.3 .8 .7 .8-.2 .8 .8 .8-.1 .8 .8 .8-19.1 .8 30.3 .8-10.8 1.6 1.8 .8 1.4 1.6 2 .8 0 .8 1.1 .8-.2 .8 1.1 .8 .2 .8 1.2 .8 .1 .8 1.2 .8 .1 1.6 1.8 .8 1.9 .8 .8 .8 1.8 .8 .3 .8 1.4 .8 .1 .8 1.2 .8 .1 .8 1.4 .8 .5 .8 1.4 .8 0 .8 1.3 .8 .3 .8 1.7 .8 .6 .8 2.1 .8 .7 .8 1.5 .8 .2 .8 1.1 .8-.1 .8 1.4 .8 .5 .8 1.2 .8 .4 .8 1.1 .8 .2 .8 1.3 .8 .4 .8 1.4 .8 .6 .8 1.6 .8 .4 .8 1 .8 0 .8 1.1 .8 0 .8 1.2 .8 .3 .8 1.3 .8-.1 .8 .9 .8 0 4 3.9 .8 .1 .8 .6 .8 0 .8 .9 .8 .2 .8 1.1 .8 .1 .8 .7 .8-.3 .8 .5 .8-.3 .8 .9 .8 .1 .8 .9 .8 .1 .8 .7 .8-.2 .8 .5 .8 .1 .8 .7 .8 0 .8 .8 .8-.1 .8 .2 .8-.5 .8 .3 .8-.2 .8 .7 .8 .1 .8 .8 .8-.3 .8 .4 .8-.1 1.6 .4 .8 .6 .8-.2 .8 .3 2.4-.3 4 .8 3.2 .3" stroke="#63A00C"/>
<path d="M1082.6 1116.8l7.2-1.2 .8 .1 .8-.2 .8 .3 .8-.2 .8 .1 1.6-.5 .8-.5 .8-.1 .8-.6 .8 .2 .8-.7 .8 .4 .8-.5 .8 .3 .8-.7 .8 .3 .8-.6 .8 0 .8-.6 .8 .1 .8-.6 .8 0 .8-.8 .8 .1 .8-.5 .8-.1 .8-.8 .8 .1 .8-1 .8-.2 .8-.9 .8 0 .8-.8 .8 .3 .8-.8 .8 .2 .8-.7 .8-.2 .8-1 .8-.3 2.4-2.8 .8-.1 .8-1.3 .8 .1 .8-1.1 .8 .1 .8-.9 .8 0 .8-1.1 .8-.4 .8-1.2 .8-.5 .8-1.5 .8-.3 .8-1.4 .8-.3 .8-1.4 .8-.3 .8-1.1 .8-.2 .8-1.5 .8-.2 2.4-3.2 .8-.3 .8-1.5 .8-.2 .8-1.4 .8-.4 .8-1.5 .8-.4 .8-1.6 .8-.6 2.4-3.3 .8-.4 .8-1.3 .8-.2 .8-1.3 .8-.4 .8-1.3 .8-.2 .8-1.5 .8-.5 .8-1.5 .8-.5 .8-1.4 .8-.4 .8-1.3 .8-.3 .8-1.2 .8-.1 .8-1.1 .8 .1 .8-.9 .8-.2 .8-1 .8-.1 .8-1.2 .8-.1 .8-1.2 .8-.3 .8-1 .8-.1 .8-.7 .8 0 .8-.5 .8 .3 .8-19.7 .8 32.5 .8-13.6 .8 .3 2.4-1.3 .8 .4 .8-.5 .8 .5 .8-.3 2.4 1.1 .8-.3 .8 .5 .8-.2 .8 .8 .8-.2 .8 .8 .8 .1 .8 1 .8 .2 .8 1.1 .8 0 .8 1 .8-.1 .8 .7 .8-.2 .8 1 .8-.1 .8 1.4 .8 .5 .8 1.6 .8 .5 .8 1.7 .8 .4 .8 1.2 .8-.1 .8 1.2 .8-.2 .8 1.1 .8 .1 .8 1.2 .8 .7 2.4 4.3 .8 .5 .8 1.6 .8 0 .8 1.2 .8 .1 .8 1.3 .8 .2 .8 1.4 .8 .7 .8 1.8 .8 .5 .8 1.7 .8 .2 .8 1.5 .8 .1 .8 1 .8 0 .8 1.5 .8 .3 .8 1.8 .8 .5 .8 1.9 .8 .4 .8 1.3 .8 .4 .8 .9 .8-.4 .8 .9 .8 0 1.6 1.4 .8 1.6 .8 .7 .8 1.4 .8 .6 .8 1.4 .8-.2 .8 .9 .8-.2 .8 .4 .8-.1 .8 .9 .8 .1 2.4 2.8 .8 .2 .8 1.2 .8-.2 .8 .6 .8-.3 .8 .8 .8-.3 .8 .8 .8 .2 .8 .8 .8 .1 .8 .9 .8 .1 .8 .6 .8-.4 .8 .3 .8-.3 .8 .5 .8 0 .8 .7 .8 .2 .8 .9 .8 .1 .8 .8 .8-.3 .8 .3 .8-.5 .8 .2 .8-.3 1.6 .2 .8 .5 .8 0 .8 .6 .8 0 .8 .4 5.6 .1 2.4 .5" stroke="#2F1DAF"/>
<path d="M1098.6 1116.7l2.4-.2 2.4 .2 4-1.3 1.6 0 .8 .5 .8-.2 .8 .3 1.6-.5 2.4-1.5 .8 .2 .8-.5 .8 .5 .8-.5 .8 .4 .8-.5 .8 .4 .8-.8 .8-.1 .8-.8 .8-.1 .8-.7 1.6-.5 .8 .1 .8-.3 .8 .3 .8-.8 .8 .1 .8-1 .8-.3 .8-.9 .8-.1 .8-.8 .8 0 .8-.6 .8 .1 .8-.8 .8-.3 .8-.9 .8-.3 .8-1 .8 0 .8-.8 .8-.2 .8-1 .8-.3 .8-1.3 .8-.3 .8-1.2 .8 0 .8-1 .8 0 .8-.9 .8-.2 .8-1.5 .8-.4 .8-1.6 .8-.6 .8-1.2 .8 0 .8-1.2 .8-.1 .8-1.4 .8-.3 .8-1.6 .8-.4 .8-1.5 .8-.2 .8-1.2 .8-.5 .8-1.4 .8-.4 .8-1.8 .8-.7 .8-1.5 .8-.3 .8-.9 .8 0 .8-1 .8-.3 .8-1.9 .8-.8 .8-2.1 1.6-2.2 .8 0 .8-.9 .8 .2 .8-.7 .8-.2 2.4-4.8 .8-.6 .8-1.2 .8 0 .8-.7 .8 .2 .8-.8 .8-.2 2.4-3.3 .8-.3 .8-.9 .8 .2 .8-.8 .8 .1 .8-.8 .8-.1 .8-.8 .8 0 .8-.7 .8 .1 .8-.4 .8 .3 .8-.6 .8 .2 .8-.7 .8 .1 .8-.4 .8 .3 .8-.3 .8 .7 .8-.1 .8 .5 .8-.2 .8 .3 .8 0 .8 .6 .8-.2 .8 .8 .8-.2 .8 .8 .8-.2 .8 .9 .8 .2 .8 1.1 .8-4.9 .8 12 .8-5.6 .8 .9 .8 .1 .8 .9 .8 0 .8 .9 .8 .5 .8 1.3 .8 .6 .8 1.5 .8 .3 .8 1.2 .8 .5 .8 1.1 .8 .1 .8 1.1 .8 .3 .8 1.4 .8 .4 .8 1.5 .8 .5 .8 1.7 .8 .5 .8 1.4 .8 .6 .8 1.4 .8 .2 .8 1.2 .8 0 .8 1.3 .8 .3 2.4 4.6 .8 .5 .8 1.6 .8 0 .8 .8 .8-.1 1.6 1.4 2.4 4.3 .8 .4 .8 1.4 .8-.2 .8 .8 .8-.2 .8 1.1 .8 .4 2.4 3.7 .8 .2 .8 .9 .8-.4 .8 .7 .8 .3 2.4 3 .8 .3 .8 1 2.4 0 .8 .7 .8 0 .8 1.5 .8 .2 .8 1.3 .8 .1 .8 .6 .8-.4 .8 .5 .8-.4 .8 .8 .8-.1 2.4 2 .8-.1 .8 .6 .8-.2 .8 .6 .8-.2 .8 .7 .8-.3 .8 .6 .8-.5 .8 .5 .8-.1 .8 .6 .8 .1 .8 .6 1.6 .5 .8-.3 .8 .2 .8-.4 1.6 .1 4 1.2 4 0 2.4 .3" stroke="#648FFF"/>
<path d="M1121.0 1116.6l.8-.3 3.2-.6 .8 .3 3.2-.2 1.6-.3 .8-.5 .8 0 .8-.5 .8 .3 .8-.3 .8 .2 .8-.5 .8 .3 .8-.9 .8 0 .8-.9 .8 .1 .8-.7 .8 .2 .8-.5 .8 .6 .8-.5 .8 .3 .8-.6 .8 0 1.6-1.1 .8-1.1 .8-.1 .8-.8 .8 0 .8-1 .8 .3 .8-.8 .8 .1 .8-.8 .8 .3 .8-.8 .8 0 .8-1 .8 0 .8-1.1 .8-.2 .8-1.3 .8-.5 .8-1.5 .8-.4 .8-.9 .8-.3 .8-.8 .8 .1 .8-.7 .8 0 .8-.9 .8-.3 4-5.8 .8-.3 .8-1.3 .8 0 .8-1.2 .8-.1 .8-1.4 .8-.4 .8-1.5 .8-.5 .8-1.4 .8-.4 .8-1.2 .8-.3 .8-1.5 .8-.2 .8-1.4 .8-.6 .8-1.8 .8-.7 .8-1.7 .8-.4 .8-1.5 .8-.1 .8-1.1 .8 0 .8-1.3 .8 0 .8-1.3 .8-.5 .8-1.7 .8-.4 .8-1.5 .8-.6 .8-1.2 .8-.4 .8-1.5 .8-.1 .8-1.2 .8-.2 .8-.9 .8 0 .8-.8 .8 .2 .8-.8 .8-.1 .8-1 .8-.3 .8-1.4 .8-.3 .8-1.2 .8-.3 .8-.8 .8 .3 .8-.4 .8 .7 .8-5.8 .8 10.9 .8-5.1 .8 .2 .8-.8 .8-.1 .8-.6 .8 .1 .8-.5 .8 .5 .8-.2 .8 .8 .8-.2 .8 .8 .8-.2 .8 .7 .8 0 .8 .7 .8 .1 .8 .8 .8 .3 .8 .9 .8 0 .8 1.1 .8-.2 .8 .8 .8-.1 .8 .8 .8 .1 3.2 3.4 .8 1.5 .8 .3 .8 1.5 .8 .5 .8 1.1 .8 .3 .8 1.2 .8 .4 .8 1.2 .8 .3 .8 1.2 .8 0 .8 1.3 .8 .3 .8 1.7 .8 .3 .8 1.8 .8 .8 .8 2 .8 .6 .8 1.6 .8 .2 .8 1.1 .8 0 .8 .9 .8 0 .8 1 .8 .4 2.4 4.2 .8 .7 .8 1.9 .8 .2 .8 1.2 .8 .3 .8 1 .8-.1 .8 1.2 .8 .2 .8 1.4 .8 .3 .8 1.1 .8 .3 .8 1.1 .8 .2 .8 1.1 2.4 1.7 .8 1.4 .8 .3 .8 1.1 .8 0 .8 1.1 .8-.3 .8 .9 .8-.3 .8 .8 .8 0 .8 1 .8 0 .8 1.1 .8 .1 .8 .8 .8 .1 .8 1 .8 0 .8 .7 .8 0 .8 .9 .8-.2 .8 .6 .8-.3 .8 .5 .8-.6 .8 .5 .8-.4 .8 .7 .8 .2 .8 .9 .8 .2 .8 1.1 .8 .1 .8 .6 .8-.4 .8 .2 .8-.5 .8 .1 .8-.4 .8 .3 .8-.2 2.4 1.3 1.6 .4 6.4 .4" stroke="#785EF0"/>
<path d="M1137.0 1116.8l4-.8 4 .3 4-1.2 .8 .1 .8-.5 .8 .1 .8-.5 .8 .1 .8-.3 .8 .2 .8-.7 .8 .3 .8-.5 .8 .3 .8-.5 .8 .2 .8-.8 .8 0 .8-.8 .8 .2 .8-.7 .8 .2 .8-.5 .8 0 .8-.8 .8-.2 .8-1 .8-.2 .8-.8 .8 0 .8-.4 .8 .5 .8-.5 .8 .2 1.6-1.3 .8-1.6 .8-.4 .8-1.4 .8-.2 .8-1 .8 .2 .8-.5 .8 .4 .8-1 .8-.3 .8-1.3 .8-.6 .8-1.5 .8-.2 .8-1.1 .8-.1 .8-.9 .8 .1 .8-1.1 .8-.4 .8-1.7 .8-.6 .8-1.7 .8-.5 .8-1.5 .8-.1 .8-1.1 .8 0 .8-1.2 .8 .1 .8-1.6 .8-.4 .8-1.5 .8-.5 .8-1.6 .8-.5 .8-1.7 .8-.6 .8-1.5 .8-.3 .8-1.3 .8-.3 .8-1.2 .8-.4 .8-1.2 .8-.4 2.4-3.4 .8-.5 .8-1.5 .8-.2 .8-1 .8-.3 .8-1.3 .8-.3 .8-1.6 .8-.4 .8-1.5 .8-.3 .8-1.2 .8 .1 .8-.9 .8 .4 .8-.9 .8 0 .8-1.2 .8-.4 2.4-2.5 .8 0 .8-.5 .8 .1 .8-8.1 .8 13.5 .8-6.6 .8-.1 .8-.6 .8 .3 .8-.3 .8 .6 .8-.2 .8 .4 .8-.4 .8 .2 .8-.6 .8 .2 .8-.3 1.6 .4 .8 .9 .8 .1 .8 .9 .8 0 .8 .5 .8-.2 .8 .7 .8 0 .8 1 .8 .3 .8 1.2 .8 .4 .8 1.2 .8 .1 .8 .9 .8-.2 .8 .6 .8 0 1.6 1.6 .8 1.7 .8 .5 .8 1.6 .8 .7 .8 1.3 .8 .3 .8 1.2 .8 0 .8 1.3 .8 .1 .8 1.5 .8 .3 .8 1.4 .8 .4 .8 1.6 .8 .5 .8 1.6 .8 .3 .8 1.5 .8 .4 .8 1.3 .8 .3 .8 1.4 .8 .4 .8 1.5 .8 .6 .8 1.7 .8 .5 .8 1.5 .8 0 .8 .9 .8 .2 .8 1 .8 0 .8 1.5 .8 .7 2.4 4.1 .8 .3 .8 1.2 .8 0 .8 .6 .8-.3 .8 1.1 .8 .1 .8 1.3 .8 .6 .8 1.5 .8 .3 .8 .9 .8 0 .8 .6 .8-.1 1.6 1.1 .8 1.1 .8 .4 .8 1.4 .8 .2 .8 .7 .8 0 .8 .5 .8-.6 .8 .6 .8-.1 .8 .8 .8 .2 2.4 2 .8-.1 .8 .6 .8-.2 .8 .8 .8-.1 .8 .7 .8-.1 .8 .5 .8-.4 .8 .5 .8-.5 .8 .5 .8-.2 .8 .8 3.2 1 .8-.2 5.6 1.1 4 0 2.4 .4" stroke="#DC267F"/>
<path d="M1154.6 1116.6l2.4-.2 2.4 .5 1.6-.4 2.4-1.1 1.6-.3 .8 .4 .8-.3 .8 .3 .8-.3 2.4 .1 .8-.4 .8 0 .8-.9 .8-.1 .8-.9 .8 .2 .8-.6 .8 .7 .8-.3 .8 .3 .8-.6 .8-.1 .8-.9 1.6-.9 .8 .2 .8-.5 .8 .1 .8-.6 .8 0 .8-.9 .8 .1 .8-.9 .8 0 .8-.8 .8-.1 .8-1.2 .8-.3 .8-1 .8 .2 .8-.6 .8 .4 1.6-.7 .8-1.3 .8-.5 .8-1.5 .8-.5 .8-1 .8-.3 .8-1 .8-.1 .8-1.1 .8-.1 .8-1 .8 0 .8-1 .8 0 .8-1.5 .8-.6 .8-1.8 .8-.5 .8-1.6 .8-.3 .8-1.1 .8 .1 .8-1.3 .8-.3 .8-1.5 .8-.4 .8-1.6 .8-.2 .8-1.4 .8-.2 .8-1.5 .8-.5 .8-1.7 .8-.6 .8-1.4 .8-.3 .8-1.1 .8-.4 .8-1.5 .8-.6 .8-1.4 .8-.6 .8-1.1 .8-.2 .8-1.1 .8-.2 .8-1.6 .8-.6 .8-1.6 .8-.6 .8-1.2 .8-.1 .8-1.1 .8-.2 .8-1.2 .8-.3 .8-1.3 .8 0 .8-.9 .8 0 .8-.9 .8-.1 2.4-2.6 .8-.2 .8-.7 .8 .3 .8-.8 .8 .1 .8-.7 .8-.1 .8-.7 .8 .3 .8-.3 .8 .7 .8-.3 .8 .3 .8-.6 .8 0 .8-.7 .8 .3 .8-.2 .8 .6 .8 0 .8 .6 .8-.3 .8 .7 .8 .1 .8 .9 .8 .4 .8 1.1 .8-.3 .8 .8 .8-.5 .8 .4 .8-.2 .8 1.2 .8 .5 .8 1.4 .8 .3 .8 1.3 .8 .3 .8 .9 .8 .4 2.4 2.8 .8 .3 .8 1 .8-.1 .8 1.5 .8 .3 .8 1.6 .8 .6 .8 1.9 .8 .2 .8 1.2 .8-.2 .8 1.4 .8 .4 .8 1.7 .8 .7 .8 1.6 .8 .5 .8 1.6 .8 .2 .8 1.1 .8 .2 .8 1.4 .8 .4 .8 1.3 .8 .1 .8 1.5 .8 .3 .8 1.7 3.2 4.6 .8 0 .8 .7 .8-.2 .8 1 .8 0 2.4 3.6 .8 .4 .8 1.3 .8 .4 .8 1.4 .8 .2 .8 1.2 .8-.1 .8 .7 .8-.4 .8 .7 .8 .1 .8 1.2 .8 .4 .8 1.5 .8 .4 .8 1.1 .8-.2 .8 .5 .8-.2 .8 .7 .8 .1 .8 1 .8 .2 .8 .9 .8-.2 .8 .6 .8 0 .8 .9 .8 0 .8 .7 .8-.3 .8 .5 .8-.5 .8 .6 .8-.1 .8 1 .8 .4 .8 1.1 .8-.2 .8 .6 .8-.6 .8 0 .8-.5 .8 .4 .8-.1 .8 .6 .8 0 .8 .5 .8 0 2.4 1 1.6 .2 2.4-.6 1.6 .2 2.4 .7" stroke="#FE6100"/>
<path d="M1173.8 1116.8l2.4-.4 4 0 2.4-1 1.6-.2 2.4 .5 1.6-.2 2.4-1.7 .8 .1 .8-.3 .8 .5 1.6-.2 .8-.9 .8-.1 .8-.8 .8 0 .8-.4 .8 .5 .8-.2 .8 .4 .8-.8 .8-.2 .8-1.2 .8-.4 .8-.9 .8 0 .8-.6 .8 .2 .8-.5 .8-.1 .8-.8 .8 .1 .8-1.1 .8 0 .8-.7 .8 0 .8-1.1 .8-.1 .8-1.2 .8-.2 .8-1.4 .8-.1 2.4-2.3 .8 0 .8-1.1 .8 0 .8-1 .8 0 .8-1.3 .8-.1 .8-1.4 .8-.7 .8-1.8 .8-.4 .8-1.5 .8-.1 .8-1.2 .8 .1 .8-1.1 .8-.3 .8-1.6 .8-.3 .8-1.5 .8-.6 .8-1 .8-.3 .8-1.3 .8-.6 2.4-4.3 1.6-1.9 .8 0 .8-1 .8 .2 .8-1.2 .8-.5 .8-1.6 .8-.7 .8-1.8 .8-.6 .8-1.3 .8-.2 .8-1.2 .8-.3 .8-1.5 .8-.6 .8-1.6 .8-.1 .8-.8 .8 0 .8-.7 .8 .2 1.6-1.6 2.4-3.3 .8-.2 .8-1 .8 .1 .8-.8 .8 .3 .8-.9 .8 .3 .8-.8 .8 .3 .8-.4 .8 .1 .8-.5 .8 0 .8-.7 .8 0 .8-.6 .8 .3 .8-.6 .8 .6 .8-.4 .8 .7 .8-.2 .8 .6 .8 .2 .8 .9 .8 .2 .8 .7 .8-.2 .8 .3 .8-.4 .8 .4 .8-.1 .8 .8 .8 .3 .8 1.4 .8 .4 .8 1.1 .8 .1 .8 .9 .8 .1 .8 1.2 .8 .5 .8 1.6 .8 .4 .8 1.3 .8-.1 .8 .7 .8-.2 .8 1 .8 .2 .8 1.8 .8 .9 .8 1.9 .8 .7 .8 1.5 .8 .2 .8 1 .8 .1 .8 1.5 .8 .5 .8 1.4 .8 .5 .8 1.5 .8 .1 .8 1 .8 .4 .8 1.4 .8 .5 .8 1.9 .8 .8 .8 1.7 .8 .4 .8 1.3 .8 0 .8 1 .8 .3 .8 1.1 .8 .3 .8 1.5 .8 .5 .8 1.1 .8 .4 .8 1.2 .8 .5 .8 1.4 .8 .3 .8 1.3 .8 .3 .8 1.2 .8-.1 .8 1.1 .8 .1 .8 1.1 .8 0 .8 1 .8 .2 .8 .9 .8 .1 .8 1.1 .8 .3 .8 1.1 .8 .2 .8 1.3 .8 0 .8 .5 .8-.2 .8 .5 .8-.3 .8 1.1 .8 .1 .8 1.1 .8 .1 .8 .6 .8 0 .8 .4 .8-.4 .8 .7 .8 .2 .8 1.1 .8 .1 .8 .7 .8-.3 .8 .4 .8-.8 .8 .3 .8-.2 .8 .9 .8 .2 .8 .8 .8 .1 .8 .5 .8-.5 .8 .2 .8-.3 .8 .4 .8 0 .8 .5 1.6 .4 2.4-.2 4 .8" stroke="#FFB000"/>
<path d="M1189.8 1116.8l2.4-.3 4 .3 1.6-.3 2.4-1 1.6-.4 4 .7 1.6-.5 .8-.8 .8 0 .8-.8 .8 .1 .8-.3 .8 .3 .8-.5 .8 .4 .8-.7 .8-.1 .8-.6 .8 0 .8-.8 .8 .1 .8-.4 .8 .2 .8-.4 .8 .3 .8-.9 .8 0 .8-1.1 .8-.4 .8-1 .8-.3 .8-.9 .8 .4 .8-.5 .8 .2 .8-.4 .8 .2 .8-1.2 .8-.2 2.4-3.1 .8-.4 .8-1.1 .8 .1 .8-.7 .8 .2 .8-.9 .8 0 .8-1.2 .8-.5 2.4-3.5 .8-.2 .8-1.1 .8-.2 .8-1 .8-.3 3.2-3.6 .8-1.5 .8-.4 .8-1.4 .8-.3 .8-1.2 .8-.2 .8-1.3 .8-.3 .8-1.6 .8-.6 .8-1.6 .8-.8 .8-1.4 .8-.4 .8-1.3 .8-.1 .8-1.1 .8-.1 .8-1.5 .8-.5 .8-1.6 .8-.7 .8-1.5 .8-.5 .8-1.5 .8-.1 .8-1.3 .8-.1 .8-1.2 .8 .1 2.4-3.1 .8-.5 .8-1.2 .8-.2 .8-1.2 .8 .1 .8-1 .8 0 .8-.9 .8-.1 .8-1 .8 0 .8-1.1 .8 0 .8-.9 .8 .1 .8-.5 .8 .1 .8-.5 .8 .4 .8-.6 .8 .1 .8-.5 .8 .2 .8-.4 .8 .3 .8-.5 .8 .6 .8-.2 .8 .4 .8-.1 .8 .6 .8-.3 .8 .8 .8-.2 .8 .7 .8-.1 .8 1 .8-5.8 .8 11.5 .8-5 .8 1.1 .8-.2 .8 1 .8 .2 .8 1 .8 .3 .8 1.1 .8 .4 .8 1.1 .8 .2 .8 1.4 .8 .2 .8 1.3 .8 .3 .8 1 .8 .5 .8 1.2 .8 .4 .8 1.3 .8 .2 .8 1.6 .8 .4 .8 1.5 .8 .4 .8 1.6 .8 .2 .8 1.5 .8 .4 .8 1.4 .8 .5 .8 1.4 .8 .2 .8 1.3 .8 .3 .8 1.3 .8 .5 .8 1.8 .8 .3 .8 1.7 .8 .5 .8 1.5 .8 .3 .8 1.2 .8 .2 .8 .9 .8 .2 .8 1.3 .8 .3 .8 1.3 .8 .5 .8 1.6 .8 .5 .8 1.3 .8 .2 .8 1 .8 .1 .8 1.1 .8-.1 .8 1.3 .8 0 .8 1.1 .8 .3 .8 1.1 .8 .1 .8 1 .8 .1 .8 1 .8 .1 .8 1 .8 .2 .8 1.1 .8 .1 .8 .9 .8 0 .8 .5 .8-.4 .8 .6 .8-.2 .8 .7 .8 0 .8 .9 .8 .3 .8 1.2 .8 .2 .8 .7 1.6 .3 1.6-.3 .8-.5 .8 .5 .8-.3 .8 .9 .8 0 .8 1.1 .8 .1 .8 .8 .8-.3 .8 .4 .8-.4 .8 .2 .8-.3 .8 .4 2.4 .1 2.4 .7 .8-.1 4 .6" stroke="#63A00C"/>
<path d="M1209.0 1116.7l2.4-.2 4 0 2.4-.5 4-.4 .8-.4 .8 .1 .8-.6 .8 .1 .8-.5 .8 .2 .8-.4 .8 .5 .8-.4 .8 .3 .8-.6 .8 .3 .8-.8 .8-.1 .8-.9 .8 .1 .8-.5 .8 .2 .8-.7 .8 .2 .8-.7 .8 .1 .8-.8 .8-.1 .8-.9 .8 0 .8-.6 .8 .4 .8-.7 .8 .1 .8-.8 .8-.2 .8-1.1 .8-.2 .8-1.2 .8-.2 .8-.8 .8 0 .8-1.1 .8 .1 .8-.9 .8-.2 .8-1 .8-.2 .8-1.2 .8-.2 2.4-2 .8-.2 .8-1.4 .8-.5 2.4-3.4 .8-.5 .8-1 .8 0 .8-1.1 .8-.1 .8-1.1 .8-.4 .8-1.5 .8-.4 .8-1.6 .8-.6 .8-1.4 .8-.5 .8-1.4 .8-.4 .8-1.3 .8-.4 .8-1.6 .8-.3 .8-1.8 .8-.2 .8-1.3 .8-.2 .8-1.3 .8-.3 .8-1.3 .8-.5 .8-1.6 .8-.6 .8-1.6 .8-.4 .8-1.3 .8-.3 .8-1 .8-.2 .8-1.1 .8-.4 .8-1.4 .8-.1 .8-1.5 .8-.2 .8-1.1 .8-.1 .8-1.2 .8 .2 .8-1.1 .8 .1 .8-1.1 .8-.2 .8-1.2 .8 .1 .8-.9 .8 .1 .8-5.7 .8 11 .8-6.4 .8 .1 .8-.8 .8 .1 .8-.7 .8 .4 .8-.4 .8 .6 .8-.1 .8 .6 .8-.2 .8 .4 .8-.4 .8 .2 .8-.7 .8 .4 .8-.1 .8 .6 .8 0 .8 1 .8 .2 .8 1.1 .8 .1 .8-7.2 .8 15.6 .8-6.6 .8 .2 .8 1 .8 .2 .8 1.1 .8-.1 .8 1 .8-.1 .8 1 .8 0 .8 1.3 .8 .6 .8 1.4 .8 .7 .8 1.8 .8 .8 .8 1.4 .8 .1 .8 1.3 .8-.2 .8 1 .8 .3 .8 1.3 .8 .1 .8 1.7 .8 .4 .8 1.7 .8 .4 .8 1.6 .8 .5 2.4 3.9 .8 .5 .8 1.4 .8 .4 .8 1 .8 0 .8 1 .8 .1 .8 .9 .8 .4 4 6.5 1.6 1.6 .8 .2 .8 1 .8-.1 .8 1.1 .8-.1 .8 1.2 .8 .2 .8 .9 .8 .3 .8 1 .8 .4 .8 1 .8 .5 .8 1.4 .8 .3 .8 1.2 .8 .2 .8 .9 .8-.2 .8 .6 .8-.6 .8 .6 .8 0 .8 .8 .8 .2 2.4 2.4 .8 .1 .8 .9 .8-.3 .8 .9 .8-.5 .8 .7 .8-.2 .8 .8 .8-.1 .8 .6 .8-.4 .8 .6 .8-.2 .8 .6 .8-.1 .8 .8 .8-.1 .8 .8 .8 0 .8 .5 .8-.4 .8 .4 .8-.4 .8 .2 .8-.2 4 1.4 7.2 .3" stroke="#2F1DAF"/>
<path d="M1231.4 1116.7l2.4-.5 2.4 .1 1.6-.2 2.4-1 1.6-.2 .8 .5 .8-.2 .8 .3 .8-.5 .8-.1 .8-.7 .8 .1 .8-.7 .8 .2 .8-.5 .8 .3 .8-.8 .8 0 .8-.7 .8 .2 .8-.5 .8 .3 .8-.4 .8 .4 .8-.8 .8-.1 .8-1.1 .8-.3 .8-1 .8 0 .8-.5 .8 .2 .8-.7 .8 .3 .8-1.1 .8-.3 .8-1 .8-.1 .8-.8 .8 .2 .8-.7 .8 0 .8-1 .8-.3 .8-1.5 .8-.4 .8-1.4 .8-.2 .8-.9 .8 .1 .8-.8 .8-.2 .8-.9 .8-.2 .8-1.5 .8-.3 .8-1.4 .8-.6 .8-1.2 .8-.3 .8-1.3 .8-.4 .8-1.3 .8-.4 .8-1.1 .8-.2 .8-1.6 .8-.5 .8-1.5 .8-.2 .8-1.4 .8-.2 .8-1.3 .8-.3 .8-1.4 .8-.6 .8-2 .8-.7 .8-1.7 .8-.3 .8-1 .8 .1 .8-.9 .8-.2 .8-1.3 .8-.7 .8-1.9 1.6-2.6 .8-.4 .8-.8 .8 .2 .8-1 .8-.3 2.4-3.7 .8-.4 .8-1 .8 .2 .8-.6 .8 0 .8-.9 .8-.1 .8-1.7 .8-.7 .8-1.4 .8-.1 .8-.7 .8 .5 .8-.3 .8 .3 .8-.6 .8 0 .8-.8 .8-.2 .8-.7 .8 .3 .8-.3 .8 .3 .8-.4 .8 .4 .8-.5 .8 .2 .8-.5 .8 .5 .8-.1 .8 .7 .8 0 .8 1 .8-.3 .8 .7 .8 0 .8 .7 .8-.1 .8 .9 .8-.3 .8 .9 .8-.2 .8 1.1 .8 .2 .8 1 .8 .4 .8 1.6 .8 .1 .8 1.3 .8 .1 .8 1.1 .8 .2 .8 1.1 .8 .1 .8 1.4 .8 .3 .8 1.4 .8 .4 .8 1.4 .8 .1 .8 1.3 .8 .4 .8 1.8 .8 .4 .8 1.5 .8 .7 .8 1.2 .8 .3 .8 1.2 .8 .3 .8 1.2 .8 .5 .8 1.4 .8 .5 .8 1.5 .8 .5 .8 1.5 .8 .4 .8 1.5 .8 .5 .8 1.6 .8 .3 .8 1.2 .8 .3 .8 1 .8-.2 3.2 4.1 .8 1.6 .8 .3 .8 1.1 .8-.3 .8 1.1 .8 0 .8 1.2 .8 .6 .8 1.6 .8 .3 .8 1 .8-.1 .8 .4 .8-.4 .8 1 .8 .2 2.4 3.6 1.6 1.1 .8-.4 .8 .3 .8-.5 .8 .7 .8 .1 .8 1.3 .8 .3 .8 .9 .8 .1 .8 .5 .8-.4 .8 .5 .8-.2 .8 1 .8 0 .8 1.1 .8 0 .8 .7 .8-.4 .8 .4 .8-.6 .8 .3 .8-.3 .8 .7 .8 0 .8 1 .8 0 .8 .6 .8-.2 .8 .5 .8-.3 .8 .3 2.4-.1 4 .8 4.8 .4" stroke="#648FFF"/>
<path d="M1249.0 1116.7l4-.7 2.4 .2 4-1.2 4 .3 .8-.6 .8-.2 .8-.8 .8 .2 .8-.5 .8 .4 .8-.4 .8 .3 .8-.9 .8-.2 .8-1 .8 .1 .8-.4 .8 .6 .8-.3 .8 .5 .8-.7 .8-.2 2.4-2.7 .8-.2 .8-.7 .8 .3 .8-.8 .8 .1 .8-.8 .8 .1 .8-.6 .8 .1 .8-1 .8 0 .8-1.3 .8-.3 .8-1.2 .8-.3 .8-1.3 .8-.2 .8-.8 .8-.3 .8-1.1 .8-.1 .8-1.2 .8 0 .8-.9 .8 .2 .8-1.3 .8-.4 2.4-4.1 .8-.4 .8-1.4 .8 .2 .8-1 .8 0 .8-1.2 .8-.5 .8-1.7 .8-.6 .8-1.6 .8-.2 .8-1.2 .8-.1 .8-1.5 .8-.5 .8-1.5 .8-.8 .8-1.7 .8-.3 .8-1.4 .8-.1 .8-1.2 .8-.3 2.4-3.7 .8-.6 .8-1.2 .8-.1 .8-1.1 .8-.3 .8-1.1 .8-.6 .8-1.3 .8-.4 .8-1.5 .8-.3 .8-1.2 .8-.3 .8-1.3 .8-.3 .8-.8 .8 .2 .8-.7 .8 .2 .8-.9 .8-.3 .8-1.3 .8-.2 .8-1.2 .8-.1 .8-.6 .8 .3 .8-.5 .8-.1 .8-.7 .8-7 .8 12.6 .8-5.7 .8 0 .8 .8 .8-.2 .8 .4 2.4-1.7 1.6-.2 .8 1.1 .8 .3 .8 1.2 .8 0 .8 .8 .8-.3 .8 .6 .8 0 .8 .8 .8 .3 .8 1 .8-.1 .8 .8 .8 .1 .8 1 .8 0 .8 1.2 .8 .3 .8 1.4 .8 .3 .8 1.3 .8 .3 .8 1.4 .8 .1 .8 1.4 .8 .3 .8 1.3 .8 .1 .8 1.5 .8 .1 .8 1.5 .8 .5 .8 1.7 .8 .4 .8 1.6 .8 .2 .8 1.2 .8 .1 1.6 1.7 .8 2 1.6 2.4 .8 .6 .8 1.2 .8 0 .8 .8 .8 .1 .8 1.5 .8 .7 .8 1.7 .8 .3 .8 1.5 .8 .2 .8 1 .8 .3 .8 1.4 .8 .7 .8 1.8 .8 .4 .8 1.2 .8 .1 .8 .7 .8-.4 .8 1 .8 0 .8 1.4 .8 .5 .8 1.5 .8 .3 .8 1.2 .8 .4 .8 1.1 .8 .2 .8 .9 .8-.2 .8 .9 .8-.3 .8 .6 .8-.1 .8 1.1 .8 .1 .8 1.2 .8 .1 .8 .9 .8-.1 .8 .9 .8-.2 .8 1 .8 0 .8 1 .8-.2 .8 .5 .8-.5 .8 .3 .8-.5 4 3.2 .8-.4 .8 .4 .8-.7 1.6 .3 2.4 1.5 .8-.1 .8 .3 .8-.4 .8 .2 .8-.2 2.4 .8 2.4 .1 4 .6" stroke="#785EF0"/>
<path d="M1266.6 1116.7l3.2-.1 4-.8 2.4 .2 1.6-.4 .8-.6 .8 0 .8-.4 .8 .4 .8-.3 .8 .6 .8-.7 .8 0 .8-.8 .8 0 .8-.8 .8 .5 .8-.3 .8 .3 .8-.9 .8 0 .8-.9 1.6-.7 .8 .7 .8-.4 .8 .4 .8-.9 .8-.3 .8-1.2 .8-.3 .8-.9 .8 .3 .8-.6 .8 .4 .8-.9 .8-.2 .8-1.1 1.6-.9 .8 .2 .8-.6 .8 .1 1.6-1.9 .8-1.6 .8-.5 .8-1.1 .8 .2 .8-.6 .8 .2 1.6-1.4 .8-1.4 .8-.3 .8-1.4 .8 .1 .8-1 .8-.3 1.6-2.5 .8-1.8 1.6-1.5 .8 .2 .8-.6 .8 .2 .8-1.4 .8-.8 .8-1.8 .8-.9 .8-1.6 .8-.3 .8-1.1 .8-.2 .8-1.7 .8-.7 .8-1.6 .8-.4 .8-1.3 .8 .2 .8-.7 .8-.1 1.6-2.5 .8-2.1 1.6-2.3 .8-.2 .8-1.2 .8 .2 2.4-3.4 .8-.2 .8-1.2 .8 .2 .8-.8 .8-.2 .8-1.4 .8-.7 .8-1.7 1.6-1.7 .8 .3 .8-.6 .8 .3 .8-.9 .8-.2 .8-1.1 .8 0 .8-1 .8 .4 .8-.5 .8 .2 2.4-2.2 .8 .2 .8-.5 .8 .7 .8-.1 .8 .7 .8-.3 .8 0 .8-.5 1.6-.1 .8 .7 .8 0 .8 .9 .8-.2 .8 .4 .8-.3 .8 .8 .8-.2 .8 1.2 .8 .3 .8 1 .8 .1 .8 .7 .8 0 1.6 1 2.4 2.9 .8 .4 .8 .8 .8 0 .8 1.3 .8 .3 .8 1.2 .8 .5 .8 1.6 .8 .3 .8 1.2 .8 .2 .8 1.6 .8 .2 .8 1.7 .8 .6 .8 1.2 .8 .3 .8 1.4 .8 .1 .8 1.3 .8 .2 .8 1.7 .8 .8 .8 1.5 .8 .5 .8 1.6 .8 .4 .8 1.4 .8 .1 .8 1.4 .8 .2 .8 1.5 .8-.1 .8 1.4 .8 .4 .8 1.3 .8 .6 .8 1.5 .8 .4 .8 1.7 .8 .4 .8 1.1 .8 .3 .8 .9 .8 .1 .8 1 .8 0 .8 1 .8 .4 .8 1.1 .8 .5 .8 1.3 .8 .4 .8 1.3 .8 .1 .8 1 .8-.1 .8 1 .8-.3 .8 .9 .8 0 .8 .5 .8-.1 .8 .9 .8 .4 .8 1.2 .8 .3 .8 1.2 .8-.1 .8 .9 .8-.4 .8 .3 .8-.3 .8 .7 .8-.1 .8 .8 .8-.1 .8 .6 .8-.1 .8 .7 .8-.1 .8 1.1 .8 .2 .8 .7 .8-.4 .8 .3 .8-.6 1.6-.1 .8 .5 .8 .1 .8 .8 .8-.1 .8 .4 .8-.2 .8 .4 .8 0 2.4 .7 2.4-.4 1.6 .1 2.4 .7" stroke="#DC267F"/>
<path d="M1285.8 1116.6l2.4-.3 2.4 .3 4-1.3 1.6-.1 .8 .4 .8-.2 .8 .3 .8-.6 .8 0 .8-.7 .8 0 .8-.6 .8 .4 .8-.6 .8 .4 .8-.7 .8 .2 .8-.7 .8 .2 .8-.6 .8 .3 .8-.8 .8 0 2.4-1.5 .8 .2 .8-.6 .8 .1 .8-.7 .8 0 .8-.9 .8-.3 .8-1.2 .8 .1 .8-.8 .8 .4 .8-.5 .8 .1 1.6-1.3 2.4-3.3 .8 0 .8-.7 .8 .2 .8-.8 .8 .1 .8-1.1 .8-.3 .8-1.7 .8-.3 .8-1.4 .8-.5 .8-1.1 .8-.1 .8-1.2 .8 0 .8-1.4 .8 0 .8-1.2 .8-.3 .8-1.5 .8-.4 .8-1.7 .8-.9 .8-1.5 .8-.3 .8-1 .8-.2 1.6-1.1 1.6-2.1 .8-1.7 .8-.7 .8-1.8 .8-.3 .8-1.4 .8 0 .8-1.3 .8-.3 .8-1.4 .8-.7 .8-1.3 .8-.2 .8-1.3 .8-.2 .8-1.6 .8-.4 2.4-3.7 .8-.2 .8-.9 .8 0 .8-.9 .8 .1 .8-1.1 .8-.6 .8-1.5 .8-.3 .8-1.4 .8-.3 .8-.8 .8 .1 .8-.5 .8 0 .8-.6 .8 .1 .8-.7 .8 .1 .8-1 .8 0 .8-1 .8-.1 .8-.9 1.6 .2 .8 .7 .8 .1 .8 .8 .8-.3 .8 .2 2.4-1.6 .8 .4 .8 0 .8 1.2 .8 .4 .8 1.2 .8 .1 .8 .6 .8-.2 .8 .3 .8-.3 .8 1 .8 0 .8 1.3 .8 .1 .8 1.3 .8 .2 .8 1.2 .8 .3 .8 1.1 .8 .3 .8 1.3 .8 0 .8 1.3 .8 .1 .8 1 .8 .5 .8 1.6 .8 .5 .8 1.4 .8 .6 .8 1.2 .8 .1 .8 1.3 .8 .3 .8 1.4 .8 .6 .8 1.7 .8 .6 .8 1.2 2.4 1.8 .8 1.3 .8 .6 .8 1.7 .8 .6 .8 1.5 1.6 1.6 .8 .1 .8 1.2 .8 .1 .8 1.4 .8 .7 .8 1.6 .8 .4 .8 1.5 .8 0 .8 1.1 .8 .3 .8 1.3 .8 .3 .8 1.4 .8 .1 .8 1.2 .8 .1 .8 1.1 .8 .1 .8 1.2 .8 .3 .8 1.3 .8 .3 .8 .9 .8-.1 .8 .9 .8 0 .8 1.1 .8 .2 .8 1.1 .8 .1 .8 .8 .8-.1 .8 .5 .8 .1 .8 .7 .8 .3 .8 1.1 .8 .2 .8 1.1 .8-.5 .8 .5 .8-.6 .8 .3 .8-.1 .8 1 .8 .3 .8 1.2 .8 .2 .8 .7 1.6-.2 .8-.5 .8 .3 .8-.3 .8 .5 .8 0 .8 1 .8 0 .8 .6 .8 0 .8 .4 2.4-.3 .8 .2 .8-.2 1.6 .2 2.4 .9 1.6 .3 2.4-.3 2.4 .2" stroke="#FE6100"/>
<path d="M1303.4 1116.7l4.8-.1 5.6-1.4 .8 .2 .8-.3 .8 .2 .8-.3 .8 .4 .8-.2 .8 .1 1.6-.4 .8-.8 .8-.1 .8-.9 .8-.1 .8-.7 .8 .3 .8-.4 .8 .3 .8-.3 .8 .6 .8-.5 .8 .1 .8-.8 .8-.3 .8-.9 .8-.2 .8-1 .8 0 .8-.9 .8 .2 .8-.6 .8 .3 .8-.7 .8 0 .8-1 .8-.2 .8-.9 .8-.2 .8-1.1 .8-.2 .8-.9 .8 0 .8-.8 .8 .1 .8-1.1 .8-.2 .8-1.2 .8-.4 .8-1.5 .8-.4 .8-1.2 .8-.3 .8-.9 .8 .1 .8-1.1 .8 0 .8-1.2 .8-.2 .8-1.6 .8-.5 2.4-3.7 .8-.4 .8-1.3 .8-.1 .8-1.1 .8-.3 .8-1.3 .8-.5 .8-1.3 .8-.5 .8-1.7 .8-.4 .8-1.5 .8-.3 .8-1.4 .8-.2 .8-1.5 .8-.3 .8-1.6 .8-.6 .8-1.5 .8-.6 .8-1.5 .8-.1 .8-1.1 .8-.2 .8-1 .8-.1 .8-1.3 .8-.2 .8-1.8 .8-.6 .8-1.5 1.6-2 .8-.3 .8-.9 .8 .2 .8-.8 .8 .5 .8-.9 .8 0 .8-.9 .8-.3 .8-1.3 .8-.4 .8-1.2 .8-.1 .8-.9 .8 .4 .8-.4 .8 .4 .8-.4 .8 .5 .8-.6 .8 .2 .8-.7 .8 0 .8-.5 .8 .4 .8-.3 .8 .5 .8 0 .8 .7 .8-.2 .8 .9 .8-.4 .8 .5 .8-.2 .8 .5 .8-.2 .8 .8 .8 .1 .8 1 .8 .2 .8 1.3 .8 .3 .8 1.2 .8 .2 .8 .9 .8 .1 .8 .7 .8 .2 .8 .9 .8 .3 .8 1.2 .8 .3 .8 1.4 .8 .3 .8 1.8 .8 .4 .8 1.4 .8 .5 .8 1.5 .8 .3 .8 1.1 .8 .4 .8 1.2 .8 0 .8 1.4 .8 .1 5.6 8.3 .8 .5 .8 1.2 .8 0 .8 1.2 .8 .2 .8 1.1 .8 .4 .8 1.4 .8 .5 .8 1.5 .8 .6 .8 1.6 .8 .5 .8 1.1 .8 .3 .8 1 .8 .1 .8 1.1 .8 .3 .8 1.2 .8 .5 .8 1.2 .8 .3 .8 1.2 .8 0 .8 1 .8 .1 .8 1 .8 0 .8 1.1 .8 .2 .8 1 .8 .3 .8 1.3 .8 .2 .8 1 .8-.2 .8 .7 .8-.2 .8 .7 .8-.3 .8 .9 .8 0 .8 1 .8 0 .8 1 .8 .2 .8 .7 .8 0 .8 .4 .8 0 .8 .5 .8-.2 .8 .6 .8-.1 .8 .8 .8-.2 .8 .7 .8-.3 .8 .5 .8-.4 .8 .5 .8-.2 4 1.8 1.6 .3 4-.5 4 1.1" stroke="#FFB000"/>
<path d="M1321.0 1116.7l4.8 .1 4-1.3 .8 .2 2.4-.1 .8 .2 .8-.5 .8 0 .8-.5 1.6-.4 .8 .3 .8-.4 .8 .4 .8-.6 .8 .1 .8-1 .8 0 .8-.9 .8 .2 .8-.4 .8 .3 .8-.1 .8 .4 .8-.6 .8 0 .8-1.2 .8-.2 .8-1 .8-.2 .8-.7 .8 .2 .8-.5 .8 .4 .8-.8 .8 0 .8-.8 .8-.3 .8-1.3 .8-.3 .8-1 .8 .1 .8-.7 .8 .3 .8-1.1 .8 0 .8-1.2 .8-.3 .8-1.4 .8-.1 .8-1.2 .8-.2 .8-1.1 .8 .1 .8-1.1 .8-.1 .8-1.2 .8-.3 .8-1.5 .8-.3 .8-1.3 .8-.3 .8-1.5 .8-.4 .8-1.3 .8-.4 .8-1.3 .8-.5 .8-1.3 .8-.2 .8-1 .8-.4 .8-1.5 .8-.4 .8-1.5 .8-.7 2.4-3.5 .8-.3 .8-1.5 .8-.2 .8-1.4 .8-.3 .8-1.3 .8-.3 .8-1.5 .8-.4 .8-1.2 .8-.3 .8-1.6 .8-.4 .8-1.7 .8-.5 .8-1.4 .8-.4 .8-1.2 .8 0 .8-.8 .8 .2 .8-.9 .8 0 .8-1.3 .8-.5 .8-1.7 .8-.6 .8-1.3 .8-.2 .8-.7 .8 .4 .8-.3 .8 .4 .8-.6 .8 0 .8-.9 .8-.1 .8-1 .8-.1 .8-.7 .8 .3 .8-.4 .8 .5 .8-.5 .8 .4 .8-.4 .8 .4 .8-.5 .8 .7 .8 0 .8 .8 .8 0 .8 .8 .8-.3 .8 .3 .8-.3 .8 .3 .8-.3 .8 .9 .8 .1 .8 1.5 .8 .5 .8 1.5 .8 .3 .8 1.1 .8-.1 .8 .5 .8-.1 .8 .8 .8 0 .8 1.3 .8 .6 .8 1.4 .8 .6 .8 1.6 .8 .2 .8 1.3 .8 .2 .8 1.5 .8 .2 .8 1.2 .8 .3 .8 1.5 .8 .5 .8 1.4 .8 .3 .8 1.2 .8 .5 .8 1.5 .8 .5 .8 1.7 .8 .4 .8 1.5 .8 .5 .8 1.1 .8 .5 .8 1.3 .8 .4 .8 1.2 .8 .5 .8 1.4 .8 .4 .8 1.3 .8 .5 .8 1.1 .8 .5 .8 1.2 .8 .5 2.4 2.9 .8 .2 .8 1.1 .8 .2 .8 1 .8 .3 .8 1.1 .8 .5 .8 1.2 .8 .3 .8 1.2 .8-.1 .8 1 .8 0 .8 .8 .8 .1 .8 1 .8 .3 .8 1.4 .8 .1 .8 .9 1.6 .5 .8-.3 .8 .5 .8 0 1.6 1.2 .8 1.2 .8 .2 .8 1.1 .8-.1 .8 .4 .8-.4 .8 .2 .8-.5 .8 .6 .8 0 .8 1 .8 .1 .8 1 .8-.2 .8 .7 .8-.3 .8 .3 .8-.4 .8 .6 .8-.1 .8 .6 .8 0 .8 .4 .8-.2 .8 .2 .8-.3 1.6 .2 4 1.3 4-.3 2.4 .4" stroke="#63A00C"/>
<path d="M1342.6 1116.6l3.2-.5 2.4 .2 3.2-.9 .8-.5 .8 .2 .8-.4 .8 .4 .8-.2 .8 .4 .8-.4 .8 0 .8-.4 .8-.1 .8-.7 .8 0 .8-.7 .8 .1 .8-.7 .8 .2 .8-.7 .8 .2 .8-.5 .8 .4 .8-.8 .8 .2 .8-.7 .8 .1 .8-.9 .8-.1 .8-.7 .8 .1 .8-.7 .8 .1 .8-1.1 .8-.2 .8-1.1 .8-.2 .8-1.1 .8 .2 .8-.9 .8 .2 .8-.7 .8 0 .8-1.1 .8-.1 .8-1.1 .8-.3 .8-1.3 .8-.2 .8-1.1 .8-.3 .8-1.3 .8-.2 .8-1.3 .8-.2 .8-1.2 .8 0 .8-1.2 .8 0 .8-1.4 .8-.2 .8-1.6 .8-.4 .8-1.5 .8-.4 .8-1.1 .8-.2 .8-1.2 .8-.6 .8-1.7 .8-.7 .8-1.8 .8-.6 .8-1.5 .8 .3 .8-1 .8 .1 1.6-1.6 1.6-2.5 .8-2.1 1.6-2 .8-.4 .8-.9 .8 .1 .8-1.1 .8-.6 .8-1.7 .8-.7 .8-1.7 .8-.4 .8-.9 .8 .2 .8-.8 .8 0 .8-1 .8-.4 2.4-3.8 1.6-1.1 .8 0 .8-.6 .8 .1 .8-.8 .8-.1 .8-1 .8-.1 .8-.8 .8 .2 .8-.5 .8 .4 .8-.7 .8 .1 .8-.7 .8-.1 .8-.5 .8 .2 .8-.3 .8 .5 .8-.3 .8 .6 .8-.3 .8 .3 .8-.1 .8 .6 .8 0 .8 .9 .8 0 .8 .9 .8-.1 .8 .5 .8-.2 .8 .5 .8 0 1.6 1.1 .8 1.2 .8 .4 .8 1.3 .8 .2 .8 1 .8 .2 .8 1.1 .8 .2 .8 1.1 .8 .3 .8 1.4 .8 .3 .8 1.3 .8 .4 .8 1.2 .8 .3 .8 1.2 .8 .3 .8 1.3 .8 .4 .8 1.6 .8 .5 .8 1.6 .8 .6 .8 1.7 .8 .7 .8 1.3 .8 .2 .8 1.1 .8-.2 .8 1.4 .8 .1 .8 1.5 .8 .7 .8 2 .8 .7 .8 1.5 .8 .3 .8 .9 .8 0 .8 1.1 .8 .4 2.4 4.1 .8 .4 .8 1.3 .8 0 .8 .6 .8-.2 1.6 1.2 .8 1.4 .8 .7 .8 1.7 .8 .4 .8 1.3 .8-.2 .8 .8 .8-.1 .8 1 .8 0 .8 1.3 .8 .2 .8 1.1 .8 0 .8 .8 .8-.4 .8 .8 .8 0 .8 .9 .8 .2 .8 1.2 .8 .1 .8 .9 .8-.1 .8 .7 .8-.4 .8 .8 .8-.1 .8 .9 .8 0 .8 .7 .8-.4 .8 .5 .8-.5 .8 .6 .8-.3 2.4 2.2 .8 .1 .8 .6 .8-.4 .8 .1 .8-.5 1.6 .2 .8 .6 .8 0 .8 .5 1.6 .2 2.4-.2 4 1" stroke="#2F1DAF"/>
<path d="M1361.0 1116.7l4-.9 3.2 0 .8 .3 .8-.2 .8 .2 3.2-1.1 .8-.7 .8-.1 .8-.7 1.6-.2 .8 .4 .8-.3 .8 .5 .8-.4 .8 .2 .8-.6 .8 0 .8-.8 .8 0 .8-1 .8-.1 .8-.8 .8 .1 .8-.7 .8 .2 .8-.5 .8 .1 .8-.8 .8 .2 .8-1 .8-.1 .8-.9 .8-.1 .8-.8 .8-.1 .8-1 .8 .1 .8-1 .8 0 .8-.9 .8-.3 .8-1 .8-.2 .8-1.3 .8 0 .8-1.2 .8-.1 .8-1.2 .8-.1 .8-1.1 .8-.2 .8-1.1 .8-.4 .8-1.3 .8-.6 .8-1.3 .8-.3 .8-1.3 .8-.1 .8-1.2 .8-.1 .8-1.2 .8-.4 .8-1.4 .8-.5 2.4-3.9 .8-.5 .8-1.3 .8-.6 .8-1.1 .8-.2 .8-1.1 .8-.2 .8-1.3 .8-.4 .8-1.7 .8-.6 2.4-4 .8-.4 .8-1.4 .8-.2 .8-1.3 .8 0 .8-1 .8-.2 .8-1.3 .8-.3 .8-1.2 .8-.4 .8-1.3 .8-.5 .8-1.3 .8-.3 .8-1.3 .8-.1 .8-.9 .8-.3 .8-.9 .8 0 .8-1.1 .8 0 .8-.7 .8 .1 .8-.7 .8 0 .8-.6 .8 .3 .8-.7 .8 0 .8-.7 .8-.1 .8-.8 .8 .3 .8-.6 .8 .2 .8-.3 .8 .6 .8 .1 .8 .7 .8 .1 .8 .5 .8 0 .8 .4 .8-.3 .8 .4 .8-.2 .8 .5 .8-.2 .8 .9 .8 0 .8 1 .8 .3 .8 1.2 .8 .3 .8 1 .8 .3 .8-24.9 .8 41 .8-13.8 .8 .1 .8 1 .8 .3 .8 1.3 .8 .3 .8 1.3 .8 .4 .8 1.3 .8 .2 .8 1.2 .8 .4 .8 1.3 .8 .2 2.4 3.8 .8 .4 .8 1.6 .8 .4 .8 1.6 .8 .4 .8 1.3 .8 .1 .8 1.2 .8 .1 .8 1.3 .8 .6 .8 1.4 .8 .5 .8 1.6 .8 .7 .8 1.5 .8 .5 .8 1.3 .8 .4 .8 1.3 .8 .1 .8 1.1 .8 .4 .8 1.1 .8 .4 .8 1.3 .8 .3 .8 1.2 .8 .1 .8 1.3 .8 0 .8 1.3 .8 .3 .8 1.2 .8 .3 .8 1.3 .8 .1 .8 1.3 .8 .2 .8 1 .8-.1 .8 .8 .8-.2 .8 .7 .8-.2 .8 .9 .8-.1 .8 1.2 .8 .2 .8 1.3 .8 .3 .8 1.1 .8 .1 .8 .8 .8-.2 .8 .5 .8-.4 .8 .4 .8-.3 .8 .4 .8-.1 .8 .8 .8 .1 .8 .8 .8 0 .8 1 .8-.2 .8 .7 .8 0 .8 .4 .8-.3 .8 .4 .8-.2 .8 .4 .8-.3 2.4 .7 4 .4 2.4 .7 8 .3" stroke="#648FFF"/>
<path d="M1380.2 1116.8l4-1.1 2.4 .3 2.4-.5 .8 .3 .8-.3 .8 .2 .8-.6 .8-.1 .8-.9 .8-.2 .8-.6 .8 .4 .8-.2 .8 .7 .8-.5 .8 .3 .8-.9 .8 .1 .8-.8 .8 .2 .8-.7 .8 .2 .8-.9 .8-.1 .8-1 .8 0 .8-.7 .8 .4 .8-.5 .8 .3 .8-.9 .8 0 .8-1.2 .8-.2 .8-.8 .8 .3 .8-.7 .8-.1 .8-1.1 .8-.4 .8-1.1 .8-.3 .8-.9 .8 0 .8-.9 .8-.1 .8-.9 .8-.3 .8-1 .8-.2 .8-1 .8 0 .8-1.3 .8-.4 .8-1.8 .8-.7 .8-1.6 .8 0 .8-1.1 .8 .3 .8-1.1 .8 0 .8-1.4 .8-.4 .8-1.5 .8-.5 .8-1.3 .8-.7 .8-1.5 .8-.6 .8-1.8 1.6-2 .8 0 .8-.9 .8 .2 .8-1.3 .8-.4 .8-1.8 .8-.6 .8-1.8 .8-.6 .8-1.4 .8-.6 .8-1.2 .8-.5 .8-1.4 .8-.4 .8-1 .8 .2 .8-1.1 .8-.2 .8-1.4 .8-.6 .8-1.7 .8-.5 .8-1.3 .8-.2 .8-1 .8 .1 .8-1.2 .8-.3 .8-1 .8-.2 .8-.8 .8 .2 .8-.6 .8-.1 .8-1.1 .8-.1 .8-1.1 .8-.1 .8-.5 .8 .3 .8-.5 .8 0 .8-.8 .8 .1 .8-.6 .8-28.9 .8 52.3 .8-22.2 .8-.1 .8 .4 .8-.4 .8 .1 .8-.6 .8 .5 .8-.2 .8 .7 .8 0 .8 .6 .8-.3 .8 .8 .8 .2 .8 1.5 .8 .5 .8 1.2 .8 .2 .8 .6 .8-.5 .8 .8 .8-.3 .8 1.1 .8 .3 2.4 3.1 .8 .3 .8 1.6 .8 .5 .8 1.7 .8 .3 .8 1.3 .8 0 .8 .9 .8-.3 .8 1 .8 .4 2.4 4.5 .8 .6 .8 1.3 .8 .5 .8 1.4 .8 .5 .8 1.5 .8 .3 .8 1.3 .8-.1 .8 1.2 .8 .1 .8 1.6 .8 .5 .8 1.8 .8 .7 .8 1.5 .8 .4 .8 1 .8 .2 2.4 3.2 .8 .4 .8 1.1 .8 0 .8 1 .8 .2 .8 1.3 .8 .4 .8 1.3 1.6 1.8 .8 .1 .8 .9 .8 .3 2.4 2.7 .8 0 .8 .7 .8-.4 .8 .6 .8-.1 .8 1.3 .8 .4 .8 1.3 .8 .1 .8 1.1 .8 .1 .8 .8 .8 0 .8 .7 .8 .1 .8 .5 .8-.5 .8 .4 .8-.6 .8 .7 .8 .2 .8 1.2 .8 .3 .8 1.3 .8-.1 .8 .6 .8-.3 .8 .2 .8-.4 .8 .4 .8-.3 .8 .4 .8-.4 .8 .5 .8-.1 .8 .8 .8 .1 .8 .9 1.6 .4 1.6-.1 .8-.3 1.6 0 2.4 .6 .8-.2 3.2 .5" stroke="#785EF0"/>
<path d="M1396.2 1116.7l4.8 0 5.6-1.6 .8 .2 .8-.1 .8 .3 .8-.3 .8 .3 .8-.4 .8 .2 .8-.6 .8 .1 .8-.7 .8 .2 .8-.9 .8 .1 .8-.8 .8 .1 .8-.8 .8 .1 .8-.4 .8 .3 .8-.4 .8 .5 .8-.6 .8 .2 .8-.8 .8 0 .8-1.2 .8-.3 .8-.8 .8-.1 .8-.9 .8 .2 .8-.7 .8 .1 .8-.8 .8 0 .8-1.1 .8-.3 .8-.9 .8-.2 .8-.8 .8 .1 .8-.6 .8 .1 .8-1.1 .8-.2 .8-1.4 .8-.6 .8-1.7 .8-.5 .8-1.2 .8-.2 .8-1 .8 .3 .8-1.1 .8 .1 .8-1 .8-.2 .8-1.6 .8-.5 2.4-3.6 .8-.3 .8-1.6 .8-.3 .8-1.4 .8-.4 .8-1.3 .8-.3 .8-1.4 .8-.3 .8-1.3 .8-.2 .8-1.2 .8-.6 2.4-3.6 .8-.8 .8-1.4 .8-.5 .8-1.3 .8-.3 .8-1.2 .8-.3 .8-1.1 .8-.5 .8-1.6 .8-.4 .8-1.2 .8-.4 .8-1.1 .8-.2 .8-.9 .8-24.5 .8 45 .8-22.3 .8-1.4 3.2-3.2 .8 .1 .8-.6 .8 .4 .8-.6 .8 .2 .8-.6 .8-.1 .8-1.2 .8-.1 .8-1 .8-.3 .8-6.3 .8 11 .8-5.5 .8 .5 .8-.2 .8 .2 2.4-.1 .8 .5 .8-.4 .8 .7 .8-.3 .8 .8 .8-.3 .8 .6 .8-.3 .8 .6 .8-.1 .8 .8 .8 .1 .8 1.1 .8 .2 .8 1.1 .8 .1 .8 1.1 .8 .1 .8 .9 .8 .2 .8 1.1 .8 .4 .8 1.2 .8 .4 .8 1.4 .8 .1 .8 1 .8 .1 .8 1 .8 .2 .8 1.3 .8 .3 .8 1.7 .8 .8 .8 1.8 .8 .7 .8 1.6 .8 .3 .8 1.1 .8 0 .8 1 .8 .2 .8 1.3 .8 .3 .8 1.7 .8 .7 .8 1.6 .8 .7 .8 1.6 .8 .4 .8 1.3 .8 .1 .8 1.4 .8 .3 2.4 3.1 .8 .5 .8 1.3 .8 .2 .8 1.3 .8 .1 .8 1.3 .8 .2 .8 1.3 .8 .4 .8 1.2 .8 .4 .8 1.2 .8 .1 .8 1.1 .8 .1 .8 1.1 .8 .3 .8 1.1 .8 .2 .8 1 .8 0 .8 1 .8-.2 .8 .9 .8-.2 .8 .9 .8 .4 .8 1.1 .8 .2 .8 1.2 .8 .1 .8 1 .8-.3 .8 .5 .8-.4 .8 .5 .8-.4 .8 .7 .8 0 .8 1.2 .8 .1 .8 1 .8 0 .8 .8 .8-.4 .8 .4 .8-.4 .8 .5 .8-.2 .8 .5 .8-.1 .8 .9 .8-.2 .8 .7 .8-.3 .8 .4 .8-.3 5.6 1.2 6.4 .5" stroke="#DC267F"/>
<path d="M1413.8 1116.8l2.4-.4 4 .2 4-1 2.4-.3 .8-.5 .8 .2 .8-.5 .8 .4 .8-.2 .8 .6 .8-.4 .8 .1 .8-.9 .8-.2 .8-.8 .8 .2 .8-.6 .8 .3 .8-.7 .8 .1 .8-.8 .8 0 .8-.6 .8 .4 .8-.6 .8 .5 .8-.9 .8 0 .8-.9 .8-.2 .8-.9 .8 .2 .8-.7 .8 .1 .8-.9 .8-.3 .8-1.2 .8-.3 .8-1.1 .8 .2 .8-.7 .8 .3 .8-.9 .8 0 .8-1.3 .8 0 .8-1.1 .8-.1 .8-1.2 .8-.3 2.4-3.7 .8-.3 .8-1 .8 .1 .8-.9 .8 .3 .8-1.2 .8-.3 .8-1.5 .8-.4 .8-1.3 .8-.4 2.4-4 .8-.6 .8-1.8 .8-.2 .8-1 .8 .1 .8-.8 .8-.1 .8-1.6 .8-.5 .8-1.7 .8-.5 .8-1.8 .8-.4 2.4-3.6 .8-.6 .8-1.5 .8-.2 .8-1 .8 .1 .8-1.1 .8-.2 .8-1.5 .8-.7 .8-1.6 .8-.4 .8-1.1 .8-.3 .8-.9 .8-.2 .8-1.4 .8-.4 .8-1.3 .8-.1 .8-.9 .8 .1 .8-.8 .8-.2 .8-.9 .8-.3 .8-.9 .8 .2 .8-.7 .8 .2 .8-.5 .8-.1 2.4-1.9 .8 .2 .8-.2 .8 .5 .8-.3 .8 .3 .8-.4 .8 .4 .8-.2 .8 .6 .8-.1 .8 .8 .8-.4 .8 .4 .8-.5 .8 .4 .8-.1 .8 .9 .8 .3 .8 1.3 .8 0 .8 1 .8 0 .8 .7 .8 .1 .8 1.1 .8 .2 .8 1.2 .8 .1 .8 1.1 .8 .1 .8 1.1 .8 .2 2.4 3.8 .8 .3 .8 1.1 .8-.2 .8 1.2 .8 .2 .8 1.6 .8 .3 .8 1.8 .8 .6 .8 1.4 .8 .3 .8 1.5 2.4 2.6 .8 1.4 .8 0 .8 1 .8-.1 .8 1.3 .8 .6 .8 1.7 3.2 4.6 .8 .2 .8 1.2 .8 .5 .8 1.4 .8 .1 .8 1.3 .8-.2 .8 .8 .8 .3 .8 1.2 .8 .4 .8 1.8 .8 .7 .8 1.5 .8 .2 .8 1 .8 0 .8 1 .8 .2 .8 1 .8 .3 .8 .9 .8-.1 .8 .7 .8 0 .8 1.1 .8 .3 .8 1.2 .8 .3 .8 1.2 .8-.1 .8 .7 .8-.1 .8 .8 .8 .1 .8 1.1 .8 0 .8 .6 .8-.3 .8 .4 .8-.4 .8 .8 .8-.1 .8 .9 .8 .2 .8 .8 .8-.1 .8 .6 .8-.2 .8 .9 .8 .1 .8 .8 1.6-.1 .8-.6 .8 .2 .8-.6 .8 .5 .8 .1 .8 .8 1.6 .6 2.4 .2 .8 .5 .8-.1 .8 .2 4-.3 2.4 .6" stroke="#FE6100"/>
<path d="M1434.6 1116.7l5.6-.8 .8 .2 2.4-.4 .8 .2 .8-.3 .8 .1 .8-.4 .8 0 .8-.8 .8-.1 .8-.7 .8 .3 .8-.4 .8 .5 .8-.2 .8 .3 3.2-1.2 .8-.9 .8 .1 .8-.5 .8 .1 .8-.7 .8 .1 .8-1 .8-.2 .8-.9 .8 0 .8-.6 .8 .5 .8-.3 .8 .3 1.6-.6 .8-1.2 .8-.6 .8-1.7 .8-.3 .8-1.1 .8 0 .8-.6 .8 .5 .8-.6 .8 .1 .8-1.2 .8-.2 .8-1.5 .8-.4 .8-1.2 .8-.2 .8-1.1 .8 0 .8-1.1 .8-.4 .8-1.6 .8-.4 .8-1.5 .8-.4 .8-.9 .8 0 .8-1.1 .8 0 .8-1.3 .8-.5 2.4-4 .8-.3 .8-1.6 .8-.1 .8-1.2 .8-.4 .8-1.3 .8-.4 .8-1.4 .8-.5 .8-1.7 .8-.3 .8-1.3 .8-.4 .8-1.4 .8-.3 .8-1.5 .8-.3 .8-1.4 .8-.4 2.4-3.3 .8-.2 .8-1.6 .8-.6 .8-1.2 .8-.3 .8-1.1 .8 .1 .8-1 .8 0 .8-1.2 .8-.4 .8-1.2 .8-.3 .8-1.3 .8-.2 .8-.9 .8 0 .8-.8 .8 0 .8-.9 .8 0 .8-.8 .8 .1 .8-.5 .8 .3 .8-.2 .8 .4 .8-.6 .8 .1 2.4-1.9 1.6-.2 .8 .8 .8 .2 .8 1.1 .8 .1 .8 .7 .8-.2 .8 .4 .8-.6 .8 .6 .8-8.2 .8 14.7 .8-5.8 .8 1.1 .8 .2 .8 .8 .8-.2 .8 1 .8 0 .8 1.2 .8 .4 .8 1.4 1.6 2.1 .8 .3 .8 .8 .8-.1 .8 .9 .8-.1 3.2 3.9 .8 1.8 .8 .4 .8 1.3 .8 .5 .8 1.2 .8 .2 .8 1.4 .8 .2 .8 1.7 .8 .2 .8 1.8 .8 .1 .8 1.4 .8 .5 .8 1.5 .8 .2 .8 1.5 .8 .6 .8 1.3 .8 .4 .8 1.4 .8 .2 .8 1.4 .8 .4 .8 1.4 .8 .6 .8 1.5 .8 .1 .8 1.4 .8 .1 .8 1 .8 .3 .8 1.3 .8 .1 .8 1.4 .8 .3 .8 1.4 .8 .1 .8 1.2 .8 .1 .8 1.2 .8 .3 .8 1.1 .8 .4 .8 1.1 .8-.1 .8 .8 .8-.1 .8 .5 .8-.2 .8 .9 .8 .1 .8 1.4 .8 .5 .8 1.4 .8 .2 .8 .8 .8-.2 .8 .3 .8-.5 .8 .4 .8-.1 .8 .8 .8 .1 .8 1.1 .8-.1 .8 .8 .8-.4 .8 .7 .8-.2 .8 .8 .8 0 .8 1 .8-.2 .8 .9 .8-.6 .8 .4 .8-.7 .8 .1 .8-.4 4 2.3 1.6 .2 2.4-.4 4 .7 3.2 .2" stroke="#FFB000"/>
<path d="M1452.2 1116.7l4.8-.2 4-1.2 1.6 .2 .8 .5 .8-.3 .8 .1 .8-.6 .8-.1 .8-.9 1.6-.7 1.6 .4 .8 .5 1.6-.3 .8-.8 .8-.2 .8-.9 .8 0 .8-.6 .8 .5 .8-.4 .8 .2 .8-.5 .8 0 .8-1.2 .8-.3 .8-.9 .8 .1 .8-.6 .8 .3 .8-.5 .8 .3 .8-1.1 .8-.3 .8-1.1 .8-.3 .8-1.2 .8 .1 .8-1 .8 .2 .8-.7 .8 0 .8-1.1 .8-.3 .8-1.1 .8-.1 .8-1.3 .8-.1 .8-1.3 .8-.2 .8-1.3 .8-.3 .8-1.2 .8-.2 .8-1.2 .8 0 .8-1 .8-.2 .8-1.5 .8-.4 .8-1.7 .8-.5 .8-1.5 .8-.5 .8-1.2 .8-.2 .8-1.2 .8-.1 .8-1.3 .8-.3 .8-1.7 .8-.4 .8-1.6 .8-.6 2.4-3.7 .8-.3 .8-1.3 .8-.2 .8-1.1 .8-.2 1.6-1.6 .8-1.6 .8-.6 .8-2.1 .8-.7 .8-1.3 .8-.3 .8-.8 .8 .3 .8-.6 .8-.2 1.6-2.1 .8-1.8 .8-.6 .8-1.3 .8-.2 .8-.8 .8 .5 .8-.6 .8 .1 .8-1.1 .8-.3 .8-1.2 .8-.3 .8-.7 .8 .1 .8-.5 .8 .3 4-1.9 .8 .2 .8-.2 .8 .6 1.6 .3 .8-.3 .8 .1 .8-.6 .8 .4 .8-.3 .8 .8 .8 .1 .8 1 .8 .1 .8 .8 .8 0 .8 .6 .8-.2 .8 .6 .8-21.1 .8 35.1 .8-12.5 .8 1.3 .8 .1 .8 1.1 .8 .1 .8 1.1 .8 .1 .8 1.2 .8 .4 .8 1.3 .8 .3 .8 1.4 .8 .3 .8 1.2 .8 .1 .8 1.4 .8 .2 .8 1.5 .8 .2 .8 1.8 .8 .5 2.4 3.4 .8 .3 .8 1.6 .8 .2 .8 1.2 .8 .1 .8 1.3 .8 .3 .8 1.5 .8 .7 .8 1.7 .8 .8 .8 1.6 .8 .6 .8 1.1 .8-.3 .8 1 .8-.2 1.6 2 2.4 4.4 .8 .5 .8 1.1 .8-.3 .8 .8 .8-.1 .8 1.1 .8 .3 2.4 3.3 .8 .3 .8 1 .8 0 .8 .8 .8 .2 .8 1.1 .8 .3 .8 .9 1.6 .8 .8 0 .8 .7 .8 0 1.6 1.3 .8 1.2 1.6 1.2 .8-.1 .8 .4 .8-.6 .8 .3 .8-.2 .8 .9 .8 .3 .8 1.1 .8 .3 .8 .9 .8-.1 .8 .3 .8-.5 .8 .2 .8-.3 .8 .5 .8 .1 .8 .8 .8 0 .8 .8 .8-.2 .8 .4 .8-.3 .8 .3 .8-.1 .8 .4 .8-.1 .8 .4 .8-.2 2.4 .6 6.4 .6" stroke="#63A00C"/>
<path d="M1473.0 1116.7l2.4-.6 4-.2 2.4-.8 3.2 .1 .8 .5 .8-.5 .8 0 .8-1 .8-.2 .8-.8 1.6-.5 .8 .3 .8-.4 .8 .2 .8-.6 .8 .2 .8-.4 .8 .3 .8-.4 .8 .2 .8-.8 .8-.2 .8-1.3 .8-.4 .8-.9 .8-.1 .8-.8 .8 .5 .8-.6 .8 .4 .8-.8 .8 0 .8-1.2 .8 0 .8-1.1 .8-.1 .8-.9 .8-.2 .8-1.1 .8-.4 .8-1.1 .8-.2 .8-.8 .8-.1 .8-.9 .8-.1 .8-1.1 .8-.4 .8-1.6 .8-.4 .8-1.3 .8-.2 .8-.9 .8-.2 .8-1.1 .8-.2 .8-1.3 .8-.5 .8-1.6 .8-.5 .8-1.4 .8-.3 .8-1.1 .8-.5 .8-1.5 .8-.6 .8-1.6 .8-.3 .8-1 .8-.4 .8-1 .8-.4 .8-1.7 .8-.5 .8-1.8 .8-.5 .8-1.3 .8-.4 .8-1 .8-.2 .8-1.6 .8-.4 .8-1.8 .8-.4 .8-1.7 .8-.2 .8-1.2 .8 .1 .8-1.2 .8-.1 .8-1.4 .8-.2 .8-1.2 .8-.3 .8-.9 .8-.3 .8-1.3 .8-.4 .8-1.5 .8-.4 .8-1.2 .8 0 .8-.5 .8 .5 .8-.3 .8 .2 .8-.6 .8 0 .8-1 .8-.1 .8-18 .8 33.9 .8-17.6 .8 .2 .8-.7 .8 .2 .8-.4 .8 .4 .8 0 .8 .9 .8 .1 .8 .7 .8 0 .8 .3 .8-.4 .8 .1 .8-.4 .8 .6 .8 .1 .8 .9 .8 0 .8 1.1 .8-.1 .8 .8 .8 0 .8-4.8 .8 11.7 .8-4 .8 .4 .8 1.1 .8 .1 .8 .9 .8 .1 .8 1.2 .8 .1 .8 1.4 .8 .3 .8 1.3 .8 .2 .8 1.2 .8 0 .8 1.4 .8 .7 2.4 4.2 .8 .5 .8 1.2 .8 .2 .8 .9 .8 .1 .8 1.4 .8 .4 .8 1.6 .8 .2 .8 1.7 .8 .2 .8 1.6 .8 .5 .8 1.8 .8 .6 .8 1.8 .8 .2 .8 1.2 .8 .1 .8 .8 .8 .1 .8 1.3 .8 .3 2.4 3.8 .8 .4 .8 1 .8 .2 .8 1.1 .8 .1 .8 1.3 .8 .3 .8 1.2 .8 .1 .8 1 .8 .1 .8 1.2 .8 .1 .8 1.4 .8 .4 .8 1.1 .8 0 .8 .6 .8-.3 .8 .6 .8-.1 .8 1.1 .8 .2 .8 1.4 .8 .1 .8 .9 1.6 .6 .8 0 .8 .8 .8-.1 .8 .9 .8-.1 .8 .6 .8-.3 .8 .6 .8-.3 1.6 .6 2.4 1.7 .8-.2 .8 .3 .8-.3 .8 .5 .8-.2 .8 .7 .8 .1 .8 .7 .8-.2 .8 .2 .8-.5 1.6 .1 4 1.1 3.2 .5 6.4 0" stroke="#2F1DAF"/>
<path d="M1490.6 1116.6l2.4-.5 4 .3 .8-.4 .8 0 2.4-1.1 .8 0 .8-.3 4 .4 .8-.7 .8 .1 .8-.8 .8-.2 .8-.6 .8 .1 .8-.5 .8 .3 .8-.5 .8 .4 .8-.8 .8 0 .8-.9 .8 0 .8-1 .8 0 .8-.5 .8 .2 .8-.7 .8 .2 .8-.6 .8 0 .8-1 .8-.1 .8-1 .8-.3 .8-1.1 .8-.1 .8-1 .8-.1 .8-.7 .8-.2 .8-1 .8 0 .8-.8 .8-.2 .8-1 .8-.1 .8-1.2 .8-.3 .8-1.3 .8-.5 2.4-3.2 .8-.1 .8-1.4 .8 0 .8-.8 .8-.1 .8-1.1 .8-.3 .8-1.5 .8-.5 .8-1.8 .8-.6 .8-1.4 1.6-1.7 .8-.3 .8-1.4 .8-.2 .8-1.5 .8-.4 .8-1.8 .8-.3 .8-1.7 .8-.2 .8-1.2 .8-.2 .8-1 .8-.3 .8-1.3 .8-.7 .8-1.8 .8-.6 .8-1.8 .8-.8 .8-1.4 .8-.2 .8-.9 .8 0 .8-.6 .8-.1 .8-1 .8-.3 2.4-3.4 .8-.5 .8-1.3 .8 0 .8-1.2 .8 .1 .8-.7 .8-.2 .8-.8 .8 .2 .8-.7 .8 0 .8-.6 .8 0 .8-.4 .8 .1 .8-.6 .8-5.1 .8 8.7 .8-4.2 .8-.7 .8 .2 .8-.4 .8 .4 .8-.3 .8 .7 .8 0 .8 .7 .8-.2 .8 .7 .8-.1 .8 .7 .8 0 .8 .7 .8-.2 .8 .7 .8 0 .8 .5 .8-.2 .8 .8 .8 .1 .8 1 .8 .5 .8 1.3 .8 .5 .8 1.6 .8 .6 .8 1.3 .8 .1 .8 1 .8-.3 .8 .7 .8 .1 1.6 1.5 .8 1.6 .8 .6 .8 1.7 .8 .7 .8 1.5 .8 .5 .8 1.4 .8 .2 .8 1.2 .8 .3 .8 1.4 .8 .4 .8 1.4 .8 .5 .8 1.6 .8 .1 .8 1.3 .8 .3 .8 1.2 .8 .2 2.4 4 .8 .7 .8 1.7 .8 .5 .8 1.4 .8 .1 .8 .9 .8-.1 .8 1 .8 0 .8 1.1 .8 .5 .8 1.4 .8 .6 .8 1.6 .8 .4 .8 1.3 .8 .3 .8 1 .8 .2 .8 .9 .8 .2 .8 1 .8-.1 .8 .8 .8 .1 .8 .9 .8 0 .8 1.1 .8-.1 .8 1.2 .8 .2 .8 1.3 .8 .1 .8 1.1 .8-.2 .8 .7 .8-.3 .8 .7 .8-.2 .8 .7 .8-.2 .8 1 .8 0 .8 .7 .8-.2 .8 .6 .8 0 .8 .6 .8-.2 .8 .6 .8 .2 .8 .8 .8 0 .8 .7 .8-.2 .8 .4 .8-.6 .8 .1 .8-.4 .8 .4 .8-.1 2.4 1.3 1.6 .6 1.6 .1 2.4-.4 1.6 .1 2.4 .6" stroke="#648FFF"/>
<path d="M1509.8 1116.8l4-.9 2.4 .3 4-1.3 1.6-.2 .8 .3 .8-.2 .8 .2 .8-.4 .8 .1 .8-.7 .8 .1 .8-.9 .8-.1 .8-.7 .8 0 .8-.5 .8 .5 .8-.2 .8 .3 .8-.4 .8 .1 .8-1.1 .8-.3 .8-1.1 .8-.1 .8-1 .8 .3 .8-.4 .8 .3 .8-.6 .8-.2 .8-1.2 .8-.1 .8-.9 .8 .1 .8-.9 .8 .2 .8-.9 .8-.2 .8-1.5 .8-.4 .8-1.3 .8-.1 .8-.7 .8 .2 .8-.8 .8-.1 .8-1.4 .8-.3 .8-1.5 .8-.5 .8-1.1 .8 0 .8-1 .8-.3 .8-1.2 .8-.5 .8-1.8 .8-.6 .8-1.4 .8-.2 .8-.9 .8 0 .8-1 .8-.3 .8-1.6 .8-.6 .8-1.9 .8-.7 .8-1.7 .8-.4 .8-1.2 .8-.1 .8-1.3 .8-.1 .8-1.1 .8-.6 .8-1.3 .8-.4 .8-1.7 .8-.7 .8-1.9 .8-.5 .8-1.4 .8-.2 .8-.9 .8 .1 .8-1.4 .8-.1 .8-1.6 .8-.6 .8-1.5 .8-.3 .8-1.1 .8-.1 .8-.8 .8 0 .8-1.2 .8-.5 .8-1.4 .8-.5 .8-1.1 .8 .2 .8-.7 .8 .5 .8-.6 .8 .1 .8-1 .8-.2 .8-1.1 .8 0 .8-.8 .8 .4 .8-.5 .8 .4 .8-.6 .8 .2 .8-.4 .8 .2 .8-.2 .8 .7 .8 0 .8 .6 1.6-.1 .8-.5 .8 .2 .8-.4 .8 .9 .8 .1 .8 1.4 .8 .3 .8 1 .8 0 .8 .9 .8-.2 .8 .7 .8-.2 .8 1.2 .8 .1 2.4 2.7 .8 .2 2.4 3.1 .8 .1 .8 1.2 .8 .3 .8 1.2 .8 .5 .8 1.5 .8 .3 .8 1.7 .8 .2 .8 1.3 .8 .1 .8 .9 .8 .5 1.6 2.1 .8 2 .8 .7 .8 2 .8 .1 .8 1.3 .8-.2 .8 .8 .8 0 .8 1.4 .8 .7 .8 1.9 .8 .8 .8 1.6 .8 .3 .8 1.2 .8 .2 .8 1.3 .8 .1 .8 1.5 .8 .5 .8 1.3 .8 .2 .8 1 .8 .1 .8 1.1 .8 .2 2.4 3.6 .8 .3 .8 1 .8-.1 .8 .8 .8-.2 .8 1 .8 .4 .8 1.3 .8 .1 .8 1.1 .8 0 .8 .7 .8 .1 .8 .8 .8 0 .8 1.2 .8 .1 .8 1 .8 0 .8 .6 .8-.1 .8 .5 .8-.2 .8 .8 .8-.1 .8 .7 .8 0 .8 .9 .8 .1 .8 .9 .8 0 .8 .9 .8-.2 .8 .3 .8-.6 .8 .1 .8-.6 .8 .6 .8 0 .8 1 1.6 1.2 1.6 .2 .8-.5 .8 .1 .8-.4 4 1.3 2.4-.2 3.2 .5" stroke="#785EF0"/>
<path d="M1529.0 1116.8l5.6-1.5 1.6 0 .8 .3 .8-.1 .8 .4 .8-.2 .8 .3 .8-.6 .8 .2 4-2.7 .8 0 .8-.6 .8 .3 .8-.3 .8 .6 .8-.5 .8 .6 .8-.4 .8 .2 .8-.9 .8 0 .8-1 .8-.3 .8-1.1 .8-.4 .8-.9 .8-.1 .8-.7 .8 .2 .8-.5 .8 .2 .8-.6 .8 .4 .8-.7 .8 0 .8-1.1 .8-.2 .8-1.4 .8-.3 .8-1.4 .8-.5 .8-1.1 .8-.4 .8-.9 .8 .1 .8-1 .8 .1 .8-.9 .8 .1 .8-1 .8-.2 .8-1.4 .8-.3 .8-1.6 .8-.6 .8-1.6 .8-.7 .8-1.3 .8-.4 .8-1.2 .8-.1 .8-1.3 .8 .1 .8-1.3 .8-.2 .8-1.3 .8-.3 .8-1.7 .8-.4 .8-1.8 .8-.5 2.4-3.9 .8-.4 2.4-2.7 .8-.2 .8-1.1 .8-.2 .8-1.4 .8-.4 .8-1.4 .8-.6 2.4-3.6 .8-.4 .8-1.4 .8-.3 .8-1.2 .8 0 2.4-2.1 .8-.1 .8-1 .8-.2 .8-1.1 .8-.2 .8-1.2 .8-.2 .8-1 .8-.2 .8-.7 .8-.1 .8-.7 .8 .4 .8-.7 .8 .3 .8-.6 .8 .3 .8-.5 .8 .2 .8-.5 .8 .2 .8-.5 .8 .3 .8-.6 .8 .5 .8-.3 .8 .6 .8-.1 .8 .7 .8-.1 .8 .7 .8-.1 .8 .9 .8-.1 .8 .8 .8-.2 .8 .9 .8-.1 .8 1.1 .8-.1 .8 1 .8 .3 .8 1.2 .8 .1 .8 1.2 .8 .3 .8 1 2.4 1.8 .8 1.3 .8 .3 .8 1.3 .8 .2 2.4 3.1 .8 .5 .8 1.3 .8 .4 .8 1.4 .8 .6 2.4 3 .8 .3 .8 1.6 .8 .2 .8 1.5 .8 .5 .8 1.4 .8 .5 .8 1.4 .8 .5 .8 1.5 .8 .4 .8 1.2 .8 .4 .8 1.5 .8 .2 .8 1.3 .8 .2 .8 1.5 .8 .3 .8 1.3 .8 .2 .8 1.6 .8 .1 .8 1.5 .8 0 .8 1.5 .8 .1 .8 1.1 .8 .1 .8 1.2 .8 .2 .8 .9 .8 .2 .8 1.2 .8 .2 .8 1 .8 .2 .8 1 .8 .2 .8 .9 .8 .2 .8 1 .8-.2 .8 1 .8 0 .8 .6 .8 .1 .8 .7 .8 0 .8 .9 .8 0 .8 .9 .8-.1 .8 .7 .8 .1 .8 .6 .8-.2 .8 .7 .8-.1 .8 .5 .8 0 .8 .6 .8-.3 .8 .6 2.4 .4 .8 .6 .8-.3 .8 .7" stroke="#DC267F"/>
<path d="M1543.4 1116.6l2.4 0 2.4 .3 1.6-.3 4-1.4 .8 .2 .8-.2 2.4 .8 .8-.4 .8 .1 2.4-1.8 1.6-.5 .8 .3 .8-.5 .8 .4 .8-.3 .8 .2 .8-.6 .8-.1 .8-.9 .8 .1 .8-.7 .8 0 .8-.5 .8 .3 .8-.6 .8 .1 .8-.7 .8-.2 .8-1 .8 0 .8-1.1 .8-.2 .8-.8 .8 0 .8-.7 .8 .2 .8-.7 .8-.1 .8-.9 .8 0 .8-1.1 .8-.2 .8-1.2 .8-.3 2.4-2.5 .8-.2 .8-1.2 .8-.2 .8-1 .8 0 .8-1.3 .8 0 .8-1.2 .8-.2 .8-1.4 .8-.4 .8-1.4 .8-.6 .8-1.7 .8-.4 .8-1.2 .8-.3 .8-1.1 .8-.4 .8-1.1 .8-.2 .8-1.6 .8-.2 2.4-3.7 .8-.5 .8-1.4 .8-.3 .8-1.3 .8-.3 .8-1.7 .8-.2 2.4-3.8 .8-.4 .8-1.3 .8 0 .8-1.2 .8 0 .8-1.4 .8-.4 .8-1.5 .8-.3 .8-1.7 .8-.4 .8-1.5 .8-.2 .8-1 .8 0 .8-.9 2.4-1 .8-1.1 .8-.3 .8-1.1 .8 0 .8-1.1 .8 .1 .8-.9 .8 .2 .8-.8 .8 .2 .8-.8 .8 .2 .8-.7 .8 .1 .8-.4 .8 .4 .8-.1 .8 .4 .8-.1 .8 .3 .8-.5 .8 .3 .8-.6 .8 .4 .8-.5 .8 .7 .8-.1 .8 1.1 .8 .2 .8 1 .8 0 .8 1.1 .8-.3 .8 .9 .8-.3 .8-18.6 .8 32.7 .8-12.1 .8 .2 2.4 3 .8 0 .8 1.1 .8 0 .8 1 .8 .2 3.2 4.1 .8 1.7 .8 .5 .8 1.3 .8 .1 .8 1 .8-.2 .8 1.3 .8 0 .8 1.7 .8 .5 .8 2 .8 .7 .8 1.8 .8 .7 .8 1.4 .8 .2 .8 1.2 .8-.2 .8 1.3 .8 .1 .8 1.4 .8 .5 .8 1.6 .8 .6 .8 1.7 .8 .5 .8 1.3 .8 .3 .8 1 .8 .3 .8 1 .8 .3 2.4 3.3 .8 .1 .8 1.4 .8 0 .8 1.3 .8 0 .8 1 .8-.2 .8 1.3 .8 .2 .8 1.2 .8 .3 .8 1.3 .8 .1 .8 1.2 .8 .1 .8 .8 .8-.1 .8 .6 .8 0 .8 .6 .8-.1 .8 .9" stroke="#FE6100"/>
<path d="M1565.8 1116.7l4-.8 .8 .2 1.6-.2 2.4-.8 .8 .2 .8-.1 .8 .5 .8-.2 .8 .3 2.4-2 1.6-.8 .8 .5 .8-.4 .8 .4 .8-.8 .8 0 .8-.7 .8 .1 .8-.4 .8 .3 .8-.1 .8 .2 .8-.9 .8 0 .8-1 .8-.3 .8-1 .8 0 .8-.9 .8-.2 .8-.8 .8-.1 .8-.5 .8 .1 .8-.5 .8 .2 .8-.8 .8-.3 .8-1.3 .8-.2 .8-.9 .8-.1 .8-.9 .8-.1 .8-1.4 .8-.7 .8-1.5 1.6-1.5 .8 .3 .8-.6 .8 .2 .8-1.2 .8-.2 .8-1.6 .8-.4 .8-1.5 .8-.2 .8-1.4 .8-.1 .8-1.7 .8-.4 .8-1.7 .8-.7 .8-1.3 .8-.4 .8-1.2 .8 0 .8-1.3 .8-.3 .8-1.2 .8-.1 .8-1.4 .8-.4 .8-1.6 .8-.6 .8-2.1 .8-.8 .8-1.5 .8-.3 .8-1.1 .8 0 .8-1.5 .8-.4 .8-1.6 .8-.3 .8-1.4 .8 .2 .8-.9 .8 0 .8-1.2 .8-.7 2.4-4.2 .8-.3 .8-1 .8 .1 .8-.8 .8-.2 2.4-2.1 .8 .2 .8-.6 .8 0 .8-.8 .8-.2 .8-.9 .8 0 .8-.9 .8 .1 .8-.7 .8-17.9 .8 34.7 .8-17.6 .8-.5 .8 .6 .8 .1 .8 .8 1.6 .4 .8-.5 .8 .1 .8-.4 .8 .5 .8-.2 .8 1 .8 0 .8 .6 .8-.5 .8 .6 .8-.4 .8 1 .8 .3 .8 1.5 .8 .5 .8 1.1 .8 .1 .8 1.1 .8-.1 .8 .9 .8 .1 .8 1.1 .8 .4 .8 1 .8 0 .8 1.2 .8 .3 .8 1.3 .8 .6 .8 1.5 .8 .4 .8 1.3 .8 .4 1.6 2.1 .8 1.7 .8 .4 .8 1.4 .8 0 .8 1 .8 0 1.6 1.8 2.4 4.2 .8 .3 .8 1.3 .8 .3 .8 1.2 .8 .5 2.4 3.9 .8 .2 .8 1.3 .8-.1 .8 .9 .8 .3 .8 1.4 .8 .5 2.4 3" stroke="#FFB000"/>
<path d="M1583.4 1116.7l8-.9 2.4-.9 .8 .2 .8-.3 .8 .2 .8-.3 .8 .4 .8-.3 .8 .4 .8-.7 .8 .2 .8-1 .8 0 .8-1.1 .8 0 .8-.8 .8 .3 .8-.5 .8 .4 .8-.4 .8 .4 .8-.4 .8 .1 .8-.7 .8-.2 .8-1 .8-.1 .8-1.1 .8-.1 .8-.9 .8 0 .8-.7 .8 .2 .8-.8 .8 .1 .8-.9 .8-.1 .8-.9 .8-.2 .8-.9 .8-.2 .8-1.1 .8 0 .8-1.3 .8-.2 .8-1 .8-.2 .8-1.4 .8-.3 .8-1 .8-.1 .8-1.2 .8-.1 .8-1.2 .8-.2 .8-1.1 .8-.5 .8-1.2 .8-.5 .8-1.5 .8-.5 .8-1.7 .8-.1 .8-1.4 .8-.3 .8-1.2 .8-.1 .8-1.2 .8-.5 .8-1.3 .8-.4 .8-1.9 .8-.7 .8-1.6 .8-.5 .8-1.3 .8-.5 .8-1.1 .8-.1 .8-1.2 .8-.3 .8-1.1 .8-.6 .8-1.4 .8-.6 .8-1.9 .8-.4 .8-1.6 .8-.4 .8-1.4 .8 0 .8-1.1 .8 .1 .8-1.1 .8 .1 .8-1.4 .8-.2 .8-1.3 .8-.3 .8-1.3 .8-.3 .8-1.1 .8-.2 .8-1 .8 .2 .8-.8 .8 .2 .8-.8 .8-.1 .8-.6 .8 0 .8-.6 .8 0 .8-.6 .8 .3 .8-.6 .8 .4 .8-.5 .8 .2 .8-.5 .8 .3 .8-.4 .8 .3 .8-.3 .8 .7 .8 0 .8 .7 .8 0 .8 .9 .8-.1 .8-4.4 .8 10.1 .8-4.5 .8 0 .8 .8 .8 0 .8 .9 .8 .1 4 3.9 .8 .2 .8 1 .8 .3 .8 1.3 .8 .2 .8 1.4 .8 .5 .8 1.4 .8 .4 .8 1.4 .8 .3 .8 1.2 .8 .2 .8 1 .8 .2 .8 1.3 .8 .3 .8 1.8 .8 .3 .8 1.8" stroke="#63A00C"/>
<path d="M1602.6 1116.7l2.4-.6 3.2-.2 .8 .2 .8-.3 .8 .1 .8-.5 .8 .2 .8-.5 .8 .2 .8-.4 .8 .3 .8-.4 .8 .1 .8-.6 .8-.1 .8-.7 .8 0 .8-.7 .8 .3 .8-.4 .8 .4 .8-.2 .8 .3 .8-.5 .8 0 .8-1.1 .8-.3 .8-.9 .8-.3 .8-.8 .8 .2 .8-.5 .8 .2 3.2-1.1 .8-.9 .8-.1 .8-.9 .8-.3 2.4-2.2 .8-.3 .8-1.1 .8-.3 .8-.8 .8 .1 .8-.9 .8 .2 .8-.8 .8-.1 .8-1.2 .8-.4 .8-1.7 .8-.6 .8-1.6 .8-.4 .8-1.5 .8 .1 .8-1.1 .8 .1 .8-.9 .8 .1 .8-1.4 .8-.3 .8-1.6 .8-.6 .8-1.8 .8-.5 .8-1.7 .8-.2 .8-1.5 .8-.2 .8-1.4 .8-.4 .8-1.4 .8-.2 .8-1.3 .8-.3 .8-1.1 .8-.6 .8-1.4 .8-.6 .8-1.8 .8-.5 .8-1.6 .8-.6 .8-1.5 .8 0 .8-1.1 .8-.1 .8-.9 .8-.1 .8-1.5 .8-.5 2.4-3.4 .8-.4 .8-1 .8-.1 .8-.9 .8-.1 .8-.9 .8-.3 .8-1.1 .8 0 .8-1.1 .8-.1 .8-.8 .8 .4 .8-.9 .8 .3 .8-.9 .8-.1 .8-.8 .8 .1 .8-.8 .8 .2 .8-.2 .8 .3 .8-.2 .8 .5 .8-.2 .8 .3 .8-.3 .8 .2 .8-.2 .8 .4 .8-.2 .8 .8 .8 0 .8 .7 .8 0 .8 .6 .8-.2 .8 .7 .8 0 .8 1 .8 .2 2.4 3" stroke="#2F1DAF"/>
<path d="M1621.8 1116.7l2.4-.7 2.4 .1 4-.8 .8 .2 .8-.5 .8 .1 .8-.5 .8 .2 .8-.6 .8 .2 .8-.3 .8 .3 .8-.5 .8 .1 .8-.7 .8-.2 .8-.9 .8 .1 .8-.4 .8 .8 .8-.5 .8 .2 .8-.9 .8-.3 .8-1.1 .8-.1 .8-.7 .8 .2 .8-.4 .8 .1 .8-.8 .8-.3 .8-.9 .8-.1 .8-.8 .8 .3 .8-.8 .8 0 .8-.8 .8-.2 2.4-2.7 .8-.1 .8-1.4 .8-.2 .8-1 .8-.1 .8-1.1 .8 .3 .8-.9 .8 .1 .8-1.3 .8-.3 2.4-3.9 .8-.1 .8-1.2 .8-.2 .8-1.1 .8-.6 .8-1.5 1.6-2 .8-.1 .8-.8 .8 .1 1.6-1.6 .8-1.7 .8-.9 .8-2 .8-.7 .8-1.4 .8-.4 .8-1.1 .8-.2 .8-1.4 .8-.5 .8-1.2 .8-.1 .8-1.2 .8-.3 .8-1.6 .8-.6 .8-1.7 .8-.5 .8-1.4 .8-.4 .8-1.2 .8-.5 .8-1.4 .8-.4 .8-1.3 .8-.1 .8-.7 .8 .4 .8-.7 .8-.2 .8-1.3 .8-.6 .8-1.7 .8-.5 .8-1.1 .8 .3 .8-.8 .8 .3 .8-.8 .8 .1 .8-1 1.6-.5 .8 .4 .8-.4 .8 .3 .8-.5 .8 0" stroke="#648FFF"/>
<path d="M1639.4 1116.8l4-.9 4 .3 4-1.7 .8 .2 .8-.2 .8 .3 .8-.3 .8 .4 .8-.7 .8 .1 2.4-1.7 .8 .1 .8-.6 .8 .4 .8-.4 .8 .3 .8-.8 .8 .1 .8-.7 .8 .2 .8-.9 .8 0 .8-.9 .8 0 .8-.9 .8 0 .8-1.1 .8 0 .8-.6 .8 .1 .8-.7 .8 .3 .8-.7 .8-.1 .8-1.1 .8-.3 .8-1.6 .8-.4 .8-1.1 .8-.1 .8-.9 .8 .1 .8-.9 .8 .1 .8-1 .8-.3 .8-1.4 2.4-2.1 .8-1.1 .8-.2 .8-1.2 .8-.3 .8-1.4 .8-.5 .8-1.7 .8-.4 .8-1.3 .8-.1 .8-1 .8-.1 .8-1.3 .8-.2 .8-1.4 .8-.6 .8-1.9 .8-.6 .8-1.8 .8-.5 .8-1.4 .8-.2 .8-1.5 .8-.1 .8-1.4 .8 0 .8-1.3 .8-.2 .8-1.4 .8-.4 .8-1.4 .8-.7 .8-1.7 .8-.8 .8-1.7 .8-.5 .8-1.1 .8 0 .8-.8 .8 .2" stroke="#785EF0"/>
<path d="M1657.0 1116.7l6.4-.5 1.6-.2 2.4-1 .8 .1 .8-.3 2.4 .3 .8-.2 .8 .3 .8-.6 .8 .2 .8-.9 .8 0 .8-.9 .8 0 .8-.7 .8 .1 .8-.5 .8 .4 .8-.5 .8 .3 .8-.5 .8 .1 .8-.7 .8 .1 .8-1 .8-.1 .8-.9 .8 .1 .8-1 .8 .1 .8-.9 .8-.2 .8-.9 .8-.1 .8-.8 .8 .2 .8-.9 .8 .2 .8-.9 .8 0 .8-.9 .8-.2 .8-1.3 .8-.4 .8-1.5 .8-.4 .8-1.4 .8-.1 .8-1.2 .8 .2 .8-.9 .8 .2 .8-.9 .8 .1 .8-1.2 .8-.5 2.4-4.2 .8-.8 .8-1.4 .8-.4 .8-1.2 .8 .1 .8-1.1 .8 .1 .8-1.2 .8-.2 .8-1.4 .8-.5" stroke="#DC267F"/>
<path d="M1676.2 1116.7l2.4-.5 2.4 .3 1.6-.1 2.4-1.3 1.6-.4 1.6 .1 .8 .5 .8-.2 .8 .4 .8-.6 .8 .1 .8-.9 .8 0 .8-.6 .8 .3 .8-.6 .8 .1 .8-.7 .8-.1 .8-.8 .8-.1 .8-.6 .8 .3 .8-.4 .8 .4 .8-.3 .8 .1 .8-.8 .8-.1 .8-.9 .8-.3 .8-1.1 .8-.2 .8-.8 .8-.2 .8-.8 .8 0 .8-.7 .8-.1 .8-.7 .8 .1 .8-1 .8 .1 .8-1.3 .8-.2 .8-1.3 .8-.3 .8-1.1 .8-.1" stroke="#FE6100"/>
<path d="M1697.0 1116.7l7.2-1.7 1.6 0 .8 .3 .8-.1 .8 .5 .8-.4 .8 .3 .8-.7 .8-.1 .8-1 .8-.3 .8-1 .8 0 .8-.7 .8 .4 .8-.4 .8 .7 .8-.2 .8 .4 .8-.4 .8 .3 .8-.9 .8-.3" stroke="#FFB000"/>
<path d="M1714.6 1116.8l4-1 1.6-.2 .8 .2 .8-.2 .8 .2" stroke="#63A00C"/>
</g>
<rect x="155.0" y="781.27" width="1566.70" height="336.33" fill="none" stroke="#000" stroke-width="3.6"/>
<line x1="140.50" y1="1117.60" x2="155.00" y2="1117.60" stroke="#000" stroke-width="3.3"/>
<text transform="translate(126.10 1128.20) scale(1 1.07)" font-size="29.4" text-anchor="end" font-family="'Liberation Sans', Arial, Helvetica, sans-serif" >0.0</text>
<line x1="140.50" y1="1051.00" x2="155.00" y2="1051.00" stroke="#000" stroke-width="3.3"/>
<text transform="translate(126.10 1061.60) scale(1 1.07)" font-size="29.4" text-anchor="end" font-family="'Liberation Sans', Arial, Helvetica, sans-serif" >0.2</text>
<line x1="140.50" y1="984.40" x2="155.00" y2="984.40" stroke="#000" stroke-width="3.3"/>
<text transform="translate(126.10 995.00) scale(1 1.07)" font-size="29.4" text-anchor="end" font-family="'Liberation Sans', Arial, Helvetica, sans-serif" >0.4</text>
<line x1="140.50" y1="917.80" x2="155.00" y2="917.80" stroke="#000" stroke-width="3.3"/>
<text transform="translate(126.10 928.40) scale(1 1.07)" font-size="29.4" text-anchor="end" font-family="'Liberation Sans', Arial, Helvetica, sans-serif" >0.6</text>
<line x1="140.50" y1="851.20" x2="155.00" y2="851.20" stroke="#000" stroke-width="3.3"/>
<text transform="translate(126.10 861.80) scale(1 1.07)" font-size="29.4" text-anchor="end" font-family="'Liberation Sans', Arial, Helvetica, sans-serif" >0.8</text>
<line x1="140.50" y1="784.60" x2="155.00" y2="784.60" stroke="#000" stroke-width="3.3"/>
<text transform="translate(126.10 795.20) scale(1 1.07)" font-size="29.4" text-anchor="end" font-family="'Liberation Sans', Arial, Helvetica, sans-serif" >1.0</text>
<line x1="146.50" y1="1084.30" x2="155.00" y2="1084.30" stroke="#000" stroke-width="2.5"/>
<line x1="146.50" y1="1017.70" x2="155.00" y2="1017.70" stroke="#000" stroke-width="2.5"/>
<line x1="146.50" y1="951.10" x2="155.00" y2="951.10" stroke="#000" stroke-width="2.5"/>
<line x1="146.50" y1="884.50" x2="155.00" y2="884.50" stroke="#000" stroke-width="2.5"/>
<line x1="146.50" y1="817.90" x2="155.00" y2="817.90" stroke="#000" stroke-width="2.5"/>
<line x1="155.00" y1="1117.60" x2="155.00" y2="1132.10" stroke="#000" stroke-width="3.3"/>
<line x1="281.00" y1="1117.60" x2="281.00" y2="1132.10" stroke="#000" stroke-width="3.3"/>
<line x1="566.16" y1="1117.60" x2="566.16" y2="1132.10" stroke="#000" stroke-width="3.3"/>
<line x1="793.86" y1="1117.60" x2="793.86" y2="1132.10" stroke="#000" stroke-width="3.3"/>
<line x1="1021.56" y1="1117.60" x2="1021.56" y2="1132.10" stroke="#000" stroke-width="3.3"/>
<line x1="1249.26" y1="1117.60" x2="1249.26" y2="1132.10" stroke="#000" stroke-width="3.3"/>
<line x1="1476.96" y1="1117.60" x2="1476.96" y2="1132.10" stroke="#000" stroke-width="3.3"/>
<line x1="1704.66" y1="1117.60" x2="1704.66" y2="1132.10" stroke="#000" stroke-width="3.3"/>
<g transform="translate(56.7 952.23) rotate(-90)"><text x="0" y="0" font-size="29.1" text-anchor="middle" font-family="'Liberation Sans', Arial, Helvetica, sans-serif">Probability <tspan font-family="'DejaVu Sans', sans-serif">Π</tspan><tspan font-family="'DejaVu Sans', sans-serif" font-style="italic" font-size="20.4" dy="5.5">i</tspan><tspan font-family="'DejaVu Sans', sans-serif" font-size="20.4">,</tspan><tspan font-family="'DejaVu Sans', sans-serif" font-style="italic" font-size="20.4" dx="3">n</tspan></text></g>
<text x="-1.90" y="794.87" font-size="33" text-anchor="start" font-family="'Liberation Sans', Arial, Helvetica, sans-serif" font-weight="bold">(c)</text>
<text x="201.80" y="815.21" font-size="29.1" text-anchor="start" font-family="'Liberation Sans', Arial, Helvetica, sans-serif" >long-range smoothing</text>
<g clip-path="url(#clip3)" fill="none" stroke-width="2.0" stroke-linejoin="round" stroke-linecap="butt">
<path d="M155.0 1170.5l126 189.3 126 94.6 40.1 47.3 28.4 23.6 22.1 11.9 18 5.9 15.3 2.9 13.2 1.5 11.6 .8" stroke="#648FFF"/>
<path d="M155.0 1549.0l126-189.2 126-82.2 40.1-40.1 28.4-15.9 22.1-4.9 18 .7 15.3 3.8 13.2 5.2 11.6 5.3 10.5 5.3 9.4 5.4 12.6 8.2 10 8 19 17.3 12 11.9 9 10.2 73 91 22 28.4 6 8.6 17 25.4 14 18.2 10 11.7 10 10.6 11 10.9 9 7.9 12 9 11 7.1 11 5.8 11 4.8 13 4.5 10 2.6 14 2.2 14 1.2" stroke="#785EF0"/>
<path d="M281.0 1549.0l126-12.5 40.1-7.2 28.4-7.6 22.1-6.8 18-6.4 15.3-6.4 24.8-10 19.9-8.7 17.6-8.5 9-4.9 11-6.5 20-12.5 28-18.6 21-12.8 10-5.4 6-2.6 18-6.5 8-1.9 7-.7 5 .2 5 .6 10 1.8 4 1.1 5 1.8 5 2.2 5 2.6 4 2.7 21 17.3 9 8.7 5 6.1 12 16.2 31 37.2 14 15.8 4 4 6 5.4 6 4.8 6 4.1 7 3.7 7 3.1 6 2.1 8 1.9 7 1.2 7 .8" stroke="#DC267F"/>
<path d="M497.6 1547.9l18-.9 28.5-2 22.1-2.2 23-2.8 12-2 13-2.9 16-4.4 12-4 14-5.6 14-6.3 12-6.4 15-8.9 10-6.4 11-7.7 18-13 20-15.1 14-9.2 6-3.7 7-3.4 8-2.5 8-1.9 6-.6 4 .3 4 .7 7 2 3 1.1 6 3.9 13 10.5 8 7.1 8 7.8 19 21.9 18 19.1 14 12.5 5 3.9 5 3.5 8 4.8 6 3.2 5 2.1 7 2.3 7 1.8 6 1.2 10 1.3 11 .9" stroke="#FE6100"/>
<path d="M655.2 1547.9l11-.9 11-1.5 10-1.8 9-2.2 9-2.7 10-3.7 10-4.2 10-4.8 10-6 11-8.4 10-8.9 27-26 8-6.7 8-5.9 11-6.6 10-4.6 5-1.6 5-1.2 5-.8 4-.1 4 .1 4 .6 4 1 4 1.4 7 3.7 7 5.2 8 7.5 10 10.6 36 41 8 7.6 8 6 5 3.1 5 2.6 5 2.1 5 1.8 11 2.6 14 1.7" stroke="#FFB000"/>
<path d="M720.2 1547.9l19-1.6 7-1 7-1.4 7-1.9 6-2.1 6-2.5 6-3 6-3.5 7-4.6 15-11.2 15-12.4 29-25.7 6-4.9 7-5.1 7-4.6 5-2.5 6-1.9 5-.5 6 .8 3 .9 4 1.7 7 4.3 7 5.6 5 4.8 5 5.5 18 23.2 10 11.8 10 10.1 9 7.3 4 2.7 5 2.8 5 2.3 5 1.9 6 1.7 6 1.3 13 1.7" stroke="#63A00C"/>
<path d="M770.2 1547.9l8-.8 8-1.1 8-1.5 7-1.8 8-2.6 7-2.7 7-3.2 6-3.3 7-4.4 6-4.3 6-4.7 7-6.2 10-9.9 18-20.4 5-5 4-3.4 6-4.2 6-3 6-1.7 5-.4 5 .6 5 1.7 5 3 6 5 5 5 6 6.7 20 24.8 7 8.2 9 9 8 6.3 9 5.5 5 2.4 5 1.9 5 1.5 6 1.3 13 1.8" stroke="#2F1DAF"/>
<path d="M807.2 1547.9l17-1.8 7-1.2 7-1.6 6-1.9 6-2.2 6-2.8 5-2.8 7-4.9 8-7.1 7-7.4 23-25.7 7-7.1 6-5.5 6-4.7 5-2.8 4-1.4 5-.6 5 .8 5 1.9 5 3.1 5 4.1 8 8.5 18 22.5 9 10.4 9 9.1 9 7.4 4 2.7 5 2.8 9 3.9 10 2.6 12 1.7" stroke="#648FFF"/>
<path d="M842.2 1547.9l14-1.6 6-1.1 5-1.3 5-1.7 5-2.1 5-2.7 5-3.2 10-7.7 5-4.5 6-6 11-12.5 15-18.8 7-7.3 5-4.1 5-3 5-1.8 4-.5 5 .6 5 2 5 3.2 5 4.2 5 5 6 6.7 19 23.4 7 8 8 8 7 5.7 8 4.9 4 1.9 5 2 10 2.6 12 1.7" stroke="#785EF0"/>
<path d="M870.2 1547.9l12-1.6 11-2.9 5-1.8 5-2.3 5-2.8 4-2.6 7-5.5 7-7 6-7.1 19-23.9 6-6.9 5-5 5-4.1 5-2.9 4-1.5 5-.6 5 .6 5 1.9 5 3 5 4.2 4 4 5 5.7 18 22.9 7 8.3 8 8.3 8 6.6 8 4.9 4 1.9 5 2 10 2.6 12 1.6" stroke="#DC267F"/>
<path d="M892.2 1548.0l12-1.6 10-2.4 8-3.1 4-2.2 4-2.6 4-3 5-4.3 9-9.1 8-9.2 17-21.4 5-5.6 4-3.9 5-4.1 5-3.1 5-1.8 5-.6 4 .5 5 2 5 3.2 5 4.4 8 8.8 17 21.8 7 8.4 8 8.5 8 6.8 8 5.1 4 2 5 2 5 1.5 5 1.2 12 1.7" stroke="#FE6100"/>
<path d="M914.2 1547.9l11-1.5 5-1.2 5-1.6 9-3.9 5-2.9 4-2.8 7-5.7 7-7 6-7 19-23.4 5-5.6 5-5.1 5-4.2 5-3.1 5-1.9 4-.4 4 .4 5 1.9 4 2.4 5 4.2 4 4 5 5.8 18 23.1 7 8.3 8 8.2 7 5.8 8 5 4 1.9 5 2 5 1.5 5 1.2 12 1.6" stroke="#FFB000"/>
<path d="M933.2 1547.9l11-1.5 10-2.5 5-1.8 4-1.9 8-4.9 4-3 5-4.4 9-9 8-9.3 17-21.1 8-8.6 5-4.2 4-2.5 5-1.9 4-.5 4 .5 5 1.9 4 2.5 5 4.2 4 4.1 5 5.8 17 21.9 7 8.4 8 8.2 8 6.7 8 4.9 4 1.9 5 1.9 10 2.6 12 1.6" stroke="#63A00C"/>
<path d="M952.2 1547.9l12-1.6 5-1.1 5-1.5 5-2 5-2.4 5-2.9 4-2.8 8-6.6 7-7.2 7-8.3 17-21.8 5-5.8 4-4 5-4.2 4-2.4 5-1.8 4-.5 4 .5 5 2 4 2.6 5 4.2 4 4.2 5 5.8 16 20.7 8 9.5 8 8.2 7 5.8 8 5.1 4 2 5 2 5 1.5 5 1.1 12 1.7" stroke="#2F1DAF"/>
<path d="M971.2 1547.9l12-1.6 6-1.3 5-1.5 5-1.9 4-1.9 8-5 8-6.7 8-8.3 7-8.4 16-20.6 5-5.9 4-4.1 5-4.4 4-2.6 5-2 4-.6 4 .4 5 1.8 4 2.4 5 4.1 4 4.1 5 5.8 17 21.8 7 8.4 8 8.3 8 6.7 8 4.9 4 2 5 1.9 10 2.6 12 1.6" stroke="#648FFF"/>
<path d="M991.2 1547.9l12-1.6 5-1.2 5-1.5 5-2 4-2 8-5.1 7-5.8 8-8.2 8-9.6 17-21.9 8-8.7 5-4.2 4-2.6 5-1.9 4-.4 4 .4 5 1.9 4 2.6 5 4.2 4 4.1 5 5.8 17 21.9 7 8.3 8 8.2 7 5.8 8 5.1 4 2 5 2 5 1.5 5 1.2 12 1.7" stroke="#785EF0"/>
<path d="M1010.2 1547.9l11-1.5 5-1.1 5-1.5 5-1.9 4-2 8-4.9 8-6.7 8-8.2 7-8.5 17-21.9 5-5.7 4-4.1 5-4.1 4-2.4 5-1.8 4-.4 4 .6 5 2 4 2.6 5 4.3 4 4.2 5 5.9 16 20.6 7 8.4 8 8.3 8 6.7 8 5 4 1.9 5 2 10 2.6 12 1.6" stroke="#DC267F"/>
<path d="M1028.2 1547.9l12-1.6 5-1.1 5-1.6 5-1.9 4-2 8-5 7-5.8 8-8.3 8-9.5 16-20.7 5-5.8 4-4.1 5-4.3 4-2.5 5-2 4-.5 4 .5 5 1.8 4 2.5 5 4.2 4 4.1 5 5.8 17 21.8 7 8.4 8 8.2 7 5.9 8 5.1 4 2 5 2 5 1.5 5 1.2 12 1.7" stroke="#FE6100"/>
<path d="M1047.2 1547.9l11-1.5 10-2.6 5-1.9 4-1.9 8-5 8-6.6 8-8.3 7-8.4 17-21.8 5-5.8 4-4 5-4.2 4-2.4 5-1.9 4-.4 4 .6 5 2 4 2.5 5 4.3 8 8.8 17 21.8 8 9.6 8 8.1 7 5.8 8 5 4 2 5 1.9 5 1.5 5 1.2 12 1.6" stroke="#FFB000"/>
<path d="M1065.2 1547.9l12-1.6 5-1.1 5-1.6 5-1.9 4-2 8-5 7-5.8 8-8.1 8-9.6 17-21.8 8-8.8 5-4.3 4-2.5 5-2 4-.6 4 .4 5 1.9 4 2.4 5 4.2 4 4 5 5.8 17 21.9 7 8.3 8 8.3 8 6.6 8 4.9 4 2 5 1.9 10 2.6 12 1.5" stroke="#63A00C"/>
<path d="M1084.2 1547.9l11-1.5 10-2.6 5-1.9 4-1.9 8-4.9 8-6.6 8-8.2 7-8.4 17-21.8 5-5.8 4-4.1 5-4.2 4-2.5 5-1.8 4-.5 4 .5 5 2 4 2.5 5 4.3 4 4.1 5 5.9 16 20.5 8 9.6 8 8.2 7 5.8 8 5 4 2 5 2 5 1.5 5 1.2 12 1.6" stroke="#2F1DAF"/>
<path d="M1102.2 1547.9l12-1.6 10-2.6 5-2 4-1.9 8-5 8-6.7 8-8.3 7-8.5 16-20.6 5-5.8 4-4.2 5-4.3 4-2.6 5-2 4-.6 4 .4 5 1.8 4 2.4 5 4.2 4 4 5 5.8 17 21.8 7 8.4 8 8.3 8 6.6 8 5 4 1.9 5 1.9 10 2.6 12 1.6" stroke="#648FFF"/>
<path d="M1121.2 1547.9l12-1.7 5-1.2 5-1.5 5-2 4-2 8-5.1 7-5.8 8-8.2 7-8.4 17-21.8 5-5.8 4-4.1 5-4.2 4-2.5 5-1.9 4-.5 4 .5 5 1.9 4 2.6 5 4.2 4 4.1 5 5.8 16 20.6 8 9.6 8 8.2 7 5.8 8 5.1 4 2 5 1.9 5 1.6 5 1.1 12 1.7" stroke="#785EF0"/>
<path d="M1139.2 1547.9l12-1.6 10-2.6 5-1.9 4-2 8-5 7-5.7 8-8.1 8-9.5 17-21.8 5-5.8 4-4 5-4.1 4-2.4 5-1.8 4-.4 4 .6 5 2.1 4 2.6 5 4.3 8 8.8 17 21.9 7 8.4 8 8.3 8 6.6 8 5 4 1.9 5 2 10 2.6 12 1.6" stroke="#DC267F"/>
<path d="M1158.2 1547.9l12-1.7 5-1.1 5-1.6 5-1.9 4-2 8-5.1 7-5.8 8-8.2 8-9.6 16-20.5 5-5.9 4-4.1 5-4.2 4-2.6 5-1.9 4-.5 4 .5 5 1.9 4 2.5 5 4.2 4 4.1 5 5.8 17 21.8 7 8.4 8 8.2 7 5.8 8 5.1 4 2 5 2 5 1.5 5 1.2 12 1.7" stroke="#FE6100"/>
<path d="M1176.2 1547.9l12-1.6 10-2.6 5-1.9 4-1.9 8-5 8-6.6 8-8.3 7-8.4 17-21.8 5-5.8 4-4 5-4.1 4-2.5 5-1.8 4-.4 4 .6 5 2 4 2.6 5 4.3 4 4.1 5 5.9 16 20.6 7 8.4 8 8.4 8 6.6 8 5.1 4 1.9 5 1.9 10 2.7 12 1.6" stroke="#FFB000"/>
<path d="M1195.2 1547.9l12-1.6 5-1.2 5-1.5 5-2 4-1.9 8-5.1 7-5.8 8-8.1 8-9.6 16-20.6 5-5.8 4-4.2 5-4.2 4-2.6 5-2 4-.5 4 .5 5 1.8 4 2.5 5 4.2 4 4 5 5.8 17 21.9 7 8.3 8 8.3 8 6.6 8 4.9 4 1.9 5 1.9 10 2.6 11 1.5" stroke="#63A00C"/>
<path d="M1213.2 1548.0l12-1.6 10-2.6 5-1.9 4-1.9 8-5 8-6.6 8-8.2 7-8.4 17-21.8 5-5.8 4-4.1 5-4.2 4-2.4 5-1.9 4-.4 4 .6 5 1.9 4 2.6 5 4.3 8 8.7 17 21.8 8 9.6 8 8.2 7 5.7 8 5.1 4 1.9 5 2 5 1.5 5 1.2 12 1.6" stroke="#2F1DAF"/>
<path d="M1232.2 1547.9l12-1.6 10-2.7 5-1.9 4-2 8-5 8-6.7 8-8.3 7-8.5 16-20.6 5-5.8 4-4.2 5-4.2 4-2.6 5-2 4-.6 4 .4 5 1.8 4 2.5 5 4.1 4 4.1 5 5.8 17 21.8 7 8.4 8 8.3 8 6.6 8 4.9 4 1.9 5 2 10 2.6 12 1.5" stroke="#648FFF"/>
<path d="M1251.2 1547.9l12-1.7 5-1.2 5-1.5 5-2 4-2 8-5.1 7-5.9 8-8.2 7-8.4 17-21.8 5-5.8 4-4.1 5-4.2 4-2.5 5-1.8 4-.5 4 .5 5 2 4 2.5 5 4.3 4 4.1 5 5.8 16 20.6 8 9.6 8 8.2 7 5.8 8 5 4 2 5 2 5 1.5 5 1.1 12 1.7" stroke="#785EF0"/>
<path d="M1269.2 1547.9l12-1.6 10-2.6 5-2 4-1.9 8-5 8-6.7 8-8.3 7-8.4 17-21.8 8-8.8 5-4.4 4-2.6 5-2 4-.6 4 .4 5 1.8 4 2.4 5 4.1 4 4.1 5 5.7 17 21.9 7 8.3 8 8.3 8 6.7 8 5 4 1.9 5 1.9 10 2.6 12 1.6" stroke="#DC267F"/>
<path d="M1288.2 1547.9l12-1.7 5-1.1 5-1.6 5-2 4-1.9 8-5.1 7-5.9 8-8.2 7-8.3 17-21.8 5-5.9 4-4.1 5-4.2 4-2.5 5-1.9 4-.5 4 .5 5 1.9 4 2.5 5 4.2 4 4.2 5 5.8 17 21.8 7 8.3 8 8.3 7 5.8 8 5.1 4 1.9 5 2 5 1.6 5 1.1 12 1.7" stroke="#FE6100"/>
<path d="M1306.2 1547.9l12-1.6 10-2.6 5-1.9 4-1.9 8-5 8-6.7 8-8.3 7-8.4 17-21.8 5-5.7 4-4.1 5-4.1 4-2.4 5-1.8 4-.4 4 .6 5 2 4 2.6 5 4.4 8 8.8 17 21.8 7 8.4 8 8.3 8 6.7 8 5 4 1.9 5 2 10 2.6 12 1.6" stroke="#FFB000"/>
<path d="M1325.2 1547.9l12-1.7 5-1.1 5-1.5 5-2 4-2 8-5 7-5.8 8-8.2 8-9.6 16-20.6 5-5.8 4-4.1 5-4.3 4-2.5 5-2 4-.5 4 .5 5 1.8 4 2.5 5 4.2 4 4.1 5 5.8 17 21.9 7 8.3 8 8.2 7 5.9 8 5.1 4 2 5 2 5 1.5 5 1.2 12 1.7" stroke="#63A00C"/>
<path d="M1343.2 1547.9l12-1.5 10-2.6 5-2 4-1.9 8-4.9 8-6.7 8-8.2 7-8.4 17-21.8 5-5.8 4-4.1 5-4.1 4-2.5 5-1.8 4-.4 4 .6 5 2 4 2.6 5 4.3 4 4.1 5 5.9 16 20.6 7 8.4 8 8.3 8 6.7 8 5 4 2 5 1.9 10 2.7 12 1.6" stroke="#2F1DAF"/>
<path d="M1362.2 1547.9l12-1.6 5-1.2 5-1.5 5-2 4-1.9 8-5.1 7-5.7 8-8.2 8-9.6 17-21.8 8-8.7 5-4.3 4-2.6 5-1.9 4-.6 4 .4 5 1.9 4 2.4 5 4.2 4 4.1 5 5.8 17 21.8 7 8.4 8 8.2 8 6.6 8 5 4 1.9 5 1.9 10 2.6 11 1.5" stroke="#648FFF"/>
<path d="M1381.2 1547.9l11-1.5 10-2.6 5-1.9 4-1.9 8-5 8-6.5 8-8.3 7-8.4 17-21.8 5-5.8 4-4.1 5-4.1 4-2.5 5-1.9 4-.4 4 .5 5 2 4 2.6 5 4.2 4 4.2 5 5.8 16 20.6 8 9.6 8 8.1 7 5.8 8 5.1 4 1.9 5 2 5 1.5 5 1.2 12 1.6" stroke="#785EF0"/>
<path d="M1399.2 1547.9l12-1.6 10-2.7 5-1.9 4-1.9 8-5.1 8-6.7 8-8.3 7-8.4 16-20.6 5-5.9 4-4.1 5-4.3 4-2.6 5-2 4-.6 4 .4 5 1.8 4 2.5 5 4.1 4 4.1 5 5.7 17 21.9 7 8.3 8 8.3 8 6.6 8 5 4 1.9 5 1.9 10 2.6 12 1.6" stroke="#DC267F"/>
<path d="M1418.2 1547.9l12-1.7 5-1.2 5-1.5 5-2 4-2 8-5.1 7-5.8 8-8.3 7-8.3 17-21.8 5-5.8 4-4.1 5-4.2 4-2.5 5-1.9 4-.5 4 .5 5 2 4 2.5 5 4.2 4 4.1 5 5.9 16 20.5 8 9.6 8 8.2 7 5.8 8 5.1 4 2 5 2 5 1.5 5 1.1 12 1.7" stroke="#FE6100"/>
<path d="M1436.2 1547.9l12-1.6 10-2.6 5-2 4-1.9 8-5 8-6.6 8-8.4 7-8.4 17-21.8 8-8.8 5-4.3 4-2.6 5-2.1 4-.6 4 .4 5 1.8 4 2.4 5 4.1 4 4 5 5.8 17 21.8 7 8.4 8 8.3 8 6.7 8 4.9 4 2 5 1.9 10 2.6 12 1.6" stroke="#FFB000"/>
<path d="M1455.2 1547.9l12-1.7 5-1.1 5-1.6 5-2 4-1.9 8-5.1 7-5.8 8-8.2 8-9.6 16-20.6 5-5.8 4-4.1 5-4.3 4-2.5 5-1.9 4-.5 4 .5 5 1.9 4 2.5 5 4.2 4 4.1 5 5.8 17 21.9 7 8.3 8 8.2 7 5.8 8 5.1 4 2 5 2 5 1.5 5 1.2 12 1.7" stroke="#63A00C"/>
<path d="M1473.2 1547.9l12-1.6 10-2.6 5-1.9 4-1.9 8-5 8-6.6 8-8.3 7-8.4 17-21.8 5-5.8 4-4 5-4.2 4-2.4 5-1.8 4-.4 4 .6 5 2 4 2.6 5 4.3 4 4.2 5 5.9 16 20.6 7 8.4 8 8.3 8 6.7 8 5 4 1.9 5 2 10 2.6 12 1.6" stroke="#2F1DAF"/>
<path d="M1492.2 1547.9l12-1.7 5-1.1 5-1.5 5-2 4-2 8-5 7-5.8 8-8.2 8-9.6 16-20.6 5-5.8 4-4.1 5-4.3 4-2.5 5-2 4-.5 4 .5 5 1.8 4 2.5 5 4.2 4 4.1 5 5.8 17 21.8 7 8.4 8 8.2 7 5.9 8 5.1 4 2 5 2 5 1.5 5 1.2 12 1.7" stroke="#648FFF"/>
<path d="M1510.2 1547.9l12-1.5 10-2.6 5-2 4-1.9 8-4.9 8-6.6 8-8.3 7-8.4 17-21.8 5-5.8 4-4 5-4.2 4-2.4 5-1.9 4-.4 4 .6 5 2 4 2.5 5 4.3 8 8.8 17 21.8 8 9.6 8 8.1 7 5.8 8 5 4 2 5 1.9 5 1.5 5 1.2 12 1.6" stroke="#785EF0"/>
<path d="M1529.2 1547.9l12-1.6 5-1.2 5-1.5 5-1.9 4-2 8-5 7-5.8 8-8.2 8-9.5 17-21.8 8-8.8 5-4.3 4-2.5 5-2 4-.6 4 .4 5 1.9 5 3.2 5 4.3 8 8.9 16 20.6 7 8.5 7 7.5 6 5.4 6 4.5 6 3.5 6 2.8 7 2.3" stroke="#DC267F"/>
<path d="M1548.2 1547.9l12-1.7 5-1.2 5-1.5 5-2 4-2 8-5.2 7-5.8 8-8.2 7-8.4 17-21.8 8-8.9 5-4.5 4-2.6 5-2.2 4-.7 4 .3 5 1.7 4 2.3 5 4.1 4 3.9 5 5.7 18 23.1 8 9.4 5 5.2 4 3.7 8 6.1" stroke="#FE6100"/>
<path d="M1566.2 1547.9l12-1.6 10-2.6 5-2 4-1.9 5-3 4-2.8 7-5.9 8-8.3 7-8.5 16-20.6 8-9 4-3.7 4-3 4-2.2 4-1.2 5-.3 5 1.2 5 2.6 5 4 5 4.9 5 5.8 17 21.8 7 8.4" stroke="#FFB000"/>
<path d="M1585.2 1547.9l12-1.7 5-1.2 5-1.5 5-2 4-2 5-3 4-2.8 7-6 8-8.4 7-8.5 15-19.4 8-9.1 4-3.8 3-2.4 4-2.5 3-1.3 4-1 4 0 4 1 5 2.5 4 2.9 5 4.7 5 5.5 7 8.7" stroke="#63A00C"/>
<path d="M1603.2 1547.9l7-.8 6-1 5-1.2 5-1.5 5-2.1 4-2 5-3.1 4-2.9 7-6.1 8-8.5 7-8.5 14-18.1 7-8.2 6-5.8 5-3.6 3-1.6 3-1.1 3-.5 3 0 3 .5 3 1.1 3 1.5 3 2.1" stroke="#2F1DAF"/>
<path d="M1622.2 1547.9l12-1.7 5-1.1 5-1.6 5-1.9 4-2 5-3 4-2.8 7-6 8-8.4 7-8.5 15-19.3 8-9.2 4-3.8 4-3.1 4-2.4 3-1.1" stroke="#648FFF"/>
<path d="M1640.2 1547.9l12-1.6 10-2.6 5-1.9 4-1.9 5-2.9 4-2.8 8-6.8 8-8.5 26-32.6" stroke="#785EF0"/>
<path d="M1659.2 1547.9l10-1.3 9-2 8-3 7-3.6 7-4.9 7-6.2 7-7.4 8-9.7" stroke="#DC267F"/>
<path d="M1677.2 1548.0l7-.8 7-1.2 6-1.6 5-1.7 5-2.2 5-2.8 5-3.4 5-4.1" stroke="#FE6100"/>
<path d="M1696.2 1547.9l7-.8 7-1.2 6-1.6 6-2.2" stroke="#FFB000"/>
<path d="M1715.2 1547.9l7-.8" stroke="#63A00C"/>
</g>
<rect x="155.0" y="1166.71" width="1566.70" height="382.29" fill="none" stroke="#000" stroke-width="3.6"/>
<line x1="140.50" y1="1549.00" x2="155.00" y2="1549.00" stroke="#000" stroke-width="3.3"/>
<text transform="translate(126.10 1559.60) scale(1 1.07)" font-size="29.4" text-anchor="end" font-family="'Liberation Sans', Arial, Helvetica, sans-serif" >0.0</text>
<line x1="140.50" y1="1473.30" x2="155.00" y2="1473.30" stroke="#000" stroke-width="3.3"/>
<text transform="translate(126.10 1483.90) scale(1 1.07)" font-size="29.4" text-anchor="end" font-family="'Liberation Sans', Arial, Helvetica, sans-serif" >0.2</text>
<line x1="140.50" y1="1397.60" x2="155.00" y2="1397.60" stroke="#000" stroke-width="3.3"/>
<text transform="translate(126.10 1408.20) scale(1 1.07)" font-size="29.4" text-anchor="end" font-family="'Liberation Sans', Arial, Helvetica, sans-serif" >0.4</text>
<line x1="140.50" y1="1321.90" x2="155.00" y2="1321.90" stroke="#000" stroke-width="3.3"/>
<text transform="translate(126.10 1332.50) scale(1 1.07)" font-size="29.4" text-anchor="end" font-family="'Liberation Sans', Arial, Helvetica, sans-serif" >0.6</text>
<line x1="140.50" y1="1246.20" x2="155.00" y2="1246.20" stroke="#000" stroke-width="3.3"/>
<text transform="translate(126.10 1256.80) scale(1 1.07)" font-size="29.4" text-anchor="end" font-family="'Liberation Sans', Arial, Helvetica, sans-serif" >0.8</text>
<line x1="140.50" y1="1170.50" x2="155.00" y2="1170.50" stroke="#000" stroke-width="3.3"/>
<text transform="translate(126.10 1181.10) scale(1 1.07)" font-size="29.4" text-anchor="end" font-family="'Liberation Sans', Arial, Helvetica, sans-serif" >1.0</text>
<line x1="146.50" y1="1511.15" x2="155.00" y2="1511.15" stroke="#000" stroke-width="2.5"/>
<line x1="146.50" y1="1435.45" x2="155.00" y2="1435.45" stroke="#000" stroke-width="2.5"/>
<line x1="146.50" y1="1359.75" x2="155.00" y2="1359.75" stroke="#000" stroke-width="2.5"/>
<line x1="146.50" y1="1284.05" x2="155.00" y2="1284.05" stroke="#000" stroke-width="2.5"/>
<line x1="146.50" y1="1208.35" x2="155.00" y2="1208.35" stroke="#000" stroke-width="2.5"/>
<line x1="155.00" y1="1549.00" x2="155.00" y2="1563.50" stroke="#000" stroke-width="3.3"/>
<line x1="281.00" y1="1549.00" x2="281.00" y2="1563.50" stroke="#000" stroke-width="3.3"/>
<line x1="566.16" y1="1549.00" x2="566.16" y2="1563.50" stroke="#000" stroke-width="3.3"/>
<line x1="793.86" y1="1549.00" x2="793.86" y2="1563.50" stroke="#000" stroke-width="3.3"/>
<line x1="1021.56" y1="1549.00" x2="1021.56" y2="1563.50" stroke="#000" stroke-width="3.3"/>
<line x1="1249.26" y1="1549.00" x2="1249.26" y2="1563.50" stroke="#000" stroke-width="3.3"/>
<line x1="1476.96" y1="1549.00" x2="1476.96" y2="1563.50" stroke="#000" stroke-width="3.3"/>
<line x1="1704.66" y1="1549.00" x2="1704.66" y2="1563.50" stroke="#000" stroke-width="3.3"/>
<line x1="407.00" y1="1549.00" x2="407.00" y2="1557.50" stroke="#000" stroke-width="2.5"/>
<line x1="447.10" y1="1549.00" x2="447.10" y2="1557.50" stroke="#000" stroke-width="2.5"/>
<line x1="475.54" y1="1549.00" x2="475.54" y2="1557.50" stroke="#000" stroke-width="2.5"/>
<line x1="497.61" y1="1549.00" x2="497.61" y2="1557.50" stroke="#000" stroke-width="2.5"/>
<line x1="515.64" y1="1549.00" x2="515.64" y2="1557.50" stroke="#000" stroke-width="2.5"/>
<line x1="530.88" y1="1549.00" x2="530.88" y2="1557.50" stroke="#000" stroke-width="2.5"/>
<line x1="544.09" y1="1549.00" x2="544.09" y2="1557.50" stroke="#000" stroke-width="2.5"/>
<line x1="555.74" y1="1549.00" x2="555.74" y2="1557.50" stroke="#000" stroke-width="2.5"/>
<line x1="634.70" y1="1549.00" x2="634.70" y2="1557.50" stroke="#000" stroke-width="2.5"/>
<line x1="674.80" y1="1549.00" x2="674.80" y2="1557.50" stroke="#000" stroke-width="2.5"/>
<line x1="703.24" y1="1549.00" x2="703.24" y2="1557.50" stroke="#000" stroke-width="2.5"/>
<line x1="725.31" y1="1549.00" x2="725.31" y2="1557.50" stroke="#000" stroke-width="2.5"/>
<line x1="743.34" y1="1549.00" x2="743.34" y2="1557.50" stroke="#000" stroke-width="2.5"/>
<line x1="758.58" y1="1549.00" x2="758.58" y2="1557.50" stroke="#000" stroke-width="2.5"/>
<line x1="771.79" y1="1549.00" x2="771.79" y2="1557.50" stroke="#000" stroke-width="2.5"/>
<line x1="783.44" y1="1549.00" x2="783.44" y2="1557.50" stroke="#000" stroke-width="2.5"/>
<line x1="862.40" y1="1549.00" x2="862.40" y2="1557.50" stroke="#000" stroke-width="2.5"/>
<line x1="902.50" y1="1549.00" x2="902.50" y2="1557.50" stroke="#000" stroke-width="2.5"/>
<line x1="930.94" y1="1549.00" x2="930.94" y2="1557.50" stroke="#000" stroke-width="2.5"/>
<line x1="953.01" y1="1549.00" x2="953.01" y2="1557.50" stroke="#000" stroke-width="2.5"/>
<line x1="971.04" y1="1549.00" x2="971.04" y2="1557.50" stroke="#000" stroke-width="2.5"/>
<line x1="986.28" y1="1549.00" x2="986.28" y2="1557.50" stroke="#000" stroke-width="2.5"/>
<line x1="999.49" y1="1549.00" x2="999.49" y2="1557.50" stroke="#000" stroke-width="2.5"/>
<line x1="1011.14" y1="1549.00" x2="1011.14" y2="1557.50" stroke="#000" stroke-width="2.5"/>
<line x1="1090.10" y1="1549.00" x2="1090.10" y2="1557.50" stroke="#000" stroke-width="2.5"/>
<line x1="1130.20" y1="1549.00" x2="1130.20" y2="1557.50" stroke="#000" stroke-width="2.5"/>
<line x1="1158.64" y1="1549.00" x2="1158.64" y2="1557.50" stroke="#000" stroke-width="2.5"/>
<line x1="1180.71" y1="1549.00" x2="1180.71" y2="1557.50" stroke="#000" stroke-width="2.5"/>
<line x1="1198.74" y1="1549.00" x2="1198.74" y2="1557.50" stroke="#000" stroke-width="2.5"/>
<line x1="1213.98" y1="1549.00" x2="1213.98" y2="1557.50" stroke="#000" stroke-width="2.5"/>
<line x1="1227.19" y1="1549.00" x2="1227.19" y2="1557.50" stroke="#000" stroke-width="2.5"/>
<line x1="1238.84" y1="1549.00" x2="1238.84" y2="1557.50" stroke="#000" stroke-width="2.5"/>
<line x1="1317.80" y1="1549.00" x2="1317.80" y2="1557.50" stroke="#000" stroke-width="2.5"/>
<line x1="1357.90" y1="1549.00" x2="1357.90" y2="1557.50" stroke="#000" stroke-width="2.5"/>
<line x1="1386.34" y1="1549.00" x2="1386.34" y2="1557.50" stroke="#000" stroke-width="2.5"/>
<line x1="1408.41" y1="1549.00" x2="1408.41" y2="1557.50" stroke="#000" stroke-width="2.5"/>
<line x1="1426.44" y1="1549.00" x2="1426.44" y2="1557.50" stroke="#000" stroke-width="2.5"/>
<line x1="1441.68" y1="1549.00" x2="1441.68" y2="1557.50" stroke="#000" stroke-width="2.5"/>
<line x1="1454.89" y1="1549.00" x2="1454.89" y2="1557.50" stroke="#000" stroke-width="2.5"/>
<line x1="1466.54" y1="1549.00" x2="1466.54" y2="1557.50" stroke="#000" stroke-width="2.5"/>
<line x1="1545.50" y1="1549.00" x2="1545.50" y2="1557.50" stroke="#000" stroke-width="2.5"/>
<line x1="1585.60" y1="1549.00" x2="1585.60" y2="1557.50" stroke="#000" stroke-width="2.5"/>
<line x1="1614.04" y1="1549.00" x2="1614.04" y2="1557.50" stroke="#000" stroke-width="2.5"/>
<line x1="1636.11" y1="1549.00" x2="1636.11" y2="1557.50" stroke="#000" stroke-width="2.5"/>
<line x1="1654.14" y1="1549.00" x2="1654.14" y2="1557.50" stroke="#000" stroke-width="2.5"/>
<line x1="1669.38" y1="1549.00" x2="1669.38" y2="1557.50" stroke="#000" stroke-width="2.5"/>
<line x1="1682.59" y1="1549.00" x2="1682.59" y2="1557.50" stroke="#000" stroke-width="2.5"/>
<line x1="1694.24" y1="1549.00" x2="1694.24" y2="1557.50" stroke="#000" stroke-width="2.5"/>
<g transform="translate(56.7 1360.66) rotate(-90)"><text x="0" y="0" font-size="29.1" text-anchor="middle" font-family="'Liberation Sans', Arial, Helvetica, sans-serif">Probability <tspan font-family="'DejaVu Sans', sans-serif">Π</tspan><tspan font-family="'DejaVu Sans', sans-serif" font-style="italic" font-size="20.4" dy="5.5">i</tspan><tspan font-family="'DejaVu Sans', sans-serif" font-size="20.4">,</tspan><tspan font-family="'DejaVu Sans', sans-serif" font-style="italic" font-size="20.4" dx="3">n</tspan></text></g>
<text x="-1.90" y="1181.51" font-size="33" text-anchor="start" font-family="'Liberation Sans', Arial, Helvetica, sans-serif" font-weight="bold">(d)</text>
<text x="201.80" y="1204.35" font-size="29.1" text-anchor="start" font-family="'Liberation Sans', Arial, Helvetica, sans-serif" >analytical</text>
<text transform="translate(155.00 1597.30) scale(1 1.07)" font-size="29.4" text-anchor="middle" font-family="'Liberation Sans', Arial, Helvetica, sans-serif" >0</text>
<text transform="translate(258.98 1611.3) scale(1 1.07)" font-size="29.4" font-family="'Liberation Sans', Arial, Helvetica, sans-serif">10<tspan font-size="20.4" dy="-19.4">0</tspan></text>
<text transform="translate(544.14 1611.3) scale(1 1.07)" font-size="29.4" font-family="'Liberation Sans', Arial, Helvetica, sans-serif">10<tspan font-size="20.4" dy="-19.4">1</tspan></text>
<text transform="translate(771.84 1611.3) scale(1 1.07)" font-size="29.4" font-family="'Liberation Sans', Arial, Helvetica, sans-serif">10<tspan font-size="20.4" dy="-19.4">2</tspan></text>
<text transform="translate(999.54 1611.3) scale(1 1.07)" font-size="29.4" font-family="'Liberation Sans', Arial, Helvetica, sans-serif">10<tspan font-size="20.4" dy="-19.4">3</tspan></text>
<text transform="translate(1227.24 1611.3) scale(1 1.07)" font-size="29.4" font-family="'Liberation Sans', Arial, Helvetica, sans-serif">10<tspan font-size="20.4" dy="-19.4">4</tspan></text>
<text transform="translate(1454.94 1611.3) scale(1 1.07)" font-size="29.4" font-family="'Liberation Sans', Arial, Helvetica, sans-serif">10<tspan font-size="20.4" dy="-19.4">5</tspan></text>
<text transform="translate(1682.64 1611.3) scale(1 1.07)" font-size="29.4" font-family="'Liberation Sans', Arial, Helvetica, sans-serif">10<tspan font-size="20.4" dy="-19.4">6</tspan></text>
<text x="938.4" y="1656.6" font-size="29.1" text-anchor="middle" font-family="'Liberation Sans', Arial, Helvetica, sans-serif">Photon number <tspan font-family="'DejaVu Sans', sans-serif" font-style="italic">i</tspan></text>
<rect x="1182.1" y="25.3" width="525.8" height="94.3" rx="6.5" ry="6.5" fill="#fff" fill-opacity="0.8" stroke="#d3d3d3" stroke-width="4.2"/>
<line x1="1193.00" y1="49.80" x2="1212.00" y2="49.80" stroke="#648FFF" stroke-width="2.0"/>
<text x="1223.00" y="56.70" font-size="30" font-family="'DejaVu Sans', sans-serif"><tspan font-style="italic">n</tspan><tspan x="1246.30">=</tspan><tspan x="1276.60">0</tspan></text>
<line x1="1193.00" y1="91.10" x2="1212.00" y2="91.10" stroke="#785EF0" stroke-width="2.0"/>
<text x="1223.00" y="97.60" font-size="30" font-family="'DejaVu Sans', sans-serif"><tspan font-style="italic">n</tspan><tspan x="1246.30">=</tspan><tspan x="1276.60">1</tspan></text>
<line x1="1325.80" y1="49.80" x2="1344.80" y2="49.80" stroke="#DC267F" stroke-width="2.0"/>
<text x="1355.80" y="56.70" font-size="30" font-family="'DejaVu Sans', sans-serif"><tspan font-style="italic">n</tspan><tspan x="1379.10">=</tspan><tspan x="1409.40">2</tspan></text>
<line x1="1325.80" y1="93.40" x2="1344.80" y2="93.40" stroke="#FE6100" stroke-width="2.0"/>
<text x="1355.80" y="97.60" font-size="30" font-family="'DejaVu Sans', sans-serif"><tspan font-style="italic">n</tspan><tspan x="1379.10">=</tspan><tspan x="1409.40">3</tspan></text>
<line x1="1458.30" y1="49.80" x2="1477.30" y2="49.80" stroke="#FFB000" stroke-width="2.0"/>
<text x="1488.30" y="56.70" font-size="30" font-family="'DejaVu Sans', sans-serif"><tspan font-style="italic">n</tspan><tspan x="1511.60">=</tspan><tspan x="1541.90">4</tspan></text>
<line x1="1458.30" y1="93.40" x2="1477.30" y2="93.40" stroke="#63A00C" stroke-width="2.0"/>
<text x="1488.30" y="97.60" font-size="30" font-family="'DejaVu Sans', sans-serif"><tspan font-style="italic">n</tspan><tspan x="1511.60">=</tspan><tspan x="1541.90">5</tspan></text>
<line x1="1591.10" y1="49.80" x2="1610.10" y2="49.80" stroke="#2F1DAF" stroke-width="2.0"/>
<text x="1621.10" y="56.70" font-size="30" font-family="'DejaVu Sans', sans-serif"><tspan font-style="italic">n</tspan><tspan x="1644.40">=</tspan><tspan x="1674.70">6</tspan></text>
<line x1="1591.10" y1="91.10" x2="1610.10" y2="91.10" stroke="#648FFF" stroke-width="2.0"/>
<text x="1621.10" y="97.60" font-size="29.1" text-anchor="start" font-family="'Liberation Sans', Arial, Helvetica, sans-serif" >etc.</text>
<rect x="898.3" y="1184.6" width="808.60" height="189.70" fill="#fff" stroke="none"/>
<g clip-path="url(#clipi)" fill="none" stroke-width="2.0" stroke-linejoin="round">
<path d="M898.3 1296.1l13 15.5 13.1-10.7 13-5.2 13 0 13 1.6 13.1-.4 26-1.5 13.1 .7 13 0 26.1 7.2 13 1.9 13 1.6 13.1 1.2 13 1.7 26-1.7 13.1 0 26-2.3 13.1 1.6 26-.9 26.1-3.1 13-1.2 13 0 13.1 .7 13 1.5 13-.1 13.1-4.9 13-4.4 13 .8 13.1 4.8 13 2.5 13-.5 13-3.2 13.1 0 13 1.7 13-1.7 13.1-3.2 13-.4 13 10.9 13 12.9 13.1 4.2 13 12.1 13-8.5 13.1-15.1 13-8 13-7.3 26.1-56 13-26.8 13-6.1 13.1-5.4 13 .5 13-.5 13.1-7.5 13-1.7 13-.7 13.1 0" stroke="#648FFF"/>
<path d="M898.3 1277.1l13 41.2 13.1-12.2 13-3.5 13 1.2 13 1.9 13.1 0 13-2.4 13-1.9 13.1-.5 13 5.2 13 11.4 13.1 10.7 13 9.1 13 7.1 13.1 3.6 13 2.8 13-.5 13-4.2 13.1-1.5 13-.9 13 0 13.1 5.5 13 1.1 13-6.6 13-11.4 13.1-7.2 13-4.5 26.1 1.2 13-2.8 26.1-25.3 13 2 13 9.7 13.1 1.2 13-10.2 13-9.3 13-2.9 13.1 .5 13 4.1 13 7.3 13.1 1.5 13 0 26 20 26.1-1.7 13-6.1 13.1-13.4 13-4.4 13 1.7 13.1-9.5 13-21.4 13-34.1 13-20.7 13.1-5.4 26-3.9 13.1-3.6 13-1.7 13-.7 13.1 0" stroke="#FE6100"/>
<path d="M898.3 1280.7l13 46.8 13.1-13.5 13-6.7 13 0 13 2.4 13.1 1.9 13 1.2 13 0 13.1-.5 13 4.5 13 6.7 13.1 9.5 13 7.1 13 6.4 13.1 6.2 13 3.6 13 1.2 13-5.5 26.1-2.4 26.1 2.4 13-.5 13-7.8 13-10.7 13.1-7.9 13-3.3 13 1.7 13.1 6.4 13 3.5 13-7.3 13.1-11 13-2.9 13 5.4 13.1 9.7 13 2 13-8.1 13-4.4 13.1 3.2 13 3.7 13-5.4 13.1-6.1 13 .5 13 9.7 13 11 13.1 6.1 13 26 13-14.3 13.1-27.5 13 8.5 13-2.5 13.1-29.2 13-21.9 13-7.3 26.1-18.3 13-16.3 13-22.6 13.1-17.5 13-2.5 13-1.4 13.1 0" stroke="#63A00C"/>
</g>
<rect x="898.3" y="1184.6" width="808.60" height="189.70" fill="none" stroke="#000" stroke-width="3.1"/>
<line x1="898.30" y1="1374.30" x2="898.30" y2="1388.80" stroke="#000" stroke-width="3.3"/>
<text transform="translate(898.30 1424.50) scale(1 1.07)" font-size="29.4" text-anchor="middle" font-family="'Liberation Sans', Arial, Helvetica, sans-serif" >0</text>
<line x1="911.33" y1="1374.30" x2="911.33" y2="1382.80" stroke="#000" stroke-width="2.5"/>
<line x1="924.36" y1="1374.30" x2="924.36" y2="1382.80" stroke="#000" stroke-width="2.5"/>
<line x1="937.39" y1="1374.30" x2="937.39" y2="1382.80" stroke="#000" stroke-width="2.5"/>
<line x1="950.42" y1="1374.30" x2="950.42" y2="1382.80" stroke="#000" stroke-width="2.5"/>
<line x1="963.45" y1="1374.30" x2="963.45" y2="1382.80" stroke="#000" stroke-width="2.5"/>
<line x1="976.48" y1="1374.30" x2="976.48" y2="1382.80" stroke="#000" stroke-width="2.5"/>
<line x1="989.51" y1="1374.30" x2="989.51" y2="1382.80" stroke="#000" stroke-width="2.5"/>
<line x1="1002.54" y1="1374.30" x2="1002.54" y2="1382.80" stroke="#000" stroke-width="2.5"/>
<line x1="1015.57" y1="1374.30" x2="1015.57" y2="1382.80" stroke="#000" stroke-width="2.5"/>
<line x1="1028.60" y1="1374.30" x2="1028.60" y2="1388.80" stroke="#000" stroke-width="3.3"/>
<text transform="translate(1028.60 1424.50) scale(1 1.07)" font-size="29.4" text-anchor="middle" font-family="'Liberation Sans', Arial, Helvetica, sans-serif" >10</text>
<line x1="1041.63" y1="1374.30" x2="1041.63" y2="1382.80" stroke="#000" stroke-width="2.5"/>
<line x1="1054.66" y1="1374.30" x2="1054.66" y2="1382.80" stroke="#000" stroke-width="2.5"/>
<line x1="1067.69" y1="1374.30" x2="1067.69" y2="1382.80" stroke="#000" stroke-width="2.5"/>
<line x1="1080.72" y1="1374.30" x2="1080.72" y2="1382.80" stroke="#000" stroke-width="2.5"/>
<line x1="1093.75" y1="1374.30" x2="1093.75" y2="1382.80" stroke="#000" stroke-width="2.5"/>
<line x1="1106.78" y1="1374.30" x2="1106.78" y2="1382.80" stroke="#000" stroke-width="2.5"/>
<line x1="1119.81" y1="1374.30" x2="1119.81" y2="1382.80" stroke="#000" stroke-width="2.5"/>
<line x1="1132.84" y1="1374.30" x2="1132.84" y2="1382.80" stroke="#000" stroke-width="2.5"/>
<line x1="1145.87" y1="1374.30" x2="1145.87" y2="1382.80" stroke="#000" stroke-width="2.5"/>
<line x1="1158.90" y1="1374.30" x2="1158.90" y2="1388.80" stroke="#000" stroke-width="3.3"/>
<text transform="translate(1158.90 1424.50) scale(1 1.07)" font-size="29.4" text-anchor="middle" font-family="'Liberation Sans', Arial, Helvetica, sans-serif" >20</text>
<line x1="1171.93" y1="1374.30" x2="1171.93" y2="1382.80" stroke="#000" stroke-width="2.5"/>
<line x1="1184.96" y1="1374.30" x2="1184.96" y2="1382.80" stroke="#000" stroke-width="2.5"/>
<line x1="1197.99" y1="1374.30" x2="1197.99" y2="1382.80" stroke="#000" stroke-width="2.5"/>
<line x1="1211.02" y1="1374.30" x2="1211.02" y2="1382.80" stroke="#000" stroke-width="2.5"/>
<line x1="1224.05" y1="1374.30" x2="1224.05" y2="1382.80" stroke="#000" stroke-width="2.5"/>
<line x1="1237.08" y1="1374.30" x2="1237.08" y2="1382.80" stroke="#000" stroke-width="2.5"/>
<line x1="1250.11" y1="1374.30" x2="1250.11" y2="1382.80" stroke="#000" stroke-width="2.5"/>
<line x1="1263.14" y1="1374.30" x2="1263.14" y2="1382.80" stroke="#000" stroke-width="2.5"/>
<line x1="1276.17" y1="1374.30" x2="1276.17" y2="1382.80" stroke="#000" stroke-width="2.5"/>
<line x1="1289.20" y1="1374.30" x2="1289.20" y2="1388.80" stroke="#000" stroke-width="3.3"/>
<text transform="translate(1289.20 1424.50) scale(1 1.07)" font-size="29.4" text-anchor="middle" font-family="'Liberation Sans', Arial, Helvetica, sans-serif" >30</text>
<line x1="1302.23" y1="1374.30" x2="1302.23" y2="1382.80" stroke="#000" stroke-width="2.5"/>
<line x1="1315.26" y1="1374.30" x2="1315.26" y2="1382.80" stroke="#000" stroke-width="2.5"/>
<line x1="1328.29" y1="1374.30" x2="1328.29" y2="1382.80" stroke="#000" stroke-width="2.5"/>
<line x1="1341.32" y1="1374.30" x2="1341.32" y2="1382.80" stroke="#000" stroke-width="2.5"/>
<line x1="1354.35" y1="1374.30" x2="1354.35" y2="1382.80" stroke="#000" stroke-width="2.5"/>
<line x1="1367.38" y1="1374.30" x2="1367.38" y2="1382.80" stroke="#000" stroke-width="2.5"/>
<line x1="1380.41" y1="1374.30" x2="1380.41" y2="1382.80" stroke="#000" stroke-width="2.5"/>
<line x1="1393.44" y1="1374.30" x2="1393.44" y2="1382.80" stroke="#000" stroke-width="2.5"/>
<line x1="1406.47" y1="1374.30" x2="1406.47" y2="1382.80" stroke="#000" stroke-width="2.5"/>
<line x1="1419.50" y1="1374.30" x2="1419.50" y2="1388.80" stroke="#000" stroke-width="3.3"/>
<text transform="translate(1419.50 1424.50) scale(1 1.07)" font-size="29.4" text-anchor="middle" font-family="'Liberation Sans', Arial, Helvetica, sans-serif" >40</text>
<line x1="1432.53" y1="1374.30" x2="1432.53" y2="1382.80" stroke="#000" stroke-width="2.5"/>
<line x1="1445.56" y1="1374.30" x2="1445.56" y2="1382.80" stroke="#000" stroke-width="2.5"/>
<line x1="1458.59" y1="1374.30" x2="1458.59" y2="1382.80" stroke="#000" stroke-width="2.5"/>
<line x1="1471.62" y1="1374.30" x2="1471.62" y2="1382.80" stroke="#000" stroke-width="2.5"/>
<line x1="1484.65" y1="1374.30" x2="1484.65" y2="1382.80" stroke="#000" stroke-width="2.5"/>
<line x1="1497.68" y1="1374.30" x2="1497.68" y2="1382.80" stroke="#000" stroke-width="2.5"/>
<line x1="1510.71" y1="1374.30" x2="1510.71" y2="1382.80" stroke="#000" stroke-width="2.5"/>
<line x1="1523.74" y1="1374.30" x2="1523.74" y2="1382.80" stroke="#000" stroke-width="2.5"/>
<line x1="1536.77" y1="1374.30" x2="1536.77" y2="1382.80" stroke="#000" stroke-width="2.5"/>
<line x1="1549.80" y1="1374.30" x2="1549.80" y2="1388.80" stroke="#000" stroke-width="3.3"/>
<text transform="translate(1549.80 1424.50) scale(1 1.07)" font-size="29.4" text-anchor="middle" font-family="'Liberation Sans', Arial, Helvetica, sans-serif" >50</text>
<line x1="1562.83" y1="1374.30" x2="1562.83" y2="1382.80" stroke="#000" stroke-width="2.5"/>
<line x1="1575.86" y1="1374.30" x2="1575.86" y2="1382.80" stroke="#000" stroke-width="2.5"/>
<line x1="1588.89" y1="1374.30" x2="1588.89" y2="1382.80" stroke="#000" stroke-width="2.5"/>
<line x1="1601.92" y1="1374.30" x2="1601.92" y2="1382.80" stroke="#000" stroke-width="2.5"/>
<line x1="1614.95" y1="1374.30" x2="1614.95" y2="1382.80" stroke="#000" stroke-width="2.5"/>
<line x1="1627.98" y1="1374.30" x2="1627.98" y2="1382.80" stroke="#000" stroke-width="2.5"/>
<line x1="1641.01" y1="1374.30" x2="1641.01" y2="1382.80" stroke="#000" stroke-width="2.5"/>
<line x1="1654.04" y1="1374.30" x2="1654.04" y2="1382.80" stroke="#000" stroke-width="2.5"/>
<line x1="1667.07" y1="1374.30" x2="1667.07" y2="1382.80" stroke="#000" stroke-width="2.5"/>
<line x1="1680.10" y1="1374.30" x2="1680.10" y2="1388.80" stroke="#000" stroke-width="3.3"/>
<text transform="translate(1680.10 1424.50) scale(1 1.07)" font-size="29.4" text-anchor="middle" font-family="'Liberation Sans', Arial, Helvetica, sans-serif" >60</text>
<line x1="1693.13" y1="1374.30" x2="1693.13" y2="1382.80" stroke="#000" stroke-width="2.5"/>
<line x1="1706.16" y1="1374.30" x2="1706.16" y2="1382.80" stroke="#000" stroke-width="2.5"/>
<line x1="883.80" y1="1193.20" x2="898.30" y2="1193.20" stroke="#000" stroke-width="3.3"/>
<text transform="translate(866.5 1208.70) scale(1 1.07)" font-size="29.4" text-anchor="end" font-family="'Liberation Sans', Arial, Helvetica, sans-serif">10<tspan font-size="20.4" dy="-19.4">0</tspan></text>
<line x1="883.80" y1="1243.93" x2="898.30" y2="1243.93" stroke="#000" stroke-width="3.3"/>
<text transform="translate(866.5 1259.43) scale(1 1.07)" font-size="29.4" text-anchor="end" font-family="'Liberation Sans', Arial, Helvetica, sans-serif">10<tspan font-size="20.4" dy="-19.4">−1</tspan></text>
<line x1="883.80" y1="1294.66" x2="898.30" y2="1294.66" stroke="#000" stroke-width="3.3"/>
<text transform="translate(866.5 1310.16) scale(1 1.07)" font-size="29.4" text-anchor="end" font-family="'Liberation Sans', Arial, Helvetica, sans-serif">10<tspan font-size="20.4" dy="-19.4">−2</tspan></text>
<line x1="883.80" y1="1345.39" x2="898.30" y2="1345.39" stroke="#000" stroke-width="3.3"/>
<text transform="translate(866.5 1360.89) scale(1 1.07)" font-size="29.4" text-anchor="end" font-family="'Liberation Sans', Arial, Helvetica, sans-serif">10<tspan font-size="20.4" dy="-19.4">−3</tspan></text>
<line x1="889.80" y1="1371.92" x2="898.30" y2="1371.92" stroke="#000" stroke-width="1.8"/>
<line x1="889.80" y1="1365.58" x2="898.30" y2="1365.58" stroke="#000" stroke-width="1.8"/>
<line x1="889.80" y1="1360.66" x2="898.30" y2="1360.66" stroke="#000" stroke-width="1.8"/>
<line x1="889.80" y1="1356.64" x2="898.30" y2="1356.64" stroke="#000" stroke-width="1.8"/>
<line x1="889.80" y1="1353.25" x2="898.30" y2="1353.25" stroke="#000" stroke-width="1.8"/>
<line x1="889.80" y1="1350.31" x2="898.30" y2="1350.31" stroke="#000" stroke-width="1.8"/>
<line x1="889.80" y1="1347.71" x2="898.30" y2="1347.71" stroke="#000" stroke-width="1.8"/>
<line x1="889.80" y1="1330.12" x2="898.30" y2="1330.12" stroke="#000" stroke-width="1.8"/>
<line x1="889.80" y1="1321.19" x2="898.30" y2="1321.19" stroke="#000" stroke-width="1.8"/>
<line x1="889.80" y1="1314.85" x2="898.30" y2="1314.85" stroke="#000" stroke-width="1.8"/>
<line x1="889.80" y1="1309.93" x2="898.30" y2="1309.93" stroke="#000" stroke-width="1.8"/>
<line x1="889.80" y1="1305.91" x2="898.30" y2="1305.91" stroke="#000" stroke-width="1.8"/>
<line x1="889.80" y1="1302.52" x2="898.30" y2="1302.52" stroke="#000" stroke-width="1.8"/>
<line x1="889.80" y1="1299.58" x2="898.30" y2="1299.58" stroke="#000" stroke-width="1.8"/>
<line x1="889.80" y1="1296.98" x2="898.30" y2="1296.98" stroke="#000" stroke-width="1.8"/>
<line x1="889.80" y1="1279.39" x2="898.30" y2="1279.39" stroke="#000" stroke-width="1.8"/>
<line x1="889.80" y1="1270.46" x2="898.30" y2="1270.46" stroke="#000" stroke-width="1.8"/>
<line x1="889.80" y1="1264.12" x2="898.30" y2="1264.12" stroke="#000" stroke-width="1.8"/>
<line x1="889.80" y1="1259.20" x2="898.30" y2="1259.20" stroke="#000" stroke-width="1.8"/>
<line x1="889.80" y1="1255.18" x2="898.30" y2="1255.18" stroke="#000" stroke-width="1.8"/>
<line x1="889.80" y1="1251.79" x2="898.30" y2="1251.79" stroke="#000" stroke-width="1.8"/>
<line x1="889.80" y1="1248.85" x2="898.30" y2="1248.85" stroke="#000" stroke-width="1.8"/>
<line x1="889.80" y1="1246.25" x2="898.30" y2="1246.25" stroke="#000" stroke-width="1.8"/>
<line x1="889.80" y1="1228.66" x2="898.30" y2="1228.66" stroke="#000" stroke-width="1.8"/>
<line x1="889.80" y1="1219.73" x2="898.30" y2="1219.73" stroke="#000" stroke-width="1.8"/>
<line x1="889.80" y1="1213.39" x2="898.30" y2="1213.39" stroke="#000" stroke-width="1.8"/>
<line x1="889.80" y1="1208.47" x2="898.30" y2="1208.47" stroke="#000" stroke-width="1.8"/>
<line x1="889.80" y1="1204.45" x2="898.30" y2="1204.45" stroke="#000" stroke-width="1.8"/>
<line x1="889.80" y1="1201.06" x2="898.30" y2="1201.06" stroke="#000" stroke-width="1.8"/>
<line x1="889.80" y1="1198.12" x2="898.30" y2="1198.12" stroke="#000" stroke-width="1.8"/>
<line x1="889.80" y1="1195.52" x2="898.30" y2="1195.52" stroke="#000" stroke-width="1.8"/>
<g transform="translate(783.9 1351.2) rotate(-90)"><text x="-2.4" y="0" font-size="29.1" font-family="'Liberation Sans', Arial, Helvetica, sans-serif">Infidelity <tspan x="112.6" font-family="'DejaVu Sans', sans-serif" font-style="italic">F</tspan><tspan x="129.1" y="5.2" font-family="'Liberation Sans', Arial, Helvetica, sans-serif" font-size="40">′</tspan><tspan x="130.4" y="7.8" font-family="'DejaVu Sans', sans-serif" font-style="italic" font-size="20.4">n</tspan></text></g>
<text x="1301.5" y="1446.6" font-size="29.1" text-anchor="middle" font-family="'Liberation Sans', Arial, Helvetica, sans-serif">Outcome <tspan font-family="'DejaVu Sans', sans-serif" font-style="italic">n</tspan></text>
<rect x="912.4" y="1199.1" width="593.7" height="49.6" rx="6.5" ry="6.5" fill="#fff" fill-opacity="0.8" stroke="#d3d3d3" stroke-width="4.2"/>
<line x1="924.00" y1="1221.50" x2="943.00" y2="1221.50" stroke="#648FFF" stroke-width="2.0"/>
<text x="954.10" y="1232.30" font-size="29.1" text-anchor="start" font-family="'Liberation Sans', Arial, Helvetica, sans-serif" >no smoothing</text>
<line x1="1155.80" y1="1221.50" x2="1174.80" y2="1221.50" stroke="#FE6100" stroke-width="2.0"/>
<text x="1185.80" y="1232.30" font-size="29.1" text-anchor="start" font-family="'Liberation Sans', Arial, Helvetica, sans-serif" >standard</text>
<line x1="1327.00" y1="1221.50" x2="1346.00" y2="1221.50" stroke="#63A00C" stroke-width="2.0"/>
<text x="1356.50" y="1232.30" font-size="29.1" text-anchor="start" font-family="'Liberation Sans', Arial, Helvetica, sans-serif" >long-range</text></svg>
</body></html>
